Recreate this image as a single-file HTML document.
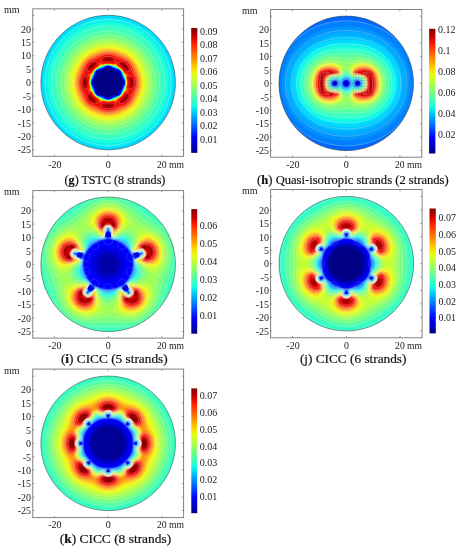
<!DOCTYPE html>
<html><head><meta charset="utf-8"><title>Figure</title>
<style>
html,body{margin:0;padding:0;background:#fff}
svg{display:block}
text{font-family:"Liberation Serif",serif;fill:#1a1a1a}
.t text{font-size:10px}
.cap{font-size:12px;fill:#111;stroke:#111;stroke-width:.18px}
</style></head><body>
<svg width="461" height="550" viewBox="0 0 461 550">
<defs><linearGradient id="jet" x1="0" y1="1" x2="0" y2="0">
<stop offset="0" stop-color="#000080"/>
<stop offset="0.0625" stop-color="#0000c8"/>
<stop offset="0.125" stop-color="#0000ff"/>
<stop offset="0.1875" stop-color="#0040ff"/>
<stop offset="0.25" stop-color="#0080ff"/>
<stop offset="0.3125" stop-color="#00c0ff"/>
<stop offset="0.375" stop-color="#16ffe1"/>
<stop offset="0.4375" stop-color="#49ffad"/>
<stop offset="0.5" stop-color="#7dff7a"/>
<stop offset="0.5625" stop-color="#b1ff46"/>
<stop offset="0.625" stop-color="#e4ff13"/>
<stop offset="0.6875" stop-color="#ffd000"/>
<stop offset="0.75" stop-color="#ff9400"/>
<stop offset="0.8125" stop-color="#ff5900"/>
<stop offset="0.875" stop-color="#ff1e00"/>
<stop offset="0.9375" stop-color="#c40000"/>
<stop offset="1" stop-color="#800000"/>
</linearGradient><filter id="bl" x="-5%" y="-5%" width="110%" height="110%"><feGaussianBlur stdDeviation="0.55"/></filter></defs>
<g id="pg">
<clipPath id="cg"><circle cx="108.17" cy="82.58" r="67.30"/></clipPath>
<g clip-path="url(#cg)">
<g filter="url(#bl)">
<rect x="37.9" y="12.3" width="140.6" height="140.6" fill="#000084"/>
<path fill="#000096" d="M38.7 152.4l139.3 0 0-139.6-139.6 0 0 139.6zM106.1 96l-3-1-2.2-1-1.6-1-1.2-1.1-1.3-2.1-1.4-3-0.8-2.9-0.1-2 0.6-2.6 1-2.6 1.3-2.5 1.4-1.6 2.1-1.4 3.1-1.4 2.8-0.8 2-0.1 2.6 0.6 2.6 1 2.6 1.3 1.6 1.4 1.4 2.1 1.3 3.1 0.9 2.8 0.1 2-0.6 2.6-1 2.6-1.4 2.6-1.4 1.6-1.5 1.1-2 1-3.7 1.3-2.1 0.3z"/>
<path fill="#0000a8" d="M38.7 152.4l139.3 0 0-139.6-139.6 0 0 139.6zM107.8 98.7l0.7 0-0.3 0.2zM106.4 96.7l-3-1-2.3-1-2.3-1.3-1-0.9-1.4-2.2-1.3-2.9-1-3.1-0.3-2.1 0.6-2.5 1-2.7 1.4-2.8 1.3-1.9 1.7-1.1 3.6-1.7 3.1-1 2-0.3 2.6 0.6 2.7 1 2.8 1.4 1.8 1.3 1.2 1.7 1.7 3.6 1 3.1 0.2 2-0.6 2.6-1.3 3.4-1.3 2.6-1.2 1.5-2.8 1.7-4.2 1.6-2.6 0.6zM96.7 94.3l-0.3-0.3 0-0.3 0.5 0.3 0.1 0.3zM119.3 94.3l0.2-0.3 0.4-0.3 0 0.3-0.3 0.4zM92.1 82.9l-0.2-0.3 0.2-0.4zM124.3 82.9l0-0.7 0.2 0.4zM96.4 71.2l0.4-0.4 0.2 0-0.2 0.5-0.4 0.1zM119.5 71.2l-0.2-0.4 0.3 0 0.4 0.4-0.1 0.2zM107.8 66.5l0.4-0.2 0.3 0.2z"/>
<path fill="#0000bb" d="M38.7 152.4l139.3 0 0-139.6-139.6 0 0 139.6zM107.7 99l-0.2-0.3 0.3-0.2 0.7 0 0.4 0.2-0.3 0.3zM107.3 97.3l-5.6-2-2.8-1.3-1.4-1-0.7-1.2-1.7-3.5-1.4-3.7-0.4-2 0.4-2 1.4-3.7 1.7-3.6 0.7-1.1 1.4-1 3.6-1.7 3.7-1.4 2-0.4 2 0.4 3.7 1.4 3.5 1.7 1.2 0.7 1 1.4 1.7 3.6 1.3 3.7 0.5 2-0.5 2-1.3 3.7-1.7 3.5-1 1.4-2.5 1.5-3.9 1.6-3.4 1.1zM96.6 94.3l-0.4-0.6 0.2-0.2 0.9 0.8-0.2 0.3zM119.1 94.3l0.5-0.6 0.3-0.2 0.3 0.2-0.6 0.7-0.3 0.2zM92 83.2l-0.3-0.2 0-0.4 0-0.5 0.4-0.2 0.2 0.7zM124.2 83.2l-0.2-0.6 0.3-0.7 0.3 0.2 0.1 0.5-0.1 0.4zM96.2 71.5l0.4-0.7 0.5-0.2 0.2 0.2-0.2 0.4-0.7 0.5zM119.6 71.5l-0.5-0.7 0.2-0.2 0.4 0.2 0.5 0.7-0.3 0.2zM107.5 66.5l0.2-0.4 0.5 0 0.4 0 0.3 0.4-0.7 0.2z"/>
<path fill="#0000cd" d="M38.7 152.4l139.3 0 0-139.6-139.6 0 0 139.6zM107.4 99l-0.3-0.3 0.5-0.7-0.7-0.3-8.8-3.7-0.4 0-0.3 0.7-0.3 0-0.7-0.5-0.4-0.5 0-0.4 0.8-0.2-0.2-0.8-3.5-8.5-0.4-0.6-0.6 0.4-0.4-0.3-0.1-0.7 0.1-0.8 0.4-0.3 0.6 0.5 0.4-0.7 3.5-8.5 0.2-0.7-0.8-0.3 0-0.3 0.4-0.6 0.7-0.5 0.3 0 0.3 0.8 0.4-0.1 8.8-3.6 0.7-0.4-0.5-0.6 0.3-0.4 0.8-0.1 0.7 0.1 0.3 0.4-0.4 0.6 0.6 0.4 8.5 3.5 0.8 0.2 0.2-0.8 0.4 0 0.5 0.4 0.5 0.7 0 0.3-0.7 0.3 0 0.4 3.7 8.8 0.3 0.7 0.7-0.5 0.3 0.3 0.1 0.8-0.1 0.7-0.3 0.3-0.7-0.4-0.3 0.6-3.7 8.8 0 0.5 0.7 0.2 0 0.4-0.5 0.6-0.5 0.4-0.4 0-0.2-0.7-0.8 0.2-8.5 3.5-0.6 0.3 0.4 0.7-0.3 0.3z"/>
<path fill="#0000df" d="M38.7 152.4l139.3 0 0-139.6-139.6 0 0 139.6zM107.2 99l-0.3-0.3-0.2-0.7-0.9-0.5-6.7-2.8-1-0.2-0.7 0.5-1-0.7-0.6-1 0.4-0.7-0.3-1.3-2.8-6.7-0.4-0.6-0.6-0.1-0.4-0.3-0.1-1 0.1-1 0.4-0.3 0.6-0.2 0.4-0.6 2.8-6.7 0.3-1.3-0.4-0.7 0.6-1 1-0.6 0.7 0.4 1.3-0.3 6.7-2.8 0.6-0.4 0.2-0.6 0.3-0.4 1-0.1 1 0.1 0.3 0.4 0.1 0.6 0.6 0.4 6.7 2.8 1.3 0.3 0.7-0.4 1 0.6 0.7 1-0.5 0.7 0.4 1.3 2.8 6.7 0.3 0.6 0.7 0.2 0.3 0.3 0.2 1-0.2 1-0.3 0.3-0.7 0.1-0.3 0.6-2.8 6.7-0.4 1.3 0.5 0.7-0.7 1-1 0.7-0.7-0.5-1 0.2-6.7 2.8-0.9 0.5-0.1 0.7-0.3 0.3-1 0.2z"/>
<path fill="#0000ed" d="M38.7 152.4l139.3 0 0-139.6-139.6 0 0 139.6zM106.9 99l-0.7-1-1-0.5-6.1-2.5-0.7-0.1-1 0.2-1.1-0.8-0.6-1 0.1-1.3-0.6-1.7-2.3-5.4-1.2-1.1-0.2-1.2 0.2-1.3 1.2-1.1 2.3-5.3 0.6-1.7-0.1-1.4 0.6-1 1.1-0.7 1 0.2 0.7-0.2 5.4-2.1 1.7-0.9 0.7-1 1.3-0.2 1.2 0.2 0.8 1 1.7 0.9 5.3 2.1 0.7 0.2 1-0.2 1.1 0.7 0.7 1-0.2 1.4 0.6 1.7 2.3 5.3 1.2 1.1 0.2 1.3-0.2 1.2-1 0.8-0.8 1.7-2.2 5.3-0.1 0.7 0.2 1-0.8 1.1-1 0.7-1-0.2-1 0.2-5.7 2.4-1 0.5-0.8 1-1.2 0.2z"/>
<path fill="#0000ff" d="M38.7 152.4l139.3 0 0-139.6-139.6 0 0 139.6zM106.7 99l-0.9-0.9-1-0.6-5.4-2.2-2-0.1-1.1-0.9-0.7-1-0.2-2-2.2-5.4-0.5-1-1-0.8-0.2-1.9 0.2-1.1 1-1 0.7-1.2 2-5.1 0.2-2 0.8-1.1 1-0.7 2-0.2 5.4-2.2 1-0.5 0.9-1 1.8-0.2 1.2 0.2 0.9 1 1.3 0.7 5 2 2 0.2 1.2 0.8 0.7 1 0.1 2 2.2 5.4 0.6 1 0.9 0.9 0.3 1.8-0.3 1.2-0.9 0.8-0.4 0.7-2.1 5-0.4 1.4 0 1.3-1.1 1.4-1.1 0.6-1-0.1-1 0.3-5.1 2-1 0.6-1 1-1.3 0.2z"/>
<path fill="#0000ff" d="M38.7 152.4l139.3 0 0-139.6-139.6 0 0 139.6zM108.1 99.4l-1.6-0.4-1.7-1.3-4.7-1.9-1-0.3-1.7-0.2-1.2-1-0.7-1-0.3-2-2-5-0.6-1-0.9-1-0.3-1.7 0.3-1.7 0.9-1 0.6-1 2-5.1 0.3-2 0.7-1 1.2-0.9 1.7-0.2 1-0.3 4.7-2 1.7-1.3 1.7-0.3 1.7 0.3 1 0.9 1 0.6 5 2 2 0.3 1 0.7 1 1.2 0.2 1.7 0.3 1 1.9 4.7 1.3 1.7 0.4 1.7-0.4 1.7-1.3 1.6-1.9 4.7-0.3 1-0.2 1.7-1 1.3-1 0.7-2 0.2-5 2.1-1 0.5-1 0.9z"/>
<path fill="#0010ff" d="M38.7 152.4l139.3 0 0-139.6-139.6 0 0 139.6zM107.4 99.4l-1.1-0.4-1.8-1.3-3.7-1.5-1.4-0.5-2-0.3-1.3-1.1-0.8-1.3-0.4-2-1.7-4.4-0.5-1-1-1.1-0.3-1.1 0-1.2 0.3-1.5 1.1-1.5 1.9-4.3 0.7-3.1 1-1.3 1.4-0.8 2-0.4 4.3-1.7 1.1-0.5 1.1-1 1.1-0.3 1.1 0 1.6 0.3 1.4 1.1 4.4 1.9 3 0.7 1.3 1 0.9 1.4 0.3 2 1.8 4.3 0.5 1.1 0.9 1.1 0.4 1.1 0 1.1-0.4 1.6-1.1 1.4-1.8 4.4-0.7 3-1.1 1.3-1.3 0.9-2 0.3-4.4 1.8-2.3 1.5-1.1 0.3z"/>
<path fill="#0024ff" d="M38.7 152.4l139.3 0 0-139.6-139.6 0 0 139.6zM107 99.4l-0.9-0.4-1.6-1.1-4-1.7-2.7-0.6-1.8-1.3-0.8-1.3-0.5-2.4-1.5-3.7-1.5-2.3-0.3-1-0.1-1.4 0.4-1.6 1.2-1.7 1.7-4 0.6-2.7 1.2-1.7 1.4-0.9 2.3-0.5 3.7-1.5 2.4-1.5 1-0.3 1.3-0.1 1.7 0.4 1.7 1.2 4 1.7 2.7 0.6 1.7 1.2 0.9 1.4 0.5 2.3 1.5 3.7 1.5 2.4 0.3 1 0 1.3-0.3 1.7-1.2 1.7-1.7 4-0.6 2.7-1.3 1.7-1.3 0.9-2.4 0.5-3.7 1.5-2.6 1.6-1.4 0.2z"/>
<path fill="#0038ff" d="M38.7 152.4l139.3 0 0-139.6-139.6 0 0 139.6zM106.6 99.4l-0.8-0.4-1.7-1.1-3.3-1.4-3-0.8-1.9-1.4-0.9-1.3-0.5-2.4-1.5-3.7-1.4-2.3-0.3-1-0.1-1.4 0.4-1.6 1.2-2.1 1.6-3.6 0.6-2.7 1.3-1.7 1.5-1.1 3-0.8 3.3-1.4 2.1-1.2 1-0.3 1.3-0.1 1.7 0.4 2 1.2 3.7 1.6 2.7 0.6 1.7 1.3 1 1.5 0.8 3 1.4 3.3 1.3 2.1 0.3 1 0 1.3-0.3 1.7-1.3 2-1.5 3.7-0.7 2.7-1.4 1.8-1.3 0.9-2.4 0.6-3.7 1.5-2.6 1.5-1.7 0.2z"/>
<path fill="#0050ff" d="M38.7 152.4l139.3 0 0-139.6-139.6 0 0 139.6zM106.3 99.4l-2.8-1.6-3.4-1.4-2.3-0.6-1-0.6-1-1-1-1.6-0.5-2-1.4-3.3-1.5-2.7-0.2-1.4 0-1.3 0.2-1.3 1.4-2.4 1.4-3.3 0.7-2.7 1.5-2 1.4-0.9 2.3-0.6 3.4-1.4 2.7-1.5 1.3-0.2 1.3 0 1.4 0.2 2.3 1.4 3.4 1.4 2.7 0.7 1.9 1.5 0.9 1.4 0.6 2.3 1.4 3.4 1.5 2.7 0.3 1.3 0 1.3-0.3 1.4-1.3 2.3-1.4 3.4-0.8 2.7-0.6 1-1 1-1.6 1-2 0.4-3.3 1.4-2.8 1.6-1.9 0.2z"/>
<path fill="#0068ff" d="M38.7 152.4l139.3 0 0-139.6-139.6 0 0 139.6zM106 99.4l-2.9-1.6-3-1.2-2.3-0.6-2.1-1.7-0.9-1.3-0.7-2.4-1.2-3-1.5-2.8-0.3-1.6 0-1.3 0.3-1.5 1.5-2.9 1.2-3 0.7-2.3 1.6-2 1.4-1 2.3-0.7 3-1.2 2.9-1.5 1.5-0.3 1.3 0 1.6 0.3 2.8 1.5 3 1.2 2.4 0.7 2 1.6 1 1.4 0.6 2.3 1.2 3 1.6 2.9 0.3 1.5 0 1.3-0.3 1.6-1.6 2.8-1.2 3-0.6 2.4-1 1.3-1 1-1.4 0.8-2 0.5-3.3 1.4-2.7 1.4-2 0.3z"/>
<path fill="#0080ff" d="M44.4 152.3l127.5 0.1 6-6.1 0.1-127.4-6.1-6.1-127.4 0-6.1 6 0 127.5zM107.1 99.7l-1.4-0.3-2.2-1.3-3-1.2-2.7-0.8-2-1.7-1.1-1.4-0.8-2.7-1.3-3-1.2-2.2-0.3-1.2-0.1-1.7 0.4-2.1 1.2-2.2 1.3-3 0.6-2.4 0.6-1 1-1.1 1.7-1.3 2.7-0.8 3-1.3 2.2-1.2 1.1-0.3 1.7-0.1 2.2 0.4 2.2 1.2 3 1.3 2.3 0.6 1.1 0.6 1.1 1 1.3 1.7 0.8 2.7 1.2 3 1.3 2.2 0.3 1.1 0.1 1.7-0.4 2.2-1.3 2.2-1.2 3-0.7 2.3-0.6 1.1-1.2 1.3-1.4 1.1-2.7 0.8-3 1.2-2.2 1.3-1.9 0.3z"/>
<path fill="#0094ff" d="M56.8 152.1l0.4 0.3 101.9 0 5.2-4 5-4.7 4.4-4.7 4-5.1 0.3-0.4 0-101.9-4-5.1-4.7-5-4.7-4.4-5.1-4.1-0.4-0.2-101.9 0-5.1 4-5 4.6-4.4 4.8-4.1 5-0.2 0.4 0 101.9 4 5.2 4.6 5 4.8 4.4zM106.6 99.7l-1.2-0.3-1.9-1.1-3-1.3-2.7-0.8-1-0.7-1.3-1.2-1.1-1.7-0.5-2-1.3-3-1.2-2.3-0.4-1.4-0.1-2 0.5-2 1.2-2.4 1.3-3 0.5-2 0.6-1 1.2-1.3 1.9-1.4 2-0.5 3-1.3 2.4-1.2 1.3-0.4 2-0.1 2.1 0.5 2.3 1.2 3 1.3 2 0.5 1.1 0.6 1.3 1.2 1.3 1.9 0.6 2 1.2 3 1.3 2.4 0.3 1.3 0.1 2-0.4 2.1-1.3 2.3-1.2 3-0.6 2-0.8 1.4-1.2 1.2-1.7 1.1-2.3 0.7-3 1.3-2.4 1.2-2 0.3z"/>
<path fill="#00acff" d="M69.2 152.1l0.6 0.3 76.7 0 4.6-2.8 4.7-3.2 4.4-3.5 4-3.7 3.7-3.9 3.6-4.4 3.3-4.7 2.9-4.7 0.3-0.6 0-76.7-2.8-4.6-3.2-4.7-3.5-4.3-3.7-4.1-3.9-3.7-4.4-3.5-4.7-3.4-4.7-2.8-0.6-0.3-76.7 0-4.6 2.7-4.7 3.3-4.3 3.5-4.1 3.7-3.7 3.9-3.5 4.3-3.4 4.7-2.8 4.7-0.3 0.6 0 76.7 2.7 4.6 3.3 4.7 3.5 4.4 3.7 4 3.9 3.7 4.3 3.6 4.7 3.3zM106.1 99.7l-5.6-2.6-2.7-0.8-1.3-1-1.1-1-1.1-1.7-0.7-2.3-1.3-3-1-2-0.4-1.4 0-2 0.4-2 1-2 1.3-3 0.7-2.4 0.6-1 1.2-1.4 2-1.4 2.4-0.7 3-1.3 2-1 1.3-0.4 2 0 2.1 0.4 2 1 3 1.3 2.3 0.7 1.1 0.6 1.3 1.2 1.4 2 0.7 2.4 1.3 3 1.1 2 0.3 1.3 0.1 2-0.4 2.1-1.1 2-1.3 3-0.7 2.3-0.8 1.4-1.3 1.3-1.7 1.1-2.3 0.7-5.4 2.5-2 0.3z"/>
<path fill="#00c4ff" d="M83.3 152.1l0.8 0.3 48.2 0 7.4-3.1 6.4-3.4 6-4 5.7-4.6 5.1-5.1 4.6-5.7 4-6 3.4-6.4 2.8-6.7 0.3-0.7 0-48.2-3.1-7.5-3.4-6.4-4-6-4.6-5.6-5.1-5.1-5.7-4.7-6-4-6.4-3.4-6.7-2.8-0.7-0.2-48.2 0-7.5 3-6.4 3.4-6 4-5.6 4.7-5.1 5.1-4.7 5.6-4 6-3.4 6.4-2.8 6.7-0.2 0.8 0 48.2 3 7.4 3.4 6.4 4 6 4.7 5.7 5.1 5.1 5.6 4.6 6 4 6.4 3.4zM105.8 99.7l-5.3-2.4-2.7-0.9-1.4-1-1.3-1.4-0.9-1.4-0.7-2.3-1.3-3-1-2-0.4-1.7 0-2 0.4-1.7 1-2 1.3-3 0.7-2.4 0.9-1.3 1.3-1.5 1.7-1.1 2.4-0.7 3-1.3 2-1 1.7-0.4 2 0 1.7 0.4 2 1 3 1.3 2.3 0.7 1.4 0.9 1.4 1.3 1.1 1.7 0.8 2.4 1.2 3 1.1 2 0.3 1.7 0 2-0.3 1.7-1.1 2-1.2 3-0.8 2.3-1.1 1.7-1.4 1.4-1.4 0.8-2.3 0.8-5.4 2.4-2.3 0.3z"/>
<path fill="#00dcfe" d="M106.2 151.4l6.7-0.2 6.7-0.7 6.7-1.5 6.4-2.1 6-2.6 6.1-3.4 5.6-4 5.1-4.3 4.5-4.7 4.2-5.4 3.7-5.7 3.1-6 2.5-6.4 1.8-6.4 1.2-6.7 0.5-6.7-0.2-6.7-0.7-6.7-1.5-6.7-2.1-6.4-2.6-6.1-3.4-6-4-5.6-4.3-5.1-4.7-4.5-5.4-4.3-5.7-3.6-6-3.1-6.4-2.5-6.4-1.8-6.7-1.2-6.7-0.5-6.7 0.1-6.7 0.8-6.7 1.5-6.4 2.1-6.1 2.6-6 3.4-5.6 3.9-5.1 4.4-4.5 4.7-4.3 5.3-3.6 5.7-3.1 6.1-2.5 6.4-1.8 6.3-1.2 6.7-0.5 6.8 0.1 6.7 0.8 6.7 1.5 6.7 2.1 6.4 2.6 6 3.4 6.1 3.9 5.6 4.4 5.1 4.7 4.5 5.3 4.2 5.7 3.7 6.1 3.1 6.4 2.5 6.3 1.8 6.7 1.2zM107.4 100l-1.9-0.3-5.2-2.4-2.2-0.7-1.3-0.8-1.3-1.1-1.4-2.1-1.9-5-1-2-0.4-1.7-0.1-1.7 0.4-2.3 2.3-5.2 0.7-2.2 0.9-1.3 1.1-1.3 2-1.4 5-1.9 2.1-1 1.6-0.4 1.7-0.1 2.4 0.4 5.1 2.3 2.2 0.7 1.4 0.9 1.2 1.1 1.4 2 1.9 5 1.1 2.1 0.4 1.6 0 1.7-0.3 2.4-2.4 5.1-0.7 2.2-0.8 1.4-1.1 1.2-2.1 1.4-2.2 0.7-5.1 2.4-1.7 0.3z"/>
<path fill="#09f0ee" d="M106.8 147l6.4-0.2 6.4-0.8 6-1.4 6.1-2 5.7-2.6 5.7-3.2 5-3.6 4.7-4.1 4.3-4.6 3.9-5 3.4-5.4 2.8-5.7 2.3-6 1.6-6.1 1.1-6 0.4-6.4-0.2-6.4-0.8-6.3-1.4-6.1-2-6-2.6-5.7-3.2-5.7-3.6-5.1-4.1-4.7-4.6-4.3-5-3.9-5.4-3.3-5.7-2.9-6-2.3-6.1-1.6-6-1-6.4-0.5-6.4 0.2-6.3 0.8-6.1 1.4-6 2.1-5.7 2.5-5.7 3.3-5.1 3.6-4.7 4.1-4.3 4.5-3.9 5.1-3.3 5.3-2.9 5.7-2.3 6.1-1.6 6-1 6.1-0.5 6.3 0.2 6.4 0.8 6.4 1.4 6 2.1 6.1 2.5 5.7 3.3 5.7 3.6 5 4.1 4.7 4.5 4.3 5.1 3.9 5.3 3.4 5.7 2.8 6.1 2.3 6 1.6 6.1 1.1zM106.6 100l-1.4-0.3-5.1-2.3-2-0.7-1.3-0.8-1.7-1.6-1.1-1.7-0.6-2-2.3-5.1-0.4-1.6-0.1-2 0.5-2.3 2.3-5.1 0.6-2 0.9-1.3 1.2-1.4 2-1.4 2-0.6 5.1-2.3 1.6-0.4 2-0.1 2.3 0.5 5.1 2.3 2 0.6 1.4 0.9 1.3 1.2 1.4 2 0.7 2 2.3 5.1 0.4 1.6 0 2-0.4 2.3-2.3 5.1-0.7 2-0.8 1.4-1.6 1.6-1.7 1.1-2 0.7-5.3 2.4-2.1 0.3z"/>
<path fill="#1cffdb" d="M103.5 143l6 0.2 5.7-0.4 6.1-1.1 5.7-1.5 5.3-2.1 5.4-2.6 5-3.1 5-3.8 4.2-4.1 3.9-4.5 3.5-4.9 2.9-5 2.4-5.4 1.9-5.7 1.3-5.7 0.8-6 0.2-6.1-0.4-5.7-1.1-6-1.5-5.7-2.1-5.4-2.6-5.4-3.1-5-3.8-4.9-4.1-4.3-4.5-3.9-4.9-3.4-5-2.9-5.4-2.4-5.7-2-5.7-1.3-6-0.7-6.1-0.2-5.7 0.4-6 1-5.7 1.6-5.4 2-5.4 2.7-5 3.1-4.9 3.8-4.3 4-3.9 4.5-3.4 4.9-2.9 5.1-2.4 5.3-2 5.7-1.3 5.7-0.7 6.1-0.2 6 0.4 5.7 1 6.1 1.6 5.7 2 5.3 2.7 5.4 3.1 5 3.8 5 4 4.2 4.5 3.9 4.9 3.5 5.1 2.9 5.3 2.4 5.7 1.9 5.7 1.3zM106.1 100l-4.6-1.8-1.4-0.7-2-0.7-1.3-0.8-1.8-1.7-1.1-1.7-0.6-2-2.3-5-0.4-1.7 0-2.3 0.4-2 2.3-5.1 0.6-2 0.9-1.3 1.3-1.5 2-1.4 2-0.6 5.1-2.3 1.6-0.4 2.4 0 2 0.4 5 2.3 2 0.6 1.4 0.9 1.4 1.3 1.4 2 0.7 2 2.3 5.1 0.3 1.6 0.1 2.4-0.4 2-2.3 5-0.7 2-0.8 1.4-1.7 1.7-1.7 1.1-2 0.7-5.3 2.4-2.4 0.3z"/>
<path fill="#30ffc7" d="M104.5 139.6l5.7 0.1 5.4-0.4 5.7-1.1 5.3-1.5 5.1-2 5-2.6 4.7-3 4.5-3.6 4.2-4 3.6-4.4 3.2-4.7 2.6-4.7 2.2-5 1.7-5.4 1.2-5.3 0.6-5.7 0.1-5.7-0.4-5.4-1.1-5.7-1.5-5.4-2-5-2.6-5.1-3-4.7-3.6-4.5-4-4.1-4.4-3.7-4.7-3.2-4.7-2.6-5-2.1-5.4-1.8-5.3-1.1-5.7-0.7-5.7-0.1-5.4 0.5-5.7 1-5.4 1.6-5 1.9-5.1 2.6-4.7 3-4.5 3.6-4.1 4-3.7 4.4-3.2 4.7-2.6 4.7-2.1 5-1.8 5.4-1.1 5.4-0.7 5.7-0.1 5.7 0.5 5.4 1 5.7 1.6 5.3 1.9 5.1 2.6 5 3 4.7 3.6 4.5 4 4.2 4.4 3.6 4.7 3.2 4.7 2.6 5 2.2 5.4 1.7 5.4 1.2zM105.8 100l-8-3.2-1.7-1.3-1.4-1.5-0.9-1.4-0.7-2-0.7-1.3-0.6-2-0.9-1.7-0.4-2 0-2.4 0.4-1.6 0.9-1.7 0.6-2 0.7-1.4 0.7-2 1.1-1.7 1.5-1.5 1.7-1.1 2-0.7 1.4-0.7 2-0.6 1.7-0.9 2-0.4 2.3 0 1.7 0.4 1.7 0.9 2 0.6 1.3 0.7 2 0.7 1.7 1.1 1.5 1.5 1.1 1.7 0.7 2 0.8 1.4 0.6 2 0.9 1.7 0.3 2 0 2.3-0.3 1.7-0.9 1.7-0.6 2-0.8 1.3-0.7 2-1.1 1.7-1.8 1.8-1.4 0.8-2 0.7-1.3 0.8-1.7 0.5-2.3 1.1-2.4 0.3z"/>
<path fill="#40ffb7" d="M105.2 136.6l5 0.1 5.4-0.5 5.3-1 5.1-1.5 5-2.1 4.7-2.4 4.4-2.9 4.2-3.5 3.8-3.6 3.3-4.1 3-4.3 2.5-4.7 2.2-5.1 1.5-5 1.1-5 0.5-5.4 0.1-5-0.5-5.4-1-5.4-1.5-5-2.1-5-2.4-4.7-2.9-4.4-3.5-4.3-3.6-3.7-4.1-3.4-4.3-2.9-4.7-2.6-5.1-2.1-5-1.6-5-1-5.4-0.6-5 0-5.4 0.4-5.4 1.1-5 1.5-5 2-4.7 2.5-4.4 2.8-4.3 3.5-3.7 3.7-3.4 4-2.9 4.4-2.6 4.7-2.1 5-1.6 5.1-1 5-0.6 5.4 0 5 0.4 5.4 1.1 5.3 1.5 5.1 2 5 2.5 4.7 2.8 4.4 3.5 4.2 3.7 3.8 4 3.3 4.4 3 4.7 2.5 5 2.2 5.1 1.5 5 1.1zM105.4 100l-2.3-1-1.6-0.5-1.5-0.8-2.2-0.8-1.7-1.3-1.5-1.6-0.9-1.4-0.6-1.9-0.9-1.4-0.4-1.7-1-2-0.4-2 0.1-2.7 0.4-1.7 0.7-1.3 0.5-1.7 1-1.8 0.6-1.9 1.1-1.7 1.6-1.6 1.7-1.1 1.9-0.6 1.5-0.9 1.6-0.4 2.1-1 2-0.4 2.7 0.1 1.6 0.4 1.4 0.7 1.7 0.5 1.7 1 1.9 0.6 1.7 1.1 1.6 1.6 1.1 1.7 0.7 1.9 0.8 1.5 0.5 1.6 0.9 2.1 0.4 2-0.1 2.7-0.3 1.3-0.9 2-0.3 1.4-1 1.7-0.8 2.3-1.3 1.7-1.6 1.5-1.4 0.8-1.9 0.7-1.4 0.8-1.7 0.5-2.3 1-2.7 0.3z"/>
<path fill="#53ffa4" d="M106.2 133.9l5 0 5-0.6 5.1-1 4.7-1.5 4.7-2 4.3-2.4 4.2-2.9 3.9-3.2 3.4-3.5 3.2-4 2.9-4.4 2.2-4.3 1.9-4.7 1.4-4.7 1-5.1 0.4-5 0-5-0.6-5.1-1-5-1.5-4.7-2-4.7-2.4-4.4-2.9-4.2-3.2-3.8-3.5-3.5-4-3.2-4.4-2.8-4.3-2.3-4.7-1.9-4.7-1.4-5.1-0.9-5-0.5-5 0.1-5.1 0.5-5 1.1-4.7 1.5-4.7 2-4.4 2.4-4.2 2.8-3.8 3.3-3.5 3.4-3.2 4.1-2.8 4.3-2.3 4.4-1.9 4.7-1.4 4.7-0.9 5-0.5 5.1 0.1 5 0.5 5 1.1 5.1 1.5 4.7 2 4.7 2.4 4.3 2.8 4.2 3.3 3.9 3.4 3.4 4.1 3.2 4.3 2.9 4.4 2.2 4.7 1.9 4.7 1.4 5 1zM106.9 100.4l-1.7-0.4-2.1-0.9-1.6-0.4-1.7-1-1.7-0.6-1.3-0.8-1.8-1.6-1.2-1.7-0.7-2-1-1.7-0.4-1.7-1.1-2.3-0.3-3.4 0.4-2.3 1-2.1 0.4-1.6 1-1.7 0.9-2.4 2-2.3 1.8-1.3 2-0.7 1.7-1 1.6-0.4 2.4-1.1 3.3-0.3 2.4 0.4 2 1 1.7 0.4 1.7 1 2.3 0.9 2.4 2 1.3 1.8 0.7 2 1 1.7 0.4 1.6 1 2.4 0.3 3.3-0.4 2.4-0.9 2-0.4 1.7-1 1.7-0.9 2.3-2.1 2.4-2.1 1.4-1.6 0.6-1.7 1-1.7 0.4-2 0.9-2 0.4z"/>
<path fill="#66ff90" d="M103.5 131.3l5 0.2 4.7-0.3 4.7-0.7 4.7-1.2 4.7-1.7 4.4-2.1 4-2.5 3.8-2.8 3.6-3.4 3-3.3 2.9-4.1 2.4-4 2-4.4 1.7-4.7 1.1-4.7 0.7-4.7 0.2-5-0.3-4.7-0.8-4.7-1.2-4.7-1.6-4.4-2.1-4.3-2.5-4-3-4.1-3.2-3.4-3.7-3.2-4-2.9-4-2.3-4.4-2-4.4-1.5-4.7-1.2-4.7-0.6-5-0.2-4.7 0.3-4.7 0.7-4.7 1.3-4.4 1.6-4.3 2.1-4 2.5-4.1 3-3.4 3.1-3.2 3.7-2.9 4.1-2.3 4-2 4.4-1.5 4.3-1.2 4.7-0.6 4.7-0.2 4.7 0.2 4.7 0.8 4.7 1.2 4.7 1.7 4.7 2.1 4.4 2.5 4 2.8 3.8 3.3 3.6 3.4 3 4 2.9 4.1 2.4 4.3 2 4.4 1.6 4.7 1.2zM106.2 100.4l-1.4-0.4-1.7-0.8-1.6-0.3-1.7-1.1-2-0.7-1.7-1.3-1.5-1.5-0.9-1.3-0.8-2-1-1.7-0.4-1.7-0.9-2-0.3-2 0-2.4 0.3-1.6 0.9-2.1 0.4-1.6 1-1.7 0.6-1.7 1.1-1.7 1.8-1.8 1.4-0.9 2-0.8 1.7-1 1.6-0.4 2.1-0.9 2-0.3 2.3 0 1.7 0.3 2 0.9 1.7 0.4 1.7 1 1.6 0.6 1.7 1.1 1.8 1.8 1 1.4 0.7 2 1.1 1.7 0.3 1.6 0.9 2.1 0.4 2-0.1 2.3-0.3 1.7-0.9 2-0.3 1.7-1.1 1.7-0.6 1.6-1.1 1.7-1.8 1.8-1.3 1-2 0.7-1.7 1.1-1.7 0.3-2 0.9-2.4 0.4z"/>
<path fill="#7aff7d" d="M107.2 129.2l4.7-0.1 4.3-0.6 4.4-1 4.4-1.4 4-1.8 4-2.2 4-2.9 3.4-2.9 3.1-3.2 2.8-3.7 2.5-4 2.1-4 1.6-4.4 1.2-4.4 0.8-4.7 0.3-4.3-0.1-4.7-0.6-4.4-1-4.3-1.4-4.4-1.8-4-2.2-4.1-2.9-4-2.9-3.3-3.2-3.1-3.7-2.9-4-2.5-4-2-4.4-1.7-4.4-1.2-4.7-0.8-4.3-0.3-4.7 0.2-4.4 0.5-4.3 1-4.4 1.5-4 1.7-4.1 2.3-4 2.8-3.3 2.9-3.1 3.2-2.9 3.7-2.5 4.1-2 4-1.7 4.3-1.2 4.4-0.8 4.7-0.3 4.4 0.2 4.7 0.5 4.3 1 4.4 1.5 4.4 1.7 4 2.3 4 2.8 4 2.9 3.4 3.2 3.1 3.7 2.8 4.1 2.5 4 2.1 4.3 1.6 4.4 1.2 4.7 0.8zM105.7 100.4l-2.6-1.1-1.6-0.3-1.7-1.1-2-0.7-1.7-1.3-1.8-1.9-0.9-1.4-0.6-1.6-1.1-1.7-0.3-1.7-0.9-2-0.3-2.4 0.1-2.3 0.3-1.7 0.8-1.7 0.3-1.6 1.1-1.7 0.6-1.7 1.1-1.7 1.9-1.9 1.4-0.9 2-0.8 1.3-0.9 2-0.5 2.1-0.9 2.3-0.3 2.4 0.1 1.6 0.3 1.7 0.8 1.7 0.3 1.7 1.1 1.6 0.6 1.7 1.1 1.9 1.9 1 1.4 0.7 2 1 1.3 0.4 2 0.9 2.1 0.4 2.3-0.1 2.4-0.4 1.6-0.8 1.7-0.3 1.7-1.1 1.7-0.7 2-1.3 1.7-1.9 1.8-1.4 0.8-1.6 0.6-1.7 1.1-1.7 0.3-2 0.9-2.7 0.4z"/>
<path fill="#8aff6d" d="M103.1 126.9l4.4 0.3 4.4-0.2 4.3-0.6 4.4-1 4.4-1.5 4-1.9 3.7-2.2 3.7-2.6 3.3-3.1 2.8-3 2.5-3.4 2.2-3.6 2-4.1 1.5-4 1.1-4.4 0.7-4.3 0.3-4.4-0.2-4.4-0.6-4.3-1-4-1.5-4.4-1.9-4-2.2-3.7-2.6-3.7-3.1-3.4-3-2.7-3.4-2.5-3.6-2.3-4.1-1.9-4-1.5-4.4-1.2-4.3-0.7-4.4-0.2-4.4 0.1-4.3 0.7-4 1-4.4 1.5-4 1.9-3.7 2.1-3.7 2.7-3.4 3-2.7 3-2.5 3.4-2.3 3.7-1.9 4-1.5 4.1-1.2 4.3-0.7 4.4-0.2 4.3 0.1 4.4 0.7 4.4 1 4 1.5 4.4 1.9 4 2.1 3.7 2.7 3.7 3 3.3 3 2.8 3.4 2.5 3.7 2.2 4 2 4.1 1.5 4 1.1zM105.4 100.4l-2.3-0.9-1.6-0.3-1.8-1.2-1.9-0.7-1.7-1.3-1.9-2-0.9-1.4-0.6-1.6-1-1.4-0.4-2-0.9-2-0.3-2.4 0.1-2.6 0.3-1.4 0.8-1.7 0.3-1.6 1.1-1.8 0.8-1.9 1.3-1.7 2-1.9 1.3-0.9 1.7-0.6 1.3-1 2-0.4 2.1-0.9 2.3-0.3 2.7 0.1 1.3 0.3 1.7 0.8 1.7 0.3 1.8 1.1 1.9 0.8 1.7 1.3 1.9 2 0.8 1.3 0.7 1.7 0.9 1.3 0.5 2 0.8 2.1 0.3 2.3-0.1 2.7-0.3 1.3-0.7 1.7-0.3 1.7-1.2 1.8-0.7 1.9-1.3 1.7-2 1.9-1.4 0.8-1.6 0.7-1.4 0.9-2 0.5-2 0.8-3 0.4z"/>
<path fill="#9dff5a" d="M105.2 125.2l4 0.1 4.3-0.3 4.1-0.8 4-1.1 4-1.6 3.7-1.8 3.7-2.4 3.4-2.6 3-2.9 2.6-3 2.3-3.4 2-3.7 1.8-4 1.3-4 0.9-4.1 0.5-4.3 0.1-4.1-0.4-4.3-0.7-4.1-1.2-4-1.6-4-2.1-4-2.2-3.4-2.6-3.3-3.1-3.1-3-2.5-3.3-2.2-3.7-2-4.1-1.8-4-1.2-4-0.9-4-0.5-4.1-0.1-4.3 0.4-4.1 0.8-4 1.2-4 1.6-4 2.1-3.4 2.2-3.3 2.6-3.1 3-2.5 3-2.2 3.4-2 3.7-1.8 4-1.2 4-0.9 4.1-0.5 4-0.1 4 0.4 4.4 0.8 4 1.2 4 1.6 4.1 1.9 3.7 2.1 3.3 2.6 3.4 3 3 3 2.6 3.4 2.3 3.6 2 4.1 1.8 4 1.3 4 0.9zM107.2 100.7l-2-0.3-2.1-0.8-2-0.4-1.3-1-2.7-1.3-2.2-1.9-1.3-1.7-0.9-2-1.3-2-0.2-1.7-1-2.7-0.2-3 0.3-2 0.9-2.4 0.3-2 1-1.3 1.3-2.7 2-2.2 1.6-1.3 2-0.9 2.1-1.3 1.6-0.2 2.7-1 3-0.2 2.1 0.3 2.3 0.9 2 0.3 1.4 1 2.7 1.3 2.1 2 1.4 1.6 0.8 2 1.3 2.1 0.3 1.6 0.9 2.7 0.2 3-0.2 2.1-0.9 2.3-0.4 2-1 1.4-1.3 2.7-1.9 2.1-1.7 1.4-2 0.8-2 1.3-1.7 0.3-2.7 0.9z"/>
<path fill="#b1ff46" d="M105.8 123.5l3.7 0.1 4-0.4 4.1-0.7 4-1.2 4-1.7 3.7-1.9 3.4-2.2 3-2.5 2.7-2.7 2.4-2.9 2.3-3.3 1.9-3.7 1.6-3.7 1.3-4.1 0.8-4 0.5-4 0-4-0.5-4.1-0.8-4-1.2-3.7-1.5-3.7-1.9-3.7-2.2-3.3-2.5-3-2.7-2.7-2.9-2.5-3.3-2.2-3.7-2-3.7-1.6-4.1-1.2-4-0.9-4-0.4-4 0-4.1 0.4-4 0.9-3.7 1.1-3.7 1.5-3.7 2-3.3 2.2-3 2.4-2.7 2.7-2.5 2.9-2.2 3.4-2 3.7-1.6 3.7-1.2 4-0.9 4-0.4 4.1 0 4 0.4 4 0.9 4 1.1 3.7 1.5 3.7 2 3.7 2.2 3.4 2.4 3 2.7 2.7 2.9 2.4 3.4 2.3 3.7 1.9 3.7 1.6 4 1.3 3.7 0.8zM106.3 100.7l-1.5-0.3-1.7-0.7-2-0.3-1.3-1.1-1.7-0.7-1.3-0.8-2.6-2.5-0.9-1.3-0.7-1.7-1.1-1.3-0.3-0.7-0.1-1.7-1-2.7-0.1-3.7 0.4-2 0.7-1.7 0.3-2 1.2-1.7 1.1-2.3 2.4-2.6 1.3-1 2-0.9 1.4-1.1 0.7-0.3 1.6-0.1 2.7-1 3.7-0.1 2 0.4 1.7 0.7 2 0.3 1.7 1.2 2.4 1.1 2.5 2.4 1.1 1.3 0.9 2 1 1.4 0.3 0.7 0.2 1.6 0.9 2.7 0.2 3.7-0.4 2-0.7 1.7-0.3 2-1.1 1.4-0.7 1.6-0.8 1.4-2.5 2.5-1.3 1-1.7 0.7-1.3 1-0.7 0.3-1.7 0.2-1.7 0.7-1.3 0.3-2 0.1z"/>
<path fill="#c4ff33" d="M104.8 121.9l3.7 0.1 3.7-0.2 4-0.7 3.7-1 4-1.5 3.7-1.8 3.4-2.1 3-2.3 2.7-2.6 2.4-2.7 2.1-3 2.1-3.7 1.6-3.7 1.3-4.1 0.9-3.6 0.4-3.7 0.1-3.7-0.3-3.7-0.7-3.7-1.1-4-1.5-3.7-1.8-3.7-2.1-3.4-2.4-3-2.6-2.7-2.8-2.3-3-2-3.3-1.9-3.7-1.6-4.1-1.4-3.6-0.8-3.7-0.5-3.7-0.1-3.7 0.3-3.7 0.7-4 1.2-3.7 1.4-3.7 1.9-3.4 2.1-3 2.3-2.7 2.7-2.3 2.7-2 3-1.9 3.4-1.6 3.7-1.4 4-0.8 3.7-0.5 3.7-0.1 3.7 0.3 3.7 0.7 3.7 1 3.7 1.5 3.6 1.8 3.7 2.1 3.4 2.3 3 2.5 2.7 2.8 2.4 3 2.1 3.4 1.9 3.6 1.7 3.7 1.2 3.7 0.9zM105.7 100.7l-2.6-0.9-1.3-0.1-1-0.3-1.2-1.1-1.5-0.6-1.3-0.8-2.7-2.6-0.9-1.3-0.8-1.8-1-1.2-0.3-0.7-0.2-1.7-0.6-1.7-0.3-1.3-0.1-3.7 0.4-1.7 0.6-1.7 0.1-1.3 0.4-1 1-1.2 0.6-1.5 0.9-1.3 2.5-2.7 1.4-0.9 1.8-0.8 1.1-1 0.8-0.3 1.6-0.2 1.7-0.6 1.4-0.3 3.7-0.1 1.6 0.4 1.7 0.6 1.4 0.1 1 0.4 1.2 1 1.4 0.6 1.4 0.9 2.6 2.5 1 1.4 0.7 1.8 1.1 1.1 0.3 0.8 0.1 1.6 0.7 1.7 0.3 1.4 0 3.7-0.3 1.6-0.7 1.7-0.1 1.4-0.3 1-1.1 1.2-0.6 1.4-0.8 1.4-1.2 1.4-1.7 1.5-1.4 0.8-1.3 0.6-1.3 1.1-0.7 0.3-1.7 0.1-1.7 0.7-1.6 0.3-2.1 0.1z"/>
<path fill="#d4ff23" d="M106.2 120.5l3.3 0 3.7-0.3 3.7-0.8 3.7-1.1 4-1.7 3.4-1.7 3.1-2.1 2.9-2.4 2.6-2.7 2.1-2.6 2-3.1 1.7-3.3 1.5-3.7 1.1-3.7 0.8-3.7 0.3-3.3 0-3.4-0.4-3.7-0.7-3.7-1.2-3.7-1.6-3.7-1.7-3.3-2.1-3.2-2.4-2.9-2.7-2.6-2.6-2.1-3.1-1.9-3.3-1.8-3.7-1.5-3.7-1.1-3.7-0.7-3.3-0.4-3.4 0-3.7 0.4-3.7 0.8-3.7 1.2-3.7 1.5-3.3 1.8-3.2 2.1-2.9 2.3-2.6 2.7-2.1 2.7-1.9 3-1.8 3.4-1.5 3.7-1.1 3.6-0.7 3.7-0.4 3.4 0 3.4 0.4 3.6 0.8 3.7 1.2 3.7 1.5 3.7 1.8 3.4 2.1 3.1 2.3 2.9 2.4 2.3 2.7 2.2 3 2 3.3 1.7 3.7 1.6 3.7 1.2 3.4 0.7zM105.2 100.7l-2.1-0.8-1.3 0-1-0.3-1.4-1.2-1.6-0.7-1.4-1-2.6-2.7-0.9-1.4-0.5-1.2-1-1.1-0.5-1-0.1-1.7-0.6-1.7-0.3-1.3 0-4 0.3-1.4 0.6-1.7 0-1.3 0.4-1 1.1-1.4 0.6-1.3 0.9-1.3 2.6-2.8 1.4-0.9 1.5-0.7 1.2-1 1-0.5 1.6-0.1 1.7-0.6 1.4-0.3 4 0 1.3 0.3 1.7 0.6 1.4 0 1 0.4 1.3 1.1 1.3 0.6 1.4 0.9 2.7 2.6 1 1.4 0.6 1.5 1.1 1.2 0.5 1 0 1.6 0.7 1.7 0.3 1.4 0 4-0.3 1.3-0.7 1.7 0 1.4-0.3 1-1.2 1.3-0.7 1.7-1 1.3-2.7 2.7-1.4 0.8-1.2 0.5-1.1 1.1-1 0.5-1.7 0-1.7 0.7-2 0.3-2.3 0.1z"/>
<path fill="#e7ff0f" d="M106.5 119.2l3.4 0 3.3-0.4 3.4-0.7 3.7-1.1 3.6-1.6 3.4-1.7 3-2 2.8-2.3 2.3-2.3 2.1-2.7 2-3 1.7-3.4 1.4-3.3 1.1-3.7 0.8-3.7 0.3-3.4-0.1-3.7-0.4-3.3-0.8-3.4-1.2-3.7-1.6-3.7-1.8-3.3-1.9-2.7-2.2-2.7-2.5-2.3-2.6-2.1-2.7-1.7-3.4-1.7-3.3-1.4-3.7-1.2-3.7-0.7-3.4-0.3-3.7 0-3.3 0.4-3.4 0.8-3.7 1.2-3.7 1.6-3.3 1.9-2.7 1.8-2.7 2.2-2.3 2.5-2.1 2.6-1.7 2.8-1.7 3.3-1.4 3.4-1.2 3.7-0.7 3.7-0.3 3.3 0 3.4 0.4 3.3 0.7 3.4 1.2 3.7 1.4 3.3 1.8 3.4 2 3 2.2 2.8 2.4 2.3 2.7 2.1 3 2 3 1.5 3.7 1.6 3.3 1 3.4 0.8zM107.1 101l-2.2-0.3-1.8-0.6-1.3 0-1-0.3-1.4-1.2-2.8-1.6-2.1-2-1.3-1.7-1-2-1-1-0.4-0.7-0.1-2-0.6-1.7-0.3-1.3-0.1-3 0.4-2.3 0.6-1.8 0-1.3 0.3-1 1.2-1.4 1.5-2.8 2.1-2.1 1.6-1.3 2-1 1.1-1 0.6-0.4 2-0.1 1.7-0.6 1.4-0.3 3-0.1 2.3 0.4 1.7 0.6 1.4 0 1 0.3 1.3 1.2 2.8 1.5 2.2 2.1 1.3 1.6 1 2 1 1.1 0.3 0.6 0.2 2 0.6 1.7 0.3 1.4 0 3-0.3 2.3-0.6 1.7 0 1.4-0.3 1-1.2 1.3-1.6 2.8-2 2.2-1.7 1.3-2 1-1 1-0.7 0.3-2 0.2-1.7 0.6-1.3 0.3z"/>
<path fill="#fbf100" d="M105.5 117.8l3 0.2 3.4-0.3 3.3-0.6 3.4-0.9 3.7-1.5 3.7-1.7 3-1.9 2.7-2.1 2.3-2.2 2-2.4 1.8-2.7 1.8-3.4 1.6-3.6 1.1-3.4 0.8-3.4 0.4-3.3 0.1-3-0.4-3.4-0.6-3.3-1.1-3.4-1.5-3.7-1.6-3.3-1.9-3.1-2.2-2.7-2.3-2.3-2.3-1.9-2.7-1.7-3.1-1.6-3.6-1.6-3.4-1.1-3.4-0.8-3.3-0.5-3 0-3.4 0.3-3.3 0.7-3.4 1-3.7 1.5-3.3 1.7-3.1 1.9-2.7 2.1-2.3 2.3-1.9 2.4-1.7 2.7-1.6 3-1.6 3.7-1.1 3.3-0.8 3.4-0.5 3.4 0 3 0.3 3.3 0.6 3.1 1 3.3 1.5 3.7 1.6 3.4 1.9 3 2 2.7 2 2 2.3 2 2.7 1.9 3 1.7 3.7 1.6 3.4 1.2 3.3 0.8zM106.1 101l-3-0.8-1.3 0.1-1-0.3-1.7-1.5-2.2-1.2-2.8-2.6-1-1.4-1-1.9-1.2-1.1-0.4-1 0.1-1.7-0.8-2.3-0.2-2.4 0.2-3 0.8-2.4-0.1-1.6 0.4-1 1.2-1.1 1-2 1.7-2.1 1.7-1.6 1.3-0.8 1.3-0.7 1.7-1.5 1-0.2 1.3 0.1 2.4-0.8 2.3-0.2 3.1 0.2 2.3 0.8 1.7-0.1 1 0.4 1.1 1.2 1.9 1 2.1 1.7 1.6 1.7 0.9 1.3 0.6 1.3 1.5 1.7 0.3 1-0.1 1.3 0.7 2.4 0.2 2.3-0.2 3.1-0.7 2.3 0 1.7-0.4 1-1.1 1.1-1 1.9-1.7 2.1-1.7 1.6-1.3 0.9-1.4 0.6-1.6 1.5-1 0.3-1.4-0.1-3 0.8z"/>
<path fill="#ffde00" d="M106.2 116.8l3 0.1 3-0.3 3.4-0.7 3.3-1.1 4-1.6 3.4-1.7 3-2 2.4-1.9 2.1-2.2 1.8-2.4 1.9-3 1.3-2.7 1.6-4 1.1-3.3 0.7-3.4 0.3-3 0-2.4-0.4-3-0.6-3-1.3-4-1.4-3.4-1.7-3.3-2-3.1-2.1-2.5-2.3-2.2-2.4-1.8-2.7-1.6-2.7-1.3-4-1.7-3.3-1-3.4-0.7-3-0.3-2.4 0-3 0.3-3 0.7-4 1.3-3.4 1.4-3.3 1.7-3.1 1.9-2.5 2.1-2.2 2.4-1.8 2.3-1.6 2.7-1.3 2.7-1.7 4-1 3.4-0.7 3.3-0.3 3.1 0 2.3 0.3 3 0.7 3.1 1.3 4 1.4 3.3 1.7 3.4 1.9 3 2 2.4 1.8 1.8 2 1.6 3.1 2 2.6 1.4 3.1 1.3 4 1.4 3.3 0.8zM105.5 101l-2.4-0.7-1.6 0.1-1-0.4-1.3-1.3-2.4-1.4-1.7-1.4-1.7-1.9-1.3-2.4-1.4-1.3-0.4-1 0.1-1.7-0.7-2.3-0.2-2.4 0.2-3 0.7-2.4 0-2 0.6-1 1.1-1 1.3-2.3 1.5-1.7 1.9-1.7 2.4-1.3 0.9-1.1 0.7-0.4 0.7-0.3 1.6 0.1 2.4-0.7 2.3-0.2 3 0.2 2.4 0.7 2 0 1 0.6 1 1.1 2.4 1.3 1.7 1.5 1.6 1.9 1.4 2.4 1.1 0.9 0.4 0.7 0.2 0.7-0.1 1.6 0.7 2.4 0.2 2.3-0.2 3-0.7 2.4 0 2-0.5 1-1.1 1-1.4 2.4-1.3 1.5-2 1.8-2.4 1.4-1.3 1.3-1 0.4-1.7-0.1-2.3 0.7-1 0.2-2.1 0z"/>
<path fill="#ffc800" d="M107.2 116.1l3 0 3-0.4 3-0.8 3.4-1.2 3.7-1.5 3-1.6 2.7-1.8 2.5-2.1 1.9-2 1.8-2.3 1.6-2.7 1.6-3.4 1.4-3.7 1.1-3.3 0.6-3 0.3-3.1-0.1-3-0.5-3-0.8-3-1.2-3.4-1.6-3.7-1.6-3-1.8-2.7-1.9-2.1-2-1.9-2.3-1.8-2.7-1.6-3.4-1.6-3.7-1.5-3.3-1-3-0.6-3.1-0.3-3 0.1-3 0.5-3 0.7-3.4 1.2-3.7 1.6-3 1.6-2.7 1.9-2.1 1.8-1.9 2-1.8 2.4-1.6 2.7-1.6 3.3-1.5 3.7-1 3.4-0.6 3-0.3 3 0.1 3 0.5 3 0.7 3.1 1.2 3.3 1.6 3.7 1.6 3 1.9 2.7 1.8 2.2 2 1.9 2.4 1.8 2.7 1.6 3 1.4 3.7 1.5 3.3 1.1 3 0.6zM105.1 101l-2-0.6-1.6 0.1-1-0.3-1.4-1.4-2.3-1.4-1.7-1.4-1.8-2-1.3-2.4-1.5-1.3-0.3-1 0.1-1.7-0.7-2.3-0.2-2.4 0.2-3 0.7-2.4 0-2 0.5-1 1.3-1.1 1.2-2.2 1.5-1.7 2-1.8 2.2-1.2 1.1-1.3 0.7-0.4 0.7-0.2 1.6 0.1 2.4-0.7 2.7-0.2 2.7 0.2 2.3 0.7 2 0 1 0.5 1.2 1.3 2.2 1.2 1.7 1.5 1.7 2 1.3 2.2 1.2 1.1 0.5 0.7 0.1 0.7-0.1 1.6 0.7 2.4 0.2 2.7-0.2 2.7-0.7 2.3 0.1 2-0.6 1-1.2 1.2-1.3 2.2-1.4 1.7-2 1.7-2.4 1.4-1.3 1.4-1 0.3-1.7-0.1-2 0.6-1.7 0.3-2.3 0z"/>
<path fill="#ffb200" d="M104.5 115.2l2.7 0.2 3 0 3-0.5 3-0.8 4.4-1.6 4-1.8 3-1.8 2.4-1.7 1.9-1.8 1.7-2 1.6-2.4 1.4-2.7 1.8-4 1.3-3.7 0.8-3 0.5-3 0-3-0.2-2.7-0.6-2.7-0.9-3-1.8-4.4-1.6-3.3-1.6-2.7-1.8-2.4-1.8-1.8-2.1-1.7-2.3-1.5-2.7-1.4-4-1.8-3.4-1.2-3-0.8-3-0.4-3-0.1-2.7 0.3-2.7 0.5-3 1-4.4 1.7-3.3 1.6-2.7 1.7-2.4 1.8-1.8 1.8-1.7 2-1.5 2.4-1.4 2.6-1.8 4.1-1.2 3.3-0.8 3-0.4 3.1-0.1 2.6 0.2 2.7 0.5 2.7 0.9 3 1.6 4.1 1.7 3.7 1.6 2.6 1.8 2.4 1.8 1.9 2 1.7 4.3 2.7 7.1 3 3 0.9zM107.1 101.4l-1.9-0.3-2.1-0.6-1.6 0.2-1-0.3-1.4-1.5-2.3-1.4-1.8-1.5-1.8-2-1.4-2.4-1.4-1.3-0.3-1 0.1-1.7-0.6-2.3-0.3-2.4 0.3-3 0.6-2.4-0.1-2 0.5-1 1.2-1 1.4-2.3 1.6-1.8 2-1.8 2.3-1.4 1-1.2 0.7-0.4 1-0.1 1.3 0.1 2.4-0.6 2.7-0.3 2.7 0.3 2.3 0.6 2-0.1 1 0.5 1 1.2 2.4 1.4 1.8 1.6 1.7 2 1.4 2.3 1.2 1 0.4 0.7 0.2 1-0.2 1.3 0.7 2.4 0.2 2.7-0.2 2.7-0.7 2.3 0.1 2-0.5 1-1.2 1-1.4 2.4-1.4 1.7-2.1 1.8-2.4 1.4-1.3 1.5-1 0.3-1.7-0.2-3 0.8z"/>
<path fill="#ff9c00" d="M107.5 114.8l2.7-0.1 2.7-0.4 2.7-0.7 3.3-1.2 4-1.7 3.1-1.5 2.3-1.6 2.4-1.9 1.8-2 1.7-2.3 1.3-2.4 1.4-3 1.7-4.4 1-3 0.6-3 0.2-2.7-0.1-2.7-0.5-2.7-0.7-2.6-1.2-3.4-1.8-4-1.3-2.7-1.6-2.4-1.9-2.3-2-1.8-2.3-1.7-2.4-1.3-3-1.4-4.4-1.8-3-0.9-3-0.7-2.7-0.2-2.7 0.2-2.7 0.4-2.6 0.7-3.4 1.3-4 1.7-2.7 1.4-2.4 1.5-2.3 2-1.8 1.9-1.7 2.4-1.3 2.3-1.4 3.1-1.8 4.3-0.9 3-0.7 3.1-0.2 2.6 0.2 2.7 0.4 2.7 0.7 2.7 1.3 3.4 1.7 4 1.4 2.7 1.5 2.3 2 2.4 1.9 1.8 2.4 1.7 2.3 1.3 3.1 1.4 4 1.6 3 1 3 0.7zM106.3 101.4l-3.2-0.8-1.6 0.2-1-0.2-0.7-0.6-0.7-1-2.3-1.4-2-1.6-1.7-2-1.4-2.3-0.9-0.7-0.6-0.7-0.3-1 0.2-1.7-0.6-2.3-0.2-2.4 0.2-3 0.6-2.4-0.1-2 0.4-1 1.3-1 1.4-2.3 1.4-1.7 2.3-2 2.3-1.4 0.7-0.9 0.7-0.6 1-0.3 1.6 0.2 2.4-0.6 2.3-0.2 3.1 0.2 2.3 0.6 2-0.1 1 0.4 1.1 1.3 2.3 1.4 1.7 1.4 1.9 2.3 1.4 2.3 1 0.7 0.6 0.7 0.2 1-0.2 1.6 0.7 2.4 0.2 2.3-0.2 3.1-0.7 2.3 0.2 2-0.5 1-1.3 1.1-1.4 2.3-1.4 1.7-2.2 1.9-2.3 1.4-0.7 1-0.7 0.6-1 0.2-1.7-0.2-2 0.6-1.7 0.2z"/>
<path fill="#ff8900" d="M106.8 114.1l2.4 0.1 2.7-0.3 2.3-0.6 2.7-0.9 8.1-3.4 2.6-1.7 2.4-1.9 1.7-1.7 1.5-2 1.4-2.3 1.2-2.7 3-7.7 0.7-3.1 0.3-2.7-0.1-2.6-0.4-2.4-0.7-2.7-1-2.7-2.1-5-1.3-2.7-1.5-2.4-2-2.3-1.7-1.6-2-1.4-2.4-1.4-2.7-1.2-7.3-2.9-3.1-0.7-2.7-0.2-2.6 0.1-2.4 0.3-2.7 0.7-2.7 1-5 2.1-2.7 1.4-2.4 1.5-2.3 1.9-1.6 1.8-1.4 2-1.4 2.3-1.2 2.7-2.9 7.4-0.7 3-0.2 2.7 0.1 2.7 0.3 2.3 1.6 5.1 3.4 7.7 1.4 2.3 2 2.4 1.7 1.7 1.9 1.5 4.4 2.3 8.1 3.2 2.6 0.7zM105.7 101.4l-2.6-0.7-2 0.3-1-0.5-1.2-1.5-2.5-1.5-1.7-1.5-1.4-1.7-1.6-2.5-1.2-0.8-0.5-0.7-0.2-1 0.2-1.7-0.6-2.7-0.2-2.3 0.2-2.4 0.6-2.7-0.2-1.3 0.1-1 0.6-1 1.2-0.9 1.6-2.5 1.4-1.6 1.7-1.5 2.5-1.6 0.9-1.2 0.7-0.5 1-0.2 1.6 0.2 2.7-0.6 2.4-0.2 2.3 0.2 2.7 0.6 1.4-0.2 1 0.1 1 0.6 0.8 1.2 2.5 1.6 1.7 1.4 1.5 1.7 1.5 2.5 1.2 0.9 0.6 0.7 0.2 1-0.3 1.6 0.7 2.7 0.2 2.4-0.2 2.3-0.7 2.7 0.3 1.4-0.1 1-0.7 1-1.2 0.8-1.5 2.5-1.5 1.7-1.7 1.5-2.5 1.5-0.8 1.2-0.7 0.6-1 0.2-1.7-0.3-2 0.6-2 0.3z"/>
<path fill="#ff7300" d="M106.2 113.5l2.3 0.1 2.4-0.2 2.3-0.5 2.4-0.7 9-3.8 2.4-1.4 2.3-1.8 2.9-3.2 2.3-4 3.7-9 0.6-2.7 0.4-2.7-0.3-4.4-0.5-2.3-0.8-2.4-3.8-8.7-1.5-2.5-1.8-2.2-3.2-2.8-2-1.2-2.4-1.1-8.3-3.4-2.7-0.7-2.7-0.3-4.4 0.3-2.3 0.5-2.4 0.8-8.7 3.7-2.5 1.5-2.2 1.8-2.8 3.2-1.2 2.1-1.1 2.3-3.4 8.4-0.7 2.7-0.3 2.7 0.3 4.3 0.5 2.4 0.8 2.3 3.7 8.8 1.4 2.3 1.6 2 3.2 2.9 3.7 2.1 8.7 3.6 2.7 0.8zM105.2 101.4l-2.1-0.5-1.6 0.3-1.4-0.4-1.3-1.8-2.4-1.4-1.6-1.4-1.6-1.9-1.5-2.3-1.7-1.4-0.4-1 0.3-2-0.6-2.7-0.2-2 0.1-2.3 0.7-3.1-0.3-1.3 0.1-1 0.6-1 1.4-1 1.5-2.4 1.4-1.6 1.8-1.6 2.4-1.5 1-1.4 0.7-0.5 1-0.2 1.6 0.3 2.7-0.6 2.4-0.2 2.3 0.2 2.7 0.6 1.4-0.3 1 0.1 1 0.6 1 1.4 2.3 1.5 1.7 1.4 1.6 1.8 1.4 2.4 1.5 1 0.5 0.7 0.2 1-0.3 1.6 0.6 2.7 0.2 2.4-0.2 2.3-0.6 2.7 0.2 1.4 0 1-0.6 1-1.5 1-1.4 2.3-1.4 1.7-1.9 1.6-2.3 1.4-1 1.5-0.7 0.5-1 0.2-1.7-0.3-2.7 0.6-1.7 0.2-2-0.1z"/>
<path fill="#ff5d00" d="M105.5 112.8l2.3 0.2 2.4-0.1 2-0.3 2.4-0.7 9.7-4 2.3-1.3 2.1-1.5 2.8-3.1 2.1-3.7 3.9-9.3 0.7-2.7 0.4-2.4-0.2-4-0.4-2-0.7-2.4-4-9.4-1.4-2.3-1.6-2.1-3-2.7-3.7-2.1-9-3.7-2.7-0.7-2.4-0.3-4 0.1-2 0.4-2.4 0.8-9.4 3.9-2.3 1.4-2.1 1.6-2.7 3-2.1 3.7-3.7 9.1-0.7 2.7-0.3 2.3 0.1 4.1 1.1 4 3.9 9.4 1.3 2.3 1.5 2.1 3 2.8 3.4 2 9 3.8 2.4 0.7zM106.7 101.7l-3.2-0.7-2.4 0.3-1-0.3-1.5-2-2.2-1.3-1.6-1.4-1.5-1.6-1.6-2.5-2-1.6-0.3-1.3 0.4-1.7-0.7-2.7-0.1-2 0.1-2.7 0.7-2.7-0.3-1.3 0-1 0.5-1 1.7-1.2 1.3-2.2 1.4-1.6 1.7-1.5 2.5-1.6 1.2-1.6 0.7-0.5 1-0.2 1.6 0.4 2.7-0.7 2.4-0.1 2.3 0.1 2.7 0.7 1.4-0.3 1 0 1 0.5 1.2 1.7 2.1 1.3 1.7 1.4 1.5 1.7 1.5 2.5 1.7 1.2 0.5 0.7 0.1 1-0.3 1.6 0.6 2.7 0.2 2.4-0.2 2.3-0.6 2.7 0.3 1.4 0 1-0.6 1-1.7 1.2-1.3 2.1-1.4 1.7-1.6 1.5-2.5 1.5-1.6 2-1 0.3-2-0.3-3.3 0.7z"/>
<path fill="#ff4700" d="M107.5 112.5l3.7-0.3 3.7-1 9.7-4.1 2.4-1.4 2-1.7 2.3-2.6 1.8-3.4 4-9.7 0.7-2.7 0.3-2.7-0.4-3.7-1.1-3.7-4.1-9.7-1.5-2.4-1.7-2-2.7-2.2-3.3-1.7-9.8-4-2.3-0.6-2.7-0.2-3.7 0.3-3.7 1.1-9.7 4.2-2.4 1.4-2 1.7-2.2 2.7-1.7 3.4-4 9.7-0.6 2.4-0.2 2.6 0.3 3.7 1 3.5 4.1 9.6 1.4 2.4 1.6 2 2.7 2.3 3.3 1.8 9.8 4 2.7 0.7zM105.9 101.7l-2.8-0.6-1.6 0.4-1.4-0.2-0.7-0.7-1-1.5-2.3-1.5-1.7-1.4-1.5-1.9-1.2-2-1.6-1-0.6-0.7-0.3-1 0.4-2.3-0.5-2-0.3-2.4 0.2-2.3 0.7-3.1-0.4-1.3-0.1-1 0.5-1 2-1.4 1.2-2 1.5-1.8 1.7-1.5 2.3-1.4 1.1-1.6 1-0.8 1-0.1 1.6 0.5 3.1-0.7 2-0.2 2 0.2 3 0.7 1.4-0.4 1-0.1 1 0.5 1.3 2 2 1.2 1.9 1.5 1.4 1.7 1.5 2.3 1.6 1.1 0.7 1 0.1 1-0.4 1.6 0.7 3.1 0.1 2-0.1 2-0.7 3 0.4 1.4 0 1-0.5 1-1.9 1.3-1.2 2-1.4 1.7-1.8 1.6-2.4 1.5-1 1.5-0.7 0.7-1 0.3-2.3-0.5-2 0.5-2.1 0.3z"/>
<path fill="#ff3400" d="M105.8 111.8l2 0.1 2.1 0 3.6-0.9 5.4-2.4 5.4-2 2-1.1 2-1.6 2.3-2.5 1.8-3.1 1.8-5 2.4-5.4 0.6-2 0.3-2.3-0.2-3.7-0.9-3.4-2.2-4.7-2.1-5.7-1.2-2-1.6-1.9-2.4-2.1-3-1.7-5-1.9-5.4-2.4-2-0.6-2.3-0.3-3.7 0.2-3.4 0.9-4.7 2.2-5.7 2.2-2 1.2-1.9 1.5-2.1 2.4-1.7 3-1.9 5-2.4 5.4-0.6 2-0.3 2.4 0.2 3.3 0.8 3.4 2.3 5 2 5.4 1.2 2 1.5 2 2.6 2.3 2.7 1.6 5.3 2 5.1 2.3zM100.5 101.7l-1.1-0.7-1-1.8-2.3-1.4-1.7-1.5-1.4-1.6-1.5-2.4-1.7-1-0.6-0.7-0.2-1 0.5-2.3-0.6-2.4-0.2-2.3 0.2-2.4 0.6-2.3-0.5-2.4 0.2-1 0.6-0.7 1.7-1 1.5-2.3 1.8-2 1.3-1.1 2.3-1.5 1-1.7 0.7-0.6 1-0.2 2.4 0.5 2.3-0.6 2.4-0.2 2.3 0.2 2.4 0.6 2.3-0.5 1 0.2 0.7 0.6 1 1.7 2.4 1.5 1.3 1.1 1.8 2 1.4 2.3 1.8 1 0.6 0.7 0.2 1-0.5 2.4 0.5 2.3 0.2 2.4-0.2 2.3-0.5 2.4 0.5 2.3-0.2 1-0.6 0.7-1.8 1-1.4 2.4-1.1 1.3-2 1.8-2.4 1.4-1 1.8-0.7 0.6-1 0.2-2.3-0.5-2.4 0.5-2.7 0.2-2-0.2-2.7-0.6-1.6 0.5z"/>
<path fill="#ff1e00" d="M107.8 111.4l3.4-0.2 2.5-0.8 4.9-2.4 3.9-1.3 2.1-0.8 2.4-1.5 1.5-1.4 2.2-2.6 1.3-2.6 1.6-4.8 2.1-4.1 0.7-1.8 0.4-1.8 0.3-2.7-0.3-2.7-0.4-1.9-0.7-1.7-2.1-4.1-1.6-4.9-1.3-2.6-2.2-2.6-1.5-1.4-2.1-1.3-2.4-1-3.9-1.3-4.4-2.2-3-0.9-3-0.3-3 0.3-3.1 0.9-4.3 2.2-4 1.3-2.3 1-2.1 1.3-1.6 1.4-2.1 2.6-1.4 2.6-1.6 4.9-2 4.1-0.7 1.7-0.5 1.9-0.2 2.7 0.3 3 0.9 3 2.2 4.4 1.3 3.9 1 2.4 1.3 2.1 1.4 1.5 2.1 1.8 2.6 1.5 5.4 1.8 4.1 2.1 1.7 0.7 1.9 0.4zM106.2 102l-2.7-0.6-1.7 0.5-1.7 0-0.9-0.9-0.9-1.6-1.9-1.2-1.6-1.3-1.6-1.6-1.8-2.9-1.7-0.8-0.9-1 0-1.6 0.5-1.7-0.5-1.7-0.3-2.4 0.1-2 0.7-3.3-0.5-1.7 0-1.7 0.9-0.9 1.7-0.9 1.8-2.9 1.6-1.6 1.6-1.3 1.9-1.1 0.9-1.7 0.9-0.9 1.7 0 1.7 0.5 1.7-0.5 2.3-0.3 2 0.1 3.4 0.7 1.7-0.5 1.6 0 1 0.9 0.8 1.7 1.9 1.1 1.7 1.3 1.5 1.6 1.9 2.9 1.6 0.9 0.9 0.9 0 1.7-0.5 1.7 0.5 1.7 0.3 2.3 0 2-0.8 3.4 0.5 1.7 0 1.6-0.9 1-1.6 0.8-1.2 1.9-1.3 1.7-1.6 1.5-2.9 1.9-0.8 1.6-1 0.9-1.6 0-1.7-0.5-1.7 0.5-2 0.3-1.7 0z"/>
<path fill="#f10800" d="M105.5 110.1l1.7 0.3 2 0 3.3-0.7 2.1-1 3.3-2.3 5.4-1.2 2-0.9 2-1.5 1.9-2.1 1.4-2.4 0.6-2 0.6-3.7 3.1-4.7 0.7-2 0.4-2.3-0.1-3-0.8-2.7-1-2-2.1-3.1-0.8-4-0.5-1.7-1-2-1.4-1.7-2-1.8-2.4-1.4-2-0.7-3.7-0.6-4.7-3-2-0.7-2.3-0.4-3 0.1-2.7 0.7-2 1-3.1 2.2-4 0.7-1.7 0.5-2 1.1-1.7 1.3-1.8 2.1-1.4 2.3-0.7 2-0.6 3.7-3 4.7-0.7 2-0.4 2.4 0.1 3 0.7 2.7 1 2 2.2 3 1.1 5.4 1 2 1.5 2 2.1 1.9 2 1.2 2 0.7 4.3 0.9 4.1 2.7zM99.7 102.7l-0.9-1-0.7-2-2.3-1.5-1.7-1.4-1.6-1.8-1.4-2.3-2.1-0.8-1-0.9-0.1-0.7 0.1-0.7 0.9-2.3-0.6-2.7-0.2-2 0.2-2 0.6-2.7-0.9-2.4-0.1-0.6 0.1-0.7 1-1 2.1-0.7 1.4-2.3 1.4-1.7 1.9-1.6 2.3-1.4 0.7-2.1 1-1 0.7-0.1 0.6 0.1 2.4 0.9 2.7-0.6 2-0.2 2 0.2 2.7 0.6 2.3-0.9 0.7-0.1 0.7 0.1 0.9 1 0.8 2.1 2.3 1.4 1.8 1.6 1.4 1.7 1.5 2.3 2 0.7 1.1 1 0.1 0.7-0.1 0.6-1 2.4 0.7 2.7 0.1 2-0.1 2-0.7 2.7 1 2.3 0.1 0.7-0.1 0.7-1.1 0.9-2 0.8-1.5 2.3-1.4 1.7-1.8 1.5-2.3 1.5-0.8 2-0.9 1.1-0.7 0.1-0.7-0.1-2.3-1-2.7 0.7-2 0.1-2-0.1-2.7-0.7-2.7 1z"/>
<path fill="#da0000" d="M105.8 109.1l1.7 0.2 2 0 1.7-0.4 1.7-0.6 1.3-0.9 0.9-1 0.3-1-0.2-1-0.9-1-1.1-0.8-4.7 0.6-2.3-0.1-2.7-0.5-0.7 0.2-1.2 0.9-0.5 0.7-0.2 0.7 0.2 1 0.7 1 1 0.8 1.3 0.7zM94.8 104.4l1.6-0.2 0.7-0.3 0.5-0.5 0.2-1.4-0.2-1.6-4.1-3.4-2.9-3.7-0.5-0.2-1.4-0.2-1.3 0.3-0.6 0.5-0.3 0.6-0.2 1.7 0.4 1.7 1 1.9 1.4 1.8 2 1.6 2 1zM120.9 104.4l1.7-0.2 2-0.8 2-1.5 1.7-1.8 1.2-2.1 0.5-1.7-0.1-1.6-0.2-0.8-0.5-0.6-1.2-0.4-2 0.3-3.4 4-3.7 3-0.2 0.5-0.2 1.3 0.3 1.4 0.8 0.7zM84.7 89.6l1 0.3 1-0.5 1-1.1 0.4-1-0.4-2.4-0.1-2.3 0.5-5.1-1.1-1.5-0.6-0.5-0.7-0.2-1.4 0.4-1.5 1.5-0.9 2-0.4 2.4 0 2.7 0.6 2.3 1.2 2zM130 89.6l0.7 0.3 1-0.3 1-0.6 0.6-0.7 1-2 0.6-2.7-0.1-3-0.8-2.5-1.3-1.9-0.7-0.5-1-0.4-0.7 0.1-1 0.6-0.9 1.2-0.2 0.7 0.4 2.3 0.2 2.4-0.6 5 0.8 1.1zM88 72.2l1.7 0 0.9-0.4 2.9-3.7 1.6-1.4 2.3-1.7 0.4-0.9 0-1.3-0.1-0.7-0.4-0.7-0.5-0.4-1-0.2-1-0.1-1.4 0.3-1.3 0.6-1.4 0.8-2.2 2.1-1.5 2.3-0.7 2.4 0.1 1 0.3 1.1 0.7 0.7zM127 72.2l1.3 0 0.7-0.2 0.5-0.5 0.4-1 0.1-1.3-0.3-1.4-0.5-1.3-0.9-1.4-2.2-2.3-2.5-1.5-2.3-0.6-1 0.1-1 0.4-0.5 0.6-0.3 1 0.1 1.3 0.3 0.9 2.4 1.7 1.5 1.4 3 3.7zM103.1 62.5l5.1-0.5 5 0.5 0.7-0.4 1.1-1 0.4-0.7 0-1-0.5-1-1-1-2.4-1.1-3-0.5-3.3 0.4-1.4 0.5-1.3 0.7-1 1-0.5 1 0 1 0.3 0.7 1.1 1z"/>
<path fill="#bf0000" d="M105.8 108.1l3 0.2 1.7-0.2 1.4-0.4 1-0.5 0.8-0.8 0.4-0.7-0.1-1-0.5-0.7-0.6-0.3-9.8 0-0.6 0.7-0.2 0.7 0 0.6 0.3 0.7 1.2 1zM93.4 103.1l1.4 0.3 1.2-0.4 0.8-1-0.1-1-6.6-6.7-0.7-0.4-1 0.2-0.7 0.6-0.3 1 0.1 1.3 0.6 1.3 0.9 1.5 1.4 1.4 1.5 1.2zM120.6 103.2l1.3 0.2 1.7-0.6 1.7-1 1.7-1.6 1.3-1.9 0.6-1.6 0-1.4-0.6-1-1-0.4-0.7 0.1-0.3 0.3-6.4 6.4-0.4 0.7 0.1 0.6 0.3 0.7zM84.7 88.3l0.7 0.2 0.6-0.1 0.8-0.5 0.3-0.6 0-9.4-0.4-0.8-1-0.4-1 0.1-1.1 1.1-0.8 1.7-0.4 2 0.1 2.3 0.4 2 0.8 1.5zM130.3 88.4l0.7 0.1 0.7-0.2 1.1-1 0.7-1.7 0.4-2.4-0.1-2.3-0.6-2.4-1-1.3-1.2-0.6-1 0.3-0.4 0.3-0.3 0.7 0 9.4 0.3 0.6zM89 71.2l0.7-0.1 0.4-0.2 6.4-6.4 0.2-0.4 0.1-0.7-0.2-0.6-0.5-0.7-1.3-0.3-2.1 0.5-2 1.3-1.7 1.9-1.2 2-0.4 1.7 0.3 1.3 0.7 0.5zM127 71.2l0.6 0 0.7-0.4 0.5-0.6 0.2-0.7-0.3-1.7-1.1-2-1.8-2-2.2-1.5-2-0.5-1.3 0.3-0.6 0.7-0.2 0.6 0.1 0.7 0.3 0.4 6.4 6.4zM103.5 61.5l9.4 0 0.6-0.3 0.3-0.4 0.3-0.7 0-0.7-0.9-1.2-2-1-2.4-0.4-2.6 0.2-2.4 0.8-0.9 0.6-0.4 0.6-0.3 0.8 0.1 0.6 0.5 0.8z"/>
<path fill="#a40000" d="M107.2 107.4l2 0 2-0.4 1.3-0.6 0.6-0.7 0-0.3-0.2-0.4-0.7-0.4-2.3-0.2-4.7 0.1-1.3 0.2-0.5 0.4-0.1 0.6 0.8 0.9 1.4 0.5zM94.1 102.4l1 0.1 0.5-0.5 0-0.6-0.6-1-2.2-2.4-2.4-2.2-1-0.6-0.7-0.1-0.2 0.2-0.3 0.7 0.2 1 1.3 2.2 2 2 1.4 0.8zM121.3 102.5l1-0.1 1-0.4 1.3-0.8 1.4-1.2 1-1.3 0.8-1.4 0.3-1.3-0.2-0.7-0.6-0.2-1 0.4-4.1 3.9-1.4 2-0.1 0.6zM85 87.5l0.7-0.2 0.3-0.4 0.4-2.6-0.2-5.1-0.2-1-0.6-0.5-0.7 0.2-0.7 1-0.5 1.7-0.2 1.6 0.1 1.7 0.3 1.7 0.6 1.3zM130.7 87.3l0.6 0.2 0.9-0.9 0.6-1.7 0.3-2-0.2-2-0.4-1.7-0.8-1.3-0.7-0.2-0.4 0.2-0.4 0.6-0.2 2.4 0.1 4.7 0.2 1.3zM88.7 70l0.7 0 1-0.6 3.4-3.3 1.6-2 0.2-0.7-0.2-0.5-0.6-0.3-1.4 0.4-1.4 0.8-1.6 1.4-1.3 1.6-0.7 1.3-0.1 1.4zM126.6 69.8l1 0.2 0.4-0.3 0.1-0.5-0.5-1.7-1.1-1.7-1.5-1.6-1.7-1.1-1.4-0.4-1 0.2-0.2 0.2 0.1 0.7 0.6 1 2.9 3.1zM106.5 60.8l5.4-0.2 1-0.4 0.2-0.8-0.6-0.7-1.3-0.6-3-0.4-3 0.4-1.3 0.6-0.6 0.7 0.1 0.7 0.5 0.3z"/>
<path fill="#890000" d="M106.2 106.4l1.6 0.2 1.7-0.1 1.4-0.3 0.7-0.5-0.4-0.4-2-0.3-2.7 0.1-1.6 0.3-0.2 0.3 0.4 0.4zM94.1 101.4l0.2-0.4-0.1-0.3-1.6-2-2.2-1.9-0.7-0.4-0.3 0.1 0.3 1.2 1.4 1.8 1.6 1.4zM122.3 101.4l1.3-0.5 1.7-1.4 1.4-1.8 0.3-1.2-0.4-0.1-0.6 0.4-2.2 1.9-1.6 2-0.2 0.3zM85 86l0.4-0.2 0.1-0.5 0.3-2.7-0.3-2.7-0.1-0.6-0.4-0.2-0.3 0.4-0.4 0.9-0.2 2.2 0.2 2.1 0.4 0.9zM131.3 86l0.4-0.4 0.3-0.9 0.2-2.1-0.2-2.2-0.3-0.9-0.4-0.4-0.3 0.2-0.2 0.6-0.2 2.7 0.2 2.7 0.2 0.5zM89.4 68.6l0.3 0.1 0.7-0.3 2-1.7 1.6-1.9 0.3-0.7-0.1-0.3-1.1 0.3-1.8 1.4-1.6 1.9zM126.3 68.6l0.3 0.1 0.4-0.1 0-0.5-1.3-2-1.8-1.6-1.3-0.7-0.5 0-0.1 0.3 0.2 0.4 0.9 1.3 1.9 1.8zM106.5 60.1l3.7-0.1 1.2-0.2 0.2-0.4-0.4-0.3-0.9-0.4-2.1-0.2-2.2 0.2-0.9 0.4-0.4 0.3 0.2 0.4z"/>
</g>
<clipPath id="xg"><path clip-rule="evenodd" d="M38.2 12.6h140.0v140.0h-140.0zM86.96 82.58a21.21 21.21 0 1 0 42.42 0a21.21 21.21 0 1 0 -42.42 0z"/></clipPath>
<g clip-path="url(#xg)">
<path fill="none" stroke="#ececec" stroke-opacity=".55" stroke-width=".5" d="M106.5 99.4l-3.7-1.8-6.4-2.7-1.3-1.6-1.2-3.7-2.7-6.4 0-2 0.5-1.3 1.4-2.5 2.2-5.9 1.6-1.7 1.5-0.8 3.1-0.9 6.7-2.6 2 0.3 10 4.7 1.3 1.7 0.4 1.7 3.3 8.7-0.3 2-4.6 10-1.7 1.3-1.8 0.4-8.6 3.3-1.7-0.2M171.6 152.4l6.4-6.4M38.4 146l6.4 6.4M178 19.2l-6.4-6.4M44.8 12.8l-6.4 6.4M107.2 99.7l-1.7-0.4-5.7-2.6-2.4-0.8-1.6-1.5-1.1-1.4-3.7-10.4 0.2-2 1.7-3.4 2.5-6.1 1.7-1.6 10.4-4.1 2.4 0.2 10.1 4.6 1.5 1.6 3.8 9.8 0 2.3-4.4 10.2-1.7 1.6-1.6 0.7-8.8 3.3-1.6 0M148.9 152.4l4.6-2.9 4-2.9 4-3.3 3.7-3.4 3.7-4 3.3-4 2.9-4 2.9-4.6M38.4 123.3l2.8 4.6 2.9 4 3.3 4 3.5 3.7 3.9 3.7 4 3.3 4.1 2.9 4.5 2.9M178 41.8l-2.9-4.5-2.9-4.1-3.3-4-3.7-3.9-3.7-3.5-4-3.3-4-2.9-4.6-2.8M67.4 12.8l-4.5 2.8-4.1 2.9-4 3.3-3.7 3.5-3.7 3.9-3.3 4-2.9 4.1-2.8 4.5M106.5 99.7l-1.3-0.3-4.7-2.3-2.4-0.7-1.3-0.8-1.3-1.3-1.2-1.7-0.7-2.3-2.3-5-0.4-1.4 0-2 0.4-2 2.3-5 0.7-2.4 1.8-2.3 2-1.5 2.4-0.7 5-2.3 1.3-0.4 2 0 2.1 0.4 5 2.3 2.3 0.7 2.4 1.8 1.4 2 0.7 2.4 2.4 5 0.3 1.3 0.1 2-0.4 2.1-2.4 5-0.7 2.3-0.8 1.4-1.3 1.3-1.7 1.1-2.3 0.7-5.4 2.5-2 0.3-2-0.2M119.7 152.4l5.3-1.1 5.3-1.5 5.1-1.9 5-2.3 4.7-2.7 4.7-3.1 4.4-3.4 4-3.8 3.8-4 3.4-4.4 3.1-4.7 2.7-4.7 2.3-5 1.9-5.1 1.5-5.3 1.1-5.3M38.4 94.1l1 5.3 1.6 5.3 1.9 5.1 2.3 5 2.6 4.7 3.2 4.7 3.4 4.4 3.8 4 4 3.8 4.4 3.4 4.7 3.1 4.7 2.7 5 2.3 5 1.9 5.4 1.5 5.2 1.1M178 71l-1.1-5.2-1.5-5.4-1.9-5-2.3-5-2.7-4.7-3.1-4.7-3.4-4.4-3.8-4-4-3.8-4.4-3.4-4.7-3.2-4.7-2.6-5-2.3-5.1-1.9-5.3-1.6-5.3-1M96.6 12.8l-5.2 1-5.4 1.6-5 1.9-5 2.3-4.7 2.6-4.7 3.2-4.4 3.4-4.1 3.8-3.7 4-3.4 4.4-3.2 4.7-2.6 4.7-2.3 5-1.9 5-1.6 5.4-1 5.2M105.8 99.7l-5.4-2.4-2.6-0.9-1.4-0.9-1.3-1.4-0.9-1.5-0.8-2.3-2.3-5-0.3-1.7 0-2 0.3-1.7 2.3-5.1 0.8-2.3 0.8-1.3 1.4-1.5 1.7-1.1 2.3-0.8 5.1-2.3 1.7-0.3 2 0 1.7 0.3 5 2.3 2.3 0.8 1.4 0.8 1.5 1.4 1.1 1.7 0.7 2.3 2.3 5.1 0.4 1.7 0 2-0.4 1.7-2.3 5-0.7 2.3-1.1 1.7-1.5 1.4-1.4 0.9-2 0.6-5.5 2.5-2.5 0.3-2.4-0.3M104.1 145.4l6.4 0 6.1-0.5 6-1.1 6-1.7 5.8-2.3 5.3-2.8 5.3-3.4 4.8-3.9 4.4-4.2 4-4.8 3.6-5.2 2.9-5.4 2.5-5.7 1.8-5.7 1.3-6.1 0.7-6 0-6.4-0.5-6-1.1-6.1-1.7-6-2.3-5.7-2.8-5.4-3.4-5.2-3.9-4.8-4.2-4.4-4.8-4-5.2-3.6-5.4-3-5.7-2.4-5.7-1.8-6.1-1.3-6-0.7-6.4-0.1-6 0.5-6.1 1.1-6 1.8-5.7 2.3-5.4 2.8-5.2 3.4-4.8 3.8-4.4 4.2-4 4.8-3.6 5.3-3 5.4-2.4 5.7-1.8 5.7-1.3 6-0.7 6-0.1 6.4 0.5 6.1 1.1 6 1.8 6 2.3 5.8 2.8 5.3 3.4 5.3 3.8 4.8 4.2 4.4 4.8 4 5.3 3.6 5.4 2.9 5.7 2.5 5.7 1.8 6 1.3 6 0.7M106.5 100l-1.3-0.3-1.7-0.9-5.4-2-1.3-0.9-1.7-1.6-1.1-1.7-2.1-5.3-0.9-1.7-0.3-1.7-0.1-2.3 0.4-2 0.9-1.7 2.1-5.4 0.8-1.3 1.3-1.4 2-1.4 5.4-2.1 1.7-0.9 1.6-0.3 2.4-0.1 2 0.4 1.7 0.9 5.3 2.1 1.4 0.8 1.3 1.3 1.5 2 2 5.4 0.9 1.7 0.4 1.6 0 2.4-0.4 2-0.9 1.7-2 5.3-0.9 1.4-1.6 1.6-1.7 1.2-2 0.6-5.3 2.4-2.1 0.3-2.3-0.1M103.1 139l5.7 0.2 5.4-0.3 5.4-0.9 5.4-1.4 5-1.8 5-2.4 5.1-3 4.3-3.3 4-3.7 3.8-4.2 3.4-4.7 2.8-4.7 2.3-5.1 1.8-5 1.3-5.4 0.8-5.7 0.2-5.7-0.3-5.4-0.9-5.3-1.4-5.4-1.8-5-2.4-5.1-3-5-3.3-4.4-3.7-4-4.2-3.8-4.7-3.4-4.7-2.7-5.1-2.3-5-1.8-5.4-1.3-5.7-0.8-5.7-0.2-5.4 0.3-5.3 0.8-5.4 1.4-5 1.8-5.1 2.4-5 3.1-4.4 3.3-4 3.7-3.8 4.2-3.4 4.7-2.7 4.7-2.3 5-1.8 5.1-1.3 5.3-0.8 5.7-0.2 5.7 0.3 5.4 0.8 5.4 1.4 5.4 1.8 5 2.4 5 3.1 5.1 3.3 4.3 3.7 4 4.2 3.8 4.7 3.4 4.7 2.8 5 2.3 5.1 1.8 5.3 1.3 5.7 0.8M105.8 100.1l-8-3.3-1.7-1.3-1.4-1.5-0.9-1.4-2.9-7-0.4-2 0-2.4 0.4-1.6 2.9-7.1 1.1-1.7 1.5-1.5 1.7-1.1 7.1-2.9 2-0.4 2.3 0 1.7 0.4 7 2.9 1.7 1.1 1.5 1.5 1.2 1.7 2.9 7.1 0.4 2-0.1 2.3-0.3 1.7-2.9 7-1.2 1.7-1.8 1.8-1.4 0.9-7.3 3-2.4 0.3-2.7-0.2M104.5 133.9l5 0.1 5.1-0.3 5-0.9 4.7-1.3 4.7-1.9 4.7-2.3 4.3-2.8 3.9-3 3.5-3.4 3.4-3.9 2.9-4.1 2.4-4.4 2.1-4.7 1.6-4.7 1.1-5 0.6-5 0.1-5.1-0.3-5-0.9-5-1.3-4.7-1.9-4.7-2.3-4.7-2.8-4.4-3-3.8-3.4-3.6-3.9-3.3-4.1-2.9-4.4-2.5-4.7-2.1-4.7-1.5-5-1.2-5-0.6-5.1-0.1-5 0.4-5 0.9-4.7 1.3-4.7 1.8-4.7 2.4-4.4 2.7-3.8 3-3.6 3.4-3.3 3.9-2.9 4.2-2.5 4.3-2.1 4.7-1.5 4.7-1.2 5-0.6 5.1-0.1 5 0.4 5.1 0.9 5 1.3 4.7 1.8 4.7 2.4 4.7 2.7 4.3 3 3.9 3.4 3.5 3.9 3.4 4.2 2.9 4.3 2.4 4.7 2.1 4.7 1.6 5 1.1 5.1 0.6M107.2 100.4l-2.1-0.4-2-0.9-1.6-0.4-1.7-1-1.7-0.6-1.3-0.8-1.8-1.6-1.2-1.7-0.7-2-1-1.7-0.4-1.7-1.1-2.3-0.3-3.4 0.4-2.3 1-2.1 0.4-1.6 1-1.7 0.9-2.4 2-2.3 1.8-1.3 2-0.7 1.7-1 1.6-0.4 2.4-1.1 3.3-0.3 2.4 0.4 2 1 1.7 0.4 1.7 1 2.3 0.9 2.4 2 1.3 1.8 0.7 2 1 1.7 0.4 1.6 1 2.4 0.3 3.3-0.4 2.4-0.9 2-0.4 1.7-1 1.7-0.9 2.3-2.1 2.4-2.1 1.4-1.6 0.6-1.7 1-1.7 0.4-2 0.9-1.7 0.4-2.3 0M103.8 129.6l4.7 0.2 4.4-0.3 4.7-0.7 4.3-1.1 4.4-1.6 4.4-2.1 4-2.4 3.7-2.8 3.3-3 3.3-3.7 2.7-3.7 2.3-4 2-4.4 1.5-4.3 1-4.4 0.7-4.7 0.2-4.7-0.3-4.7-0.8-4.7-1.2-4.4-1.7-4.3-2.1-4.4-2.3-3.7-2.8-3.7-3.1-3.3-3.4-2.9-3.7-2.7-4-2.4-4.4-1.9-4.3-1.5-4.4-1.1-4.7-0.7-4.7-0.1-4.7 0.3-4.7 0.8-4.4 1.2-4.3 1.6-4.4 2.2-3.7 2.3-3.7 2.8-3.3 3.1-2.9 3.3-2.7 3.7-2.4 4.1-1.9 4.3-1.5 4.4-1.1 4.3-0.7 4.7-0.1 4.7 0.2 4.4 0.8 4.7 1.2 4.4 1.6 4.3 1.9 4.1 2.4 4 2.8 3.7 3.1 3.3 3.4 3.1 3.6 2.6 4 2.4 4.4 2.1 4.4 1.5 4.6 1.1 4.4 0.7M106.2 100.4l-1.4-0.3-1.7-0.8-1.6-0.3-1.7-1.1-2-0.8-1.7-1.2-1.5-1.6-1-1.3-0.8-2-0.9-1.4-0.5-2-0.7-1.7-0.4-2 0-2.7 0.3-1.6 0.8-2.1 0.4-1.6 1-1.7 0.6-1.7 1.2-1.7 1.8-1.8 1.4-1 2-0.8 1.3-0.9 2-0.5 1.7-0.7 2-0.4 2.7 0 1.7 0.3 2 0.8 1.7 0.4 1.7 1 1.6 0.6 1.7 1.2 1.9 1.8 0.9 1.4 0.8 2 0.9 1.3 0.5 2 0.8 1.7 0.4 2 0 2.7-0.3 1.7-0.9 2-0.3 1.7-1.1 1.7-0.6 1.6-1.1 1.7-1.9 1.9-1.3 0.9-2 0.8-1.4 0.9-2 0.5-2 0.9-2.4 0.3-2.6-0.1M103.5 125.9l4 0.3 4.4-0.2 4.3-0.6 4.1-1 4-1.4 4-1.8 3.7-2.2 3.7-2.6 3.2-2.9 2.8-3.1 2.5-3.3 2.2-3.7 1.9-4 1.5-4.1 1.1-4.3 0.6-4.1 0.3-4-0.2-4.4-0.7-4.3-1-4-1.4-4.1-1.9-4-2.2-3.7-2.7-3.6-2.8-3.1-3.2-2.9-3.4-2.5-3.7-2.1-4-1.9-4-1.5-4-1-4.1-0.6-4-0.2-4.4 0.2-4.3 0.6-4 1-4.1 1.5-4 1.9-3.7 2.1-3.6 2.7-3.1 2.8-2.9 3.3-2.5 3.3-2.1 3.7-1.9 4-1.5 4.1-1 4-0.6 4-0.2 4 0.2 4.4 0.6 4.4 1 4 1.5 4 1.9 4 2.1 3.7 2.5 3.4 2.9 3.2 3 2.8 3.4 2.5 3.3 2 4.1 2 4 1.5 4 1.1 4.4 0.7M105.5 100.4l-2.4-0.9-1.6-0.2-2-1.3-1.7-0.7-2-1.5-1.7-1.8-0.8-1.4-0.7-1.6-1-1.4-0.4-2-0.8-2-0.3-2.4 0.1-2.6 0.3-1.4 0.7-1.7 0.3-1.6 1.2-2 0.7-1.7 1.6-2 1.8-1.7 1.3-0.8 1.7-0.7 1.3-1 2-0.4 2.1-0.8 2.3-0.3 2.7 0.1 1.3 0.3 1.7 0.7 1.7 0.3 1.9 1.2 1.8 0.7 2 1.6 1.6 1.8 0.9 1.3 0.6 1.7 1 1.3 0.4 2 0.9 2.1 0.3 2.3-0.1 2.7-0.3 1.3-0.8 1.7-0.2 1.7-1.3 1.9-0.7 1.8-1.5 2-1.8 1.6-1.4 0.9-1.6 0.6-1.4 1-2 0.4-2 0.9-2.7 0.3-3-0.3M104.1 122.9l3.7 0.2 4.1-0.2 4-0.6 4-1.1 4-1.4 3.7-1.8 3.4-2 3.4-2.5 2.6-2.5 2.6-2.9 2.4-3.4 1.9-3.3 1.7-3.7 1.4-4 0.9-3.7 0.6-4.1 0.2-4-0.3-3.7-0.7-4-1-3.7-1.3-3.7-1.8-3.7-2-3.3-2.5-3.4-2.5-2.7-2.9-2.6-3.4-2.4-3.3-1.9-3.7-1.7-4-1.4-3.7-0.9-4.1-0.6-4-0.1-3.7 0.2-4 0.7-3.7 1-3.7 1.4-3.7 1.8-3.3 2-3.4 2.5-2.7 2.5-2.6 2.9-2.4 3.3-1.9 3.4-1.7 3.7-1.4 4-0.9 3.7-0.6 4-0.1 4 0.2 3.7 0.7 4.1 1 3.7 1.4 3.6 1.8 3.7 2 3.4 2.5 3.4 2.5 2.6 2.9 2.6 3 2.2 3.3 2 3.7 1.7 3.7 1.3 4.1 1.1 3.6 0.6M106.2 100.7l-3.1-1-2.1-0.3-1.3-1.1-2.9-1.5-2.6-2.5-3-5-0.2-1.7-0.9-2.7-0.1-3.7 0.3-2 0.7-1.7 0.3-2 1.3-1.7 1.1-2.3 2.4-2.6 1.3-1 2-0.9 2.1-1.4 1.6-0.2 2.7-0.9 3.7-0.1 2 0.3 1.7 0.7 2 0.3 1.7 1.3 2.4 1.1 2.6 2.4 1 1.3 0.9 2 1.4 2.1 0.1 1.6 1 2.7 0.1 3.7-0.4 2-0.7 1.7-0.3 2-1.1 1.4-1.5 3-2.5 2.6-5 3-1.7 0.1-3 1-4 0M104.5 120.2l3.3 0.2 3.7-0.2 3.7-0.5 3.7-1 3.7-1.3 3.7-1.8 3.4-2 3-2.2 2.5-2.3 2.3-2.7 2.2-3 1.9-3.4 1.6-3.7 1.3-3.7 0.8-3.3 0.6-3.7 0.1-3.7-0.2-3.4-0.7-3.6-1-3.7-1.4-3.7-1.8-3.7-1.9-3-2.3-3-2.3-2.5-2.7-2.3-3.1-2.1-3-1.7-3.7-1.7-3.7-1.3-3.3-0.8-3.7-0.5-3.7-0.1-3.4 0.2-3.6 0.6-3.7 1.1-3.7 1.4-3.7 1.8-3 1.9-3 2.2-2.5 2.4-2.3 2.7-2.1 3-1.7 3-1.7 3.7-1.3 3.7-0.8 3.4-0.5 3.7-0.1 3.6 0.2 3.4 0.6 3.4 1 3.7 1.3 3.6 1.8 3.7 1.8 3.1 2.3 3 2.3 2.5 2.5 2.2 2.8 2 3.1 1.8 3.6 1.8 3.7 1.3 3.7 1 3.4 0.5M105.5 100.8l-2.4-0.8-1.3-0.1-1-0.3-1.4-1.2-1.6-0.7-1.4-1-2.7-2.7-1.3-2.6-1-1.1-0.5-1-0.1-1.7-0.9-3 0-4 0.9-3.1 0-1.3 0.3-1 1.2-1.4 0.8-1.6 0.9-1.4 2.4-2.4 1.4-0.9 1.5-0.7 1.2-1 1-0.5 1.6-0.1 3.1-0.9 4 0 3 0.9 1.4 0 1 0.3 1.3 1.2 1.7 0.8 1.3 0.9 2.4 2.4 1 1.4 0.6 1.5 1.1 1.2 0.5 1 0.1 1.6 0.9 3.1 0 4-0.9 3-0.1 1.4-0.3 1-1.2 1.3-0.7 1.7-1 1.3-2.7 2.7-2.6 1.3-1.1 1.1-1 0.5-1.7 0.1-1.7 0.6-1.6 0.3-4.4-0.1M104.5 117.9l3.3 0.2 3.4-0.2 3.4-0.5 3.3-0.9 3.7-1.3 3.7-1.8 3.3-1.9 2.7-2 2.3-2.1 2-2.3 1.9-2.7 1.7-3 1.7-3.7 1.3-3.7 0.9-3.4 0.5-3.3 0.1-3.4-0.2-3-0.7-3.4-0.9-3.3-1.4-3.7-1.8-3.7-1.9-3-2-2.7-2.1-2.2-2.4-2-2.7-1.9-3-1.6-3.3-1.5-3.7-1.4-3.4-0.8-3.3-0.5-3.4-0.1-3 0.2-3.4 0.6-3.3 1-3.7 1.4-3.7 1.8-3 1.8-2.7 2.1-2.2 2.1-2 2.3-1.9 2.7-1.6 3-1.5 3.4-1.4 3.7-0.8 3.3-0.5 3.4-0.1 3.3 0.2 3.1 0.6 3.3 1 3.4 1.4 3.7 1.6 3.3 1.8 3 2 2.7 2 2.3 2.4 2 5.4 3.4 6.7 2.9 3.3 0.9 3.4 0.7M106.5 101.1l-3.4-0.9-1.3 0-1-0.2-1.7-1.5-2.7-1.5-2.6-2.7-1.5-2.7-1.2-1.2-0.5-0.8 0-2-0.9-3 0-4 0.9-3.1-0.1-1.3 0.3-1 1.5-1.7 1.5-2.7 2.6-2.6 2.7-1.5 1.2-1.2 0.8-0.5 2 0 3.1-0.9 4 0 3 0.9 1.4-0.1 1 0.3 1.6 1.5 2.7 1.5 2.7 2.6 1.5 2.7 1.2 1.2 0.4 0.8 0.1 2 0.8 3.1 0 4-0.8 3 0 1.4-0.2 1-1.5 1.6-1.5 2.7-2.7 2.7-2.7 1.5-1.2 1.2-0.8 0.4-2 0.1-3 0.8-3.7 0.1M104.8 116.2l3 0.2 3.1-0.2 3-0.4 3.3-1 4.1-1.5 3.7-1.7 3-1.8 2.7-2 2.1-2.1 1.9-2.3 3.2-5.4 2.7-7 0.9-3.4 0.4-3 0.1-3-0.3-3.1-1.6-6-1.6-4-1.7-3.4-1.8-2.9-1.9-2.4-4.1-3.8-5.4-3.1-7-2.8-3.4-0.8-3-0.4-3-0.1-3.1 0.3-6 1.6-4 1.6-3.4 1.6-2.9 1.8-2.4 2-3.8 4.1-3.1 5.3-2.8 7.1-0.8 3.3-0.4 3.1-0.1 3 0.2 2.7 1.5 6 1.6 4 1.6 3.4 1.9 3 1.8 2.4 3.9 3.7 4.8 3 7.1 2.9 3 0.9 3 0.6M105.5 101.1l-2.4-0.7-1.6 0.1-1-0.4-1.5-1.4-2.2-1.3-1.7-1.4-1.8-2-1.3-2.4-1.4-1.3-0.3-1 0-1.7-0.6-2.3-0.2-2.4 0.2-3 0.6-2.4 0-2 0.6-1 1.2-1.1 1.2-2.2 1.5-1.7 2-1.8 2.2-1.2 1.8-1.7 0.7-0.1 1.6 0 2.4-0.6 2.7-0.2 2.7 0.2 2.3 0.6 2 0 1 0.6 1.1 1.2 2.3 1.2 1.7 1.5 1.7 2 1.3 2.2 1.6 1.8 0.2 0.7-0.1 1.6 0.7 2.4 0.2 2.7-0.2 2.7-0.7 2.3 0 2-0.5 1-1.2 1.1-1.3 2.3-1.4 1.6-2 1.8-2.4 1.3-1.3 1.4-1 0.4-1.7-0.1-3.7 0.8-4-0.1M107.5 115.1l2.7 0 3-0.5 6.1-1.9 7-3.3 2.4-1.7 2.3-1.9 1.9-2.1 1.7-2.3 2.8-5.7 2.6-7.1 0.5-3 0.2-2.7-0.1-2.7-0.4-2.7-2.1-6.3-3.1-6.7-1.7-2.5-1.9-2.2-2.1-1.9-2.3-1.7-5.7-2.9-7.1-2.5-3-0.6-2.7-0.2-2.7 0.1-2.7 0.5-6.3 2-6.7 3.2-2.5 1.6-2.2 1.9-1.9 2.1-1.7 2.4-2.9 5.7-2.5 7-0.6 3.1-0.2 2.6 0.1 2.7 0.5 2.7 2 6.4 3.2 6.7 1.6 2.4 1.9 2.3 4.1 3.3 5.8 3 7 2.6 3 0.6 2.7 0.2M106.8 101.4l-3.7-0.8-1.6 0.2-1-0.3-1.4-1.5-2.3-1.4-1.9-1.6-1.7-2-1.4-2.4-1.5-1.3-0.3-1 0.2-1.7-0.7-2.3-0.2-2.4 0.2-3 0.7-2.4-0.2-2 0.5-1 1.3-1 1.4-2.3 1.6-1.9 2-1.7 2.3-1.4 1-1.3 0.7-0.4 2.3 0.1 2.4-0.7 2.7-0.2 2.7 0.2 2.3 0.7 2-0.2 1 0.5 1 1.3 2.4 1.4 1.8 1.6 1.8 2 1.4 2.3 1.2 1 0.4 0.7 0 2.3 0.6 2.4 0.3 2.7-0.3 2.7-0.6 2.3 0.1 2-0.5 1-1.2 1-1.4 2.4-1.4 1.7-2.2 1.9-2.4 1.4-1.3 1.5-1 0.3-1.7-0.2-3.7 0.8-2.7 0M105.2 113.8l2.3 0.2 2.7-0.1 5-1.1 9.1-3.7 2.7-1.5 2.3-1.8 3.2-3.4 2.5-4.4 3.4-8.4 0.8-3 0.4-2.7-0.3-4.7-1.3-5-3.6-8.4-1.7-2.7-1.7-2.1-3.4-3-4.3-2.4-8.4-3.4-2.7-0.7-2.7-0.3-4.7 0.2-5 1.4-8.4 3.6-2.7 1.6-2.1 1.8-3 3.3-2.4 4.4-3.4 8.4-0.7 2.6-0.3 2.7 0.2 4.7 1.3 4.7 3.5 8.4 1.4 2.4 1.7 2.3 3.1 2.9 4.1 2.5 8 3.4 5.1 1.3M105.8 101.4l-2.7-0.6-2 0.2-1-0.4-1.2-1.6-2.5-1.5-1.7-1.5-1.5-1.7-1.5-2.4-1.2-0.9-0.6-0.7-0.2-1 0.3-1.7-0.7-2.7-0.2-2.3 0.2-2.4 0.7-2.7-0.2-2.3 0.7-1 1.2-0.9 1.5-2.5 1.5-1.6 1.7-1.6 2.5-1.5 0.9-1.2 0.7-0.6 1-0.2 1.6 0.3 2.7-0.7 2.4-0.2 2.3 0.2 2.7 0.7 2.4-0.2 1 0.7 0.9 1.2 2.4 1.5 1.7 1.5 1.5 1.7 1.5 2.5 1.3 0.9 0.5 0.7 0.2 1-0.2 1.6 0.6 2.7 0.2 2.4-0.2 2.3-0.6 2.7 0.1 2.4-0.6 1-1.3 0.9-1.5 2.4-1.4 1.7-1.8 1.5-2.4 1.5-0.9 1.3-0.7 0.5-1 0.2-1.7-0.2-4 0.8-3.4-0.2M105.8 112.8l4.4 0.1 4.4-1 10-4.2 2.4-1.4 2-1.6 2.7-3 2.1-3.7 3.8-9.4 0.6-2.3 0.3-2.7-0.2-4.4-1.2-4-4-9.4-1.4-2.4-1.7-2-3-2.6-3.4-1.8-9.4-3.8-2.3-0.7-2.7-0.3-4.4 0.3-4 1.1-9.4 4-2.4 1.5-2 1.6-2.6 3.1-1.8 3.3-3.8 9.4-0.7 2.4-0.3 2.7 0.2 4 1.1 4 4 9.4 1.3 2.4 1.6 2 2.7 2.4 3.4 2 9.4 4 4.3 1M106.8 101.7l-3.3-0.7-2.4 0.4-1-0.4-1.5-2-2.5-1.5-1.7-1.5-1.4-1.7-1.3-2.1-2-1.6-0.3-1 0.3-2.3-0.5-2-0.2-2.4 0.1-2.7 0.7-2.7-0.4-2.3 0.6-1 1.7-1.2 1.3-2.2 1.4-1.6 1.7-1.5 2.5-1.6 1.1-1.6 0.8-0.5 1-0.2 1.6 0.4 2.7-0.7 2.4-0.1 2.3 0.1 2.7 0.7 2.4-0.4 1 0.6 1.2 1.7 2.1 1.3 1.7 1.4 1.5 1.7 1.5 2.5 1.7 1.1 0.5 0.8 0.1 1-0.3 1.6 0.6 2.7 0.2 2.4-0.2 2.3-0.6 2.7 0.3 2.4-0.6 1-1.7 1.2-1.3 2.1-1.4 1.7-1.6 1.5-2.5 1.5-1.6 2-1.3 0.3-1.7-0.3-3 0.7-3.4 0M105.5 111.8l4 0.2 4-0.9 5.4-2.3 5.4-2.1 2-1.1 2-1.5 2.4-2.7 1.8-3.1 1.9-5 2.3-5.3 0.6-2.1 0.3-2.3-0.2-3.7-0.9-3.4-2.1-4.7-2.3-5.7-1.1-2-1.7-2-2.3-2.1-3.1-1.7-5-1.9-5.3-2.4-2.1-0.5-2.3-0.3-3.7 0.1-3.4 1-4.7 2.1-5.7 2.2-2 1.2-2 1.6-2.1 2.4-1.7 3-1.9 5-2.4 5.3-0.5 2.1-0.3 2.4 0.1 3.7 1 3.3 2.1 4.7 2.2 5.7 2.5 3.7 2.3 2.2 2.7 1.6 5.7 2.3 4.7 2.1 3.4 0.9M100.8 101.7l-1.3-0.7-1.1-1.8-3.6-2.6-1.8-1.9-1.5-2.4-1.7-1-0.6-0.7-0.2-1 0.5-2.3-0.6-2.4-0.2-2.3 0.2-2.4 0.6-2.3-0.5-2 0.1-1 0.7-1.1 1.7-1 1.5-2.3 1.4-1.7 1.7-1.4 2.3-1.5 1-1.7 0.7-0.6 1-0.2 2.4 0.5 2.3-0.6 2.4-0.2 2.3 0.2 2.4 0.6 2-0.5 1 0.1 1 0.7 1 1.7 2.4 1.5 1.6 1.4 1.4 1.7 1.5 2.3 1.7 1 0.6 0.7 0.2 1-0.5 2.4 0.6 2.3 0.2 2.4-0.2 2.3-0.6 2.4 0.5 2-0.1 1-0.7 1-1.7 1-1.5 2.4-1.4 1.6-1.6 1.4-2.4 1.5-1 1.7-0.7 0.6-1 0.2-2.3-0.5-2.4 0.6-2.7 0.2-4.7-0.8-2.3 0.5M107.2 110.8l3-0.1 3-0.8 5-2.8 6.1-1.8 2-1.2 1.7-1.4 1.7-2 1.3-2.4 1.7-5.7 2.2-3.6 0.7-1.7 0.6-2 0.2-2.4-0.2-2.7-0.7-2.7-2.8-5-1.8-6-1.2-2-1.4-1.7-2-1.8-2.4-1.3-5.7-1.6-3.6-2.2-1.7-0.8-2-0.5-2.4-0.3-2.7 0.2-2.7 0.8-5 2.8-6 1.8-2 1.1-1.7 1.4-1.8 2.1-1.3 2.3-1.6 5.7-2.2 3.7-0.8 1.7-0.5 2-0.3 2.3 0.2 2.7 0.8 2.7 2.8 5 1.8 6.1 1.1 2 1.4 1.7 2.1 1.7 2.3 1.3 5.7 1.7 3.7 2.2 1.7 0.7 3.7 0.8M100.1 102.4l-1-0.8-1-2.2-3.3-2.2-1.8-1.9-1.7-2.7-2.1-1-0.8-1-0.1-1 0.8-2.3-0.6-2.7-0.2-2 0.2-2 0.6-3.1-0.8-2 0.1-1 0.8-1 2.1-1 2.3-3.3 1.8-1.8 2.7-1.7 1-2.1 1-0.8 1-0.1 2 0.8 3.1-0.6 2-0.2 2 0.2 2.7 0.6 2.3-0.8 1 0.1 1 0.8 1 2.1 3.4 2.3 1.7 1.8 1.7 2.7 2.2 1 0.8 1 0 1-0.7 2 0.6 3.1 0.1 2-0.1 2-0.7 2.7 0.8 2.3 0 1-0.8 1-2.2 1-2.2 3.4-1.9 1.7-2.7 1.7-1 2.2-1 0.8-1 0-2.3-0.8-2.7 0.7-2 0.1-2-0.1-3.1-0.6-2 0.7-1 0M106.5 108.8l3.4 0 3-1 1-0.7 0.7-1 0.2-1-0.2-0.7-0.9-1-0.8-0.4-4.1 0.4-5.3-0.4-0.7 0.2-1.2 1.5 0 0.7 0.3 1 0.9 1 1 0.6 2.7 0.8M93.7 103.8l1.7 0.1 1.3-0.5 0.6-1 0-1.7-4.1-3.7-2.9-3.3-1.3-0.4-1.2 0.4-0.6 0.6-0.4 1.4 0.3 1.6 0.7 1.7 1.2 1.6 1.5 1.4 1.6 1.1 1.6 0.7M120.3 103.7l1.6 0.2 1.7-0.5 2-1.2 1.9-1.8 1.4-2.1 0.6-1.6 0-1.7-0.9-1.3-1.3-0.4-1.3 0.4-3.1 3.6-3.6 3.1-0.4 1 0.1 1 0.6 0.9 0.7 0.4M84.7 89l1 0.2 0.7-0.2 1-0.9 0.3-0.8-0.4-4.7 0.4-5.1-1-1.1-1-0.4-1.4 0.3-1.2 1.2-0.8 1.7-0.4 2.4 0 2.3 0.6 2.4 0.9 1.6 1.3 1.1M130 89l0.7 0.2 1-0.2 1.3-1.1 1-2 0.5-2.3-0.2-3-0.7-2.4-1.3-1.7-1.3-0.5-1.3 0.4-0.9 0.8-0.2 0.7 0.4 4.7-0.4 4.8 0.4 0.7 1 0.9M88 71.6l1.4 0.2 0.9-0.3 3.1-3.6 3.7-3.2 0.3-0.6 0-1-0.7-1.3-1.6-0.6-2 0.4-2 1.1-2.1 1.8-1.5 2.3-0.7 2 0.2 1.7 0.4 0.7 0.6 0.4M126.3 71.7l1 0.1 1-0.2 0.6-0.4 0.4-0.7 0.2-2-1-2.4-1.9-2.3-2.3-1.7-2.4-0.9-1 0-1 0.4-0.6 0.5-0.3 0.7-0.1 1 0.4 0.9 3.3 2.9 3.7 4.1M103.5 62.1l4.7-0.4 5 0.4 0.7-0.5 0.7-0.8 0.1-1.4-0.5-1-0.7-0.6-2-1.1-3-0.4-3 0.3-2.4 0.9-1.4 1.6-0.1 1 0.2 0.7 0.8 1 0.9 0.3"/>
</g>
</g>
<circle cx="108.17" cy="82.58" r="67.30" fill="none" stroke="#333" stroke-width=".5"/>
<rect x="32.75" y="8.85" width="150.85" height="147.45" fill="none" stroke="#7c7c7c" stroke-width=".95"/>
<path d="M32.75 149.70h1.8M183.60 149.70h-1.8M32.75 136.28h1.8M183.60 136.28h-1.8M32.75 122.85h1.8M183.60 122.85h-1.8M32.75 109.43h1.8M183.60 109.43h-1.8M32.75 96.00h1.8M183.60 96.00h-1.8M32.75 82.58h1.8M183.60 82.58h-1.8M32.75 69.15h1.8M183.60 69.15h-1.8M32.75 55.73h1.8M183.60 55.73h-1.8M32.75 42.30h1.8M183.60 42.30h-1.8M32.75 28.88h1.8M183.60 28.88h-1.8M32.75 15.45h1.8M183.60 15.45h-1.8M54.47 8.85v1.8M54.47 156.30v-1.8M108.17 8.85v1.8M108.17 156.30v-1.8M161.88 8.85v1.8M161.88 156.30v-1.8" stroke="#777" stroke-width=".7" fill="none"/>
<g class="t">
<text x="4.1" y="13.3">mm</text>
<text x="31.1" y="153.4" text-anchor="end">-25</text>
<text x="31.1" y="140.0" text-anchor="end">-20</text>
<text x="31.1" y="126.5" text-anchor="end">-15</text>
<text x="31.1" y="113.1" text-anchor="end">-10</text>
<text x="31.1" y="99.7" text-anchor="end">-5</text>
<text x="31.1" y="86.3" text-anchor="end">0</text>
<text x="31.1" y="72.9" text-anchor="end">5</text>
<text x="31.1" y="59.4" text-anchor="end">10</text>
<text x="31.1" y="46.0" text-anchor="end">15</text>
<text x="31.1" y="32.6" text-anchor="end">20</text>
<text x="54.8" y="167.7" text-anchor="middle">-20</text>
<text x="108.2" y="167.7" text-anchor="middle">0</text>
<text x="156.9" y="167.7" textLength="27" lengthAdjust="spacingAndGlyphs">20 mm</text>
<rect x="191.20" y="28.00" width="6.10" height="124.85" fill="url(#jet)"/>
<text x="199.9" y="34.6">0.09</text>
<text x="199.9" y="48.1">0.08</text>
<text x="199.9" y="61.6">0.07</text>
<text x="199.9" y="75.2">0.06</text>
<text x="199.9" y="88.7">0.05</text>
<text x="199.9" y="102.2">0.04</text>
<text x="199.9" y="115.8">0.03</text>
<text x="199.9" y="129.3">0.02</text>
<text x="199.9" y="142.8">0.01</text>
</g>
<text class="cap" x="64.6" y="183.7" textLength="100.8" lengthAdjust="spacingAndGlyphs">(<tspan font-weight="bold">g</tspan>) TSTC (8 strands)</text>
</g>
<g id="ph">
<clipPath id="ch"><circle cx="346.20" cy="83.35" r="67.30"/></clipPath>
<g clip-path="url(#ch)">
<g filter="url(#bl)">
<rect x="275.9" y="13.0" width="140.6" height="140.6" fill="#000084"/>
<path fill="#000096" d="M276.7 153.2l139.3 0 0-139.7-139.6 0 0 139.7zM334.6 83.7l-0.3-0.3 0.2-0.3 0.3-0.2 0.2 0.1 0.2 0.4-0.1 0.2-0.3 0.2zM345.7 83.7l-0.1-0.3 0.3-0.5 0.3-0.1 0.5 0.2 0.1 0.4-0.3 0.4-0.3 0.1zM357.4 83.7l-0.2-0.3 0.1-0.3 0.3-0.2 0.3 0.2 0.2 0.3-0.2 0.2-0.3 0.2z"/>
<path fill="#0000a8" d="M276.7 153.2l139.3 0 0-139.7-139.6 0 0 139.7zM345.7 84l-0.4-0.6 0.2-0.6 0.7-0.3 0.5 0.2 0.4 0.7-0.2 0.5-0.7 0.3zM334.2 83.7l-0.1-0.3 0.4-0.6 0.3-0.1 0.5 0.3 0.1 0.4-0.3 0.5-0.3 0.1zM357.1 83.7l-0.1-0.3 0.3-0.6 0.3-0.1 0.6 0.3 0.1 0.4-0.4 0.5-0.3 0.1z"/>
<path fill="#0000bb" d="M276.7 153.2l139.3 0 0-139.7-139.6 0 0 139.7zM345.7 84.4l-0.6-0.7 0-0.7 0.6-0.7 0.8 0 0.7 0.6 0.1 0.8-0.8 0.7zM334.2 84l-0.3-0.6 0.2-0.6 0.7-0.3 0.5 0.2 0.4 0.7-0.2 0.5-0.7 0.3zM357.1 84l-0.4-0.6 0.2-0.6 0.7-0.3 0.6 0.2 0.3 0.7-0.2 0.5-0.7 0.3z"/>
<path fill="#0000cd" d="M276.7 153.2l139.3 0 0-139.7-139.6 0 0 139.7zM345.9 84.7l-0.9-0.7-0.2-1 0.7-0.9 1-0.1 0.9 0.7 0.2 1-0.7 0.9zM334.4 84.4l-0.6-0.7 0-0.7 0.6-0.7 0.7 0 0.7 0.6 0 0.8-0.6 0.7zM357.2 84.4l-0.6-0.6 0-0.8 0.6-0.7 0.7 0 0.7 0.7 0 0.7-0.6 0.7z"/>
<path fill="#0000df" d="M276.7 153.2l139.3 0 0-139.7-139.6 0 0 139.7zM345.2 84.7l-0.6-1 0-0.7 0.3-0.7 1-0.6 0.6 0 0.7 0.3 0.6 1 0 0.7-0.3 0.7-1 0.6-0.6 0zM334 84.4l-0.5-0.7 0.2-1 0.8-0.6 0.6 0 0.5 0.2 0.3 0.4 0.2 0.7-0.3 0.8-1 0.4zM356.8 84.4l-0.3-0.4-0.2-0.6 0.3-0.9 1-0.4 0.8 0.2 0.5 0.7-0.2 1-0.8 0.6-0.6 0z"/>
<path fill="#0000ed" d="M276.7 153.2l139.3 0 0-139.7-139.6 0 0 139.7zM345.3 85l-0.8-0.6-0.2-0.7 0-0.7 0.2-0.7 0.7-0.6 0.7-0.2 0.6 0 0.7 0.2 0.7 0.6 0.2 0.7 0 0.7-0.2 0.7-0.7 0.6-0.7 0.2zM334.2 84.7l-0.8-0.7-0.1-0.6 0.1-0.7 1.1-0.8 1 0.1 0.6 0.7 0.2 0.7-0.2 0.6-0.6 0.7-0.7 0.1zM357 84.7l-0.7-0.7-0.2-0.6 0.2-0.7 0.3-0.5 0.7-0.3 1 0.1 0.4 0.3 0.4 0.7-0.1 1-1.1 0.8z"/>
<path fill="#0000ff" d="M276.7 153.2l139.3 0 0-139.7-139.6 0 0 139.7zM345.3 85.4l-0.8-0.6-0.4-0.8-0.1-1 0.2-0.7 0.6-0.6 0.7-0.4 1-0.1 0.7 0.2 0.7 0.5 0.4 0.8 0.1 1-0.2 0.7-0.6 0.6-0.7 0.4-0.7 0.1zM334.6 85l-1.2-0.6-0.3-0.7 0-0.7 0.3-0.7 0.4-0.3 0.7-0.3 0.6 0 0.7 0.2 0.4 0.4 0.2 0.7 0 0.7-0.2 0.7-0.4 0.4zM357.3 85l-0.7-0.2-0.4-0.4-0.2-0.7 0-0.7 0.2-0.7 0.4-0.4 0.7-0.2 0.6 0 1.1 0.6 0.3 0.7 0 0.7-0.3 0.7-0.4 0.3-0.7 0.3z"/>
<path fill="#0000ff" d="M276.7 153.2l139.3 0 0-139.7-139.6 0 0 139.7zM345.4 85.7l-0.9-0.5-0.6-0.8-0.2-0.7 0.1-1 0.4-0.8 0.7-0.6 1-0.4 1 0.1 0.7 0.3 0.7 0.7 0.4 1-0.1 1-0.6 1-0.8 0.6-1 0.2zM333.9 85l-0.9-1-0.1-0.6 0.2-1 0.7-0.6 0.7-0.3 0.6-0.1 0.7 0.3 0.6 0.6 0.3 0.7-0.3 1.4-0.9 0.8-0.7 0.1zM356.6 85l-0.6-0.6-0.3-0.7 0.3-1.4 0.9-0.8 0.7-0.1 0.7 0.2 0.7 0.4 0.4 0.7 0.1 0.7-0.2 0.9-0.7 0.6-0.7 0.3-0.6 0.1z"/>
<path fill="#0010ff" d="M276.7 153.2l139.3 0 0-139.7-139.6 0 0 139.7zM345.6 86l-1.1-0.5-0.6-0.7-0.4-1.1 0-1 0.5-1 0.9-0.7 1-0.4 1 0.1 1 0.5 0.7 0.8 0.3 1 0 1-0.5 1-0.8 0.7-1.1 0.4zM334.1 85.4l-0.7-0.4-0.5-0.6-0.3-1 0.2-0.7 0.4-0.7 0.9-0.7 1-0.1 0.7 0.2 0.7 0.6 0.3 0.7 0.1 0.7-0.2 1-0.9 0.9-0.7 0.2zM356.8 85.4l-0.5-0.3-0.6-0.7-0.2-1 0.1-0.8 0.3-0.6 0.7-0.6 0.7-0.2 1 0.1 0.7 0.4 0.5 0.6 0.3 1.1-0.2 0.6-0.4 0.7-0.9 0.7z"/>
<path fill="#0024ff" d="M276.7 153.2l139.3 0 0-139.7-139.6 0 0 139.7zM346 86.4l-1.1-0.3-0.9-0.7-0.6-1-0.2-1 0.3-1.4 0.7-0.9 1-0.6 1-0.2 1 0.2 1 0.6 0.7 0.9 0.3 1.4-0.3 1.3-0.7 0.9-1 0.6zM333.7 85.4l-0.6-0.4-0.6-1-0.1-0.6 0.3-1.1 0.5-0.6 0.9-0.5 1-0.2 1 0.3 0.6 0.7 0.3 0.7 0.1 1-0.3 0.9-0.7 0.7-0.6 0.3-1 0zM356.3 85.4l-0.6-0.7-0.3-0.7-0.1-1 0.3-0.9 0.7-0.7 0.6-0.3 1 0 1.1 0.4 0.9 1.2 0.1 0.7-0.3 1-0.5 0.6-0.9 0.5-1 0.2z"/>
<path fill="#0038ff" d="M290.2 152.8l0.4 0.4 111.2 0 3.8-2.9 3.7-3.1 3.4-3.1 3.3-3.5 0-114.5-6-6-4.1-3.4-4.1-3.2-111.2 0-3.8 2.9-3.7 3.1-3.4 3.1-3.3 3.5 0 114.5 3.3 3.5 3.3 3zM345.4 86.7l-1.2-0.6-0.8-0.7-0.6-1.4 0-1.3 0.4-1 1-1.1 1.3-0.6 1.4 0 1 0.4 1.1 0.9 0.6 1.4 0 1.3-0.6 1.4-1.1 0.9-1.4 0.5zM333.7 85.7l-0.6-0.3-0.8-1-0.2-1 0.2-1.1 0.8-1 1-0.5 1-0.1 1 0.3 0.7 0.5 0.5 1.2 0.1 1-0.3 1-0.5 0.7-0.8 0.4-1 0.2zM356.3 85.7l-0.7-0.5-0.5-1.2 0-1.3 0.4-1 0.8-0.7 1-0.3 1 0.1 1 0.5 0.8 1 0.2 0.7-0.1 1-0.3 0.7-0.6 0.7-1 0.5-1 0.1z"/>
<path fill="#0050ff" d="M309.3 152.9l0.7 0.3 72.4 0 5.1-2.5 4.7-2.7 4.7-3.1 4.3-3.3 4.1-3.5 4-4.1 3.4-4 3.3-4.4 0-84.5-5-6.4-5.4-5.7-6-5.2-6.7-4.7-5.1-2.9-5.4-2.7-72.4 0-5.1 2.5-4.7 2.7-4.7 3.1-4.3 3.3-4.1 3.5-4 4.1-3.4 4-3.3 4.4 0 84.5 3.3 4.4 3.4 4 3.7 3.7 4 3.6 4.4 3.4 4.3 2.9 4.7 2.8zM345.1 87l-1.3-0.6-1-1.2-0.4-1.5 0.1-1.4 0.7-1.3 1.1-1 1.6-0.5 1.3 0.1 1.3 0.7 1.1 1.2 0.4 1.5-0.1 1.4-0.7 1.3-1.3 1.1-1.4 0.4zM333.7 86l-1.1-0.6-0.5-0.7-0.3-1 0.2-1.4 0.6-1 1.2-0.7 1.3-0.2 1 0.2 1 0.7 0.5 1 0.1 1.1-0.3 1.3-0.6 0.9-1 0.6-1 0.1zM356.2 86l-0.9-0.6-0.6-1.4 0-1.3 0.4-1 0.5-0.6 1-0.6 1-0.1 1.4 0.4 0.8 0.5 0.6 1 0.2 1.4-0.3 1-0.7 0.8-1.3 0.7-1 0.1z"/>
<path fill="#0068ff" d="M339.8 152.5l6.1 0.2 6-0.2 6-0.6 5.8-1 5.7-1.4 5.7-1.8 5.3-2.2 5.4-2.7 4.7-2.9 4.7-3.3 4.4-3.7 4-4 3.7-4.3 3.3-4.6 3-4.8 2.4-4.9 0-53.9-1.9-3.9-2.3-4.1-2.2-3.3-2.6-3.4-5.4-6-6.1-5.3-6.7-4.7-7.4-4-4-1.8-4-1.5-8.4-2.3-8.4-1.5-6.4-0.5-6.3-0.1-6.4 0.4-6.1 0.8-6 1.3-6 1.8-5.8 2.2-5.3 2.5-5.1 3-5 3.4-4.7 3.8-4.3 4.2-3.8 4.3-3.5 4.7-3.1 5.1-2.4 4.9 0 53.9 2.4 4.9 2.9 4.7 2.4 3.4 2.6 3.3 2.8 3.1 3 2.9 6.4 5.2 3.7 2.6 3.7 2.2 3.7 1.9 4 1.8 4 1.6 4.4 1.4 4.3 1.2 4.4 0.9zM344.7 87.4l-1.5-1-0.9-1.4-0.3-1.3 0.2-1.7 1-1.6 1.3-1 1.4-0.3 1.6 0.2 1.4 0.8 1 1.2 0.5 1.7-0.2 1.7-1 1.6-1.3 1-1.7 0.4zM333.7 86.4l-1.1-0.7-0.6-0.7-0.5-1.3 0.1-1.4 0.6-1 1.2-0.9 1.4-0.3 1.5 0.2 1.2 1 0.4 1 0.1 1.4-0.2 1-0.7 1.1-1 0.6-1.3 0.2zM356.1 86.4l-1.2-1-0.4-1-0.1-1.4 0.3-1.3 0.8-1 0.8-0.4 1.3-0.2 1.4 0.3 1.2 0.9 0.6 1 0.1 1.4-0.3 1-0.6 0.9-1.3 0.8-1.4 0.2z"/>
<path fill="#0080ff" d="M339.8 145.8l7.1 0.2 6.7-0.3 6.7-0.9 6.4-1.4 6.4-2 6-2.5 5.7-3 5-3.2 5.1-4 4.3-4.2 4.1-4.9 3.5-5 2.9-5.4 2.5-5.7 1.7-5.7 1.2-6.1 0.5-6 0-6-0.7-6.1-1.4-6-1.9-5.7-2.5-5.7-3.1-5.4-3.8-5.1-4.1-4.6-4.6-4.2-5-3.8-5.4-3.3-6-2.9-6.1-2.3-6.3-1.8-6.8-1.3-7-0.7-7-0.1-7.1 0.5-7 1.1-6.8 1.7-6.7 2.4-6 2.9-5.7 3.4-5.4 3.9-4.9 4.5-4.2 4.7-3.9 5.3-3.2 5.7-2.5 5.7-1.9 6.1-1.3 6.4-0.5 6.3 0.1 6.4 0.8 6.4 1.5 6.4 2.2 6 2.8 5.7 3.6 5.7 4 5.1 4.6 4.7 5.2 4.2 5.3 3.6 6.1 3.3 6.4 2.6 6.7 2.1 6.7 1.4zM345.6 88l-1.7-0.6-1.2-1-0.9-1.7-0.2-1.7 0.4-1.7 1.2-1.5 1.7-1 1.6-0.2 1.7 0.5 1.5 1.2 0.9 1.7 0.2 1.7-0.6 1.9-1.2 1.4-1.5 0.9zM333.8 86.7l-1.4-0.7-0.8-1-0.5-1.6 0.3-1.4 0.7-1 1.3-0.9 1.7-0.3 1.7 0.4 1 1 0.5 1.1 0 1.7-0.4 1.4-0.9 1-0.9 0.4-1 0.1zM356.1 86.7l-1.1-0.7-0.8-1.3-0.2-1.7 0.5-1.7 0.9-1 1.2-0.4 1.3 0 1.4 0.3 1 0.8 0.8 1.3 0.1 1.4-0.4 1.3-0.8 1-1 0.6-1.4 0.3z"/>
<path fill="#0094ff" d="M339.8 140.1l6.1 0.2 6.3-0.2 6.1-0.7 6-1.2 5.7-1.6 5.7-2.2 5.4-2.6 4.7-2.9 4.7-3.5 4-3.6 3.8-4.2 3.2-4.4 2.8-4.7 2.4-5 1.8-5.4 1.3-5.4 0.6-5.3 0.2-5.7-0.5-5.7-1-5.4-1.7-5.4-2.1-5-2.7-5-3.2-4.7-3.5-4.2-4.1-3.9-4.3-3.5-5.1-3.2-5.3-2.8-5.4-2.2-5.7-1.8-6-1.3-6.8-0.9-6.7-0.3-6.7 0.2-6.7 0.8-6.4 1.4-6.3 2-5.7 2.4-5.4 2.9-5.1 3.3-4.7 3.9-4 4.1-3.7 4.7-3.2 5.1-2.6 5.3-2 5.7-1.4 5.8-0.7 6 0 6 0.6 6.1 1.3 5.7 1.9 5.7 2.5 5.4 3.3 5.3 3.7 4.7 4 4.2 4.7 3.9 5 3.4 5.8 3.1 5.7 2.4 6.3 2 6.4 1.4zM345 88.4l-1.8-1-1.2-1.4-0.7-1.6 0-2.1 0.9-2 1.3-1.3 1.7-0.7 2 0 1.7 0.7 1.5 1.7 0.7 1.6 0 2.1-0.9 2-1.4 1.3-1.9 0.8zM334 87l-1.6-0.6-1.2-1.4-0.4-1.6 0.3-1.5 1-1.3 1.3-0.8 1.7-0.3 1.7 0.3 1 0.9 0.8 1.6 0.1 1.7-0.4 1.4-0.8 1-0.7 0.5-1.3 0.3zM356.1 87l-1.2-0.6-0.9-1.4-0.3-1.6 0.4-2.1 0.8-1 1.4-0.7 1.3-0.1 1.7 0.4 1 0.7 1 1.3 0.3 1.5-0.3 1.4-1 1.3-1 0.7-1.7 0.4z"/>
<path fill="#00acff" d="M343.2 135.4l6 0 5.7-0.5 5.7-0.8 5.7-1.3 5.4-1.8 5-2.1 4.7-2.6 4.4-2.9 4-3.3 3.7-3.7 3.2-3.9 2.8-4.3 2.5-4.7 1.8-4.7 1.3-4.7 0.9-5 0.3-5.1-0.2-5.3-0.8-5.1-1.3-5-1.7-4.7-2.4-4.7-2.7-4.4-3.2-4-3.6-3.7-3.9-3.3-4.4-3-4.7-2.6-5-2.2-5.4-1.9-5.7-1.4-5.7-0.9-6.4-0.5-6.4 0-6.3 0.6-6.1 1-6 1.5-5.4 2-5.4 2.5-4.7 2.8-4.6 3.4-4 3.7-3.5 4-3.1 4.4-2.6 4.7-2.2 5-1.5 5.4-1 5.3-0.3 5.4 0.3 5.4 0.8 5.4 1.5 5.3 2 5.1 2.8 5 3.3 4.7 3.5 4 4 3.7 4.6 3.4 4.7 2.8 5.4 2.5 5.4 2 6 1.5 6.4 1.1zM344.6 88.7l-1.8-1-1.3-1.7-0.8-2 0.1-1.7 0.9-2 1.5-1.6 2-0.9 2 0 2 0.9 1.5 1.6 0.9 2 0.1 1.1-0.1 1-1 2.2-1.7 1.6-2 0.8-1 0zM334 87.4l-1.9-0.9-1-1-0.5-1.5 0-1.7 0.5-1.1 1.3-1.2 2.1-0.8 2 0.1 1.3 0.8 0.9 1.2 0.4 1.7-0.2 1.7-0.9 1.7-1.2 0.9-1.3 0.2zM355.9 87.4l-1.5-1-0.8-1.4-0.3-1.6 0.4-2.1 0.9-1.2 1.3-0.8 1.7-0.1 1.7 0.4 1.2 0.7 1 1.4 0.4 1.7-0.4 1.6-1 1.4-1.2 0.7-1.7 0.4z"/>
<path fill="#00c4ff" d="M342.2 131l5.3 0.1 5.4-0.3 5.4-0.6 5-1 4.7-1.3 4.7-1.7 4.4-2 4-2.3 3.7-2.6 3.7-3.2 3.1-3.2 2.9-3.7 2.3-3.7 2-4 1.7-4.4 1.1-4.4 0.7-4.3 0.3-4.7-0.2-4.7-0.7-4.7-1.2-4.7-1.7-4.4-2-4-2.6-4-2.9-3.7-3.3-3.4-3.5-3-4.1-2.7-4.3-2.4-4.4-1.9-4.7-1.7-5-1.2-6.1-1-6-0.5-6.4-0.1-6.4 0.5-5.7 0.9-5.7 1.3-5.3 1.9-5.1 2.3-4.7 2.7-4 3-3.7 3.4-3.5 3.9-3 4.4-2.4 4.3-1.8 4.7-1.4 5.1-0.8 5.3-0.2 5.4 0.5 5.4 1 5 1.7 5 2.2 4.7 2.7 4.4 3.5 4.4 3.7 3.6 4.2 3.3 4.7 3 5 2.5 5.4 1.9 5.7 1.6 6 1zM345.3 89.4l-1.8-0.7-1.8-1.7-1.3-2.3-0.3-1.7 0.9-2.3 1.6-2 1.9-1.2 1-0.2 1.4 0 2 0.7 1.7 1.5 0.8 1.2 0.6 1.3 0.3 1.7-0.9 2.3-0.8 1.2-1 1-2.1 1.1-1 0.2zM334.2 87.7l-1.8-0.6-1.3-1.1-0.8-1.6 0-2.1 0.8-1.6 1.7-1.3 2-0.5 2 0.2 1.3 0.8 1 1.4 0.4 1.7-0.2 1.7-0.8 1.7-1.1 1-1.6 0.4zM356 87.7l-1.4-0.6-0.7-0.7-0.6-1-0.5-2 0.5-2.1 1-1.4 1.3-0.8 1.7-0.2 2 0.4 1.7 1 0.9 1.4 0.3 1.7-0.3 1.6-0.9 1.4-1.6 1-1.8 0.4z"/>
<path fill="#00dcfe" d="M339.2 127l5 0.3 5-0.1 5.1-0.3 4.7-0.6 4.3-0.8 4.4-1.2 4-1.5 3.7-1.6 3.7-2 3.3-2.3 3.1-2.5 2.9-2.9 2.5-3 2.3-3.3 1.9-3.4 1.6-3.7 1.3-4 0.9-4 0.5-4.1 0-4.3-0.4-4.4-0.8-4-1.2-4-1.6-3.7-1.9-3.7-2.3-3.4-2.7-3.2-3-3-3.4-2.7-3.3-2.3-4.1-2.1-4-1.7-5-1.7-5.7-1.2-6.1-0.8-6.4-0.4-6.3 0.2-6.4 0.6-5.7 1-5.4 1.5-4.7 1.9-4.7 2.3-4 2.7-3.9 3.2-3.5 3.6-2.9 3.8-2.4 4-1.9 4.4-1.6 5-0.9 5.1-0.2 5.3 0.4 5.1 1 5 1.7 5 2.3 4.7 2.8 4.4 3.4 4 3.7 3.4 4 2.9 4.7 2.7 5 2.2 5.4 1.7 5.7 1.2zM344.7 89.7l-1.2-0.5-1.3-1-2.4-2.9-1.7 2.1-1.3 0.6-2.3 0-1.4-0.3-1-0.4-1.1-0.9-0.9-1.6-0.2-1.8 0.4-1.7 0.8-1.1 1.2-0.9 1.5-0.5 1.7-0.2 1.3 0.1 1 0.5 2 2.2 1.9-2.4 1.1-1.1 1.7-0.9 1.7-0.3 1.7 0.3 1.7 0.9 1.1 1.1 1.9 2.4 2-2.2 1-0.5 1.3-0.1 1.7 0.2 1.5 0.5 1.2 0.9 0.8 1.1 0.4 1.7-0.2 1.8-0.9 1.6-1.3 1-2.2 0.6-2.3 0-1.3-0.6-1.7-2.1-2 2.5-1.7 1.4-2 0.7-1 0.1z"/>
<path fill="#09f0ee" d="M339.8 123.6l4.7 0.2 5.1 0 4.7-0.3 4.3-0.5 4.4-0.8 3.7-0.9 3.7-1.3 3.3-1.4 3.4-1.7 3-1.9 3-2.4 2.6-2.4 2.4-2.7 2.1-2.7 1.8-3 1.6-3.3 1.3-3.7 1-3.7 0.5-3.7 0.3-4-0.3-4.1-0.5-3.7-1-3.7-1.3-3.7-1.6-3.3-2.1-3.4-2.3-3-2.5-2.7-3-2.6-3-2.1-3.4-2-3.7-1.8-4.7-1.7-5.3-1.3-5.7-0.9-6.1-0.5-6.7 0-6.4 0.4-5.7 0.8-5.3 1.2-4.7 1.6-4.4 2-4 2.4-3.7 2.8-3.3 3.1-2.8 3.3-2.4 3.7-2 4-1.6 4.7-1 4.7-0.5 5.1 0.3 5 0.9 5 1.5 4.7 2 4.4 2.8 4.4 3.1 3.7 3.7 3.3 4 2.9 4.3 2.4 4.7 1.9 5.1 1.5 5.7 1.1zM345.3 90.4l-1.1-0.3-1.4-0.8-3-3-1.7 1.5-1.6 0.6-2.4-0.1-2.4-0.9-1.4-1.4-0.6-1.6 0-2.1 0.6-1.6 0.8-0.9 1-0.7 2-0.7 1.4-0.1 1.3 0.1 1 0.3 2 1.7 2-2.1 1.4-1.1 1.3-0.7 1.7-0.3 1.7 0.3 1.3 0.7 1.4 1.1 2 2.1 2-1.7 1-0.3 1.7-0.1 1.7 0.3 1.3 0.5 1 0.7 1 1.2 0.5 2-0.2 2-0.7 1.4-1.6 1.2-2.4 0.7-2.3 0-1.3-0.5-1.7-1.5-2.3 2.4-1.4 1-1.7 0.7z"/>
<path fill="#1cffdb" d="M341.2 120.6l9.7 0 8.4-0.7 7-1.5 3.4-1 3-1.3 3-1.5 3.1-1.9 2.6-2 2.4-2.1 2.2-2.4 1.8-2.4 1.7-2.7 1.6-3 1.3-3.3 0.9-3.4 0.6-3.7 0.3-3.3-0.1-3.7-0.4-3.4-0.8-3.7-1.1-3.3-1.6-3.4-1.7-3-2-2.8-2.3-2.6-2.5-2.3-2.9-2.2-3.1-1.9-3-1.5-4.3-1.7-4.7-1.3-5.1-0.9-5.7-0.5-7-0.2-7.1 0.2-6 0.6-5.4 1.1-4.4 1.3-4 1.7-3.7 2-3.7 2.5-3.3 3.1-2.7 3-2.3 3.4-2 3.7-1.6 4.3-1.1 4.7-0.4 4.7 0.2 5.1 0.9 4.7 1.5 4.7 1.9 4 2.6 4 3 3.4 3.7 3.3 3.7 2.5 4.3 2.3 4.7 1.7 5.1 1.3 5.3 0.9zM344.5 90.7l-2-1.1-2.7-2.6-2 1.4-1.7 0.3-2.7-0.3-2.3-1-1-1.1-0.5-0.9-0.3-1.4 0-1.7 0.8-2 1-1 1-0.5 1.3-0.5 1.7-0.3 1.7 0 1 0.3 2 1.4 3.4-3.1 1.7-0.7 1.3-0.2 1.3 0.2 1.7 0.7 3.4 3.1 2-1.4 1-0.3 1.7 0 1.7 0.3 1.3 0.5 1 0.5 1 1.1 0.8 1.9 0 2.1-0.8 1.9-1.3 1.3-2 0.8-2.7 0.3-1.7-0.3-2-1.4-2.7 2.6-1.7 1-1.7 0.4z"/>
<path fill="#30ffc7" d="M337.5 117.6l9.7 0.2 9.1-0.3 6.3-0.8 6.1-1.6 3-1.1 2.7-1.3 4.7-3 2.3-2 2.1-2 1.8-2.2 1.7-2.4 1.5-2.6 1.3-3.1 1-3 0.8-3.3 0.4-3.4 0-3.4-0.2-3.3-0.6-3-0.8-3.1-1.1-3-1.5-3-1.7-2.7-2.1-2.7-2.2-2.2-2.4-2-2.7-1.9-3.6-2.1-4.4-1.7-4.4-1.2-4.7-0.9-6-0.5-8.1-0.1-7.4 0.2-6 0.5-4.4 0.8-4 1.2-3.7 1.4-3.7 2-3 2-3 2.6-2.7 2.9-2.2 3.1-2.1 4-1.6 4.4-1 4.3-0.3 4.7 0.2 4.7 1 4.7 1.5 4.4 2.1 4 2.7 3.7 3.1 3.2 3.3 2.7 4 2.5 4.4 1.9 4.4 1.3 5 1zM344.8 91.4l-2-1-3-2.7-2 1.1-2 0.2-2.7-0.4-2.1-0.9-1.3-1.3-0.7-2 0.1-2.5 0.9-1.9 1-1 1.1-0.6 2.7-0.7 1.7 0 1.3 0.2 2 1.1 2.4-2.2 1.3-0.9 1.4-0.6 1.3-0.2 1.3 0.2 1.4 0.6 1.3 0.9 2.4 2.2 2.3-1.2 1.4-0.1 1.6 0.1 2.1 0.5 1.3 0.7 1.4 1.3 0.7 2 0 2.1-0.7 2-1.4 1.3-2 0.9-2.7 0.4-2-0.2-2-1.1-2.7 2.4-1.4 0.9-2 0.6z"/>
<path fill="#40ffb7" d="M334.8 114.9l6.7 0.2 13.8-0.1 5.7-0.4 5-1 5.4-1.8 4.7-2.5 4-3 3.5-3.8 1.7-2.4 1.5-2.7 1.2-2.6 1-3.1 0.7-3 0.3-3 0.1-3-0.2-3-0.5-3.1-0.8-3-1-2.7-1.3-2.7-1.7-2.6-1.8-2.4-2-2.2-2.4-2-3.3-2.2-4.1-2-4-1.4-4.7-1.1-4.4-0.5-5-0.2-12.7 0-5.7 0.2-4.1 0.5-3.7 0.7-3.7 1.1-3.3 1.4-3 1.7-3.1 2.1-2.6 2.4-2.2 2.5-2.3 3.4-2 4-1.4 4.4-0.7 4.3-0.1 4.7 0.6 4.4 1.1 4.4 1.7 4 2.3 3.7 2.6 3.2 3.2 2.8 3.5 2.4 3.7 1.9 4.4 1.5 4.4 1zM345 92.1l-2.2-1.1-3-2.6-2.3 0.8-2.4 0.1-3-0.7-2-1.2-1.1-1.7-0.4-2.3 0.3-2.1 0.5-1 0.7-1 2-1.2 3-0.7 2.4 0.1 2.3 0.8 3.7-3 1.4-0.6 1.3-0.2 1.3 0.2 1.4 0.6 3.7 3 2.7-0.9 3 0.2 1.7 0.4 1.3 0.6 1 0.7 0.7 1 0.5 1 0.2 1.4-0.1 2.3-0.8 1.7-0.5 0.7-1 0.7-2 0.8-2.7 0.4-2-0.1-2-0.8-2.7 2.3-1.4 0.9-1.6 0.6z"/>
<path fill="#53ffa4" d="M333.4 112.6l23.2 0.1 4.4-0.3 3.7-0.6 4.7-1.3 4.3-1.9 4-2.7 3.4-3.1 1.9-2.3 1.5-2.3 1.2-2.4 1.1-2.7 0.8-2.7 0.5-3 0.2-2.7 0-3-0.3-3-0.5-2.7-0.8-2.7-1.1-2.7-1.3-2.4-1.6-2.3-1.6-2-2-2-3.4-2.6-3.7-2-4-1.6-4.3-1-3.4-0.5-3.7-0.2-21.1 0-4.1 0.3-3.3 0.5-3.4 0.8-3 1.1-3 1.4-2.7 1.7-2.4 1.8-2.3 2.3-2.6 3.3-2 3.7-1.5 4.1-0.9 4-0.3 4.4 0.3 4.3 0.9 4 1.5 4.1 1.9 3.5 2.4 3.2 2.7 2.7 3.3 2.4 3.7 2 4 1.5 4 0.9zM345 92.7l-1.8-0.9-3.4-2.9-2.7 0.8-2-0.1-3-0.7-2-1.1-1.1-1.4-0.5-1.4-0.2-1.3 0.3-2.4 0.4-1 0.7-1 1.9-1.3 3.2-0.8 2.3-0.2 2.7 0.8 3.7-3.2 1.4-0.6 1.3-0.2 1.3 0.2 1.4 0.6 3.7 3.2 2.7-0.8 3 0.3 3 0.9 1.1 0.8 0.8 1 0.7 1.7 0.1 2.3-0.6 2.4-1.1 1.4-2 1.1-3 0.7-2 0.1-2.7-0.8-3 2.7-1.4 0.8-1.7 0.5z"/>
<path fill="#66ff90" d="M333.1 110.5l3.7 0 9.4-0.4 12.1 0.5 3-0.2 3-0.4 4.4-1.1 4-1.7 3.4-2 3.1-2.7 1.8-2 1.5-2 1.3-2.4 1.1-2.3 0.8-2.4 0.6-2.7 0.4-2.7 0.1-2.6-0.1-2.7-0.4-2.7-0.6-2.7-1-2.7-1-2.3-1.4-2.4-1.5-2-1.7-1.8-3-2.6-3.7-2.2-4-1.6-4.1-1-5.7-0.6-12.4 0.5-11.4-0.5-3.4 0.2-3 0.3-3 0.7-2.7 0.8-2.7 1.2-2.3 1.3-2.4 1.7-2.1 1.9-2.6 3-2 3.4-1.6 3.7-1 4-0.4 4 0.2 4.4 0.7 4 1.3 3.7 1.8 3.6 2.3 3.1 2.8 2.8 3 2.2 3.3 1.8 3.7 1.3 4 0.9zM344.7 93.4l-1.5-0.9-3.4-3-2.7 0.5-3-0.3-3-0.9-1.6-1.1-0.9-1.3-0.4-1.4-0.2-1.3 0.3-2.4 0.9-2 0.9-0.8 1-0.6 3-0.9 3-0.3 2.7 0.5 4.1-3.5 1.3-0.6 1-0.1 1 0.1 1.3 0.6 4.1 3.5 2.7-0.5 3 0.3 3 0.9 1 0.6 0.9 0.8 0.6 1 0.4 1.4 0.1 2.7-0.5 2-0.6 1-0.9 0.8-2 1-2.7 0.6-2.3 0.2-2.7-0.5-3 2.7-1.4 1-1.7 0.5z"/>
<path fill="#7aff7d" d="M329.8 108.5l5.7 0.1 8-0.9 2.7-0.2 2.7 0.2 8.4 1 3 0 3-0.2 3.7-0.7 3.7-1.3 3.4-1.7 2.7-2 1.8-1.7 1.5-1.7 1.4-2 1.3-2.3 0.9-2.4 0.8-2.3 0.8-5-0.1-5.1-1-5-0.8-2.4-1.2-2.3-1.2-2-1.5-2-1.8-1.9-2-1.7-2-1.3-2.3-1.2-2.4-1-2.7-0.7-2.6-0.5-3.1-0.3-4.3 0.1-9.8 1.1-2.6-0.1-9.1-1.1-3 0-3.1 0.3-3.6 0.7-3.4 1.2-3.4 1.7-2.7 2-2.6 2.6-2.1 2.8-1.7 3.3-1.3 3.7-0.7 3.7-0.2 4 0.4 4 0.9 3.7 1.3 3.4 1.8 3 2.2 2.9 2.7 2.4 3.1 2 3 1.4 3.7 1.1zM345 94.4l-1.8-1.1-3.4-3.3-3 0.3-3.7-0.5-2.8-1.1-1.2-0.9-1-1.9-0.4-2.5 0.4-2.6 1-1.9 1.2-0.9 2.8-1.1 3.7-0.5 3 0.3 4.1-3.8 1.3-0.7 1-0.2 1 0.2 1.3 0.7 4.1 3.8 3-0.3 3.7 0.5 2.8 1.1 1.3 1 0.8 1.3 0.3 1 0.2 2.7-0.5 2.4-0.8 1.3-0.8 0.7-2.3 1.1-2 0.5-2.7 0.3-3-0.3-3 3-1.4 1-1.7 0.6z"/>
<path fill="#8aff6d" d="M328.4 106.9l3.4 0.2 3.3-0.2 3.4-0.6 5.7-1.3 2-0.2 2.3 0.2 5.4 1.3 3 0.6 3.4 0.2 3-0.2 3.4-0.5 3-1 3-1.4 2.7-1.7 1.7-1.5 1.6-1.7 2.5-3.7 1.8-4.3 0.9-4.7 0.1-5.1-0.8-4.7-1.5-4.3-1.1-2-1.4-2.1-1.5-1.7-1.6-1.5-2-1.5-2.1-1.2-2.3-1-2.4-0.8-2.3-0.5-2.7-0.3-3 0-3 0.2-7.8 1.8-2.3 0.2-2.3-0.2-5.4-1.3-3-0.6-3.4-0.2-3 0.2-3.4 0.5-3 1-3 1.4-2.7 1.7-2.4 2.2-2.1 2.7-1.8 3-1.3 3.3-0.8 3.7-0.3 3.7 0.2 3.7 0.7 3.7 1.2 3.4 1.4 2.6 1.9 2.7 2.3 2.4 2.7 1.9 3 1.6 3.4 1.2zM345.2 95.8l-1.7-1.2-2.7-3.2-1-0.8-2.7 0-3-0.3-2.3-0.6-2.1-1-1.1-1-0.7-1.3-0.4-2-0.1-1.7 0.2-1.4 0.5-1.4 0.5-0.9 1.1-1 2.1-1 2.3-0.6 3-0.3 2.7 0 1-0.8 3.1-3.5 1-0.7 1.3-0.4 1.3 0.4 1 0.7 3.1 3.5 1 0.8 2.7 0 3 0.3 2.3 0.6 2.1 1 1.1 1 0.7 1.3 0.4 2 0.1 1.7-0.2 1.4-0.5 1.4-1 1.4-1 0.8-2 0.8-2.4 0.5-2.6 0.3-2.7 0-1 0.8-2.4 2.9-1 0.9-1.3 0.7-0.7 0.1z"/>
<path fill="#9dff5a" d="M328.7 105.5l4.4 0 4.4-0.7 3.7-1.4 4.3-2.7 0.7-0.2 0.7 0.2 3.9 2.5 2.4 1 3.4 1 3.7 0.4 4-0.2 3.7-0.7 3.4-1.3 3-1.8 3-2.8 2.4-3.4 1.8-4 1.1-4.7 0.2-4.7-0.7-4.7-1.5-4.4-2.2-3.6-2.8-3.1-1.6-1.3-2.1-1.2-2-1-2.3-0.8-2.4-0.5-2.3-0.3-4.4 0.1-4 0.8-3.4 1.3-4.3 2.7-0.7 0.2-0.7-0.2-3.9-2.5-2.4-1-3.4-1-3.7-0.4-4 0.2-3.7 0.7-3.4 1.3-3 1.8-2.4 2.1-2.2 2.7-1.7 3-1.1 3.1-0.8 3.3-0.3 3.7 0.2 3.7 0.7 3.4 1 3 1.6 3 2 2.7 2 2 2.7 1.9 2.7 1.3 3 0.9zM345.9 98.8l-0.7-0.5-1-1.1-2.9-4.5-1.5-1.6-4.6-0.4-2.1-0.4-2.2-0.6-1.8-1-1-1.1-0.6-1.2-0.4-3 0.4-3.1 0.6-1.2 1-1.1 1.8-1 2.2-0.6 2.1-0.4 4.6-0.4 1.3-1.3 3.4-5.2 1-1 0.7-0.3 0.7 0.3 1 1 3.4 5.2 1.3 1.3 4.6 0.4 2.1 0.4 2.2 0.6 1.8 1 1 1.1 0.6 1.2 0.4 3.1-0.4 3-0.6 1.2-1 1.1-1.8 1-2.2 0.6-2.1 0.4-4.6 0.4-1.3 1.3-3.4 5.2-1 1-0.7 0.3z"/>
<path fill="#b1ff46" d="M328.7 104.5l2.7 0.1 2.4-0.3 2.3-0.5 2.1-0.6 1.9-1.1 1.4-1.1 0.9-1.2 0.4-1.3-0.2-1.7-1-2.7-0.9-1.7-0.9-0.8-0.6-0.3-5.3-0.6-3.6-1-1.9-1.3-0.7-1-0.4-1-0.4-2 0.1-3.1 0.7-2 0.7-1 1.4-1.1 1.6-0.6 2.7-0.7 5.1-0.5 0.6-0.3 0.9-0.8 0.6-1 1.4-3.7 0.1-1.4-0.4-1.3-0.7-1-1.1-1-1.7-1-2.1-0.8-2-0.6-2.4-0.3-4.3 0.1-4.1 0.8-3.6 1.6-3.1 2-2.6 2.9-2.1 3.3-1.3 3.7-0.8 4.4 0 4.7 0.8 4.4 1.5 4 2.1 3.3 2.8 2.8 3.3 2.2 3.7 1.4zM360 104.5l4.3-0.1 4.1-0.8 3.6-1.6 3.1-2 2.6-2.9 2.1-3.3 1.3-3.7 0.8-4.4 0-4.4-0.7-4.3-1.4-4.1-2.1-3.3-2.6-2.9-3.4-2.2-3.7-1.5-4-0.8-2.7-0.1-2.3 0.2-2.4 0.5-2.3 0.7-2 1.1-1.4 1.1-0.9 1.2-0.4 1.3 0.2 1.7 1 2.7 0.9 1.7 0.9 0.8 0.6 0.3 5.3 0.6 3.6 1 1.9 1.3 0.7 1 0.4 1 0.4 2-0.1 3.1-0.7 2-0.7 1-1.4 1.1-1.6 0.6-2.7 0.7-5.1 0.5-0.6 0.3-0.9 0.8-0.6 1-1.4 3.7-0.1 1.4 0.4 1.3 0.7 1 1.1 1 1.7 1 2.1 0.8 2 0.6z"/>
<path fill="#c4ff33" d="M328.4 103.8l2.7 0.1 2.3-0.2 2.4-0.5 1.9-0.7 1.8-1 1.1-1 1-1.4 0.3-1.3-0.1-1.7-0.5-2-0.7-1.4-0.8-0.9-0.6-0.2-6.1-0.9-3-0.9-1-0.5-1-0.9-1-2-0.4-2.4 0.2-2.7 0.3-1.3 0.9-1.7 1.2-1 1.8-0.8 2-0.5 6.1-0.9 0.6-0.2 1.2-1.6 0.7-2 0.2-1.7-0.1-1.4-0.6-1.3-1-1.1-1.4-1-2-0.9-2.3-0.7-2.4-0.3-4 0-4.1 0.8-3.3 1.4-3.1 2.1-2.5 2.7-2 3.4-1.4 3.7-0.7 4 0 4.4 0.7 4.3 1.4 3.7 2 3.4 2.6 2.8 3 2 3.7 1.5zM360.3 103.8l4 0 4.1-0.8 3.3-1.4 3.1-2.1 2.5-2.7 2-3.4 1.4-3.7 0.7-4 0-4.4-0.7-4.3-1.4-3.7-2-3.4-2.6-2.8-3-2-3.7-1.5-4-0.7-2.7-0.1-2.3 0.2-2.4 0.5-1.9 0.7-1.8 1-1.1 1-1 1.4-0.3 1.3 0.1 1.7 0.5 2 0.7 1.4 0.8 0.9 0.6 0.2 6.1 0.9 3 0.9 1 0.5 1 0.9 1 2 0.4 2.4-0.2 2.7-0.3 1.3-0.9 1.7-1.2 1-1.8 0.8-2 0.5-6.1 0.9-0.6 0.2-1.2 1.6-0.7 2-0.2 1.7 0.1 1.4 0.6 1.3 1 1.1 1.4 1 2 0.9 2.3 0.7z"/>
<path fill="#d4ff23" d="M327.7 103.2l2.7 0.1 2.4-0.2 2.3-0.5 2-0.7 1.7-1 1.3-1.1 0.8-1.3 0.4-1.4 0-1.3-0.3-1.7-0.4-1-0.8-1-1.3-0.4-6-1-2.4-0.7-1-0.5-1-0.8-0.8-1.3-0.4-1-0.3-2.4 0.1-2.7 0.6-2 0.8-1.3 1.4-1 2.6-1 7.4-1.2 0.9-0.8 0.7-1.7 0.2-1.7-0.1-1.7-0.6-1.3-0.8-1-1.3-1.1-1.7-0.8-2-0.7-2.4-0.5-4 0-3.7 0.6-3.3 1.2-3.1 1.9-2.6 2.7-1.9 3-1.3 3.4-0.9 4-0.1 4.4 0.5 4 1.3 4 1.9 3.4 2.4 2.7 2.8 2 3.3 1.5zM360 103.2l4 0 3.7-0.6 3.3-1.2 3.1-1.9 2.3-2.4 2-3 1.5-3.7 0.8-3.7 0.2-4.4-0.5-4-1.2-4-1.8-3.4-2.2-2.7-2.8-2.1-3.4-1.6-4-0.9-2.7-0.2-2.3 0.1-2.4 0.5-2 0.7-2 1.1-1.3 1.1-0.8 1.3-0.4 1.4 0 1.3 0.3 1.7 0.4 1 0.8 1 1.3 0.4 6 1 2.4 0.7 1 0.5 1 0.8 0.8 1.3 0.4 1 0.3 2.4-0.1 2.7-0.6 2-0.8 1.3-1.4 1-2.6 1-7.4 1.2-0.9 0.8-0.7 1.7-0.2 1.7 0.1 1.7 0.6 1.3 0.8 1 1.3 1.1 1.7 0.8 2 0.7z"/>
<path fill="#e7ff0f" d="M326.7 102.5l2.4 0.2 2.7-0.1 2.3-0.4 2.4-0.8 1.6-0.9 1.4-1.1 0.8-1.3 0.5-1.6-0.1-2.4-0.4-1-0.5-0.7-1.3-0.5-6.4-1.1-3-1.1-1.5-1.3-0.9-2-0.3-2.4 0.2-2.7 0.5-2 1-1.5 1-0.8 2.3-0.9 8.1-1.6 0.7-0.6 0.5-1.3 0.2-1.7-0.2-1.3-0.5-1.3-0.8-1.1-1.2-1-1.4-0.8-2-0.7-2-0.5-3.7-0.2-3.7 0.5-3.4 1.1-3 1.7-2.4 2.3-1.9 2.7-1.5 3.3-0.9 3.7-0.3 4.4 0.4 4 1 4 1.7 3.4 2.2 2.8 2.7 2.1 3.4 1.6zM359.6 102.5l3.7 0.2 3.7-0.5 3.4-1.1 3-1.7 2.4-2.3 1.9-2.7 1.5-3.3 0.9-3.7 0.3-4.4-0.4-4-1-4-1.6-3.2-2-2.7-2.7-2.2-3-1.6-3.7-1-2.3-0.3-2.7 0-2.4 0.4-2.3 0.7-1.7 0.9-1.6 1.2-0.9 1.4-0.5 1.3-0.1 1.4 0.2 1.3 0.4 1 0.5 0.7 1.3 0.5 6.4 1.1 3 1.1 1.5 1.3 0.9 2 0.3 2.4-0.2 2.7-0.5 2-1 1.5-1 0.8-2.3 0.9-8.1 1.6-0.7 0.6-0.5 1.3-0.2 1.7 0.2 1.3 0.5 1.3 0.8 1.1 1.2 1 1.4 0.8 2 0.7z"/>
<path fill="#fbf100" d="M329.1 102.2l2.3-0.1 2.4-0.4 2-0.7 1.7-0.8 1.3-1.1 0.8-1 0.7-1.3 0.2-1.7-0.2-1.7-0.8-1-7.4-1.5-2-0.5-1-0.5-1-0.7-0.7-0.8-0.5-1-0.5-2.4-0.1-2.7 0.6-3 0.7-1.3 1.5-1.2 2-0.8 8.3-1.7 0.8-0.8 0.3-1.2-0.1-1.7-0.4-1.3-0.8-1.4-1.2-1-1.5-0.9-2-0.8-2.1-0.4-2.3-0.3-3.7 0.3-3.4 0.9-3 1.5-2.5 2.1-2.1 2.6-1.4 3.1-1.1 3.7-0.4 4 0.2 4 0.8 3.7 1.4 3.4 2 3 2.5 2.2 2.6 1.6 3.4 1.1zM362.3 102.2l3.7-0.3 3.4-0.9 3-1.5 2.5-2.1 2.1-2.6 1.4-3.1 1.1-3.7 0.4-4-0.2-4-0.8-3.7-1.4-3.4-2-3-2.4-2.2-2.7-1.6-3.4-1.1-3.7-0.5-2.3 0.1-2.4 0.4-2 0.7-1.7 0.8-1.3 1.1-0.8 1-0.7 1.3-0.2 1.7 0.2 1.7 0.8 1 7.4 1.5 2 0.5 1 0.5 1 0.7 0.7 0.8 0.5 1 0.5 2.4 0.1 2.7-0.6 3-0.7 1.3-1.5 1.2-2 0.8-8.3 1.7-0.8 0.8-0.3 1.2 0.1 1.7 0.4 1.3 0.8 1.4 1.2 1 1.5 0.9 2 0.8 2.1 0.4z"/>
<path fill="#ffde00" d="M327.1 101.5l2.3 0.1 2.4-0.1 2.3-0.5 2-0.8 1.7-1 1.1-1.1 0.9-1.5 0.4-1.5-0.2-1.7-0.8-0.9-9.1-2-2-1-1-1.1-0.4-1-0.6-3 0.1-2.7 0.5-2.6 1-1.5 1.4-1 1.6-0.6 8.2-1.7 0.9-0.7 0.4-0.7 0-1.3-0.3-1.3-0.7-1.4-0.9-1-1.2-0.9-1.6-0.8-1.7-0.6-2-0.4-3.7-0.1-3.4 0.6-3 1.1-2.7 1.7-2.1 2.1-1.7 2.7-1.3 3.3-0.7 3.4-0.2 4 0.4 4 1 3.7 1.6 3.1 2.1 2.6 2.6 2 3 1.3zM360.6 101.5l3.7 0.1 3.4-0.6 3-1.1 2.7-1.7 2.1-2.1 1.7-2.7 1.3-3.3 0.7-3.4 0.2-4-0.4-4-1-3.7-1.5-3.1-2.1-2.5-2.4-1.9-3-1.4-3.3-0.8-2.7-0.2-2.4 0.1-2.3 0.5-2 0.8-1.7 1-1.1 1.1-0.9 1.5-0.4 1.5 0.2 1.7 0.8 0.9 9.1 2 2 1 1 1.1 0.4 1 0.6 3-0.1 2.7-0.5 2.6-1 1.5-1.4 1-1.6 0.6-8.2 1.7-0.9 0.7-0.4 0.7 0 1.3 0.3 1.3 0.7 1.4 0.9 1 1.2 0.9 1.6 0.8 1.7 0.6z"/>
<path fill="#ffc800" d="M326.1 100.9l2.3 0.2 2.4 0 2.3-0.4 2-0.6 1.7-0.9 1.4-1.1 1.1-1.3 0.6-1.7 0.1-1-0.2-0.7-1-0.8-7.7-1.6-1-0.3-2-1-1.2-1.3-0.7-2-0.3-2.7 0.2-2.7 0.5-2 0.5-1 0.6-0.7 2.4-1.3 8.4-1.8 1-0.5 0.5-0.8 0-1-0.4-1.3-0.5-1-1-1.1-2.3-1.6-3.4-1-3.3-0.3-3.4 0.3-3 0.9-2.7 1.4-2.3 2.1-1.7 2.3-1.3 3-0.9 3.4-0.4 3.7 0.2 4 0.8 3.7 1.4 3.4 1.9 2.6 2.3 2.1 2.7 1.4zM360 100.8l3.3 0.3 3.4-0.3 3-0.9 2.7-1.4 2.3-2.1 1.7-2.3 1.2-2.7 1-3.4 0.4-4-0.2-4-0.8-3.7-1.4-3.4-1.6-2.3-2.3-2.1-2.7-1.6-3.3-1-2.4-0.3-2.7 0-2.3 0.4-2 0.6-1.7 0.9-1.4 1.1-1.1 1.3-0.6 1.7-0.1 1 0.2 0.7 1 0.8 7.7 1.6 1 0.3 2 1 1.2 1.3 0.7 2 0.3 2.7-0.2 2.7-0.5 2-0.5 1-0.6 0.7-2.4 1.3-8.4 1.8-1 0.5-0.5 0.8 0 1 0.4 1.3 0.5 1 1 1.1 2.3 1.6z"/>
<path fill="#ffb200" d="M326.7 100.5l2.4 0.1 2.3-0.1 2-0.4 2.1-0.7 1.6-1 1.4-1.3 0.9-1.3 0.4-1.4-0.2-1-1.1-0.7-7.4-1.5-2-0.7-1.4-0.8-0.6-0.7-0.8-1.6-0.5-3 0.1-3.1 0.4-2 0.6-1.3 0.5-0.7 0.7-0.6 2-0.9 8-1.7 1.4-0.7 0.2-0.5 0-1-0.5-1.3-0.7-1-1-1-1.4-0.9-1.3-0.7-3.4-0.8-3.3-0.1-3 0.4-3.1 1-2.3 1.5-2 1.9-1.8 2.7-1.1 3-0.7 3.4-0.2 4 0.3 3.7 1 3.7 1.5 3 1.9 2.4 2.1 1.6 2.7 1.3zM361 100.5l3.3 0.1 3-0.4 3.1-1 2.3-1.5 2-1.9 1.6-2.4 1.2-3 0.8-3.4 0.3-4-0.4-3.7-0.9-3.7-1.4-3-1.8-2.3-2.1-1.8-2.6-1.4-3.4-0.8-2.3-0.2-2.4 0.1-2.3 0.4-2.1 0.7-1.6 1-1.4 1.3-0.9 1.3-0.4 1.4 0.2 1 1.1 0.7 7.4 1.5 2 0.7 1.4 0.8 0.6 0.7 0.8 1.6 0.5 3-0.1 3.1-0.4 2-0.6 1.3-0.5 0.7-0.7 0.6-2 0.9-8 1.7-1.4 0.7-0.2 0.5 0 1 0.5 1.3 0.7 1 1 1 1.4 0.9 1.3 0.7z"/>
<path fill="#ff9c00" d="M327.7 100.1l2.4 0.1 2-0.3 2-0.5 1.7-0.7 1.7-1.2 1-1 0.8-1.4 0.3-1-0.3-0.7-1.5-0.7-6.7-1.4-2-0.6-1-0.5-1-0.8-1-2-0.4-3 0-3.1 0.4-2 1-2 1-0.8 1-0.5 3-0.8 5.4-1.1 1.3-0.5 0.7-0.7-0.1-1-0.6-1.2-0.9-1.1-1.1-1-2.7-1.3-3.7-0.7-3.3 0-3.1 0.6-2.6 1.1-2.3 1.6-1.7 2-1.5 2.7-1 3.4-0.5 3.3-0.1 3.7 0.6 3.7 1 3.4 1.5 2.7 2 2.2 2.3 1.6 2.7 1zM362.3 100.2l3.4-0.1 3-0.7 2.7-1.2 2-1.5 1.8-2.3 1.4-2.7 1-3.3 0.5-3.4-0.1-3.7-0.5-3.7-1.2-3.3-1.5-2.7-1.7-1.9-2.4-1.6-2.7-1-3.3-0.5-2.4-0.1-2 0.3-2 0.5-1.7 0.7-1.7 1.2-1 1-0.8 1.4-0.3 1 0.3 0.7 1.5 0.7 6.7 1.4 2 0.6 1 0.5 1 0.8 1 2 0.4 3 0 3.1-0.4 2-1 2-1 0.8-1 0.5-3 0.8-5.4 1.1-1.3 0.5-0.7 0.7 0.1 1 0.6 1.2 0.9 1.1 1.1 1 1.3 0.7 1.7 0.7z"/>
<path fill="#ff8900" d="M325.7 99.5l2 0.2 2.4 0 2.3-0.3 2.1-0.6 1.6-0.8 1.4-1 1.1-1.2 0.7-1.4-0.1-0.8-1.4-0.8-7.7-1.6-2-0.8-1.3-1-0.9-2-0.4-3 0.1-3.1 0.4-2.3 1.1-2 2-1.2 3-0.8 5-0.9 1.4-0.5 0.8-0.7 0-0.6-0.5-1-1.7-1.9-2.3-1.3-2.7-0.8-3-0.3-3 0.2-3.1 0.8-2.3 1.2-2 1.7-1.5 2-1.3 2.7-0.8 3.1-0.4 3.6 0.2 4.1 0.7 3.7 1.2 3 1.5 2.3 2.1 1.9 2.3 1.3zM360.6 99.5l3.1 0.2 3-0.2 2.7-0.8 2.5-1.3 1.8-1.6 1.5-2 1.3-2.7 0.8-3.1 0.4-3.6-0.2-4.1-0.7-3.7-1.2-3-1.5-2.3-2.1-1.9-2.3-1.3-2.7-0.8-2-0.3-2.4 0-2.3 0.3-2 0.5-2 0.9-1.4 1-1.1 1.2-0.7 1.4 0.1 0.8 1.4 0.8 7.7 1.6 2 0.8 1.3 1 0.9 2 0.4 3-0.1 3.1-0.4 2.3-1.1 2-2 1.2-3 0.8-5 0.9-1.4 0.5-0.8 0.7 0 0.6 0.5 1 1.7 1.9 2.3 1.3z"/>
<path fill="#ff7300" d="M326.1 99.1l2 0.2 2.3-0.1 2-0.3 2.1-0.6 1.6-0.8 1.4-1.1 1-1.1 0.5-1.2 0-0.3-0.3-0.4-1.2-0.5-6.4-1.3-2.9-0.9-1.4-1-0.6-1-0.4-1-0.4-2.7 0-3.7 0.4-2.3 0.4-1 0.6-1 1.3-1 1-0.4 7.8-1.6 1.6-0.6 0.5-0.5 0-0.6-0.5-0.9-1.7-1.7-2.3-1.3-2.7-0.7-3.1-0.3-3 0.2-2.7 0.8-2.3 1.2-1.9 1.7-1.4 2-1.2 2.7-0.7 3-0.4 3.7 0.2 3.7 0.7 3.7 1.2 3 1.6 2.3 1.9 1.7 2.3 1.2zM361.3 99.2l3 0.1 3-0.4 2.7-0.8 2-1.2 1.7-1.6 1.5-2.2 1-2.4 0.7-3 0.4-3.7-0.2-3.7-0.7-3.7-1.2-3-1.6-2.3-1.9-1.7-2.3-1.2-2.7-0.8-2-0.2-2.4 0-2 0.3-2 0.6-1.7 0.8-1.7 1.2-1 1.1-0.5 1.2 0 0.3 0.3 0.4 1.2 0.5 6.4 1.3 2.9 0.9 1.4 1 0.6 1 0.4 1 0.4 2.7 0 3.7-0.4 2.3-0.4 1-0.6 1-1.3 1-1 0.4-7.8 1.6-1.6 0.6-0.5 0.5 0 0.6 0.5 0.9 1 1.1 1 0.8 2.4 1.2z"/>
<path fill="#ff5d00" d="M326.7 98.8l4.1 0 2-0.4 1.7-0.6 2.6-1.5 1.2-1.2 0.5-1-0.1-0.3-0.4-0.4-1.2-0.4-6.2-1.3-2.8-0.8-1.5-1.2-0.8-1.3-0.5-3-0.1-3.7 0.4-2.7 0.3-1 0.7-1 1.2-1 1.3-0.6 7.4-1.5 1.6-0.5 0.6-0.5 0-0.6-0.6-0.8-2-1.8-2.3-1.1-3-0.7-3.1-0.1-2.6 0.3-2.7 0.9-2.1 1.3-1.6 1.6-1.4 2.4-1 2.7-0.6 3-0.2 3.7 0.3 3.7 0.8 3.3 1.2 2.7 1.6 2.2 2 1.6 2.3 1zM362 98.8l3 0.1 2.7-0.4 2.3-0.8 2.1-1.3 1.6-1.6 1.3-2.1 1-2.6 0.7-3.1 0.2-3.6-0.2-3.7-0.8-3.4-1.1-2.7-1.6-2.3-1.8-1.6-2.4-1.1-2.7-0.6-4-0.2-2 0.4-2 0.5-1.7 0.8-1.3 0.9-1.2 1.2-0.5 1 0.1 0.3 0.4 0.4 1.2 0.4 6.2 1.3 2.8 0.8 1.5 1.2 0.8 1.3 0.5 3 0.1 3.7-0.4 2.7-0.3 1-0.7 1-1.2 1-1.3 0.6-7.4 1.5-1.6 0.5-0.6 0.5 0 0.6 0.6 0.8 2 1.8 2.7 1.2z"/>
<path fill="#ff4700" d="M327.1 98.5l3.7-0.1 3.3-0.9 2.7-1.4 1-1 0.6-1-0.3-0.5-1.3-0.5-6.6-1.4-2.1-0.6-1-0.6-0.8-0.8-0.7-1.3-0.5-3 0-4.1 0.5-3 0.7-1.3 1.1-1 1.7-0.7 7.4-1.6 1.4-0.4 0.5-0.4-0.1-0.6-0.5-0.7-2-1.6-2.4-1.1-3-0.6-3-0.1-2.7 0.4-2.3 0.8-2 1.2-1.6 1.7-1.3 2.3-0.9 2.7-0.6 3-0.1 3.7 0.3 3.7 0.9 3.4 1.2 2.7 1.4 1.7 2 1.5 2.3 0.9zM362.6 98.5l3.1-0.1 2.7-0.5 2.3-0.9 1.7-1.2 1.4-1.7 1.3-2.4 0.8-2.6 0.5-3.1 0.1-3.7-0.3-3.3-0.9-3.4-1.2-2.7-1.4-1.7-2-1.5-2.3-0.9-2.7-0.5-3.7 0-3.7 0.9-2.7 1.4-1 1-0.6 1 0.3 0.5 1.3 0.5 6.6 1.4 2.1 0.6 1.4 0.9 1 1.5 0.5 2.3 0.2 4.1-0.4 3-0.3 1.3-0.6 1-0.8 0.8-1 0.6-2.1 0.6-6.6 1.4-1.3 0.5-0.3 0.5 0.9 1.4 2.4 1.6 2.3 0.9z"/>
<path fill="#ff3400" d="M327.4 98.1l3.4-0.1 3.3-0.9 2.7-1.5 0.9-0.8 0.4-0.7-0.1-0.3-0.9-0.5-7.3-1.5-2.1-0.7-0.7-0.4-0.9-0.9-0.6-1.1-0.6-3 0-4.4 0.4-2.3 0.8-2.1 0.9-0.9 1.1-0.6 1.7-0.5 7-1.4 1.2-0.6 0.1-0.3-0.4-0.7-0.7-0.6-2.2-1.4-2.7-0.9-2.7-0.4-2.7 0-2.7 0.5-2.3 0.9-1.7 1.3-1.5 2-1.1 2.3-0.8 3.1-0.3 3 0 3.7 0.5 3.3 0.9 3 1.2 2.4 1.5 1.7 2 1.2 2.3 0.8zM363.3 98.1l2.7 0 2.7-0.6 2-0.8 1.7-1.3 1.5-2 1.1-2.3 0.8-3.1 0.3-3 0-3.7-0.5-3.3-0.9-3-1.2-2.4-1.5-1.6-1.6-1.1-2.4-0.9-2.7-0.4-3.3 0.1-3.4 0.8-2.7 1.3-1 0.9-0.6 0.9 0.1 0.3 0.9 0.5 7.3 1.5 2.1 0.7 0.7 0.4 0.9 0.9 0.6 1.1 0.6 3 0 4.4-0.4 2.3-0.8 2.1-0.9 0.9-1.1 0.6-1.7 0.5-7 1.4-1.2 0.6-0.1 0.3 0.4 0.7 0.7 0.6 2.2 1.4 2.7 0.9z"/>
<path fill="#ff1e00" d="M327.7 97.8l3.7-0.3 2.5-0.7 2.6-1.4 1-0.9 0.1-0.4-0.1-0.3-0.7-0.4-4.6-1-1.4-0.1-2.7-0.7-1.6-0.9-0.6-0.6-0.7-1.4-0.4-2.3 0-6.1 0.4-2.3 0.7-1.4 0.8-0.8 1.4-0.7 2.7-0.7 1.4-0.1 4.6-1 0.7-0.4 0.1-0.3-0.1-0.4-1-0.9-2.6-1.4-2.5-0.7-2.7-0.3-3.6 0.3-1.5 0.4-2.2 1-1.4 1.2-1.3 1.8-1 2.4-0.7 2.7-0.4 3 0 3.7 0.4 2.7 1 3.5 1.3 2.5 1.6 1.7 1.7 1 2.2 0.6zM364 97.8l3.3-0.3 1.5-0.4 2.2-1 1.4-1.2 1.3-1.8 1-2.4 0.7-2.7 0.4-3 0-3.7-0.4-2.7-1-3.5-1.3-2.5-1.6-1.7-1.7-1-2.2-0.6-2.9-0.4-3.7 0.3-2.5 0.7-2.6 1.4-1 0.9-0.1 0.4 0.1 0.3 0.7 0.4 4.6 1 1.4 0.1 2.7 0.7 1.6 0.9 0.6 0.6 0.7 1.4 0.4 2.3 0 6.1-0.4 2.3-0.7 1.4-0.8 0.8-1.4 0.7-2.7 0.7-1.4 0.1-4.6 1-0.7 0.4-0.1 0.3 0.1 0.4 1 0.9 2.6 1.4 2.5 0.7z"/>
<path fill="#f10800" d="M326.4 96.4l3 0 2.7-0.5 2.4-0.9 0.9-0.6 0.2-0.3-0.3-0.3-1-0.4-7.2-1.4-1.5-0.9-0.9-1.5-0.5-3.2 0-5.1 0.3-3.3 0.2-1 0.6-1 0.8-0.8 1-0.5 7.2-1.4 1-0.4 0.3-0.3-0.7-0.7-1.1-0.5-3.7-1-2.7-0.2-2.3 0.2-2.1 0.5-1.6 0.9-1.1 1.1-0.9 1.7-0.8 2.4-0.4 2.3-0.3 3.4 0.1 3.7 0.6 3.3 0.9 2.7 1 1.7 1.5 1.3 2 0.7zM364 96.5l2.3-0.1 2.4-0.4 1.7-0.6 1.2-1 0.9-1.3 0.9-2 0.6-2.4 0.4-2.7 0.1-3.3-0.3-3.4-0.6-3-0.9-2.3-1-1.6-1.3-1.1-1.7-0.6-2.4-0.4-3 0-2.7 0.4-2.5 0.9-1.1 0.7-0.2 0.3 0.3 0.3 1 0.4 7.2 1.4 1.5 0.9 0.9 1.4 0.5 3.3 0 5.1-0.3 3.3-0.2 1-0.6 1-0.8 0.8-1 0.5-7.2 1.4-1 0.4-0.3 0.3 0.7 0.7 1.8 0.8 2.3 0.6z"/>
<path fill="#da0000" d="M325.1 95.1l4-0.1 1.7-0.4 1-0.5-0.3-0.3-4.4-0.9-2.3-0.8-0.8-1.4-0.3-2-0.1-8.4 0.2-3.3 0.2-1.2 0.7-1.1 1-0.5 1.4-0.4 4.4-0.9 0.3-0.3-0.4-0.3-1.3-0.4-2-0.3-2.4-0.1-2 0.3-1.3 0.4-0.7 0.5-0.7 0.9-0.6 1.4-0.6 2-0.5 3.3-0.1 3.7 0.3 3.7 0.6 3 0.7 2 0.9 1.3 1.3 0.7zM364 95.1l3.7 0 1.7-0.4 1-0.4 0.6-0.6 0.7-1.3 1-3.3 0.4-3.1 0.1-3.3-0.2-3.4-0.6-3-0.7-2-0.7-1.4-1-0.7-1.6-0.5-2.1-0.2-2.3 0.1-2 0.3-1.4 0.7 0.3 0.3 4.4 0.9 2 0.7 0.6 0.5 0.4 0.6 0.3 1.4 0.2 3.3 0 6.1-0.2 3.3-0.3 1.4-0.7 1-1.3 0.5-5.4 1.2-0.3 0.3 1.4 0.7z"/>
<path fill="#bf0000" d="M322 92.8l0.4 0.2 0.3-0.3 0.2-1.3 0-16.1-0.1-1-0.4-0.6-0.4 0.2-0.3 0.6-0.7 2.1-0.4 2.7-0.2 3.4 0.1 3 0.3 3 0.6 2.6zM370 93l0.4-0.2 0.3-0.6 0.7-2.2 0.4-3 0.2-3.6-0.2-3.7-0.4-3-0.7-2.2-0.3-0.6-0.4-0.2-0.4 0.6-0.1 1 0 16.1 0.1 1z"/>
</g>
<path fill="none" stroke="#ececec" stroke-opacity=".55" stroke-width=".5" d="M377.2 153.2l5.9-2.5 5.7-3 5.4-3.3 5-3.7 4.7-4 4.6-4.7 3.9-4.7 3.6-5.2M276.4 122.1l3.6 5.2 3.9 4.7 4.6 4.7 4.7 4 5 3.7 5.4 3.3 5.7 3 5.9 2.5M416 44.6l-3.6-5.2-3.9-4.7-4.6-4.7-4.7-4-5-3.7-5.4-3.3-5.7-3-5.9-2.5M315.2 13.5l-5.9 2.5-5.7 3-5.4 3.3-5 3.7-4.7 4-4.6 4.7-3.9 4.7-3.6 5.2M344.9 87.1l-1.4-0.9-0.8-1.2-0.4-1.3 0.2-1.7 0.8-1.3 1.2-0.9 1.4-0.4 1.6 0.2 1.4 0.9 0.8 1.2 0.4 1.3-0.2 1.7-0.8 1.3-1.2 0.9-1.4 0.4-1.6-0.2M334.8 86.4l-1.4-0.4-0.9-0.6-0.6-1-0.2-1 0.2-1.1 0.6-1 1.3-0.7 1.3-0.3 1 0.2 1 0.8 0.6 1 0.1 1.1-0.1 1-0.6 1-1 0.8-1.3 0.2M357.3 86.4l-1-0.2-1-0.8-0.6-1-0.1-1 0.1-1.1 0.6-1 1-0.8 1.3-0.2 1.4 0.4 0.9 0.6 0.6 1 0.2 1.1-0.2 1-0.6 1-1.3 0.7-1.3 0.3M341.8 145.8l7.1 0.1 6.7-0.5 6.7-1.1 6.4-1.6 6-2.1 6.1-2.6 5.7-3.3 5.3-3.7 4.7-4 4.4-4.6 3.8-4.8 3.3-5.4 2.7-5.4 2.1-5.7 1.6-6 0.9-6 0.2-6.4-0.3-6.1-1-6-1.7-6-2.3-5.8-2.7-5.3-3.3-5.1-4.1-5-4.3-4.4-5-4-5.3-3.7-5.7-3.1-5.7-2.4-6.4-2.1-6.7-1.5-6.7-1-7.1-0.4-7 0.2-7.1 0.9-6.7 1.4-6.4 1.9-6.4 2.6-6 3.1-5.4 3.6-5 4-4.7 4.7-4 4.9-3.6 5.4-2.9 5.7-2.3 6-1.6 6.1-1 6.3-0.2 6.4 0.4 6.4 1.1 6.4 1.7 6 2.4 5.7 3 5.7 3.7 5.4 4.3 5 4.7 4.5 5.1 3.9 5.6 3.5 6.1 3 6.4 2.5 6.7 1.8 6.7 1.3 7 0.7M345.5 88.1l-1.6-0.7-1.4-1.3-0.8-1.7-0.1-1.7 0.6-1.7 1.3-1.5 1.7-0.8 1.7-0.1 1.6 0.7 1.4 1.3 0.8 1.7 0.1 1.7-0.6 1.7-1.3 1.5-1.7 0.8-1.7 0.1M334.1 86.8l-1.2-0.4-1.1-1-0.6-1.4 0.1-1.7 0.8-1.3 1-0.8 1.7-0.4 1.3 0.1 0.9 0.4 0.9 1 0.4 1.4 0 1.7-0.5 1.1-1 1-1.3 0.4-1.4-0.1M356.3 86.8l-1-0.5-1-1.5-0.3-1.8 0.5-1.7 0.9-1 1.2-0.4 1.3-0.1 1.4 0.4 1 0.8 0.8 1.3 0.2 1.1-0.3 1.3-0.7 1-1 0.8-1.7 0.4-1.3-0.1M339.8 136l5.7 0.3 6.1-0.2 5.7-0.6 5.7-1 5.4-1.5 5-1.8 4.7-2.1 4.7-2.7 4.3-3 3.7-3.2 3.6-3.6 3.2-4.1 2.8-4.3 2.3-4.4 1.8-4.7 1.4-5 0.8-5 0.4-5.1-0.3-5.3-0.7-5.1-1.3-5-1.7-4.7-2.3-4.7-2.7-4.4-3.1-4-3.5-3.7-4-3.5-4.4-3.1-4.7-2.7-5-2.3-5.4-1.9-5.4-1.5-6.3-1.1-6.4-0.5-6.7 0-6.4 0.5-6.4 1-6 1.6-5.7 2-5.4 2.5-5 3-4.7 3.6-4.1 3.7-3.6 4.3-3.1 4.5-2.8 5-2 5-1.5 5.4-0.9 5.7-0.3 5.7 0.5 5.7 1 5.7 1.7 5.4 2.4 5.4 2.7 4.7 3.5 4.7 4.1 4.3 4.4 3.7 4.7 3.3 5.4 2.9 5.7 2.3 5.7 1.8 6.3 1.4 6.4 0.7M344.9 88.7l-1.9-1-1.4-1.7-0.7-1.6 0-2.1 0.9-2 1.7-1.6 1.7-0.8 2 0 2 0.9 1.4 1.5 0.9 2 0 2.1-0.9 2-1.7 1.7-2 0.8-2-0.2M334.5 87.4l-2.1-0.7-1.1-1-0.6-1.3-0.1-1.7 0.5-1.4 1-1.1 2-0.9 2 0 1.7 0.9 0.8 1.1 0.4 1.4-0.1 1.7-0.7 1.6-0.7 0.8-1.4 0.6-1.6 0M356.3 87.4l-1.7-0.9-0.8-1.1-0.4-1.4 0.1-1.7 0.8-1.7 1-0.9 1.3-0.4 1.7 0 2 0.9 1 1.1 0.5 1.4-0.1 1.7-0.4 1-1.3 1.3-1.7 0.7-2 0M341.8 128.7l5.4 0.1 5-0.2 5.1-0.6 5-0.9 4.4-1.1 4.3-1.4 4.1-1.8 4-2.1 3.7-2.5 3.3-2.7 3.1-3 2.8-3.3 2.3-3.4 2-3.7 1.7-4 1.3-4 0.9-4.4 0.4-4.3 0-4.4-0.5-4.4-0.9-4.3-1.3-4.1-1.7-4-2.1-3.7-2.4-3.3-2.9-3.4-3.1-3-3.6-2.8-3.7-2.4-4.3-2.2-4.4-1.8-4.7-1.4-5.7-1.2-6.1-0.8-6.3-0.3-6.4 0.2-6 0.7-5.8 1.1-5.3 1.5-5.1 2-4.3 2.2-4.4 2.9-4 3.3-3.4 3.5-3 3.9-2.6 4.3-2 4.4-1.5 4.7-1 5-0.4 5.4 0.3 5.4 0.9 5 1.6 5.1 2.1 4.7 2.6 4.3 3.1 4 3.6 3.7 4.1 3.3 4.7 3 4.7 2.3 5.3 1.9 5.4 1.4 5.7 1 6 0.6M345.5 89.7l-1.6-0.5-1.4-0.9-1.1-1.3-1.6-2.3-1 1.7-1 1-0.7 0.3-2.3 0.3-2.4-0.7-1.3-1-0.9-1.6-0.2-1.7 0.5-1.7 0.6-1 1.5-1 1.5-0.5 1.7-0.1 2 0.6 1 1 1 1.7 1.7-2.5 1.3-1.3 1.7-1 1.7-0.3 1.7 0.3 1.7 1 1.3 1.3 1.7 2.5 1-1.7 1-1 2-0.6 1.7 0.1 1.5 0.5 1.5 1 0.6 1 0.5 1.7-0.2 1.7-0.9 1.6-1.3 1-2.4 0.7-2.3-0.3-0.7-0.3-1-1-1-1.7-1.8 2.7-1.6 1.4-1.7 0.8-2 0.1M338.5 122.3l9.7 0.3 9.1-0.6 7.7-1.5 7-2.3 3.4-1.6 3-1.8 5.4-4.1 2.4-2.5 2.2-2.7 1.8-2.7 1.7-3 1.4-3.4 1.1-3.3 0.8-3.7 0.4-3.7 0-3.7-0.3-3.7-0.7-3.7-1-3.7-1.4-3.3-1.8-3.4-2-3-2.2-2.7-2.6-2.7-2.8-2.3-3.1-2-3.3-1.9-4.7-2-4.7-1.4-5.4-1.1-5.7-0.7-6.7-0.3-7 0.2-6.1 0.6-5.7 1-4.7 1.3-4.3 1.8-4.1 2-3.7 2.5-3.3 2.9-3 3.2-2.7 3.6-2.1 3.7-1.9 4.7-1.2 4.7-0.6 4.7 0 5 0.7 5.1 1.3 4.7 1.9 4.3 2.6 4.4 2.9 3.7 3.4 3.4 3.7 2.8 4.4 2.5 4.3 2 5.1 1.6 5.3 1.1 6.1 0.7M344.5 90.4l-2-1.2-2.7-2.6-2 1.5-1.7 0.5-2.3-0.3-2.3-0.9-1.4-1.5-0.6-1.9 0.1-2 0.8-1.7 1.7-1.3 1.9-0.7 1.5-0.2 1.3 0.1 1 0.4 2 1.5 3.4-3.1 1.7-0.8 1.3-0.2 1.3 0.2 1.7 0.8 3.4 3.1 2.3-1.7 2.4-0.2 3 0.8 1 0.6 1 1.2 0.6 1.9-0.2 2.3-0.7 1.4-1.6 1.3-2.5 0.8-2.3 0-1.3-0.6-1.7-1.3-2.4 2.4-1.7 1.1-2 0.6-2-0.3M340.2 117.3l10.4 0 7.7-0.4 6.4-1.1 5.3-1.6 5.4-2.5 4.7-3.3 4.2-4.2 3.2-4.7 1.5-3.1 1.1-3 0.8-3 0.6-3.4 0.2-3.3-0.1-3.4-0.5-3.3-0.7-3-1.1-3.1-1.4-3-1.6-2.7-1.8-2.5-2.1-2.3-2.3-2.1-2.7-2-2.7-1.7-4-1.9-4-1.3-4.4-1-4.7-0.6-6.7-0.4-9.4 0-6 0.3-5.4 0.7-4 0.9-4.1 1.3-3.7 1.7-3.3 2-3 2.3-2.8 2.6-2.4 3-1.9 3-1.9 4.1-1.4 4.3-0.8 4.7 0 4.7 0.5 4.7 1.2 4.4 1.8 4.4 2.3 3.7 2.7 3.4 3.3 3.1 3.7 2.6 4.1 2.1 4.3 1.6 4.4 1.1 5 0.8 6.1 0.4M344.5 91.4l-2-1.2-2.7-2.4-2 1.1-2 0.2-2.7-0.4-2.6-1.3-0.8-1-0.5-1-0.3-1.7 0.3-2.4 0.9-1.5 0.9-0.8 1.2-0.7 2.9-0.6 2.7 0.1 2 1.1 3.7-3.1 1.4-0.6 1.3-0.2 1.3 0.2 1.4 0.6 3.7 3.1 2.3-1.1 3-0.1 2.1 0.5 1.3 0.7 1.4 1.4 0.7 2 0 2.1-0.7 2-1.4 1.4-2 0.9-2.7 0.4-2-0.2-2-1.1-2.7 2.4-1.7 1.1-1.7 0.4-2-0.3M332.4 112.6l4.4 0.2 19.5 0 4.3-0.3 3.7-0.5 5.1-1.4 4.3-1.9 3.8-2.5 3.4-3 3.3-4.4 2.4-5 1.5-5.8 0.3-5.7-0.7-5.7-1.8-5.3-2.8-5-3.6-4.1-3.1-2.5-3.7-2.2-4-1.6-4.4-1.2-3.3-0.5-4.1-0.2-20.8-0.1-7.4 0.7-3.3 0.8-3.4 1.1-3 1.4-2.7 1.6-2.3 1.7-2.5 2.3-2.4 3.1-2.2 3.7-1.6 4-0.9 4-0.4 4 0.2 4.4 0.8 4.4 1.3 4 1.7 3.4 2.4 3.3 2.8 3 3.1 2.4 3.7 2.1 3.7 1.5 4.4 1.2 4.3 0.6M345.2 92.8l-2-1-3.4-2.9-2.7 0.7-2 0-3-0.7-2-1.1-1.1-1.4-0.7-2.7 0.3-2.4 1.1-2 2-1.3 3.1-0.8 2.3-0.1 2.7 0.7 3.7-3.1 1.4-0.7 1.3-0.2 1.3 0.2 1.4 0.7 3.7 3.1 2.7-0.7 3 0.2 3 0.9 1.1 0.8 0.8 1 0.7 1.7 0.1 2.3-0.6 2.4-1.1 1.4-2 1.1-3 0.7-2 0-2.7-0.7-4.1 3.3-1.6 0.6-1.7 0M329.1 108.9l6 0.2 11.1-0.9 11.1 0.9 5.7-0.2 4-0.7 3.7-1.3 3.4-1.7 2.8-2 3.3-3.4 2.8-4.4 1.7-4.7 0.9-5 0-5.4-1.1-5-1.9-4.7-2.7-4-1.8-2-2-1.7-4.4-2.7-5.4-1.8-5.7-0.8-4.3 0-9.8 0.9-11.4-0.9-6 0.2-3.7 0.7-3.7 1.3-3.4 1.7-2.8 2-2.5 2.5-2.2 2.9-1.8 3.4-1.3 3.7-0.8 3.7-0.2 4 0.3 4 0.9 3.7 1.2 3.4 1.9 3.3 2.1 2.7 2.6 2.5 3 2.1 3 1.5 3.7 1.3 3.7 0.7M344.9 94.1l-1.7-1-3.4-3.2-3 0.3-3.7-0.5-2.7-1-1.2-1-1.1-2.1-0.3-2.2 0.3-2.3 1.1-2.1 1.2-1 2.7-1 3.7-0.5 3 0.3 4.1-3.7 1.3-0.7 1-0.1 1 0.1 1.3 0.7 4.1 3.7 3-0.3 3.7 0.5 2.7 1 1.3 1.1 1.1 2.2 0.2 3.1-0.5 2-0.8 1.2-0.8 0.8-2.2 1-2.4 0.6-2.6 0.2-2.7-0.3-4.4 3.9-1.7 0.6-1.6-0.3M329.4 106.2l3.4 0 3.7-0.4 3-0.8 5-1.7 1.7-0.3 1.7 0.3 5 1.7 3.4 0.8 3.7 0.4 3.7-0.1 3-0.5 3-0.9 2.7-1.2 2.7-1.8 3-2.9 2.5-3.7 1.7-4 1-4.7 0.1-4.7-0.7-4.7-1.6-4.4-2.3-3.9-3.1-3.2-3.7-2.4-4.3-1.8-5.1-0.8-3.3 0-3.4 0.4-3 0.8-5 1.7-1.7 0.3-1.7-0.3-5-1.7-3.4-0.8-3.7-0.4-3.7 0.1-3 0.5-3 0.9-2.7 1.2-2.7 1.8-2.4 2.2-2.1 2.7-1.7 3-1.2 3.4-0.7 3.7-0.2 3.7 0.3 3.7 0.7 3.3 1.1 3.1 1.7 3 1.9 2.4 2.3 2.3 2.7 1.8 3 1.4 3.4 1 3.3 0.5M345.5 96.9l-1.6-1.2-2.9-3.6-1.2-1.2-3.6-0.2-2.8-0.4-2.3-0.6-1.7-1-1.3-1.3-0.4-1-0.4-3.4 0.5-3 0.6-1 1-1 1.7-1 2.3-0.6 2.8-0.4 3.6-0.2 1-0.9 3.4-4.3 1-0.7 1-0.2 1 0.2 1 0.7 3.4 4.3 1 0.9 3.6 0.2 2.8 0.4 2.3 0.6 1.7 1 1.3 1.3 0.4 1 0.4 3.4-0.5 3-0.6 1-1 1-1.7 1-2.3 0.6-2.8 0.4-3.6 0.2-1 0.9-3.4 4.3-1.3 0.8-1.4 0M327.7 104.2l5.1 0 2.3-0.4 2.4-0.7 2-0.9 1.4-1.1 1.1-1.3 0.4-1.3-0.1-1.7-0.7-2.4-0.8-1.7-1-1-6.2-1-3.5-1-2-1.5-1-2.4-0.3-2.1 0.2-2.4 0.6-2 1-1.3 1.5-1 2.3-0.8 7.4-1.2 1.2-1.4 1.1-2.7 0.3-1.6 0-1.4-0.4-1-0.8-1.1-1.4-1.1-2-1-4.4-1.2-4.3-0.1-4 0.6-3.7 1.3-3.4 2.1-2.7 2.6-2.1 3.3-1.6 3.7-0.8 4-0.2 4.4 0.5 4.3 1.3 4 2 3.7 2.6 3 3 2.2 3.7 1.7 4 0.9M359.3 104.2l4 0.1 4-0.6 3.7-1.3 3.4-2.1 2.7-2.6 2.1-3.3 1.6-3.7 0.8-4 0.2-4.4-0.5-4.3-1.3-4-2-3.7-2.6-3-3-2.2-3.7-1.7-3.7-0.8-2.7-0.3-2.7 0.2-2.3 0.4-2.4 0.7-2 0.9-1.4 1.1-1.1 1.3-0.4 1.3 0.1 1.7 0.7 2.4 0.8 1.7 1 1 6.2 1 3.5 1 2 1.5 1 2.4 0.3 2.1-0.2 2.4-0.6 2-1 1.3-1.5 1-2.3 0.8-7.4 1.2-1.4 1.7-1 2.7-0.2 1.3 0 1.4 0.6 1.3 0.9 1 1.4 1.1 2 0.9 4.4 1.1M328.4 103.2l4.7-0.2 2.4-0.6 2-0.8 1.7-1 1-1.1 0.8-1.4 0.3-1.3-0.3-2.7-0.5-1-0.7-0.9-1-0.4-6.4-1.1-2.3-0.7-2-1.3-1.2-2.3-0.3-2.4 0.1-2.7 0.5-2 0.9-1.3 1.3-1 2.7-1 7.4-1.3 1-1.1 0.6-1.7 0.2-1.6-0.3-1.7-0.8-1.4-0.9-1-1.5-1-2-0.8-4.4-0.9-3.7 0.1-3.7 0.7-3.3 1.5-3 2.1-2.4 2.6-1.8 3.1-1.2 3.7-0.7 4 0 4.4 0.7 4 1.4 3.7 2 3.2 2.3 2.5 3 2 3.7 1.4 3.7 0.7M360.6 103.2l3.7-0.1 3.7-0.6 3.4-1.4 3-2 2.5-2.7 1.8-3 1.4-3.7 0.7-4 0-4.4-0.7-4-1.2-3.7-2-3.3-2.5-2.7-2.7-1.8-3.3-1.5-4.1-0.7-2.7-0.1-2.3 0.2-2.4 0.6-2 0.8-1.7 1-1 1.1-0.8 1.4-0.3 1.3 0.3 2.7 0.5 1 0.7 0.9 1 0.4 6.4 1.1 2.3 0.7 2 1.3 1.2 2.3 0.3 2.4-0.1 2.7-0.5 2-0.9 1.3-1.3 1-2.7 1-7.4 1.3-0.8 0.7-0.8 1.7-0.2 1.7 0.2 1.7 0.6 1.3 1 1.2 1.4 1 2 0.9 4.3 1M328.1 102.2l4.7-0.3 2-0.4 2-0.9 1.7-1.1 1-1.1 0.7-1.3 0.4-1.7-0.2-1.6-0.9-1.4-9.4-2.1-2-1.1-1.2-1.8-0.5-2.4 0-3.3 0.5-2.4 0.8-1.4 1.4-1.1 2-0.8 8.4-1.7 0.6-0.7 0.4-1 0.1-1.3-0.4-1.7-0.7-1.3-1-1.1-1.4-1-1.6-0.7-2.1-0.6-2.3-0.4-3.7 0.1-3.4 0.7-3.3 1.4-2.6 1.9-2.1 2.3-1.7 3.1-1.1 3.3-0.7 4 0 4.1 0.7 4 1.3 3.7 1.8 3 2.4 2.5 2.7 1.7 3.3 1.3 3.4 0.6M361.3 102.2l3.7-0.1 3.4-0.7 3.3-1.4 2.6-1.9 2.1-2.3 1.7-3.1 1.1-3.3 0.7-4 0-4.1-0.7-4-1.3-3.7-1.8-3-2.4-2.5-2.7-1.7-3.3-1.3-3.4-0.6-4.7 0.3-2 0.4-2 0.9-1.7 1.1-1 1.1-0.7 1.3-0.4 1.7 0.2 1.6 0.9 1.4 9.4 2.1 2 1.1 1.2 1.8 0.5 2.4 0 3.3-0.5 2.4-0.8 1.4-1.4 1.1-2 0.8-8.4 1.7-0.6 0.7-0.4 1-0.1 1.3 0.4 1.7 0.7 1.3 1 1.1 1.4 1 1.6 0.7 2.1 0.6 2.3 0.4M327.1 101.1l2.7 0.2 2.3-0.2 2-0.5 2-0.8 1.6-1 1.1-1.1 0.8-1.3 0.5-1.6-0.2-1.4-0.7-0.7-1.7-0.5-6.4-1.2-2-0.8-1-0.5-0.9-1-0.7-1.3-0.5-3 0.1-3.1 0.6-2.3 1-1.6 2.6-1.4 8.2-1.7 1-0.5 0.5-0.9 0-1.3-0.4-1.3-0.8-1.3-1-1-2.7-1.6-3.7-0.9-3.3 0-3.4 0.5-3 1.1-2.7 1.7-2 2.1-1.6 2.7-1.2 3-0.8 3.7-0.1 4.1 0.4 3.6 1.1 3.7 1.5 3.1 1.9 2.3 2.5 1.9 3 1.4 3.4 0.7M361 101.2l3.3 0 3.4-0.5 3-1.1 2.7-1.7 2-2.1 1.6-2.7 1.2-3 0.8-3.7 0.1-4.1-0.4-3.6-1.1-3.7-1.5-3.1-1.9-2.3-2.5-1.9-3-1.4-3.4-0.7-2.7-0.2-2.3 0.2-2 0.5-2 0.8-1.6 1-1.1 1.1-0.8 1.3-0.5 1.6 0.2 1.4 0.7 0.7 1.7 0.5 6.4 1.2 2 0.8 1 0.5 0.9 1 0.7 1.3 0.5 3-0.1 3.1-0.6 2.3-1 1.6-2.6 1.4-8.2 1.7-1 0.5-0.5 0.9 0 1.3 0.4 1.3 0.8 1.3 1 1 2.7 1.6 3.7 0.9M326.1 100.2l2.3 0.2 2.4-0.1 2.3-0.4 2-0.6 1.7-1 1.3-1.1 1.1-1.4 0.4-1.4-0.1-1-1.4-0.7-7-1.5-2-0.6-1.8-1.2-1.1-2-0.5-3 0.1-3.1 0.4-2 1.1-2 2.1-1.3 8.1-1.8 1.3-0.5 0.8-0.8 0-1-0.4-1-1.7-2-2.4-1.5-3-0.9-3.4-0.2-3.3 0.3-2.7 0.9-2.6 1.4-1.9 1.7-1.7 2.3-1.3 3.1-0.8 3-0.3 3.7 0.2 4 0.8 3.7 1.4 3.4 1.7 2.3 2.2 1.9 2.6 1.4 3.1 0.8M360.3 100.2l3 0.2 3.4-0.3 3-0.9 2.3-1.2 2.1-1.7 1.6-2.2 1.3-2.7 0.9-3.4 0.4-3.6-0.1-4.1-0.8-3.7-1.3-3.3-1.6-2.4-2.1-2-2.7-1.4-3-0.9-2.4-0.3-2.3 0-2.4 0.4-2 0.6-2 1.1-1.3 1.1-1.1 1.4-0.4 1.4 0.1 1 1.4 0.7 7 1.5 2 0.6 1.8 1.2 1.1 2 0.5 3-0.1 3.1-0.4 2-1.1 2-2.1 1.3-8.1 1.8-1.3 0.5-0.8 0.8 0 1 0.4 1 1.7 2 2.4 1.5 3 0.9M326.4 99.5l4.4 0 4-1 1.7-0.9 1.3-1.1 1-1.3 0.4-1.1-0.3-0.7-1.4-0.6-6.4-1.3-2.5-0.8-1.6-1-1.1-2-0.4-2.7 0-3.7 0.4-2.3 1.1-2 2.1-1.3 8-1.7 1.4-0.5 0.7-0.6 0-0.6-0.5-1-1.9-2-2.3-1.2-3.1-0.8-3-0.2-3 0.3-2.7 0.8-2.3 1.3-1.9 1.8-1.4 2-1.2 2.7-0.8 3.3-0.3 3.7 0.3 4 0.7 3.4 1.3 3 1.7 2.4 1.9 1.6 2.7 1.4 3 0.7M361.3 99.5l3 0.1 3-0.4 2.7-0.8 2.2-1.3 1.7-1.7 1.6-2.3 1.1-2.7 0.7-3 0.3-3.7-0.3-4-0.7-3.4-1.3-3-1.7-2.4-1.9-1.6-2.3-1.2-3.1-0.8-4.3-0.2-4.1 1-1.6 0.8-1.4 1-1.2 1.4-0.5 1.3 0.3 0.7 1.4 0.6 6.4 1.3 2.5 0.8 1.6 1 1.1 2 0.4 2.7 0 3.7-0.4 2.3-1.1 2-2.1 1.3-8 1.7-1.4 0.5-0.7 0.6 0 0.6 0.5 1 1.9 2 2.7 1.4 3 0.7M326.7 98.8l3.7 0 3.7-0.9 3-1.7 1.1-1.1 0.5-1-0.4-0.7-1.2-0.4-6.3-1.3-2.7-0.8-1.6-1.2-0.7-1.3-0.5-3-0.1-3.7 0.4-2.7 0.9-2 1.3-1 1.3-0.6 7.4-1.5 1.6-0.6 0.6-0.4-0.1-0.6-0.5-0.8-2-1.8-2.3-1.1-3-0.7-3.1-0.1-2.6 0.4-2.7 0.8-2.1 1.3-1.6 1.6-1.4 2.4-1 2.7-0.6 3-0.2 3.7 0.3 3.7 0.8 3.3 1.2 2.7 1.6 2.1 2 1.6 2.3 1.1 3 0.6M362 98.8l3 0.1 2.7-0.4 2.3-0.8 2.1-1.3 1.6-1.6 1.3-2.1 1-2.6 0.6-3.1 0.3-3.6-0.3-3.7-0.7-3.4-1.1-2.7-1.6-2.3-1.8-1.5-2.4-1.2-2.7-0.6-4-0.1-4 0.9-3 1.7-1.1 1.1-0.5 1 0.4 0.7 1.2 0.4 6.3 1.3 2.7 0.8 1.6 1.2 0.7 1.3 0.5 3 0.1 3.7-0.4 2.7-0.9 2-1.3 1-1.3 0.6-7.4 1.5-1.6 0.6-0.6 0.4 0.1 0.6 0.5 0.8 2 1.8 2.7 1.2 3 0.6M326.7 98.1l3.7 0 3.4-0.8 2.7-1.4 1-0.8 0.6-1-0.1-0.3-0.9-0.5-7-1.4-2.4-0.8-0.7-0.4-0.9-0.9-0.6-1.4-0.6-3 0-4.1 0.4-2.3 0.8-2.1 0.9-0.9 1.1-0.5 2-0.7 6.7-1.3 1.2-0.6 0.1-0.3-1-1.3-1.6-1.2-2.4-0.9-2.7-0.6-2.7-0.1-2.6 0.3-2.4 0.7-2 1.2-1.6 1.6-1.2 2-0.9 2.7-0.6 3-0.2 3.7 0.3 3.7 0.8 3.3 1.2 2.7 1.5 2 1.7 1.3 2.3 1 2.7 0.4M362.6 98.1l2.7 0.1 2.7-0.5 2.4-0.8 1.6-1.1 1.5-1.7 1.1-2 0.9-2.7 0.6-3 0.1-3.7-0.3-3.4-0.8-3.3-1.2-2.7-1.5-2-1.7-1.3-2-0.9-2.7-0.5-3.7 0-3.7 0.8-2.7 1.4-1 0.8-0.6 1 0.1 0.3 1.2 0.6 6.7 1.3 2 0.7 1.4 0.7 0.7 0.8 0.4 1 0.7 3.3 0 4.1-0.4 2.3-0.8 2.1-0.9 0.9-1.1 0.5-2 0.7-6.7 1.3-1.2 0.6-0.1 0.3 1 1.3 2 1.3 2.3 0.9 3 0.5M325.4 96.8l3.3 0.2 3.4-0.6 3-1.1 0.9-0.5 0.5-0.7-0.2-0.3-0.9-0.4-6.3-1.2-2-0.6-1.4-0.9-0.6-1-0.4-1.3-0.3-3.4 0.1-4.7 0.3-2.3 1-2 2.3-1.3 7.3-1.4 0.9-0.4 0.2-0.3-0.5-0.7-0.9-0.5-3-1.1-2.7-0.5-2.7 0-2.3 0.3-2 0.6-1.4 0.9-1.2 1.3-0.9 1.7-0.8 2.4-0.6 3.7-0.1 3.7 0.4 3.6 0.9 3.4 1.1 2.4 1.2 1.3 2 1.1 2.4 0.6M362 96.8l2.3 0.2 2.4-0.1 2.3-0.6 1.7-0.7 1.3-1.2 1-1.3 1.4-4 0.5-3.4 0.1-3.7-0.4-3.3-0.7-3.1-0.9-2-1.3-1.7-1.7-1.2-2-0.6-3.3-0.4-3.7 0.4-3.4 1.1-1.2 0.7-0.5 0.7 0.2 0.3 0.9 0.4 6.3 1.2 2 0.6 1.3 0.9 1 2 0.4 3.7-0.1 4.7-0.3 2.3-0.9 2-1.4 0.9-1 0.4-7.3 1.4-0.9 0.4-0.2 0.3 0.5 0.7 1.5 0.8 4.1 1.2M323.7 94.5l3 0.1 2.6-0.5-0.2-0.3-4-0.9-1.1-0.7-0.5-1.5-0.2-2.3 0-9.1 0.5-4.3 0.2-0.5 1.1-0.7 4-0.9 0.2-0.3-0.9-0.3-3.3-0.2-2.7 0.6-1.1 1.3-1 3-0.6 6 0.1 3.4 0.4 3 0.6 2.3 0.8 1.7 0.8 0.6 1.3 0.5M364.3 94.5l3.7 0.1 2.4-0.8 1-1.6 0.8-2.8 0.4-3 0.1-3.4-0.6-6-0.7-2.4-0.6-1.3-0.8-0.6-1.3-0.5-3-0.1-2.6 0.5 0.2 0.3 4 0.9 1.1 0.7 0.5 1.5 0.2 2.3 0 9.1-0.5 4.3-0.2 0.5-1.1 0.7-4 0.9-0.2 0.3 1.2 0.4"/>
<path fill="none" stroke="#303030" stroke-opacity=".28" stroke-width=".4" d="M339.0 71.8V94.9M336.3 71.8V94.9M333.6 71.8V94.9M330.9 71.8V94.9M328.2 71.8V94.9M325.5 71.8V94.9M322.8 71.8V94.9M320.2 71.8V94.9M339.0 71.8H320.2M339.0 74.7H320.2M339.0 77.6H320.2M339.0 80.5H320.2M339.0 83.3H320.2M339.0 86.2H320.2M339.0 89.1H320.2M339.0 92.0H320.2M339.0 94.9H320.2M353.4 71.8V94.9M356.1 71.8V94.9M358.8 71.8V94.9M361.5 71.8V94.9M364.2 71.8V94.9M366.9 71.8V94.9M369.6 71.8V94.9M372.2 71.8V94.9M353.4 71.8H372.2M353.4 74.7H372.2M353.4 77.6H372.2M353.4 80.5H372.2M353.4 83.3H372.2M353.4 86.2H372.2M353.4 89.1H372.2M353.4 92.0H372.2M353.4 94.9H372.2"/>
</g>
<circle cx="346.20" cy="83.35" r="67.30" fill="none" stroke="#333" stroke-width=".5"/>
<rect x="270.60" y="9.50" width="151.20" height="147.70" fill="none" stroke="#7c7c7c" stroke-width=".95"/>
<path d="M270.60 150.47h1.8M421.80 150.47h-1.8M270.60 137.05h1.8M421.80 137.05h-1.8M270.60 123.62h1.8M421.80 123.62h-1.8M270.60 110.20h1.8M421.80 110.20h-1.8M270.60 96.77h1.8M421.80 96.77h-1.8M270.60 83.35h1.8M421.80 83.35h-1.8M270.60 69.92h1.8M421.80 69.92h-1.8M270.60 56.50h1.8M421.80 56.50h-1.8M270.60 43.07h1.8M421.80 43.07h-1.8M270.60 29.65h1.8M421.80 29.65h-1.8M270.60 16.22h1.8M421.80 16.22h-1.8M292.50 9.50v1.8M292.50 157.20v-1.8M346.20 9.50v1.8M346.20 157.20v-1.8M399.90 9.50v1.8M399.90 157.20v-1.8" stroke="#777" stroke-width=".7" fill="none"/>
<g class="t">
<text x="242.0" y="14.0">mm</text>
<text x="269.0" y="154.2" text-anchor="end">-25</text>
<text x="269.0" y="140.8" text-anchor="end">-20</text>
<text x="269.0" y="127.3" text-anchor="end">-15</text>
<text x="269.0" y="113.9" text-anchor="end">-10</text>
<text x="269.0" y="100.5" text-anchor="end">-5</text>
<text x="269.0" y="87.0" text-anchor="end">0</text>
<text x="269.0" y="73.6" text-anchor="end">5</text>
<text x="269.0" y="60.2" text-anchor="end">10</text>
<text x="269.0" y="46.8" text-anchor="end">15</text>
<text x="269.0" y="33.3" text-anchor="end">20</text>
<text x="292.8" y="168.4" text-anchor="middle">-20</text>
<text x="346.2" y="168.4" text-anchor="middle">0</text>
<text x="394.9" y="168.4" textLength="27" lengthAdjust="spacingAndGlyphs">20 mm</text>
<rect x="429.10" y="28.80" width="6.30" height="124.70" fill="url(#jet)"/>
<text x="438.0" y="32.7">0.12</text>
<text x="438.0" y="53.7">0.1</text>
<text x="438.0" y="74.8">0.08</text>
<text x="438.0" y="95.9">0.06</text>
<text x="438.0" y="116.9">0.04</text>
<text x="438.0" y="137.9">0.02</text>
</g>
<text class="cap" x="257.1" y="184.0" textLength="191.6" lengthAdjust="spacingAndGlyphs">(<tspan font-weight="bold">h</tspan>) Quasi-isotropic strands (2 strands)</text>
</g>
<g id="pi">
<clipPath id="ci"><circle cx="108.17" cy="264.35" r="67.30"/></clipPath>
<g clip-path="url(#ci)">
<g filter="url(#bl)">
<rect x="37.9" y="194.1" width="140.6" height="140.6" fill="#000084"/>
<path fill="#000096" d="M38.7 334.2l139.3 0 0-139.7-139.6 0 0 139.7zM91 287.8l0.1-0.1 0.2 0.1zM125.1 287.8l0.2-0.1 0 0.1zM80.6 255.3l0.2 0-0.1 0.3zM135.6 255.3l0.2 0-0.1 0.3zM108 235.5l0.2-0.2 0.1 0.2z"/>
<path fill="#0000a8" d="M38.7 334.2l139.3 0 0-139.7-139.6 0 0 139.7zM90.9 288.2l-0.4-0.7 0.2-0.3 0.7 0.1 0.4 0.5-0.1 0.4-0.3 0.1zM124.6 288.2l0.1-0.7 0.6-0.3 0.3 0 0.2 0.3-0.3 0.7-0.5 0.1zM80.3 256l-0.2-0.7 0.2-0.3 0.4-0.3 0.3 0.1 0.2 0.5-0.1 0.3-0.4 0.5zM135.5 256l-0.3-0.7 0.2-0.5 0.3-0.1 0.3 0.3 0.2 0.6-0.2 0.4zM107.7 235.8l-0.2-0.3 0.3-0.5 0.4-0.1 0.6 0.3 0.1 0.3-0.3 0.3-0.4 0.1z"/>
<path fill="#0000bb" d="M38.7 334.2l139.3 0 0-139.7-139.6 0 0 139.7zM90.7 288.5l-0.5-0.7 0-0.6 0.5-0.5 0.4 0 1.1 0.8 0 0.7-0.5 0.4zM124.4 288.5l-0.4-0.7 0.5-0.6 0.8-0.5 0.7 0.2 0.2 0.6-0.2 0.7-0.7 0.5zM107.2 273.1l-1.7-0.4-1.7-0.7-1.3-1-1.3-1.3-0.8-1.3-0.7-1.7-0.3-1.7 0.1-1.7 0.3-1.6 0.8-1.7 0.9-1.4 1.3-1.2 1.3-0.9 1.7-0.6 1.7-0.3 1.7 0 1.7 0.4 1.6 0.7 1.4 1 1.2 1.3 0.9 1.3 0.6 1.7 0.3 1.7 0 1.7-0.4 1.6-0.7 1.7-1 1.4-1.3 1.2-1.3 0.9-1.7 0.6-1.7 0.3zM80.1 256.3l-0.3-0.7 0.2-0.8 0.7-0.5 0.6 0.2 0.3 0.5-0.3 1.1-0.6 0.5zM135.2 256.3l-0.4-0.7-0.1-0.6 0.3-0.5 0.7-0.2 0.8 0.7 0 1-0.5 0.5-0.3 0.1zM107.4 236.2l-0.4-0.7 0.5-0.8 1-0.1 0.7 0.6 0.1 0.6-0.4 0.4-0.7 0.1z"/>
<path fill="#0000cd" d="M38.7 334.2l139.3 0 0-139.7-139.6 0 0 139.7zM90.6 288.9l-0.6-0.7-0.2-0.7 0.3-0.9 0.6-0.4 1.3 0.6 0.8 1-0.2 0.7-0.4 0.4-0.8 0.2zM124.2 288.9l-0.6-0.7 0.1-0.7 1.3-1.1 0.6-0.2 0.4 0.1 0.3 0.3 0.2 0.6-0.2 1.1-1 0.7zM105.4 275.4l-1.9-0.7-2-1.1-1.7-1.5-1.4-1.8-1-2.1-0.5-2.2-0.1-2.3 0.3-2 0.7-2 1.1-2.1 1.5-1.6 1.8-1.4 2.1-1 2.2-0.5 2.3-0.1 2.1 0.3 2 0.7 2 1.1 1.7 1.5 1.3 1.8 1 2.1 0.6 2.2 0.1 2.3-0.3 2-0.7 2-1.2 2.1-1.5 1.6-1.8 1.4-2.1 1-2.1 0.5-2.4 0.1zM80.3 257l-0.8-1 0-1 0.8-0.9 1.1-0.2 0.5 0.4 0.1 0.3-0.3 1.7-0.7 0.7zM135.2 257l-0.5-0.7-0.4-1.7 0.4-0.5 0.7-0.2 1 0.4 0.4 0.7 0.1 0.6-0.5 1.2-0.7 0.3zM107 236.5l-0.3-0.3-0.1-0.7 0.3-0.7 0.6-0.5 0.7-0.1 0.6 0.1 0.8 0.9 0.2 0.6-0.5 0.7-1.1 0.1z"/>
<path fill="#0000df" d="M38.7 334.2l139.3 0 0-139.7-139.6 0 0 139.7zM90.5 289.2l-0.7-0.7-0.4-1 0.3-1.3 0.4-0.4 0.3-0.1 1 0.4 1 0.7 0.7 0.7 0.3 0.7-0.5 0.7-0.5 0.3-1 0.2zM124 289.2l-0.9-0.7-0.2-0.3 0.1-0.4 0.6-0.7 1.3-0.9 0.7-0.4 0.7 0 0.5 0.7 0.1 0.7-0.3 1.3-1 0.8-0.6 0.1zM106.3 277.8l-2.5-0.6-2.4-1.1-2.3-1.7-1.7-1.8-1.4-2.2-0.9-2.4-0.4-2.6 0-2.7 0.6-2.7 1.1-2.4 1.4-2 2-1.9 2.2-1.4 2.5-1 2.7-0.5 2.7 0.1 2.6 0.6 2.4 1.1 2 1.4 1.9 2 1.5 2.2 0.9 2.5 0.5 2.6-0.1 2.7-0.6 2.7-1.1 2.4-1.6 2.3-1.9 1.7-2.2 1.4-2.7 1-2.7 0.4zM80.7 257.6l-0.7-0.3-0.6-0.7-0.3-0.6 0-1 0.4-0.7 0.8-0.6 0.7-0.2 1 0.1 0.3 0.3 0.1 0.4-0.4 1.7-0.7 1.4-0.3 0.3zM135.3 257.6l-0.3-0.2-0.6-1.4-0.4-1.7 0-0.4 0.4-0.3 0.6-0.1 0.7 0.1 0.7 0.3 0.7 0.7 0.2 0.7-0.1 0.7-0.5 1-0.7 0.5zM107.2 236.8l-1.1-0.3 0-0.3 0.2-1 0.4-0.7 0.8-0.5 0.7-0.2 0.6 0.2 0.8 0.5 0.6 1 0 1-1.1 0.3z"/>
<path fill="#0000ed" d="M38.7 334.2l139.3 0 0-139.7-139.6 0 0 139.7zM90.3 289.9l-0.6-0.3-0.3-0.4-0.3-1.7 0.3-1.5 0.3-0.6 0.4 0 2.1 1.1 1.2 1 0.4 0.7-0.4 0.7-1 0.6zM125.7 289.9l-1.4-0.2-0.7-0.3-1-0.8-0.1-0.4 0.5-0.7 1.1-1 2.2-1.1 0.3 0 0.4 0.6 0.3 1.5-0.4 1.7-0.6 0.6zM105.8 279.8l-3-0.8-2.7-1.3-2.3-1.7-2.1-2.3-1.6-2.6-1.1-3.1-0.4-3 0.1-3 0.8-3 1.3-2.7 1.7-2.4 2.3-2 2.7-1.7 3-1 3-0.5 3 0.2 3 0.8 2.7 1.3 2.4 1.7 2.1 2.3 1.6 2.6 1.1 3.1 0.4 3-0.2 3-0.8 3-1.2 2.7-1.8 2.4-2.2 2-2.7 1.7-3 1-3.1 0.5zM80.4 258l-1.2-1-0.8-1.7 0.1-0.7 0.5-0.6 1.3-0.7 1-0.1 1.1 0.1 0.2 0.3 0 0.7-0.6 2.2-0.8 1.5-0.2 0.1zM135.2 258l-0.8-1.4-0.4-1.3-0.3-1.4 0.3-0.6 1-0.1 1 0.1 1.7 1 0.3 0.7-0.2 0.6-0.8 1.5-1.1 0.9-0.5 0.1zM106.1 236.8l-0.4-0.3 0.2-1.3 0.6-1 1.3-1.1 1 0.2 1.3 1.2 0.4 0.8 0.2 1.2-0.5 0.3-2 0.3z"/>
<path fill="#0000ff" d="M38.7 334.2l139.3 0 0-139.7-139.6 0 0 139.7zM89.9 290.2l-0.5-0.3-0.6-1 0-1.7 0.6-1.7 0.3-0.4 0.4 0 2.4 1.4 1.1 1 0.5 0.7-0.4 0.7-1.2 1-1.4 0.4zM125 290.2l-1.7-0.7-1-1-0.1-0.3 0.5-0.7 1.6-1.3 1.7-1 0.6-0.1 0.9 1.7 0.1 2.1-0.3 0.6-0.7 0.6-1 0.2zM106.1 282.1l-3.6-0.8-3.1-1.3-3-2.1-2.3-2.5-1.9-3-1.2-3-0.7-3.4 0.1-3.7 0.7-3.3 1.4-3.4 2.2-3 2.4-2.3 3-1.9 3-1.2 3.4-0.7 3.7 0.1 3.3 0.7 3.4 1.4 3 2.1 2.3 2.5 2 3 1.2 3 0.6 3.4 0 3.7-0.7 3.3-1.5 3.4-2.1 3-2.4 2.3-3.1 1.9-3.3 1.3-3.4 0.6zM80.6 258.3l-1.2-0.7-1.1-1.3-0.3-0.9 0-0.8 0.4-0.7 0.6-0.5 1.7-0.5 1.6 0.2 0.4 0.2 0.1 0.3-0.4 2.4-1.1 2.2-0.3 0.2zM135.2 258.3l-0.5-0.6-0.7-1.6-0.5-2.5 0.1-0.3 0.4-0.2 1.4-0.2 2 0.5 0.3 0.3 0.5 0.6 0.2 1-0.4 1-1.1 1.3-1.2 0.7zM107.1 237.2l-1.3-0.3-0.3-0.2 0-1 0.3-1.1 1.4-1.6 1-0.4 0.6 0.2 0.7 0.3 1 1.5 0.4 1.1 0 1-0.4 0.2-1.2 0.3z"/>
<path fill="#0000ff" d="M38.7 334.2l139.3 0 0-139.7-139.6 0 0 139.7zM89.8 290.5l-0.9-0.6-0.6-1.7 0.7-2.3 0.5-0.7 0.6-0.3 2.6 1.6 1.1 1 0.5 0.7-0.4 0.7-1.5 1.3-1 0.5zM124.6 290.5l-1-0.5-1.2-1.1-0.2-0.4 0-0.7 2.4-2 1.4-0.7 0.6-0.1 0.4 0.3 0.7 1.5 0.3 1.4-0.1 0.7-0.6 1.1-0.7 0.5-1.3 0.2zM107.4 285.8l-3.9-0.5-4.1-1.3-3.6-2.1-3.3-2.8-2.6-3.3-1.8-3.7-1.2-4.4-0.2-4 0.5-4 1.3-4.1 2.1-3.7 2.8-3.2 3.7-2.8 3.4-1.6 4.3-1.2 4-0.2 4.1 0.5 4 1.3 3.4 1.9 1.7 1.3 1.8 1.7 2.6 3.3 1.8 3.7 1.2 4.4 0.3 4-0.5 3.7-1.4 4.4-2.1 3.7-2.8 3.2-3.3 2.6-3.7 1.8-4.4 1.2zM80.3 258.3l-1.2-0.7-1.1-1-0.4-1.3 0.1-1 0.6-0.7 1-0.8 1.4-0.1 2 0.3 0.2 0.3 0.1 0.6-1 3.4-0.7 1.1-0.3 0.1zM134.9 258.3l-1.2-2.9-0.3-1.5 0-0.6 0.5-0.4 1.1-0.1 2 0 1 0.8 0.6 0.7 0.1 1-0.3 1.3-1.1 1-1.3 0.7-0.6 0.2zM106 237.2l-0.5-0.2-0.2-0.5 0.2-1.6 0.8-1.8 1.1-0.6 0.8-0.2 0.7 0.2 1.1 0.6 0.9 1.8 0.2 1.6-0.2 0.5-2.1 0.3z"/>
<path fill="#0010ff" d="M38.7 334.2l139.3 0 0-139.7-139.6 0 0 139.7zM90 290.9l-0.6-0.2-0.6-0.5-0.9-2 1.4-3 0.8-0.4 2.6 1.6 1.3 1.1 0.4 0.7-0.3 0.7-2.1 2-0.6 0.1zM124.4 290.9l-2.1-2-0.4-0.7 0.1-0.4 1.3-1.2 1.3-1 1.4-0.7 0.6-0.1 0.4 0.4 1 1.8 0.3 0.8 0 0.8-0.7 1.4-0.6 0.7-1.7 0.3zM104.1 287.5l-5-1-3.5-1.3-2.9-2.1-2.6-3-1.4-2.2-1.3-2.6-1-2.5-1-3.2-1-5.6 0-4.3 0.3-1.8 0.7-2.1 1.6-3 3.1-3.6 3.7-3.3 4.1-2.7 4.2-2 4.1-1.1 2-0.1 2 0.1 4 1.1 2.4 1 2.4 1.3 4.8 3.4 3.8 3.7 2.4 3.3 1.3 2.8 0.7 3.6-0.1 4.7-0.6 3.2-0.6 2.6-2.1 5.2-2.3 4.1-1.3 1.7-1.7 1.7-2 1.3-2 1-1.9 0.7-2.8 0.7-5.1 0.5zM80.9 258.6l-2.7-1.3-0.6-0.7-0.3-1.6 0.1-0.7 0.5-0.7 1.4-1.1 3 0.3 0.8 0.5 0 1-0.8 2.5-0.7 1.5zM135.3 258.6l-0.6-0.3-0.8-1.7-0.6-2.3 0-1 0.7-0.5 3-0.3 1.5 1.1 0.4 0.7 0.1 0.7-0.3 1.6-0.1 0.4-1 0.6zM105.5 237.2l-0.3-0.8 0.6-3.3 1.7-1 0.7-0.1 0.7 0.1 1.6 1 0.7 3.3-0.3 0.7-2.7 0.4z"/>
<path fill="#0024ff" d="M38.7 334.2l139.3 0 0-139.7-139.6 0 0 139.7zM91 291.2l-2-0.4-0.6-0.9-0.7-1.6 1.3-2.8 0.7-0.8 0.7 0 1.7 1 1.6 1.3 0.8 0.8-0.1 0.7-0.2 0.4-2.1 2.1-0.4 0.2zM124.6 291.2l-2.5-2.3-0.2-0.4 0-0.7 0.7-0.8 1.7-1.3 1.7-1 0.6 0 0.4 0.2 0.6 1.2 1 2 0 0.4-0.8 1.7-0.5 0.6zM104.3 288.2l-4.9-1-4.1-1.7-2.9-2-3-3.5-1.4-2.1-1.3-2.5-1-2.5-1-3.2-0.8-5-0.1-2.4 0.1-2.6 0.8-3.4 0.7-1.6 1.3-2.3 2.7-3.4 3.7-3.4 4.1-2.7 4.3-2 4.3-1.2 2-0.2 1.7 0.1 4.3 0.9 2.7 1 2.1 1 4.6 3.1 2.1 1.7 2 2.1 2.7 3.6 1 1.7 0.8 1.9 0.5 2 0.2 2.1 0.1 2.3-0.2 2.7-1.1 5.2-2 5.2-1.3 2.3-1.4 2.1-1.6 2-1.9 1.7-1.4 1-2 1-2.8 1-2.7 0.6-5 0.6zM80.6 258.6l-2.7-1.3-0.4-0.3-0.2-0.7-0.2-2 0.4-0.7 1.6-1.3 3.6 0.5 0.5 0.5-0.2 2-1 2.6-0.5 0.7zM134.9 258.6l-0.5-0.7-0.8-1.9-0.5-1.7 0-1 0.6-0.5 3.6-0.5 1.5 1.3 0.5 0.7-0.5 2.7-0.3 0.3-2.7 1.3zM106.4 237.5l-0.9-0.2-0.3-0.4-0.1-0.4 0.4-3.1 0.3-0.6 1.7-0.9 0.7-0.2 0.6 0.2 1.7 0.9 0.4 0.6 0.3 2.2 0.1 0.9-0.3 0.7-0.5 0.2-1.3 0.2z"/>
<path fill="#0038ff" d="M38.7 334.2l139.3 0 0-139.7-139.6 0 0 139.7zM86.9 293.5l-0.1-0.3 0.2-0.5 0.4-0.1 0.3 0.1 0 0.5-0.2 0.3zM128.9 293.5l-0.3-0.6 0.4-0.3 0.3 0.1 0.3 0.5-0.3 0.4zM88.5 291.2l-0.9-2.3-0.1-0.7 1.5-3 0.7-0.7 0.7 0 1.7 0.9 2.4 2.1 0.2 0.7-0.3 0.6-2.3 2.5-0.7 0.2-2.4-0.1zM124.2 291.2l-2.2-2.3-0.3-1.1 0.6-0.7 1.6-1.4 2.1-1.2 0.6 0 0.7 0.7 1.4 2.6 0.1 1.1-0.8 2.1-0.4 0.3-2.6 0.2zM104.2 288.9l-4.5-1.1-2.6-1-2.8-1.3-2.6-2-3.4-4-1.3-2.1-1.3-2.6-1.7-4.9-0.7-4.9 0.2-5.3 0.3-2.1 0.5-1.7 2.4-4.4 2.7-3.4 3.4-3.2 3.6-2.4 4.4-2 5.4-1.3 2-0.2 1.7 0.1 4.6 1.1 2.8 1 2.1 1 2.2 1.3 2.3 1.7 3.7 3.6 1.4 1.7 1.7 2.7 1 1.9 0.6 1.7 0.4 1.8 0.3 2.7 0 5.1-1 4.8-1 2.8-1 2.2-1.3 2.2-1.4 2.1-2 2.3-1.8 1.7-2.1 1.3-2.1 1-2.7 1-2.4 0.7-5 0.6zM80.3 258.6l-3-1.5-0.8-2.8 0-0.4 0.4-0.3 2.1-1.5 3.7 0.6 0.7 0.6 0.1 0.6-0.4 1.7-1.1 2.7-0.7 0.6zM134.6 258.6l-0.8-1.3-0.6-1.7-0.3-1.7 0-0.6 0.2-0.4 0.8-0.3 3.1-0.5 0.7 0.1 2.1 1.7 0.1 0.4-0.8 2.7-0.4 0.4-3 1.4-0.7 0.1zM73.9 253.6l-0.1-0.3 0.3-0.4 0.4 0 0.4 0.4 0 0.3-0.3 0.2zM141.4 253.6l0.1-0.3 0.4-0.4 0.5 0.1 0.1 0.3-0.1 0.3-0.3 0.2zM105.5 237.5l-0.4-0.3-0.2-0.7 0.5-3.4 0.4-0.6 2.4-1.5 2.7 1.8 0.5 3.7-0.2 0.8-0.7 0.3-1.7 0.2-2.3-0.1zM107.8 229.1l0-0.7 0.4-0.2 0.3 0.2 0 0.8-0.3 0.2z"/>
<path fill="#0050ff" d="M38.7 334.2l139.3 0 0-139.7-139.6 0 0 139.7zM87 293.9l-0.4-0.4 0-0.6 1-1 0.3-0.7-0.1-1-0.5-1.3 0-0.7 1.9-3.4 0.5-0.5 0.7 0 2.7 1.3 1.6 1.9 0.2 0.7-0.4 0.7-2.4 2.5-0.7 0.3-1.3 0-1.4 0.3-1 1.7-0.3 0.2zM128.9 293.9l-0.4-0.4-0.9-1.5-1.3-0.3-1.3 0-0.7-0.3-2.5-2.5-0.3-0.7 0.3-1 1.5-1.6 2.7-1.3 0.6 0 0.6 0.5 1.8 3.4 0 0.7-0.5 1.3-0.1 1 0.1 0.3 1.2 1.2 0.2 0.5-0.5 0.7zM105.1 289.5l-2.3-0.4-2.7-0.7-6.4-2.7-1.6-1.3-3.5-3.9-2.6-3.8-1.1-2.3-0.9-2.4-1-4.6-0.2-4.7 0.5-4.4 0.5-2.3 3.6-6.2 1.6-2.1 1.7-1.7 3.5-2.8 4.4-2.3 4.3-1.4 3.9-0.8 1.7-0.1 6.3 1.2 4.4 1.7 2.4 1.3 2 1.4 3.4 3.1 2.7 3.5 2.2 3.8 0.9 2 0.7 6.1 0 3.3-0.3 2.7-0.6 2.4-0.9 2.6-1 2.4-2.6 4-4.5 4.9-1.7 1-3.3 1.5-4 1.4-4.7 0.7zM80.8 259l-3.5-1.7-0.3-0.3-0.4-1.4-0.6-1.2-0.7-0.3-1.4-0.2-0.3-0.3 0-0.7 0.3-0.3 0.5 0 1.6 0.8 0.3 0 1-0.4 1.3-1 0.7-0.1 3.4 0.6 0.7 0.4 0.3 1-0.2 1.7-0.3 1-1.1 2-0.5 0.4zM134.7 259l-0.4-0.4-0.5-0.6-0.9-2-0.3-2.4 0.4-0.7 0.7-0.4 3.3-0.6 0.7 0.1 1.4 1 1 0.4 0.3 0 1.6-0.8 0.4 0 0.3 0.3 0.1 0.7-0.3 0.3-1.4 0.2-0.7 0.3-0.7 1.2-0.3 1.4-0.3 0.3-3.4 1.6zM107.6 238.2l-2.1-0.4-0.6-0.6-0.1-0.7 0.5-3.7 0.2-0.3 1.4-1 0.6-0.7 0.2-0.7-0.2-1.7 0.2-0.3 0.5-0.1 0.4 0.1 0.3 0.3-0.3 1.7 0.2 0.7 0.6 0.7 1.4 1 0.2 0.3 0.5 4-0.3 0.7-0.3 0.3-2.4 0.5z"/>
<path fill="#0068ff" d="M38.7 334.2l139.3 0 0-139.7-139.6 0 0 139.7zM86.6 293.9l-0.3-0.4 0-0.6 1.1-1.4 0.2-0.6-0.5-2 0.2-1.1 2.1-3.4 1.5-0.6-4.6-5.7-1.6-3-1.1-2.7-0.8-3-0.3-3-0.1-2.7 0.4-4-0.1-1-1 0.5-0.7 0-3.9-1.9-1.2-2.3-0.6-0.5-1.2-0.2-0.6-0.4-0.1-0.6 0.2-0.6 0.3-0.3 0.7 0 1.7 0.7 1-0.4 1-0.8 1-0.1 3.9 0.8 1.1 1.3 4.1-6.1 2-2.2 2.4-2.1 2.6-1.6 2.9-1.4 2.2-0.7 5.1-1.3 0-0.3-0.7-0.7-0.2-0.7 0.5-3.8 0.3-0.8 1.6-1.4 0.3-0.7-0.2-1.7 0.3-0.4 0.7-0.2 0.6 0.2 0.3 0.4-0.1 1.7 0.2 0.7 1.7 1.4 0.3 0.8 0.4 3.8-0.2 0.7-0.6 0.7 0 0.3 5.1 1.3 2.2 0.7 2.8 1.4 2.6 1.6 2.5 2.1 2 2.2 4 6.1 1.2-1.3 3.8-0.8 1 0.1 1.1 0.8 1 0.4 2-0.7 0.6 0.3 0.3 0.6-0.2 0.6-0.5 0.4-1.2 0.2-0.7 0.5-0.8 2-0.5 0.4-3.7 1.8-0.7 0-1-0.5-0.2 1 0.4 4 0 2.7-0.4 3-0.8 3-1 2.7-1.7 3-4.5 5.7 1.5 0.6 2 3.4 0.2 1.1-0.5 2 0.3 0.6 1 1.4 0 0.6-0.3 0.4-0.7 0.3-0.4-0.2-1-1.4-0.6-0.5-2-0.2-0.7-0.3-2.8-3.1-0.2-1.7-4.7 1.9-2.4 0.7-3 0.6-3 0.2-3-0.2-3.1-0.6-2.3-0.7-4.7-1.9-0.2 1.7-2.8 3.1-0.7 0.3-2 0.2-0.7 0.5-1 1.4-0.3 0.2z"/>
<path fill="#0080ff" d="M38.7 334.2l139.3 0 0-139.7-139.6 0 0 139.7zM87 294.2l-0.5-0.3-0.5-0.7 0.3-0.7 0.8-1 0.3-0.6-0.4-2 0.1-0.7 1.9-3.6 1.2-1.1-0.3-0.7-2.5-2.7-1.7-2.3-1.5-2.7-1.1-2.7-0.7-2.7-0.3-3 0-2.3 0.4-4.7-0.2-0.3-1.6-0.2-3.7-1.9-1.4-2.3-1.7-0.6-0.6-0.5 0-1 0.6-0.7 0.7 0 1.7 0.6 1-0.4 1-0.6 0.7-0.1 4 0.7 1.3 0.8 0.4-0.2 2-3.4 1.7-2.4 2-2.2 2.3-2 2.4-1.5 2.9-1.3 2.5-0.8 3.6-0.7 0.7-0.4 0.1-0.1-0.3-1.7 0.6-3.9 0.3-0.6 1.1-0.9 0.4-0.6 0.2-2.4 0.6-0.4 0.9 0.1 0.5 0.3 0.1 0.3 0 2.1 0.5 0.6 1.1 0.9 0.3 0.6 0.6 4.2-0.4 1.4 0.4 0.3 4.1 0.9 2.4 0.8 2.9 1.3 2.4 1.5 2.4 2 2 2.2 1.7 2.4 1.6 2.9 0.7 0.7 1.3-0.8 4.1-0.7 0.6 0.1 1.1 0.6 1 0.4 1.6-0.6 0.7 0 0.6 0.7 0.1 1-0.7 0.5-1.7 0.6-1.3 2.3-3.7 1.9-1.7 0.2-0.1 0.9 0.4 3.7 0 2.7-0.4 3-0.7 2.7-1 2.7-1.5 2.7-1.7 2.3-2.5 2.7-0.4 0.7 1.2 1.1 1.8 3.2 0.3 1.1-0.4 2 0.3 0.6 0.8 1 0.2 0.7-0.6 0.9-1.1 0.2-1.6-1.9-2.4-0.4-3-3.1-0.7-1.5-0.3-0.1-4.4 1.9-2 0.6-3 0.7-3 0.2-3-0.2-3.1-0.7-2-0.6-4.3-1.9-0.4 0.1-0.6 1.5-2.7 2.8-0.7 0.4-2 0.3-1.6 1.8z"/>
<path fill="#0094ff" d="M38.7 334.2l139.3 0 0-139.7-139.6 0 0 139.7zM86.7 294.2l-0.7-0.6-0.1-0.4 0.2-0.7 0.7-1 0.3-0.6-0.2-2.4 2.1-4.1 0.8-0.9-0.1-0.4-3-3.3-1.5-2-1.4-2.4-1.1-2.7-0.7-2.6-0.3-3.1 0-2.6 0.5-4.4-0.2-0.3-1.3-0.4-4-2-1.1-2-2.3-1.1-0.2-0.6 0.1-0.7 0.4-0.6 0.3-0.3 0.7 0 1.7 0.5 2.3-0.9 4.4 0.7 1 0.4 0.3 0.1 0.4-0.3 2-3.5 1.7-2.4 2-2.2 2-1.7 2.4-1.5 2.6-1.2 2.7-0.8 3.7-0.7 0.7-0.3 0-1.7 0.7-4.2 1.5-1.8 0.3-2.4 0.5-0.4 1.3 0 0.4 0.2 0.3 0.5 0.1 2.1 1.3 1.3 0.4 0.7 0.5 4 0.1 1.7 0.6 0.3 3.7 0.7 2.7 0.8 2.7 1.2 2.3 1.5 2.1 1.7 2 2.2 1.7 2.4 1.6 3.1 0.7 0.7 1.3-0.5 4.1-0.7 0.6 0 1.4 0.8 0.7 0.1 1.6-0.5 0.7 0 0.4 0.3 0.3 0.6 0.1 0.7-0.1 0.6-2.3 1.1-1.2 2-3.9 2-1.3 0.4-0.3 0.3 0.5 4.4 0 2.6-0.3 3.1-0.7 2.6-1.1 2.7-1.4 2.4-1.5 2-3 3.3 0 0.4 0.7 0.9 2.1 3.8 0.1 0.7-0.3 2 0.3 0.6 0.8 1 0.2 0.7-0.2 0.4-0.7 0.6-0.6 0.3-0.7-0.2-1.3-1.7-2-0.4-0.7-0.3-2.9-3-0.8-1.2-0.7 0.1-3.3 1.6-2.7 0.9-3 0.7-2.7 0.1-2.7-0.1-3-0.7-2.4-0.8-4-1.8-0.5 0.1-0.7 1.1-2.8 3-0.7 0.3-2 0.4-1.3 1.6-0.4 0.2z"/>
<path fill="#00acff" d="M38.7 334.2l139.3 0 0-139.7-139.6 0 0 139.7zM87.3 294.6l-1.1-0.7-0.3-0.4-0.2-0.6 1.2-2-0.2-2 0.2-0.7 2.4-4.4 0.2-0.7-3.2-3.3-1.5-2-1.6-2.7-1-2.4-0.6-2.6-0.3-3.1 0.1-2.6 0.6-4.1-0.3-0.5-5.1-2.5-1.3-1.9-2-0.9-0.3-0.6 0.1-1 0.4-0.6 0.4-0.4 0.7 0 1.7 0.4 2.3-0.8 5.7 0.9 0.6-0.5 1.5-2.9 1.6-2.6 2.1-2.3 2-1.8 2.3-1.4 2.7-1.2 3-0.8 3.4-0.5 0.6-0.3 0.9-5.6 0.5-0.9 1-1.1 0.3-2.4 0.7-0.5 1.3 0 0.8 0.5 0.2 2.4 1.1 1.1 0.5 0.9 0.7 5.3 0.2 0.4 4.3 0.8 2.7 0.7 2.6 1.2 2.4 1.4 2 1.8 2 2.3 1.7 2.6 1.5 2.9 0.5 0.5 5.4-0.9 1 0.1 1.7 0.7 2-0.5 0.6 0.3 0.4 0.5 0.2 1.3-0.6 0.8-1.6 0.7-1 1.6-0.8 0.6-4.6 2.2-0.3 0.5 0.5 4.1 0.1 2.6-0.2 3.1-0.7 2.6-0.9 2.4-1.6 2.7-1.6 2-3.1 3.3 0.1 0.7 2.6 4.7-0.1 2.4 1.1 2-0.1 0.6-0.7 0.7-0.8 0.4-0.5 0-0.5-0.4-1.1-1.3-2.3-0.7-4-4.1-0.3-0.1-4.1 1.9-2.3 0.8-3 0.7-2.7 0.2-2.7-0.2-3-0.7-2.4-0.8-4-1.9-0.3 0.1-3.7 3.9-0.7 0.4-1.7 0.3-0.7 0.5-1 1.3z"/>
<path fill="#00c4ff" d="M44.4 334.1l127.5 0.1 2-2.1 4.1-4.4 0-125.5-2.4-2.4-5.8-5.3-123.3 0-3.8 3.4-3.7 3.7-0.6 0.6 0 125.5zM87 294.6l-1-0.7-0.4-1 1.1-2-0.1-1.7 0.2-1 2.3-4.4 0.1-0.7-3-3-1.7-2-1.7-2.7-1-2.3-0.7-2.7-0.1-3 0.1-3 0.7-4.1-0.5-0.5-4.5-2.2-0.7-0.6-0.8-1.4-2-0.9-0.4-0.8 0.1-1 0.6-1 0.7-0.2 2 0.4 1.7-0.6 1-0.1 3 0.6 2.3 0.2 0.5-0.6 1.6-3.2 1.6-2.6 1.7-2.1 2-1.8 2-1.2 3.1-1.3 3-0.7 3.7-0.5 0.5-0.4 0.9-5.3 0.3-0.7 1.1-1.3 0.3-2.4 0.9-0.6 1.3 0 0.9 0.6 0.4 2.4 1.3 1.6 0.8 5.4 0.3 0.5 4.1 0.7 2.7 0.6 3 1.2 2.3 1.4 2 1.8 1.7 2.1 1.7 2.6 1.5 3.2 0.5 0.6 2.4-0.2 3-0.6 1 0.1 1.7 0.6 2-0.4 0.6 0.2 0.6 1 0.2 1-0.4 0.8-2 0.9-0.9 1.4-0.7 0.6-4.5 2.2-0.5 0.5 0.7 4.1 0.2 3-0.2 3-0.6 2.7-1.1 2.3-1.7 2.7-1.7 2-3 3 0.1 0.7 2.4 4.4 0.2 1-0.1 1.7 1 1.6 0 0.7-0.4 0.7-0.6 0.5-0.7 0.3-0.7-0.1-1.7-1.7-1.6-0.4-0.7-0.4-3.4-3.5-0.6-0.4-0.7 0.2-3.4 1.8-2.3 0.9-3 0.8-2.7 0.3-2.7-0.3-3-0.8-2.4-0.9-3.3-1.8-0.7-0.2-0.7 0.4-3.3 3.5-0.7 0.4-1.7 0.4-1.7 1.7z"/>
<path fill="#00dcfe" d="M53.5 333.8l0.4 0.4 108.6 0 5.3-4.7 5-5.4 5.2-7 0-105.2-5.7-6.2-6.4-5.7-6.9-5.5-101.6 0-5.3 4.1-5.1 4.3-4.6 4.5-4 4.5 0 105.2 3.3 4.6 3.6 4.4 3.9 4zM86.7 294.6l-1.1-1.1-0.1-1 1-1.6 0-1.7 0.2-1 1.7-3 0.6-1.4 0-0.7-2.9-2.6-2.1-2.4-1.9-2.7-1.1-2.3-0.4-2.4 0-3.3 0.2-2.7 0.8-3.7 0-0.7-1.6-1.1-3.3-1.6-1.7-2-1.7-0.7-0.4-0.4-0.1-0.6 0.1-1 0.6-1 0.8-0.4 2 0.4 2.3-0.6 3.7 0.6 1.4 0.2 0.6-0.1 1.7-3.6 1.7-2.9 2-2.6 1.7-1.6 2.3-1.3 3.1-1 2.6-0.6 3.7-0.4 0.7-0.2 0.6-2 0.4-3.4 0.4-0.8 1-1.5 0.2-2 0.3-0.3 0.8-0.5 1.6 0.1 0.8 0.7 0.2 2 1.4 2 0.5 3.7 0.4 1.7 0.2 0.3 0.6 0.2 3.7 0.4 2.7 0.6 3 1 2.4 1.3 1.6 1.6 2 2.6 1.7 2.9 1.7 3.6 0.7 0.1 1.3-0.2 3.7-0.6 2.4 0.6 2-0.4 0.8 0.4 0.6 1 0.1 1-0.2 0.6-0.3 0.4-1.7 0.7-1.7 2-3.3 1.6-1.6 1.1-0.1 0.7 0.8 3.7 0.3 2.7 0 3.3-0.5 2.4-1.1 2.3-1.9 2.7-2.1 2.4-2.9 2.6 0.1 0.7 0.6 1.4 1.7 3 0.2 1 0 1.7 1 1.6-0.1 0.7-0.3 0.7-0.8 0.6-0.7 0.3-0.7 0-0.4-0.2-1.3-1.4-1.6-0.6-0.7-0.4-2.4-2.5-1.6-1.3-0.7 0.2-3.4 1.9-2.7 1.2-3.3 1-2 0.2-2-0.2-3.4-1-2.7-1.2-3.3-1.9-0.7-0.2-1.7 1.3-2.7 2.8-2 0.7-1.2 1.4-0.5 0.2-0.6 0z"/>
<path fill="#09f0ee" d="M62.9 334l0.2 0.2 90.1 0 6.2-4.4 5.5-5 5-5.7 4.3-6.4 3.8-6.9 0-85-2.7-3.5-2.9-3.3-6.6-6.4-8.3-6.7-9.1-6.4-80.5 0-9.1 6.4-8.3 6.7-6.5 6.4-3 3.3-2.6 3.5 0 85 2.3 4.5 2.5 4.1 2.8 4 3 3.7 3.1 3.3 3.4 3.2 3.6 2.9zM87.3 294.9l-0.9-0.4-0.7-0.6-0.3-0.7-0.1-0.7 1-1.6 0-1.7 0.3-1 1.7-3 0.5-1.4 0-0.7-3.4-3-3.5-3.7-1.3-2-0.7-2-0.1-2.7 0.7-4.7 0.9-4 0-0.7-1.8-1.2-3.1-1.5-1.6-1.8-1.8-0.8-0.4-1.1 0.1-1 0.5-1 1-0.6 1.7 0.4 2.6-0.5 3.7 0.7 1.4 0.1 0.6-0.3 1.7-4 2.5-4.5 1.2-1.6 1.2-1.1 1.5-0.8 1.7-0.6 5.3-1 3.7-0.2 0.7-0.4 0.6-2 0.4-3.4 1.2-2 0.3-2 0.2-0.4 1-0.5 1.7 0.1 0.7 0.4 0.2 0.4 0.2 2 1.2 1.9 0.6 4.2 0.4 1.3 0.4 0.3 5.7 0.6 4 0.8 2 0.8 1.7 1.2 1.4 1.7 2.6 4.8 1.7 4 0.7 0.3 1.3-0.1 3.7-0.7 2.4 0.5 1.6-0.3 0.7 0 0.7 0.6 0.5 0.9 0.1 0.7-0.2 1-0.4 0.5-1.7 0.7-1.6 1.8-3.1 1.5-1.7 1.2-0.1 0.7 1 4 0.6 4.7 0 2-0.3 1.7-0.8 1.7-0.9 1.3-3.9 4.1-2.8 2.3-0.3 0.7 0.7 2 1.6 2.7 0.2 1 0.1 1.7 0.9 1.6-0.2 1-0.8 1-1 0.4-1-0.1-1.4-1.4-2.3-1.1-2.4-2.5-1.6-1.2-0.7 0.2-3.7 2.2-4.4 2.1-1.6 0.5-1.7 0.2-1.7-0.2-1.7-0.5-4.3-2.1-3.7-2.2-0.7-0.2-1.7 1.2-2.3 2.5-2.4 1.1-1.3 1.4z"/>
<path fill="#1cffdb" d="M72.6 333.9l0.7 0.3 69.7 0 4.8-2.2 4.7-2.8 4.2-3.1 3.8-3.5 3.6-3.9 3.3-4.3 2.9-4.7 2.8-5.4 2.4-5.7 2.5-6.6 0-62.7-2.8-4.2-3.3-4.2-3.6-4-4.4-4-5.7-4.8-7.1-5.2-6.7-4.7-6-3.7-60.4 0-6 3.7-6.8 4.7-7 5.2-5.7 4.8-4.4 4-3.7 4-3.3 4.2-2.7 4.2 0 62.7 3.1 8.3 3.1 6.7 3.5 6 3.9 5.4 4.5 4.9 4.9 4.1 5.5 3.6zM86.9 294.9l-1.3-1-0.3-0.7-0.1-0.7 0.9-1.6 0.1-1.7 0.3-1 1.7-3 0.5-1.8-0.3-0.5-2.3-1.8-5-4.3-1.4-2-0.7-2.4-0.1-1.3 0.2-1.7 2.1-8.4 0-0.7-1.6-1.1-3.2-1.6-1.6-1.6-1.9-1-0.3-1.1 0.1-1 0.6-1.1 0.6-0.5 0.4-0.1 2 0.3 2.3-0.4 3.4 0.7 2-0.1 0.4-0.4 3.2-8.1 0.8-1.4 1-1.2 2-1.5 2.3-0.8 9.8-0.7 0.3-0.4 0.4-1.4 0.5-3.7 1.1-2 0.4-2.1 0.3-0.4 1-0.5 1.7 0.1 0.7 0.4 0.3 0.5 0.2 1.7 1.3 2.3 0.4 3.7 0.4 1.4 0.4 0.4 9 0.6 1.7 0.4 1.4 0.5 2 1.5 1.4 1.9 3.7 9.1 0.6 0.2 0.6 0 4.4-0.7 2.4 0.4 2-0.3 0.3 0.1 0.7 0.5 0.6 1.1 0.1 1-0.4 1.1-1.9 1-1.5 1.6-3.3 1.6-1.6 1.1 0 0.7 2.2 8.7 0.1 2-0.4 2-0.7 1.7-1.3 1.7-7 5.8-0.4 0.5 0.6 1.8 1.8 3.3 0.2 2 1 2-0.1 0.7-0.4 0.8-1 0.8-1.1 0.3-0.6-0.1-1.4-1.5-2.3-1-2.4-2.6-1-0.8-0.6-0.4-0.7 0.3-7.7 4.9-2.4 0.7-2.3 0-1.7-0.3-1.4-0.6-7.3-4.7-0.7-0.3-0.7 0.4-1 0.8-2.3 2.6-2.3 1-1.3 1.4-0.5 0.2z"/>
<path fill="#30ffc7" d="M90.1 333.9l4 0.3 28.2 0 6.3-0.6 6.1-1.1 5.7-1.7 5-2.2 5-2.8 4.5-3.4 4.1-4 3.8-4.7 3.1-5 2.5-5.1 2.5-6 7.1-21.8 0-37.5-1.6-3.5-1.7-3-2.8-4.2-3.2-3.9-3.8-3.8-4.4-3.8-7-5.4-13.4-9.6-5.7-3.6-5.6-3-41.3 0-0.8 0.4-6 3.3-6.6 4.4-14.6 10.6-7 5.7-4.6 4.5-3.8 4.7-3.3 5-2.4 5.2 0 37.5 7 21.4 2.2 5.7 2.5 5.1 3.2 5.4 3.9 4.8 4.3 4.2 4.7 3.6 5.4 3 5.7 2.3 6 1.6zM106.8 295.6l-1.6-0.5-1.7-0.9-2.5-2-4.9-3.3-0.7 0.3-1 0.8-2.3 2.6-2 1-1.7 1.5-1.4-0.1-1.3-0.8-0.6-1-0.1-0.7 0.9-1.6 0.4-2.4 1.8-3.3 0.5-1.7-0.6-0.6-4-3-2.3-1.5-1.2-1-1.7-2.3-0.7-2.4-0.1-1.6 0.2-1.7 2.8-8.2 0-0.9-1.4-1-3.3-1.6-1.7-1.7-1.7-0.8-0.3-0.6-0.1-1 0.2-1 0.3-0.7 0.7-0.6 0.6-0.2 2 0.3 2.3-0.4 3.4 0.7 1.3 0 0.7-0.1 0.3-0.7 1.7-5 0.6-2.4 0.7-1.6 1.5-2.1 1.9-1.4 1.7-0.7 2-0.3 3.4 0.2 5.7-0.2 0.3-0.4 0.4-1.2 0.4-3.7 1.2-2.3 0.2-1.7 0.2-0.4 0.6-0.4 1.4-0.3 1.3 0.3 0.7 0.4 0.2 0.4 0.2 1.7 1.1 2.3 0.5 3.7 0.3 1.2 0.4 0.4 5.7 0.2 3.3-0.2 2 0.3 1.7 0.7 2 1.4 1.5 2.1 0.7 1.6 0.5 2.4 1.7 5 0.4 0.7 0.6 0.1 1.4 0 3.3-0.7 2.4 0.4 2-0.3 0.5 0.2 0.7 0.6 0.4 0.7 0.2 1-0.1 1-0.4 0.6-1.7 0.8-1.6 1.7-3.4 1.6-1.4 1 0.1 0.9 2.7 8.2 0.3 1.7-0.1 1.6-0.7 2.4-1.8 2.3-1.1 1-2.4 1.5-4 3-0.5 0.6 0.4 1.7 1.9 3.3 0.3 2.4 0.9 1.6-0.1 0.7-0.5 1-1.4 0.8-1.3 0.1-1.7-1.5-2-1-2.4-2.6-1-0.8-0.6-0.3-4.9 3.3-2.2 1.8-1.3 0.8-2.7 0.8z"/>
<path fill="#40ffb7" d="M89.7 329.8l5.1 0.2 13.4-0.2 14.1 0.2 4.3-0.2 4.1-0.4 5.7-1.1 5-1.7 4.7-2.3 4.4-2.8 4-3.5 3.3-3.7 3-4.3 2.7-5 1.6-3.7 1.4-4.1 3.8-12.1 4.8-14.4 1.6-6 0.8-5 0.2-4.7-0.2-4.7-0.8-4.7-1.3-4.4-1.9-4.4-2.3-4-2.9-4-3.7-3.9-4.7-4-26.1-19-3.8-2.4-4-2.1-4.1-1.7-3.7-1.2-20 0-3.8 1.2-3.7 1.5-3.7 1.9-3.5 2.2-26 18.8-3.7 3-3.4 3.1-3.8 4.6-3.2 5-2.4 5.4-1.5 5.4-0.8 5-0.1 5 0.5 5.1 1.1 5.3 1.4 4.7 9.1 27.9 2.1 5.4 2.5 4.7 3 4.3 3.2 3.7 3.8 3.4 4.3 2.9 4.7 2.3 4.7 1.7 5.3 1.2zM106.5 296.6l-1.7-0.6-1.7-1-1.3-1.1-2-2-3.7-2.8-0.7 0.2-0.6 0.5-2.7 2.9-2 1.1-1.6 1.4-1.5 0-1.4-1-0.6-1 0-1 0.7-1.3 0.6-2.7 1.9-3.4 0.2-1.3-3.7-2.7-3-1.5-2.1-1.4-1.6-2.1-0.6-1.4-0.3-1.3-0.1-2 0.4-2.1 0.7-1.6 1.2-2.2 1.6-4.2 0-0.7-1.6-1.1-3-1.4-1.7-1.6-1.7-0.8-0.4-0.8-0.2-1 0.6-1.7 0.7-0.7 0.7-0.3 2 0.3 2.3-0.3 3.1 0.7 2 0 0.4-0.7 1.1-3.7 0.6-3.7 0.6-2 1.6-2.3 2.1-1.6 2-0.8 2-0.2 1.7 0.1 3 0.5 4 0.1 0.7-0.1 0.3-0.5 0.3-1.2 0.4-3.4 1.1-2.3 0.2-1.7 0.7-0.8 0.7-0.3 1-0.2 1 0.2 0.7 0.3 0.6 0.8 0.3 1.7 1 2.3 0.4 3.4 0.3 1.2 0.4 0.5 0.6 0.1 4.1-0.1 3-0.5 1.7-0.1 2 0.2 2 0.8 2.1 1.6 1.5 2.3 0.7 2 0.6 3.7 1 3.7 0.5 0.7 2 0 3-0.7 2.4 0.3 2-0.3 0.6 0.3 0.7 0.7 0.6 1.7-0.1 1-0.5 0.8-1.7 0.8-1.6 1.6-3.1 1.4-1.5 1.1 0 0.7 1.5 4.2 1.2 2.2 0.7 1.6 0.4 2.1 0 2-0.3 1.3-0.6 1.4-1.7 2.1-2 1.4-3 1.5-3.7 2.7 0.2 1.3 1.8 3.4 0.6 2.7 0.8 1.3-0.1 1-0.6 1-1.4 1-1.4 0-1.6-1.4-2-1.1-2.7-2.9-0.7-0.5-0.6-0.2-3.8 2.8-2.3 2.3-2 1.5-2.7 0.9-1.3 0.1z"/>
<path fill="#53ffa4" d="M89.7 326.4l5.7 0.2 13.4-0.2 13.8 0.2 4.4-0.2 3.7-0.3 5-1 4.7-1.4 4.4-2.1 4-2.6 3.4-3 3.2-3.7 2.9-4.3 2.3-4.7 2.3-6.1 4.3-14 4.5-12.8 1.1-4 1-4.1 0.6-4.3 0.2-4.4-0.3-4.4-0.8-4-1.4-4-1.7-3.7-2.3-3.7-2.9-3.5-3.5-3.5-4.2-3.5-12.7-9-10.1-7.6-4-2.8-4.1-2.5-4-2-3.7-1.4-4-1.1-3.7-0.5-4-0.1-4.1 0.4-3.7 0.7-3.6 1.2-3.7 1.6-3.7 2-4.1 2.6-12.7 9.5-12.4 8.7-3.7 3-3 2.8-3.7 4.3-2.9 4.4-2.1 4.7-1.4 5-0.6 4.4 0 4.7 0.5 4.7 1.2 5.4 1.5 5 4.4 12.8 4.5 14.4 2.1 5.4 2.5 4.7 2.7 4 3 3.3 3.4 3 3.7 2.4 4 2 4.3 1.5 4.7 1zM108.2 297.9l-1.4-0.1-1.3-0.4-2.4-1.3-1.6-1.5-2.2-2.7-3.2-2.6-0.7 0.1-0.6 0.5-2.7 2.9-1.9 1.1-1.5 1.3-0.7 0.2-1-0.1-1.5-1.1-0.6-1 0-1 0.8-1.7 0.5-2.3 1.9-3.4 0.2-1-0.1-0.3-3.5-2.2-3.4-1.3-2.4-1.6-1.1-1-0.9-1.3-0.6-1.3-0.3-1.4-0.1-2 0.6-2.4 1-2 1.8-2.7 1.4-3.2 0-0.8-1.4-1.1-3-1.3-1.8-1.6-1.6-0.8-0.6-0.9-0.1-1 0.3-1 0.4-0.9 0.7-0.6 0.7-0.3 2 0.3 2.3-0.3 3.7 0.8 1-0.1 0.5-0.2 0.9-3.7 0.3-4.1 0.7-2.6 1.4-2.4 1-1 1.3-0.9 2-0.7 2.3-0.2 2.4 0.3 3 0.8 3.7 0.4 0.7-0.2 0.3-0.5 0.3-1.3 0.4-3.3 0.9-2.1 0.3-1.7 0.8-0.9 1.7-0.5 1.7 0.5 0.8 0.9 0.2 1.7 1 2.1 0.3 3.3 0.3 1.3 0.4 0.5 0.6 0.2 3.7-0.4 3.1-0.8 2.3-0.3 2.4 0.2 2 0.7 1.3 0.9 1 1 1.4 2.4 0.7 2.6 0.2 4.1 1 3.7 0.4 0.2 1 0.1 3.7-0.8 2.4 0.3 2-0.3 0.6 0.3 0.7 0.6 0.5 0.9 0.2 1-0.1 1-0.6 0.9-1.5 0.8-1.8 1.6-3.1 1.3-1.4 1.1 0.1 0.8 1.3 3.2 1.9 2.7 0.9 2 0.6 2.4 0 2-0.3 1.4-0.6 1.3-1 1.3-1 1-2.5 1.6-3.3 1.3-3.5 2.2-0.2 0.3 0.3 1 1.8 3.4 0.6 2.3 0.8 1.7 0 1-0.6 1-1.6 1.1-1 0.1-0.7-0.2-1.4-1.3-1.9-1.1-2.7-2.9-0.7-0.5-0.6-0.1-3.2 2.6-2.2 2.7-1.7 1.5-2.3 1.3-1.4 0.4z"/>
<path fill="#66ff90" d="M88.4 323.8l6 0.1 13.4-0.5 14.8 0.5 7.1-0.3 4.7-0.8 4.3-1.2 4.4-2 3.7-2.3 3.4-2.9 3-3.4 2.5-3.7 2.3-4.4 2-5.3 4.2-14.5 5.1-14.1 1.8-6.3 0.7-4.4 0.2-4-0.2-4-0.7-4.1-1.2-3.7-1.7-3.7-2.1-3.3-2.6-3.4-3-3-3.7-3-13.8-9.4-10.2-8.1-3.8-2.7-3.4-2.1-3.7-1.9-3.7-1.4-3.3-0.9-3.4-0.6-3.7-0.1-3.3 0.2-3.7 0.6-3.4 1-3.3 1.3-3.4 1.8-3.7 2.3-13.7 10.6-13.1 8.9-5.4 4.5-3.6 4-2.7 4.1-2.1 4.3-1.4 4.7-0.6 4.1-0.1 4.3 0.5 4.4 0.9 4.4 1.6 5.3 4.8 13.1 4.6 15.8 1.7 4.3 1.8 3.7 2.4 3.7 2.9 3.4 3.1 2.8 3.3 2.3 3.7 1.9 4 1.5 4.4 1zM106.1 298.9l-2-0.9-2-1.5-1.6-2-1.7-2.6-2.7-2.5-0.7 0.1-0.6 0.5-2.7 2.9-1.7 1-1.7 1.5-0.7 0.1-1-0.1-0.9-0.5-0.8-0.7-0.5-1-0.1-1 0.8-1.7 0.6-2.3 1.8-3 0.3-1.4-0.8-0.7-2.4-1.2-4-1.2-3-1.6-1.1-1-1.1-1.3-0.7-1.4-0.3-1.3-0.1-2.4 0.8-2.7 1.3-2.3 2.5-3.2 1.2-2.5 0-0.7-1.5-1.2-2.8-1.1-1.9-1.6-1.4-0.7-0.7-1.1-0.1-1 0.3-1 0.5-1 0.7-0.7 0.7-0.2 2 0.2 2.3-0.2 3.7 0.8 1.3-0.2 0.3-0.7 0.5-2.7-0.2-4.4 0.5-3 0.7-1.7 0.9-1.3 0.9-1 1.2-0.8 2.3-0.8 2.7-0.2 2.7 0.5 3.7 1.4 2.7 0.4 1-0.2 0.6-1.6 0.3-3.4 0.9-2 0.2-1.7 1-1 0.7-0.3 1-0.1 1 0.1 0.7 0.3 0.9 1 0.3 1.7 0.8 2 0.4 3.4 0.6 1.6 1 0.2 2.7-0.4 3.7-1.4 2.6-0.5 2.7 0.2 2.4 0.8 1.1 0.8 1 1 0.8 1.3 0.7 1.7 0.5 3-0.1 4.4 0.5 2.7 0.3 0.7 1.2 0.2 3.7-0.8 2.4 0.2 2-0.2 1 0.5 0.6 0.7 0.4 1 0.1 1-0.2 1.1-0.6 0.7-1.3 0.7-2 1.6-2.7 1.1-1.6 1.2 0.1 0.7 1.1 2.5 2.5 3.2 1.3 2.3 0.8 2.7 0 2.4-0.4 1.3-0.6 1.4-1.1 1.3-1.2 1-2.9 1.6-4.1 1.2-2.3 1.2-0.8 0.7 0.3 1.4 1.7 3 0.6 2.3 0.8 1.7 0 1-0.6 1-0.7 0.7-1 0.5-1 0.1-0.7-0.1-1.6-1.5-1.7-1-2.7-2.9-0.7-0.5-0.6-0.1-2.7 2.5-1.4 2.2-1.3 1.7-2.4 2-1.6 0.9-1.4 0.4-1.7 0.1z"/>
<path fill="#7aff7d" d="M86.4 321.4l3.3 0.3 3.7-0.1 10.7-0.9 4.1-0.1 4 0.1 10.7 0.9 6.8-0.1 4.3-0.7 4-1.2 4.1-1.8 3.3-2.1 3.2-2.7 2.8-3 2.3-3.4 2.1-4 1.2-3 1.1-3.4 2.5-10.7 1.1-4 1.4-3.7 4-9.4 1.9-6.1 0.7-4 0.3-4-0.2-3.7-0.7-3.7-1.1-3.7-1.6-3.4-1.8-3-2.4-3-3-3-3.7-2.9-3.7-2.5-7.8-4.7-3.6-2.5-9.3-7.9-4.1-3.1-2.7-1.7-3-1.6-3.1-1.3-3-0.9-3.3-0.6-3.1-0.2-3.3 0.1-3 0.5-3.4 0.8-3 1.1-3 1.5-3 1.8-4.5 3.3-7.3 6.4-3 2.3-3.5 2.4-9.6 5.8-3 2.2-2.7 2.3-3.2 3.4-2.6 3.7-2.1 4-1.4 4.4-0.6 3.7-0.2 4 0.3 4 0.8 4.1 1.8 5.7 5.2 12.7 1.2 4.1 2.9 12 1.4 4.1 1.7 3.7 2 3.3 2.4 3 2.8 2.8 3 2.3 3.4 1.9 3.3 1.4 3.7 1.1zM106.7 300.6l-2.2-0.9-2.4-1.9-2-2.5-1.8-3.4-1.5-1.7-1-0.7-1 0.6-2.7 2.9-1.7 1.1-1.4 1.3-1 0.2-1-0.1-1-0.5-0.8-0.8-0.5-0.9-0.1-1.1 0.8-1.7 0.5-2 1.9-3.3 0.2-1.3-0.6-0.6-2.4-1.1-3.7-0.6-3-1.1-2.6-1.7-1.6-2-0.6-1.4-0.3-1.7 0.2-1.6 0.4-1.7 1-2 1.1-1.7 3.1-3.3 1.1-2.1 0.3-1-1.2-1-3.2-1.3-1.7-1.4-1.4-0.7-0.7-0.9-0.2-1.4 0.3-1 0.5-1 0.6-0.7 0.9-0.4 2 0.2 2.3-0.1 3.4 0.8 1.3-0.1 0.4-1 0.3-2.4-0.5-4 0.2-3.7 0.5-1.7 0.6-1.3 0.9-1.3 1-1 1.3-0.7 1.4-0.4 1.7-0.2 1.6 0 3.4 0.8 4 1.9 3 0.5 0.4-0.2 0.3-0.8 0.5-4 0.8-2 0.4-1.9 1-1 1.7-0.3 1.7 0.3 1 1 0.4 1.9 0.7 2 0.5 4 0.4 0.8 0.3 0.2 3-0.5 4.1-1.9 3.3-0.8 1.7 0 1.7 0.2 1.3 0.4 1.4 0.7 1 1 0.8 1.3 0.7 1.3 0.4 1.7 0.3 3.7-0.6 4 0.3 2.4 0.4 1 1.4 0.1 3.3-0.8 2.4 0.1 2-0.2 1 0.5 0.7 0.8 0.4 1.1 0.1 1-0.2 1.1-0.7 0.9-1.3 0.7-1.8 1.4-3.1 1.3-1.2 1 0.2 1 1.2 2.1 2.8 3 1.7 2.6 1 2.7 0.2 2.7-0.5 1.7-0.7 1.3-1.3 1.4-1.3 1-1.9 1-1.7 0.6-4.7 1-2 0.9-0.6 0.5-0.1 0.4 0.3 1 1.9 3.3 0.5 2 0.8 1.7-0.1 1.1-0.5 0.9-0.9 0.8-1 0.5-1 0.1-1-0.2-1.3-1.3-1.7-1.1-2.7-2.9-1-0.6-0.7 0.4-1.6 1.6-2.4 4.3-1.3 1.7-1.4 1.2-1.7 1.2-1.6 0.6-1.7 0.3z"/>
<path fill="#8aff6d" d="M89 319.7l5.4-0.2 9.7-1.5 4.1-0.3 3.7 0.2 11 1.7 3.7 0.1 3.7-0.1 4.1-0.7 3.6-1.1 3.4-1.6 3.4-2.2 3-2.6 2.4-2.7 2-3.1 1.9-3.7 1.1-3 0.9-3.3 1.9-11.1 0.9-3.7 1.5-3.7 4.8-9.7 1.4-3.7 0.9-3.4 0.6-3.7 0.1-3.3-0.2-3.4-0.7-3.3-1.2-3.4-1.5-3-2-3-2.1-2.5-3-2.9-3.7-2.7-3.7-2.1-7.7-3.9-3.1-2-2.9-2.5-7-6.9-4.8-3.8-2.7-1.7-2.6-1.3-2.7-1-2.7-0.7-2.7-0.4-3-0.2-3 0.2-2.7 0.4-3.1 0.8-2.6 1.1-2.7 1.3-2.7 1.7-4.5 3.6-6.9 6.9-3 2.5-3.4 2.1-10.1 5.3-3.3 2.3-2.9 2.3-3.1 3.4-2.3 3.3-1.9 4.1-1.2 4-0.6 3.4-0.1 3.7 0.4 3.6 0.7 3.4 1 3 1.2 3 4.6 9.1 1.3 3.4 1 3.7 1.3 8.3 1 4.4 1.4 4.4 1.9 4 2.2 3.4 2.4 2.6 2.8 2.5 3 2 3.3 1.7 3.7 1.2 3.7 0.7zM107.2 302.6l-2.4-0.9-1.3-1-1.4-1.3-2.3-3.2-1.9-4.3-1.4-1.7-0.7-0.5-1 0.5-2.7 3-1.6 1-1.5 1.3-1.6 0.2-1.6-0.8-1.2-1.4-0.2-1.3 0.8-1.7 0.6-2 1.9-3.3 0.2-1-0.2-0.4-2.3-1.1-3.7-0.3-2.6-0.6-1.9-0.7-1.9-0.9-1.5-1.1-1.3-1.3-0.8-1.7-0.3-1.7 0.5-2.7 1.5-3 2.1-2.7 3.5-3.2 1-1.6 0.2-0.9-0.2-0.3-1-0.7-3.1-1.3-1.6-1.3-1.7-0.9-0.7-1.5 0.3-1.7 0.7-1.4 1.4-0.8 2 0.2 2-0.1 3.7 0.8 1 0 0.3-0.4 0.4-2.7-1-4.3-0.1-3.7 0.7-3.4 1.2-2.3 1.2-1.2 1.3-0.7 2-0.4 2.1 0 2 0.4 2 0.6 2.3 1.1 3.1 1.8 1.6 0.4 1 0.1 0.4-0.2 0.4-0.9 0.3-3.7 0.7-2 0.5-2 1.1-1 1.7-0.3 1.7 0.3 1.1 1 0.4 2 0.7 2 0.4 3.7 0.4 0.9 0.3 0.2 1.1-0.1 1.6-0.4 3-1.8 2.4-1.1 2-0.6 2-0.4 2 0 2 0.4 1.4 0.7 1.2 1.2 1.2 2.3 0.6 3.4-0.1 3.7-0.9 4.3 0.3 2.7 0.3 0.4 1.1 0 3.6-0.8 2.1 0.1 2-0.2 1.3 0.8 0.8 1.4 0.2 1.7-0.6 1.5-1.7 0.9-1.6 1.3-3.2 1.3-0.9 0.7-0.3 0.3 0.3 0.9 1 1.6 3.5 3.2 2 2.7 1.5 3 0.5 2.7-0.2 1.7-0.9 1.7-1.2 1.3-1.5 1.1-1.9 0.9-1.9 0.7-2.6 0.6-3.7 0.3-2.4 1.1-0.2 0.4 0.2 1 2 3.3 0.6 2 0.7 1.7-0.2 1.3-1.1 1.4-1.6 0.8-1.7-0.2-1.4-1.3-1.6-1-2.7-3-1-0.5-0.7 0.5-1.2 1.3-2.5 5.2-1.3 1.9-1.4 1.5-1.6 1.4-1.4 0.7-1.7 0.5z"/>
<path fill="#9dff5a" d="M84.3 317.7l4.4 0.3 4.7-0.4 4.5-0.9 7.3-2.2 3-0.4 3 0.4 6.7 2.1 4 0.9 4.1 0.5 4-0.1 3.7-0.5 3.3-0.9 3.1-1.3 3.1-1.8 2.9-2.4 2.4-2.7 2.1-3 1.7-3.4 1.3-3.7 0.8-4 0.4-4 0.2-7.7 0.5-2.7 1.3-2.7 4.1-5.9 2-3.4 1.7-3.6 1.2-3.5 0.6-3.4 0.3-3.4-0.2-3.3-0.5-3-1-3.1-1.4-3-1.6-2.7-2.1-2.6-3.7-3.3-4.1-2.6-4.3-2.1-7.9-2.8-2.2-1.1-2.3-2.2-6.1-7.8-3.7-3.5-2.4-1.8-2.7-1.7-2.6-1.2-3-1.1-2.7-0.6-2.7-0.2-2.7 0-2.7 0.2-2.6 0.6-2.7 0.9-2.7 1.3-2.4 1.3-2.8 2.2-2.9 2.6-2.6 3.1-4.4 5.7-2 1.9-2.7 1.5-7.1 2.5-3.6 1.6-3.7 2.1-3.4 2.6-2.7 2.7-2.3 3.2-1.8 3.3-1.1 3.4-0.7 3.4-0.2 3.3 0.2 3.4 0.6 3.3 1.2 3.7 1.7 3.7 2.1 3.5 4.1 5.9 1.2 2.7 0.6 2.7 0.2 7.7 0.4 4.4 1.1 4.7 1.6 4 1.5 2.7 1.9 2.7 2.1 2.3 2.4 1.9 2.7 1.8 2.7 1.3 3 1zM106.6 305.3l-1.1-0.6-1.4-1.1-2.6-3.1-2.4-4-1.6-4.6-1.4-1.8-0.7-0.2-0.6 0.4-2.7 3-2.9 2.3-1.5 0.3-1-0.3-1.1-0.7-0.9-1-0.4-1.7 1.4-3.7 1.9-3.3 0.2-0.7-0.1-0.4-0.7-0.5-1.3-0.5-3.7-0.1-2.7-0.3-2.7-0.6-3-1-1.9-1-1.7-1.3-0.9-1.4-0.4-1.6 0.2-1.4 0.6-1.7 2.3-3.7 3-3.3 3.8-3 1.4-2-0.2-0.7-0.4-0.3-3.4-1.6-3.4-2.1-0.7-1.4-0.1-1 0.8-2.1 0.7-0.7 1-0.5 4 0.1 3.7 0.8 0.7 0 0.4-0.3 0.3-1 0-1.3-1.5-5.1-0.4-4.7 0.1-2.3 0.3-2 0.4-1.4 0.8-1.3 1.1-1 1.5-0.6 2-0.1 2.4 0.4 3 0.9 2.7 1.2 2.3 1.3 2.6 1.9 1.4 0.5 1 0.1 0.4-0.2 0.3-0.8 0.3-3.7 1.1-3.9 1.1-1 1.9-0.4 1.8 0.4 1.1 1 1.1 3.9 0.3 3.7 0.4 0.8 0.3 0.2 1-0.1 1.4-0.5 2.6-1.9 2.4-1.3 2.7-1.2 3-0.9 2.3-0.4 2.1 0.1 1.4 0.6 1.2 1 0.7 1.3 0.4 1.4 0.4 2 0.1 2.3-0.5 4.7-1.4 5.1 0 1.3 0.2 1 0.5 0.3 0.7 0 3.6-0.8 4.1-0.1 1 0.5 0.7 0.7 0.7 2.1 0 1-0.7 1.4-3.4 2.1-3.5 1.6-0.4 0.3-0.1 0.7 1.3 2 3.9 3 3 3.3 2.2 3.7 0.6 1.7 0.2 1.4-0.3 1.6-0.9 1.4-1.8 1.3-1.9 1-3 1-2.7 0.6-2.6 0.3-3.7 0.1-1.4 0.5-0.7 0.5-0.1 0.4 0.2 0.7 2 3.3 1.3 3.7-0.3 1.7-1.4 1.3-1.7 0.7-1.3-0.2-3-2.4-2.7-3-0.7-0.4-0.3 0-0.8 0.6-0.9 1.4-1.3 3.8-1.4 2.7-1.3 2.1-1.7 2.1-1.7 1.6-1.6 1-1.7 0.4z"/>
<path fill="#b1ff46" d="M85.4 316.4l2.6 0.1 2.7-0.2 2.7-0.5 2.7-0.7 2.5-1.1 2.2-1.2 1.4-1.1 1-1.4 0.4-1.3-0.4-1.7-4.4-9.7-1.9-6.1-1.1-1.3-0.7 0-1 0.8-2 2.5-2.7 2.1-0.7 0.3-1.3 0-1.4-0.6-1.2-1.1-0.4-0.7-0.2-1.3 1.3-3.7 1.9-3 0.3-1-0.3-0.5-1.7-0.6-3.4 0.2-3.3-0.1-9.4-1.2-2 0.1-1 0.4-1.3 1.4-0.9 2-0.5 2.7-0.2 3.3 0.2 3.4 0.6 3 1 3 1.3 2.7 1.5 2.3 1.9 2.4 2.1 2 2.3 1.7 2.4 1.3 2.6 1.2 2.7 0.7zM126.6 316.4l3.4 0 3-0.3 3-0.7 3.1-1.2 2.6-1.5 2.4-1.7 2.3-2.3 1.9-2.4 1.8-3 1.2-3 0.9-3.4 0.4-3.4 0-3.3-0.5-3.4-1-2.5-0.6-1-0.7-0.5-1-0.4-2-0.1-9.4 1.2-3.4 0.1-3.3-0.2-1.7 0.6-0.3 0.5 0.2 1 1.9 3 1.4 3.7-0.2 1.3-0.5 0.7-1.2 1.1-1.3 0.6-1.4 0-0.7-0.3-2.6-2.1-2-2.5-1-0.8-0.7-0.1-1 1.1-0.3 0.7-0.7 2.8-1.4 3.7-3.9 8.2-0.5 1.7 0.1 1.4 0.4 1 1.2 1.3 3.2 2 4.2 1.6zM62.5 273.8l1.7 0 1.7-0.9 7-6.5 3-2.4 2.7-1.8 1-1.3 0.2-0.6-0.5-0.6-3.9-1.7-2.8-1.9-0.4-0.5-0.4-1 0-1 0.3-1.3 0.8-1.4 1-0.6 0.7-0.2 3.7 0.2 3.7 0.9 0.7-0.1 0.3-0.5 0-2-1-2.4-1-3.3-2-10.3-0.9-1.8-1.5-1-1.3-0.3-1.7 0-4 0.6-4 1.5-3.7 2-3.4 2.6-2.7 3-2.1 3.3-1.6 3.7-0.8 3.7-0.3 4 0.5 4.1 1.1 4 1.9 4 2.7 3.7 2.6 2.6 1.4 0.9zM152.1 273.8l1 0.1 1.4-0.3 1.3-0.8 1.7-1.3 3-3.5 2.5-4.3 1.5-4 0.7-4.1 0-4.3-0.7-4.1-1.3-3.7-2.2-3.7-2.5-3-3.3-2.7-3.7-2.2-4.1-1.6-4-0.8-1.7 0-1.6 0.2-1 0.4-0.7 0.5-0.6 0.9-0.4 1.1-2.1 10.3-1 3.3-1 2.4 0 2 0.4 0.5 0.7 0.1 3.6-0.9 3.7-0.2 0.7 0.2 1.1 0.6 0.8 1.4 0.3 1.3 0 1-0.5 1.1-3.2 2.3-3.8 1.7-0.4 0.3-0.1 0.7 1.1 1.5 4.6 3.2 7.2 6.7 1.6 1.2zM102.8 236.2l0.7-0.2 0.3-0.8 0.2-3.4 1-3.7 0.5-0.8 1-0.7 1.3-0.3 1.5 0.1 1 0.4 0.9 0.9 1.1 3.8 0.3 3.7 0.3 0.8 0.6 0.2 2-0.7 1.7-1.5 2.7-1.9 8.4-4.7 2.2-1.6 0.6-1.1 0.2-1.3-0.4-2-0.8-2-1.3-2.4-1.5-2-1.8-2-2.2-2-4-2.7-4.4-1.8-4.4-0.9-2.3-0.1-2.4 0.1-2.3 0.3-2.4 0.7-4.3 1.8-4.1 2.8-3.4 3.5-2.1 3-1.6 3.4-0.5 2.6 0.2 1 0.3 0.7 1 1 1.4 1 8.4 4.7 2.7 1.9 1.8 1.5z"/>
<path fill="#c4ff33" d="M85.4 315l2.3 0.1 2.4-0.2 2.3-0.5 2-0.7 2-0.9 1.6-1.1 1.1-1.1 0.8-1.3 0.4-2-0.2-2.7-2.7-9.1-0.7-3.6-0.3-0.7-0.6-0.8-0.7-0.1-1 0.8-2 2.5-2.5 2-0.9 0.4-1.3 0-1.1-0.4-1.3-1-0.7-0.9-0.2-1.2 0-0.6 1.3-3.4 2.1-3.3 0-0.7-0.5-0.4-1.3-0.3-3 0.3-9.4 0.3-2.4 0.3-2.1 0.8-1.2 1-1.1 1.7-0.8 2.3-0.3 2.7 0.2 3 0.5 2.7 0.9 2.7 1.3 2.7 1.5 2.3 1.7 2.1 2.1 1.8 2 1.4 2.4 1.3 2.3 0.9 2.4 0.6zM128 315.1l3-0.1 2.7-0.3 2.7-0.7 2.7-1.2 2.3-1.3 2.4-1.8 1.9-2.1 1.6-2 1.5-2.7 1.1-2.6 0.7-3.1 0.3-3-0.2-3-0.6-2.3-1-2-1.3-1.3-2-0.8-2.4-0.4-9.7-0.3-3-0.3-1.4 0.3-0.4 0.4 0 0.7 2 3.3 1.3 3.4 0.1 0.6-0.3 1.2-0.7 0.9-1.3 1-1.4 0.5-1.3-0.2-0.6-0.3-2.4-2-2.7-3.1-0.7-0.2-0.7 0.6-0.5 1-0.6 3-2.8 9.4-0.3 2.7 0.3 2 0.5 1 0.8 1 1.1 1 1.7 1 3.5 1.4zM62.9 270.4l2-0.2 2.7-1.2 8.3-5.7 2.7-1.5 0.9-1.1 0-0.7-0.4-0.3-3.9-1.7-2.6-1.8-0.5-0.6-0.4-1 0-1.3 0.4-1.4 0.8-1.2 0.8-0.4 0.9-0.3 3.4 0.2 3.7 0.9 0.9-0.2 0.2-0.3-0.1-1.7-1.2-2.7-3.7-10-0.8-1.5-1-1.2-1.1-0.7-1-0.5-2.6-0.3-3.4 0.5-3.4 1.3-3.3 2-2.7 2.3-2.3 2.8-1.8 3-1.3 3.3-0.7 3.7-0.1 3.7 0.6 3.7 1.1 3.4 1.8 3.3 2.4 2.8 2.3 1.8 1.4 0.6zM152.8 270.4l1 0 1.4-0.5 1.3-0.7 1.3-1.1 2.4-2.6 1.8-3.2 1.4-3.7 0.6-3.6 0-3.7-0.7-3.7-1.2-3.4-1.7-3-2.2-2.8-2.7-2.4-3.4-2.1-3.3-1.3-3.4-0.6-2.7 0.2-1.3 0.6-1 0.7-1 1.2-0.8 1.5-3.7 10-1.3 2.7 0 1.7 0.2 0.3 0.9 0.2 3.7-0.9 3.3-0.2 1 0.3 0.7 0.4 0.8 1.2 0.4 1.4 0.1 1.3-0.4 1-0.5 0.6-2.7 1.8-3.9 1.7-0.4 0.3 0 0.7 0.9 1.1 2.8 1.5 7.9 5.5 2.4 1.2zM102.5 235.9l0.6 0 0.4-0.2 0.2-0.5 0.3-3.7 0.9-3.4 0.6-1 1-0.6 1.3-0.3 1.4 0.1 1.2 0.5 0.8 0.7 1.2 4 0.3 3.7 0.2 0.5 0.6 0.3 1.4-0.5 2.3-2.2 7.3-5.5 2.3-2.4 0.8-1.3 0.4-1.7-0.1-1.7-0.6-2-1-2-1.4-2-1.9-2-1.9-1.7-3.5-2.2-4.1-1.4-4-0.7-4.3 0.2-4.1 1-4 1.9-3.4 2.5-2.8 3-1.6 2.7-0.8 2.4-0.2 2 0.6 2 0.9 1.4 1.7 1.6 7.6 5.9 2.4 2.2z"/>
<path fill="#d4ff23" d="M84 313.7l2.4 0.2 2-0.2 2-0.3 2-0.6 1.8-0.8 1.5-1 1.1-1 0.9-1.3 0.7-2.4 0-2.7-1.1-6.4-0.8-3.7-0.3-2-0.7-1-0.4-0.1-0.3 0.2-2.4 2.8-2.6 2.2-1.1 0.5-1 0.1-1.6-0.6-1.1-0.9-0.7-0.8-0.3-1.4 0-0.6 1.1-3 2.1-3.4 0.2-0.7-0.4-0.4-1.3-0.3-1.7 0.4-7.4 0.8-3.3 0.6-2 0.7-1.5 0.9-1.3 1.4-0.8 1.6-0.6 2-0.2 2.4 0.3 2.7 0.5 2.3 1 2.7 1.3 2.4 1.3 1.7 1.6 1.8 2 1.6 2.4 1.5 2 0.9 2.4 0.8zM127.6 313.7l2.7 0.2 2.7-0.3 2.4-0.5 2.3-0.8 2-1.1 2.4-1.6 2-1.8 1.8-2.2 1.4-2.3 1-2.4 0.8-2.7 0.3-2.6-0.1-2.7-0.6-2.4-0.9-1.7-1.4-1.4-2-1.1-2.7-0.7-9.4-1.1-1.6-0.4-1.4 0.3-0.3 0.4 0.1 0.7 2.1 3.4 1.1 3 0.1 0.6-0.4 1.4-0.7 0.8-1.1 0.9-1.6 0.6-1-0.1-1.1-0.5-2.6-2.2-2.3-2.8-0.7-0.1-0.4 0.4-0.5 1-0.1 1.6-1.9 9.4-0.1 2.7 0.3 2 1.1 2.1 2 1.8 3 1.4zM62.5 268.1l2.4 0 3-0.9 5-2.7 3.7-2.2 1.7-0.7 1-0.9 0-0.7-0.3-0.3-4-1.7-2.4-1.6-0.7-0.8-0.3-1 0-1.3 0.5-1.4 0.8-1.3 1-0.6 1-0.1 3.1 0.1 3.7 1 0.6-0.1 0.3-0.3-0.1-1.4-1.2-2-1.5-3.7-2.7-5.3-1.1-1.7-1.1-1-1-0.7-1.3-0.6-2.4-0.3-3 0.4-3 1.2-2.7 1.6-2.3 1.9-2.1 2.5-1.8 3-1.1 2.7-0.7 3.4-0.1 3.3 0.5 3.4 1 3 1.4 2.7 1.9 2.4 2 1.7zM151.1 268l1.4 0.2 1.3-0.1 2.4-1 2.3-2 2-2.8 1.4-3 0.9-3.7 0.1-3.3-0.4-3.4-1-3.3-1.3-2.7-2-2.8-2.4-2.3-2.7-1.8-3-1.4-3-0.6-2.7 0.1-1.3 0.3-1.4 0.8-1.3 1.3-1 1.3-2.5 5.1-1.9 4.3-1.1 2-0.2 1.1 0.3 0.6 0.4 0.1 1.3-0.2 2.7-0.8 2.7-0.1 1 0 1.3 0.7 0.9 1.3 0.4 1.4 0.1 1.3-0.4 1-0.6 0.8-2.4 1.6-4 1.7-0.4 0.3 0.1 0.7 0.9 0.9 1.8 0.7 7.3 4.2 2 1zM102.1 235.5l0.7 0.2 0.7-0.2 0.3-1.4 0.1-2.6 0.8-3.4 0.7-1 0.9-0.7 1.5-0.3 1.4 0.1 1 0.3 1 0.8 0.4 0.8 0.8 3 0.3 4.1 0.2 0.3 0.6 0.2 1.2-0.5 1.2-1.4 6.3-5.7 1.8-2 1.1-1.7 0.6-1.7 0.1-1.6-0.2-1.7-0.8-2-1.3-2.1-1.7-2-1.9-1.6-3.3-2-3.7-1.4-4.1-0.5-3.6 0.2-3.1 0.7-3.7 1.7-3.1 2.3-2.5 2.6-1.4 2.4-0.8 2.3-0.1 2.1 0.6 2 1 1.7 1.4 1.6z"/>
<path fill="#e7ff0f" d="M83 312.7l2.7 0.2 2.7-0.1 2.3-0.6 2.4-0.9 1.8-1.3 1.2-1.3 0.8-1.7 0.5-2 0-2.7-0.4-4.1-0.9-4.3-0.2-2.4-0.5-0.8-0.3-0.1-0.3 0.1-2.7 3.2-2.1 1.7-1.3 0.6-1 0.1-1.3-0.5-1.3-0.9-0.8-1-0.4-1 0.1-1.4 1.2-3 1.6-2.3 0.4-1-0.2-0.6-0.6-0.2-2.4 0.5-3.3 0.3-2.7 0.5-3.4 0.8-2.3 1-1.6 1-1.2 1.4-0.8 1.6-0.6 2.4 0 3 0.6 3.4 1.3 3 1.8 2.7 2.2 2.3 2.7 2 2.9 1.5zM127.6 312.7l2.4 0.2 2.7-0.1 2.3-0.5 2.4-0.8 2.3-1.2 2-1.4 1.7-1.6 1.7-2 1.4-2.4 1-2.3 0.6-2.7 0.2-2.3-0.2-2.4-0.6-2-0.9-1.7-1.5-1.4-2.4-1.2-3-0.9-3.7-0.7-3.7-0.4-2-0.5-0.7 0.1-0.4 0.3 0 0.7 2.1 3.4 1 2.7 0.1 1.3-0.3 1-0.9 1-1.2 0.9-1.4 0.5-0.6 0-1-0.3-1.1-0.8-2-1.6-1.5-2.1-0.8-0.8-0.3-0.1-0.4 0.1-0.3 0.4-0.2 0.8-0.2 2-0.8 4-0.4 3.7 0 3 0.4 2.4 1.1 2 1.8 1.6 2.3 1.3zM63.2 266.8l2.7-0.1 3-0.9 4.4-2 3.3-1.9 1.7-0.7 0.7-0.5 0.1-0.7-0.3-0.3-3.9-1.6-2.3-1.6-0.8-0.9-0.3-1 0-1.3 0.6-1.7 0.8-1.1 1.1-0.6 0.9-0.1 3.1 0.1 3.7 1 0.6-0.3 0-1-1.2-2-1.8-4-2.3-3.9-1-1.4-1.4-1.4-1.3-0.9-1.4-0.5-2.3-0.3-2.7 0.4-2.7 1-2.7 1.6-2.2 2-1.9 2.3-1.5 2.7-1 2.7-0.6 3 0 3 0.4 3.1 0.9 2.7 1.5 2.6 1.7 2.1 2.1 1.5zM150.8 266.7l2.3 0.1 2.4-0.9 2.1-1.5 1.9-2.4 1.5-3 0.8-3 0.3-3.1-0.3-3.3-0.8-3-1.2-2.7-1.8-2.7-2.2-2.2-2.7-1.9-2.6-1.2-2.7-0.6-2.7 0-1.3 0.4-1.4 0.7-1.3 1.2-1 1.1-3.1 4.9-1.7 4-1.3 2-0.1 0.7 0.1 0.3 0.7 0.3 3.7-1 3-0.1 1 0.1 1.1 0.7 0.9 1.3 0.4 1.4 0.1 1.3-0.4 1-0.7 0.9-2.4 1.6-3.9 1.6-0.3 0.3 0.1 0.7 0.7 0.5 1.7 0.7 4.7 2.6 4 1.7zM102.8 235.5l0.7-0.3 0.1-0.4 0.1-3.3 0.9-3.4 0.6-0.9 1-0.8 1.3-0.3 1.3 0 1.4 0.3 1 0.8 0.6 1.2 0.7 2.7 0.3 4.1 0.4 0.3 0.3 0 0.8-0.3 1.4-1.7 3.3-3 2.7-3.1 1.4-2 0.9-1.7 0.4-1.6 0-1.7-0.5-2-1-2-1.5-2.1-1.8-1.6-2-1.5-3-1.5-3.4-0.9-3.7-0.2-3.4 0.4-3.3 1.1-2.8 1.6-2.6 2.2-1.9 2.5-1.2 2.3-0.4 2 0.2 2 0.7 2 1.3 2.1 2.9 3.3 3.7 3.4 1.4 1.7z"/>
<path fill="#fbf100" d="M84 312l2.7 0.1 2.3-0.3 2.1-0.7 2-1.1 1.5-1.3 1-1.4 0.7-2 0.3-2 0-5.4-1-4.4 0.1-2-0.5-0.6-0.4 0-0.4 0.2-1.5 2.1-1.2 1.2-2 1.5-1 0.4-1 0-1.3-0.4-1.4-1-0.8-1-0.4-1 0.2-1.7 1.2-3 1.9-2.7-0.1-0.5-0.6-0.3-2.1 0.6-3.3 0.3-2.4 0.4-3.3 1.1-2.2 1.1-1.8 1.3-1 1.4-0.9 2-0.4 2 0.1 3 0.7 3 1.3 2.7 1.9 2.7 2.3 2.2 2.7 1.7 3 1.2zM129 312l2.3 0.1 2.4-0.3 2.3-0.6 2-0.8 2.1-1.2 1.9-1.6 1.6-1.6 1.5-2 1.2-2.4 0.7-2.3 0.4-2.4-0.1-2.3-0.4-2.1-0.8-1.6-1.1-1.4-1.7-1.3-2.6-1.2-3.3-1.1-2-0.3-3.4-0.3-1.7-0.6-0.8 0.1-0.2 0.4 0 0.3 1.8 2.7 0.6 1.3 0.7 2 0.1 1.4-0.3 1-0.9 1-1.3 1-1.4 0.4-1 0-0.9-0.4-2.6-2-1.8-2.4-0.7-0.6-0.4 0-0.4 0.3-0.1 2.3-0.8 3.7-0.3 2.7 0.2 4.1 0.7 2.6 1.2 2.1 1.9 1.6 2.4 1.1zM64.2 265.7l3-0.2 4.1-1.2 2.3-1.1 3-1.8 1.7-0.5 0.6-0.6 0.1-0.3-0.4-0.4-3-1-1.3-0.8-1.7-1.2-0.9-1-0.3-1.3 0.1-1.4 0.5-1.3 0.9-1.2 0.8-0.5 1.2-0.2 3.1 0.1 3.3 0.9 0.7-0.1 0.2-0.3-0.2-0.7-1.2-1.7-1.6-3.7-2.6-3.8-1.3-1.5-1.4-1.1-1.3-0.9-1.3-0.4-2.4-0.2-2.3 0.4-2.7 1-2.4 1.5-2 1.8-1.7 2.2-1.4 2.7-0.9 2.7-0.5 3 0.1 3 0.5 2.7 1.1 2.7 1.6 2.3 1.9 1.9 2 1.1zM150.8 265.7l2.3-0.1 2.1-0.8 2-1.5 1.9-2.3 1.3-2.7 0.7-2.7 0.3-3-0.3-3-0.7-2.7-1.3-2.7-1.6-2.4-2-2.1-2.4-1.6-2.6-1.2-2.7-0.6-2.4 0.1-1.3 0.4-1.4 0.7-1.3 1.1-1.3 1.4-2.7 3.8-1.8 4.1-1.2 1.7-0.2 0.7 0.2 0.3 0.6 0.1 3.4-0.9 3-0.1 1.2 0.2 0.8 0.5 0.9 1.2 0.5 1.3 0.2 1.4-0.4 1.3-0.8 1-1.7 1.2-1.4 0.8-3 1-0.3 0.4 0 0.3 0.6 0.6 2.1 0.7 2.6 1.6 2.1 1 3.3 1zM102.8 235.3l0.3 0 0.4-0.5 0.2-3.7 0.8-3 0.7-1 1-0.8 1.3-0.3 1.3 0 1.4 0.3 1 0.8 0.6 1 0.8 2.7 0.2 3.7 0.1 0.5 0.3 0.3 0.7-0.2 1.5-2 3.1-2.6 1.6-2.1 1.6-2.3 1-2 0.5-1.7 0.1-1.7-0.4-2-0.9-2-1.4-1.9-1.7-1.7-2-1.4-3-1.4-3-0.8-3.4-0.2-3 0.4-3 1-3 1.6-2.3 2-1.8 2.4-0.9 2-0.4 2 0.1 2 0.7 2 1.4 2.4 2 2.7 1.5 1.5 2.1 1.8 1.3 1.7z"/>
<path fill="#ffde00" d="M84.7 311.4l2.3-0.1 2.4-0.5 2-0.8 1.8-1.3 1.2-1.4 0.9-1.7 0.6-2.3 0.3-2.7 0-3-0.9-3.7 0-2.4-0.2-0.4-0.3 0-0.4 0.2-1.4 1.9-1.3 1.3-1.8 1.4-1.2 0.5-1.3 0-1-0.4-1.2-0.8-0.9-1-0.6-1.3 0.1-1.4 1.1-3 1.9-2.7 0-0.6-0.4-0.2-2.1 0.7-3.3 0.2-2 0.4-2.7 1.1-2.2 1.1-1.8 1.5-1.3 1.5-0.8 2-0.4 2.1 0.2 3 0.7 2.7 1.4 2.7 1.8 2.3 2.4 2.1 2.7 1.5 2.7 1zM130 311.3l3-0.1 3-0.7 2.7-1.3 2.7-1.9 2.1-2.3 1.7-2.7 1-3 0.3-3.1-0.2-2.3-0.8-2-1.2-1.7-1.6-1.3-2.4-1.4-2.9-1.2-2-0.4-3.4-0.2-2-0.7-0.5 0.2 0.1 0.6 1.8 2.7 1.1 3 0.1 1.4-0.5 1.3-1 1-1.1 0.8-1 0.4-1.4 0-1.1-0.5-1.9-1.4-1.3-1.3-1.4-1.9-0.3-0.2-0.3 0-0.3 0.4 0.2 2-0.9 3.4-0.2 2.4 0.2 3 0.5 2.3 0.7 2 1 1.4 1.4 1.3 1.7 1 2 0.7zM63.9 264.7l3 0.1 4-0.9 2.7-1.1 2.7-1.7 2-0.5 0.3-0.3 0.1-0.3-0.3-0.3-3.1-1.1-3-2.2-0.7-0.8-0.3-1 0.3-2.2 0.5-1.1 0.8-1 0.6-0.4 1.1-0.3 3.7 0.1 2.7 0.9 0.7 0 0.2-0.3-0.2-0.6-1.2-1.5-1.5-3.7-1.7-2.4-3-3-1.7-1.1-1.3-0.5-2.1-0.3-2.3 0.3-2.4 0.8-2.3 1.3-2 1.8-1.7 2-1.2 2.2-1 2.6-0.5 2.7-0.1 2.7 0.4 2.7 0.9 2.3 1.2 2.2 1.6 1.9 2.1 1.4zM148.8 264.7l2.3 0.1 2.4-0.3 2-1 2-1.8 1.6-2.4 0.9-2.3 0.6-2.7 0-3-0.5-3.1-1-2.6-1.4-2.4-1.9-2.2-2.3-1.8-2.4-1.2-2.3-0.7-2.4 0-1.6 0.3-1.4 0.6-1.7 1.2-1.6 1.6-2.5 3.2-1.7 4-1.2 1.5-0.2 0.6 0.1 0.3 0.8 0 2.6-0.9 3.4-0.1 1.5 0.3 0.8 0.7 0.9 1.3 0.4 1.4 0 1.3-0.3 1-0.9 1.2-2.1 1.4-1.3 0.7-2.5 0.8-0.2 0.3 0 0.2 0.3 0.4 2.1 0.5 2.3 1.5 1.7 0.9 2.3 0.7zM102.8 234.9l0.3 0.1 0.4-0.4 0.1-3.5 0.8-3 0.8-1.2 1-0.7 1.3-0.3 1.3 0 1.4 0.3 1 0.7 0.7 1.2 0.8 2.4 0.2 1.6 0 2.4 0.3 0.5 0.5-0.2 1.1-1.7 3.2-2.6 2.2-3.1 1.2-2.3 0.7-2 0.2-1.7-0.2-2-0.8-2-1.3-2.1-1.8-1.7-2-1.4-2.7-1.3-2.6-0.7-3.1-0.2-3 0.3-3 1-2.5 1.4-2.2 1.8-1.7 2.2-0.9 2-0.4 2 0.1 2 0.6 2 1.2 2.4 1.5 2.3 1.6 1.7 2.4 2z"/>
<path fill="#ffc800" d="M85 310.7l2.4-0.2 2.3-0.7 1.7-0.8 1.6-1.4 1.1-1.4 0.9-1.9 0.6-2.4 0.3-2.3-0.2-2.7-1.1-3.7 0.3-1.3-0.1-0.5-0.4 0.1-0.3 0.3-0.4 1.1-1.4 1.3-2.3 1.7-1.3 0.6-1.3-0.1-1-0.3-1.3-0.9-0.9-1-0.5-1.1 0-1.6 1.5-4 1.4-1.7-0.2-0.4-1.7 0.8-3 0-2.4 0.4-2.2 0.9-2.3 1.4-1.6 1.3-1.4 1.7-0.8 2-0.4 2.3 0.2 2.7 0.8 2.7 1.3 2.4 1.9 2.3 2.2 1.7 2.6 1.5 2.7 0.9zM131 310.7l2.7-0.3 3-0.9 2.7-1.5 2.1-1.7 1.9-2.3 1.3-2.4 0.8-2.7 0.3-2.7-0.4-2.3-0.9-2-1.4-1.7-1.6-1.3-2.3-1.4-2.2-0.9-2.3-0.4-3 0-1.7-0.8-0.2 0.4 1.4 1.7 1.4 4 0.1 1.6-0.5 1.1-1 1-1.2 0.9-1 0.3-1.4 0.1-1.3-0.6-2.3-1.7-1.3-1.3-0.4-1.1-0.4-0.3-0.3-0.1-0.1 0.5 0.2 1 0 0.6-1 3.1-0.3 2.7 0.4 2.6 0.6 2.4 0.9 1.9 1 1.4 1.7 1.4 1.6 0.8 2 0.6zM64.9 264l3 0.1 3.4-0.6 2.3-1 2.7-2.1 1.7-0.2 0.3-0.2-0.2-0.3-1.8-0.4-1.4-0.7-2.3-1.7-1.1-1.3-0.3-1.3 0.2-1.4 0.5-1.5 1-1.2 1.7-0.7 2.4 0 2.3 0.2 1 0.6 0.7 0.1 0.4-0.1-0.1-0.4-1.1-1-1.3-3.7-0.7-1.3-1.2-1.5-1.7-1.6-1.7-1.3-1.7-0.8-1.3-0.4-2-0.2-2.4 0.4-2.3 0.9-2 1.4-1.9 1.7-1.4 2-1.2 2.4-0.7 2.3-0.3 2.7 0.1 2.4 0.5 2.3 0.9 2.4 1.3 1.8 1.7 1.6 2 1.1zM148.1 264l2.4 0.1 2.3-0.3 2-0.9 1.7-1.3 1.5-1.9 1.2-2.4 0.6-2.7 0.2-2.7-0.3-2.7-0.9-2.6-1.2-2.4-1.6-2-1.8-1.7-2.4-1.4-2.3-0.8-2.4-0.2-1.7 0.2-1.6 0.7-1.7 1-2 1.7-2.3 2.8-0.8 1.7-0.8 2.7-1.1 1-0.2 0.4 0.5 0.1 0.6-0.1 0.7-0.5 0.7-0.2 3.7-0.1 2 0.4 0.7 0.7 0.9 1.3 0.4 1.4 0 1-0.3 1.3-1 1.3-2.4 1.7-1.3 0.7-1.9 0.4-0.1 0.3 0.3 0.2 1.7 0.2 2.3 1.9 1.7 0.8 1.7 0.5zM103.1 234.6l0.3-0.8-0.2-2 1-3.4 1-1.6 1-0.6 1.3-0.4 1.3 0 1.4 0.4 1 0.6 0.8 1.3 1.1 3.4 0.1 1-0.2 1.3 0.2 0.8 0.3-0.2 0.8-1.6 2.3-1.5 1.2-1.2 1.7-2.3 0.9-2 0.8-2.4 0.2-2-0.2-2-0.8-2-1.1-1.7-1.7-1.7-2-1.4-2.4-1.1-2.7-0.7-3-0.1-2.7 0.3-2.7 0.9-2.3 1.3-2.1 1.8-1.5 2-0.9 2-0.4 2.1 0.3 2.3 0.7 2.4 1 2 1.3 2 1.6 1.5 2.2 1.5 0.8 1.6z"/>
<path fill="#ffb200" d="M84.3 310l2.4-0.1 2.3-0.6 2.1-1 1.6-1.5 1.4-2.1 0.9-2.4 0.6-2.7-0.1-2.4-0.7-2.2-0.7-0.9-0.4-0.2-1 0.3-3 2-1.3 0.4-1.4-0.2-1.6-0.8-1.3-1.4-0.5-1.3 0-1.4 1-3.3-0.1-1-0.5-0.4-1-0.2-2.3 0-2.1 0.6-2 1.1-2.1 1.6-1.5 1.6-1 1.7-0.5 1.7-0.2 1.7 0.1 2 0.7 2.3 0.9 2 1.3 1.9 1.7 1.7 2 1.5 2 1 2.3 0.7zM130.7 310l2.3-0.1 2-0.4 2.4-1 2-1.2 1.9-1.7 1.4-1.7 1.2-2 0.8-2.3 0.3-2 0-2-0.5-2.1-0.9-1.6-1.4-1.7-2.1-1.7-2.1-1.1-2-0.7-2.3-0.2-1.4 0.3-0.5 0.4 0 1 0.9 3.3 0.1 1.4-0.5 1.3-1.6 1.6-1.4 0.6-1.7 0.2-1.3-0.6-2.7-1.8-1-0.3-0.3 0.2-0.7 0.9-0.7 1.9-0.1 2.4 0.3 2.3 1 2.7 1.2 2.1 1.3 1.4 1.7 1.1 2 0.7zM65.2 263.4l3 0.2 2.7-0.4 2.3-0.9 1.7-1.3 0.7-1-0.2-0.7-3.1-2.6-1-1.4-0.2-1.4 0.4-1.6 0.8-1.5 1-1 1.6-0.4 3.4-0.2 0.7-0.2 0.3-0.4-0.1-1.4-0.4-1.6-0.8-1.4-1-1.3-1.4-1.2-1.7-1.2-1.6-0.9-1.7-0.6-2-0.1-2 0.2-2.4 0.9-1.8 1.2-1.8 1.7-1.4 1.8-1.1 2.2-0.8 2.3-0.3 2.7 0.1 2.4 0.5 2.3 0.9 2 1.3 1.9 1.7 1.5 1.7 0.9zM146.4 263.4l2.7 0.2 2.4-0.3 2-0.6 1.7-1 1.6-1.6 1.4-2.1 0.8-2.4 0.4-2.3-0.1-2.4-0.5-2.7-1-2.3-1.5-2.4-1.8-1.9-2-1.4-2-0.9-2.4-0.4-1.7 0-1.6 0.4-2.1 1-2 1.4-1.6 1.6-1.1 1.4-0.7 1.5-0.3 1.7 0.1 0.7 0.3 0.4 1 0.3 3.3 0.1 1 0.3 0.7 0.4 1 1.2 0.5 1 0.3 1.3 0 1-0.3 1-0.8 1.1-2.9 2.3-0.4 0.7 0 0.3 1 1.3 1.3 1 1.3 0.6zM101.5 231.8l0.6 0.2 0.7-0.3 1.4-3.6 1-1.4 1-0.6 1.3-0.4 2.4 0.2 1.3 0.8 0.9 1.4 1.1 3 0.7 0.9 0.7-0.1 1-0.4 1.8-1.4 1.3-1.7 1.1-2.3 0.6-2.4 0.3-2.3-0.3-2-0.7-1.7-1.1-1.7-1.2-1.3-2.2-1.6-2.3-1.1-2.7-0.6-2.7-0.1-2.7 0.3-2.3 0.8-2.3 1.3-1.9 1.6-1.5 2.1-0.8 2-0.3 2 0.2 2.3 0.9 3.1 1.3 2.3 1.7 1.8z"/>
<path fill="#ff9c00" d="M83.7 309.3l2.3 0.1 2.4-0.5 2-1 1.6-1.3 1.4-1.8 1.2-2.5 0.6-2.4 0-2.3-0.6-2-0.5-0.7-0.7-0.4-1 0.2-2.6 1.5-1.4 0.5-1.4-0.2-1.6-0.9-1.2-1-0.7-1.4 0.1-1.7 0.6-2.6-0.1-1.1-0.4-0.5-0.7-0.3-2-0.2-1.7 0.5-1.8 0.9-1.8 1.3-1.7 1.7-1.1 1.7-0.6 1.7-0.3 1.6 0 2 0.5 2.1 0.8 2 1.1 1.7 1.5 1.6 1.7 1.5 2 1.1 2.1 0.8zM130.3 309.4l2 0 2.4-0.4 2-0.8 2-1.1 1.8-1.5 1.5-1.6 1.2-2.1 0.8-2 0.3-2 0-2-0.3-1.7-0.8-1.7-1.2-1.6-1.7-1.7-1.9-1.3-2-0.9-2.4-0.2-1.1 0.4-0.6 0.4-0.1 0.9 0.6 3 0 1.7-0.7 1.4-1.4 1.3-1.4 0.6-1.3 0.2-1.4-0.5-2.7-1.5-1-0.2-1 0.8-0.6 1.5-0.3 1.8 0.4 2.3 0.8 2.4 1.3 2.3 1.2 1.4 1.6 1.1 2 0.9zM66.6 263l2.3 0.1 2.4-0.3 1.6-0.7 1.5-1.1 0.5-1-0.1-0.7-0.8-1-1.7-1.5-1.1-1.5-0.2-1.4 0.4-1.6 0.9-1.7 1-0.9 1.3-0.4 3.4-0.3 0.6-0.4 0.2-0.7 0-1-0.4-1.3-0.8-1.4-1-1.1-1.3-1.2-1.7-1-1.7-0.8-1.7-0.4-2-0.1-2 0.3-2 0.8-2 1.4-1.4 1.4-1.4 2.1-1.1 2.3-0.6 2.4-0.2 2.3 0.3 2.4 0.6 2 1.1 2 1.4 1.5 1.6 1.3 1.7 0.7zM146.1 263l2.3 0.2 2.4-0.3 2.3-0.8 1.7-1 1.5-1.4 1.1-1.7 0.9-2 0.4-2.4 0-2.7-0.4-2.3-0.9-2.4-1.3-2-1.5-1.7-1.8-1.4-2-1-2.4-0.5-1.6 0-1.7 0.3-2 0.8-1.7 1-1.7 1.4-1 1.1-0.8 1.4-0.4 1.6 0.1 1 0.7 0.7 3.4 0.4 1.4 0.4 1 0.9 0.4 0.7 0.7 2 0.1 1-0.2 1-1 1.5-2.4 2.2-0.3 1 0.6 1 1.1 0.9 1.3 0.7zM101.1 231.3l1 0.1 0.7-0.4 1.5-3.2 0.7-1 1.2-0.8 1.3-0.3 2 0.1 1.7 0.8 0.9 1.2 1.1 2.7 0.7 0.7 0.7 0.2 0.6-0.1 1.8-1.2 1.1-1.3 1-2 0.7-2.4 0.2-2.3-0.1-1.7-0.5-1.7-0.9-1.7-1.3-1.6-2-1.6-2-1-2.3-0.7-2.7-0.3-2.7 0.3-2.4 0.7-2 1-1.9 1.5-1.4 1.7-1 2-0.4 2.1 0 2.3 0.6 2.7 1 2.3 1.4 1.8z"/>
<path fill="#ff8900" d="M83 308.7l2.4 0.1 2.3-0.4 2-0.8 1.7-1.2 1.5-1.8 1.3-2.3 0.7-2.4 0.1-2-0.6-2-1-0.9-0.7-0.1-0.6 0.2-2.1 1.1-1.6 0.6-1.4-0.2-1.9-1-1-1-0.6-1.4 0-1.7 0.4-2.3-0.1-1-0.5-0.6-0.6-0.3-1.7-0.2-1.7 0.5-1.7 0.9-1.7 1.4-1.2 1.3-0.9 1.3-0.8 1.7-0.4 1.7 0 2 0.4 2 0.6 1.7 1 1.7 1.3 1.7 1.7 1.4 1.7 1 1.7 0.8zM129.7 308.7l2 0.1 2-0.2 2-0.6 2.2-1 1.8-1.4 1.6-1.6 1.1-1.7 0.9-2 0.4-1.7 0.1-2-0.4-2-0.6-1.7-1.1-1.7-1.6-1.7-1.7-1.3-1.7-0.8-1.3-0.3-1 0-1.1 0.3-0.5 0.4-0.3 0.7-0.1 0.7 0.5 2.3 0 1.7-1 1.7-1.6 1.3-1 0.4-1.3 0.2-1.6-0.6-2.1-1.1-1-0.2-1 0.6-0.7 1.2-0.3 1.5 0.2 2.1 0.7 2 1.1 2.1 1.3 1.7 1.4 1.1 1.6 0.9zM67.2 262.7l2 0.1 2.1-0.3 1.6-0.7 1.3-1.1 0.3-1-0.2-0.7-2.3-2.4-0.9-1.3-0.1-1.4 0.3-1.6 0.6-1.4 1-1 1.7-0.6 2.7-0.4 0.9-0.7 0.3-0.6-0.1-1-0.5-1.4-1.6-2-1.4-1.1-1.6-0.9-1.7-0.6-1.7-0.4-2 0-2 0.4-2 1-1.7 1.3-1.5 1.6-1.3 2.1-0.8 2-0.4 2.3-0.1 2.4 0.4 2 0.7 2 1.1 1.7 1.2 1.3 1.7 1.2 2 0.8zM146.1 262.7l2 0.1 2.4-0.3 2-0.7 1.9-1.1 1.4-1.4 1.2-1.7 0.8-2 0.4-2 0-2.3-0.4-2.4-0.9-2.3-1.2-2.1-1.5-1.6-1.7-1.3-2-1-2.1-0.4-1.6 0-1.7 0.3-1.7 0.5-2 1.1-1.3 1.1-1.3 1.3-0.6 1.1-0.3 1.3 0.1 1 0.5 0.7 0.9 0.4 2.3 0.3 1.4 0.4 1 0.8 0.7 1 0.6 2.1-0.2 1.7-0.8 1.3-2.1 2-0.4 0.7 0 0.7 0.5 1 1 0.8 1.4 0.6zM101.1 230.8l1 0.1 0.7-0.5 1.4-2.6 1-1.4 1-0.5 1.3-0.3 2.3 0.2 1.4 0.6 1 1.4 1 2.2 1 0.9 1.4-0.2 1.3-0.9 1.1-1.4 0.8-1.6 0.6-2.4 0.1-2-0.2-1.7-0.4-1.7-0.9-1.6-1.1-1.5-1.7-1.4-2-1.1-2.3-0.8-2.4-0.2-2.3 0.1-2.4 0.6-2 1-2 1.5-1.5 1.8-1 2-0.4 2 0 2.3 0.5 2.4 1 2.3 1.4 1.7z"/>
<path fill="#ff7300" d="M82.3 308l2.4 0.3 2-0.2 2-0.6 2-1.2 1.7-1.8 1.3-2.1 0.8-2.1 0.3-2.1-0.2-1-0.4-1-0.5-0.5-0.6-0.4-1.4 0.1-2 1-1.3 0.5-1.7-0.3-1.7-1-1-1-0.6-1.4 0-1.3 0.3-2.4-0.2-1-0.8-0.8-1.7-0.3-1.4 0.3-1.6 0.9-1.6 1.3-1.2 1.3-1 1.7-0.7 1.7-0.3 1.6-0.1 1.7 0.3 1.7 0.6 1.7 0.9 1.6 1.1 1.4 1.5 1.3 1.5 1.1 1.7 0.8zM129.3 308l2 0.3 2-0.1 2.1-0.6 1.6-0.7 1.9-1.3 1.5-1.4 1.2-1.6 1-2 0.5-2 0.1-1.7-0.2-2-0.7-1.7-0.9-1.7-1.4-1.6-1.6-1.3-1.7-0.9-1.3-0.3-1 0-0.7 0.3-0.7 0.5-0.3 1.3 0.3 2.4-0.1 1.6-0.8 1.4-1.7 1.3-1.1 0.5-1.3 0.2-1.4-0.5-2-1-1-0.1-1 0.4-0.8 1.2-0.2 1.7 0.2 1.7 0.7 2 1 1.7 1.1 1.3 1.4 1.2 1.6 1zM67.2 262.3l2 0.2 2.1-0.3 1.3-0.5 1.1-1 0.4-1-0.2-0.7-0.4-0.7-1.6-1.7-0.9-1.3-0.1-1.4 0.3-1.6 0.7-1.5 0.8-0.9 0.9-0.4 2.8-0.6 0.9-0.3 0.7-0.7 0.1-0.7-0.1-1-0.4-1-0.7-1-0.9-1-2.7-1.6-3.1-0.8-2-0.1-2 0.4-1.7 0.7-1.6 1.2-1.6 1.5-1.1 1.7-0.9 2-0.6 2.4-0.1 2 0.3 2 0.6 2 1 1.7 1.1 1.4 1.6 1.2 2 0.9zM145.8 262.4l2 0.1 2-0.3 2.3-0.8 1.7-1 1.4-1.2 1.1-1.6 0.9-2 0.5-2 0-2-0.3-2.4-0.7-2-1.2-2-1.4-1.7-1.6-1.3-2-1-2.1-0.4-1.6-0.1-1.7 0.3-1.7 0.5-1.7 0.8-1.3 0.9-1 1-0.9 1.4-0.3 1 0.2 1.3 0.6 0.7 4.1 1 1 0.8 0.7 1 0.6 2.2-0.1 1.7-0.8 1.3-1.9 2-0.3 1.1 0.3 1 0.6 0.6 1.2 0.7zM101.1 230.5l1 0 0.7-0.5 1.3-2.3 1.1-1.4 1-0.5 1.6-0.3 2.1 0.2 1.3 0.6 1 1.4 1 1.9 0.7 0.7 0.7 0.2 0.6 0 1.4-0.7 1-1.2 0.7-1.5 0.6-2 0.2-2-0.2-2-0.5-1.7-0.8-1.7-1-1.3-1.6-1.4-1.8-1.1-2-0.7-2.4-0.3-2.3 0.1-2.4 0.5-2 1-1.6 1.2-1.5 1.7-1.1 2-0.5 2-0.1 2.3 0.4 2.4 0.8 2 1.3 1.7z"/>
<path fill="#ff5d00" d="M83 307.7l2 0.1 2-0.3 2-0.7 1.7-1.2 1.7-1.7 1.2-2 0.8-2 0.1-2-0.3-1-0.4-0.7-1.1-0.6-1 0-3.3 1.3-1.4-0.1-1.6-0.9-1.5-1.3-0.6-1.4 0.2-3.3-0.2-1-0.3-0.6-0.7-0.4-1.3-0.2-1.4 0.3-1.6 0.9-1.5 1.3-1.1 1.3-0.9 1.7-0.6 1.7-0.3 1.7 0.1 1.6 0.3 1.7 0.7 1.7 0.9 1.3 1.1 1.4 1.3 1.1 1.6 1.1 1.7 0.7zM130 307.7l1.7 0.1 2-0.2 2-0.6 1.7-0.9 1.7-1.2 1.4-1.6 1.1-1.7 0.7-1.7 0.4-1.7 0-2-0.4-1.6-0.6-1.7-1-1.7-1.3-1.5-1.4-1-1.6-0.8-1-0.2-1 0.1-0.7 0.2-0.5 0.5-0.3 1 0.2 3-0.1 1-0.8 1.4-1.5 1.2-1.4 0.7-1.3 0.1-3.4-1.3-1 0-1 0.5-0.6 1.1-0.2 1.7 0.4 1.7 0.7 1.7 1 1.6 1.4 1.5 1.3 1 1.7 0.8zM67.2 262l2 0.2 1.7-0.1 1.4-0.5 1-0.9 0.4-1-0.2-1.1-2-2.3-0.6-1-0.1-1.4 0.3-1.6 0.8-1.7 0.7-0.7 1-0.5 3.2-0.8 0.7-0.7 0.3-0.7 0-0.6-0.3-1-0.6-1.1-0.9-0.9-2.1-1.3-2.6-0.9-2.1-0.2-2 0.2-1.6 0.5-1.8 1-1.5 1.3-1.3 1.7-1.1 2-0.6 2-0.2 2 0.1 2 0.6 2.1 0.8 1.6 1.3 1.6 1.3 1.1 2 1.1zM145.4 262.1l2 0.1 2.1-0.3 2-0.7 1.6-0.9 1.4-1.1 1.2-1.6 0.9-1.6 0.5-2.1 0.1-2-0.3-2.3-0.6-2-1.1-2-1.4-1.7-1.7-1.3-1.6-0.8-2.1-0.5-1.6-0.1-1.7 0.2-3 1.1-1.4 0.8-1 0.9-0.9 1.4-0.3 1 0.1 1 0.5 0.6 1 0.6 3.2 0.8 0.8 0.7 0.7 1 0.7 2 0.1 1-0.2 1-0.6 1-1.7 2-0.5 1.4 0.2 0.6 0.6 0.8 0.9 0.6zM101.1 230.1l1 0 0.7-0.4 2.4-3.5 1-0.5 1.6-0.3 2.1 0.2 1.3 0.6 1 1.3 1 1.8 1 0.8 1 0 1.4-0.7 1-1.3 0.6-1.3 0.4-1.7 0.1-2-0.2-1.7-0.5-1.7-0.8-1.6-1-1.4-1.5-1.4-1.8-1-2-0.6-2.1-0.3-2.3 0.1-2 0.4-2 0.9-1.7 1.2-1.4 1.6-0.9 1.8-0.6 2-0.2 2.3 0.2 2.1 0.7 2 1.2 1.6z"/>
<path fill="#ff4700" d="M84 307.3l2-0.1 1.7-0.4 1.7-0.8 1.7-1.2 1.4-1.5 1.2-2 0.5-1.7 0-1.7-0.5-1.3-1-0.7-1.3 0-2.4 1-1 0.2-1-0.2-1.6-0.9-1.6-1.4-0.5-1.1-0.1-1 0.2-2.3-0.4-1.3-1-0.8-1.3-0.1-1.4 0.4-1.3 0.8-1.4 1.3-1 1.4-0.8 1.6-0.5 1.7-0.2 1.7 0.1 1.7 0.4 1.7 0.8 1.6 1 1.4 1.2 1.2 1.4 1.1 1.7 0.9 1.6 0.5zM131 307.3l1.7 0 1.7-0.3 1.6-0.7 1.7-1 1.4-1.1 1.3-1.5 0.9-1.4 0.6-1.7 0.3-1.7 0-1.7-0.3-1.6-0.7-1.7-0.9-1.7-1.2-1.3-1.4-1.1-1.3-0.7-1.7-0.1-0.7 0.2-0.7 0.6-0.3 1.4 0.2 2.3-0.1 1-0.5 1.1-1.6 1.4-1.7 0.9-1 0.2-1-0.2-2.3-1-1.1-0.1-1 0.4-0.7 1.4-0.1 1.7 0.5 1.6 0.8 1.7 1.2 1.6 1.4 1.2 1.6 1 1.7 0.6zM67.2 261.7l1.7 0.3 1.7-0.1 1.3-0.4 1.1-0.8 0.4-1-0.1-1.1-2.1-2.6-0.4-1 0-1.7 0.4-1.4 0.6-1.3 0.8-0.8 1-0.5 2.7-0.7 0.9-0.7 0.3-0.7-0.1-1.3-1.1-1.7-1.7-1.3-2.3-0.9-2.1-0.4-2 0.1-2 0.5-1.7 0.7-1.6 1.3-1.2 1.4-1.1 2-0.7 2-0.3 2 0 2 0.5 2 0.9 1.7 1.2 1.6 1.3 1.1 1.7 1zM145.1 261.7l1.7 0.3 2-0.2 2-0.7 1.7-0.9 1.5-1.2 1.2-1.4 0.9-1.6 0.6-2.1 0.1-2-0.3-2-0.6-2-1.1-2-1.3-1.6-1.4-1.1-1.6-0.9-2.1-0.6-3 0-3 0.9-1.3 0.8-1 0.8-0.8 1-0.4 1 0 1 0.6 1 0.9 0.5 3 0.9 1.1 1 0.7 1.3 0.4 1.7-0.1 1.7-0.6 1-1.6 2-0.4 1 0.1 0.7 0.4 0.7 0.7 0.6zM101.1 229.8l1 0 0.7-0.4 0.7-0.8 1.1-1.8 0.9-0.9 0.7-0.3 1.6-0.3 2.4 0.3 1 0.5 0.6 0.7 1.4 2.2 0.7 0.6 1 0.3 1.3-0.6 0.9-0.9 0.7-1.3 0.4-1.7 0.2-1.7-0.2-1.6-0.4-1.7-0.8-1.7-0.9-1.3-1.3-1.4-1.6-1-2-0.8-2-0.3-2 0-2 0.3-2.1 0.8-1.6 1.1-1.5 1.6-1 1.7-0.7 2-0.3 2.3 0.2 2.4 0.7 1.7 1 1.3z"/>
<path fill="#ff3400" d="M82.7 306.7l2 0.2 2-0.2 2-0.8 1.7-1 1.7-1.6 1.1-1.7 0.7-1.7 0.1-1.7-0.4-1.3-0.5-0.5-0.7-0.3-1.3 0-2.1 0.9-1 0.2-1-0.2-1.6-0.9-1.5-1.2-0.7-1.4 0-3.3-0.3-1-0.9-0.8-1.3-0.2-1.4 0.5-1.3 0.8-1 1-1 1.4-0.7 1.3-0.5 1.7-0.2 1.7 0 1.6 0.8 2.7 0.8 1.4 1.1 1.3 2.3 1.9 1.4 0.6zM129.7 306.7l1.6 0.2 1.7-0.1 1.7-0.4 1.7-0.7 1.6-1.2 1.4-1.2 1-1.4 0.8-1.6 0.5-1.7 0.1-1.7-0.2-1.7-0.5-1.7-0.8-1.6-0.9-1.4-1.5-1.3-1.2-0.7-1.7-0.3-0.6 0.2-0.7 0.5-0.5 1 0.1 3-0.2 1-0.7 1-1.7 1.5-1.4 0.6-1 0.2-1-0.2-2-0.9-1.4 0-0.9 0.5-0.4 0.6-0.3 1.4 0.2 1.3 0.6 1.7 0.8 1.3 1.4 1.4 1.3 1.1 1.4 0.7zM68.6 261.7l1.3 0 1.4-0.2 0.9-0.5 0.7-0.7 0.2-0.6-0.1-1.1-2.3-3.3 0-2 0.4-1.4 0.6-1.3 0.9-0.9 1-0.5 2.7-0.8 0.7-0.7 0.2-0.8-0.1-1-0.3-0.7-1.2-1.3-2-1.2-2.3-0.6-2.1-0.1-2 0.3-1.6 0.6-1.7 1-1.3 1.3-1.2 1.7-0.9 2-0.4 2-0.1 2 0.3 1.7 0.6 1.7 1.1 1.7 1.3 1.3 1.6 1.1 1.7 0.8zM146.1 261.7l1.7 0 2-0.5 1.9-0.9 1.4-1.1 1.3-1.2 1-1.7 0.7-1.7 0.3-2-0.2-2-0.5-2-0.7-1.7-1.2-1.7-1.3-1.3-1.7-1-1.7-0.6-2-0.3-3 0.3-2.3 0.9-1 0.7-1 1-0.5 1-0.2 0.7 0.2 1 0.6 0.6 0.8 0.5 2.7 0.7 1 0.9 0.6 1 0.7 2-0.1 2-0.3 0.7-1.7 2-0.4 1 0 0.7 0.3 0.6 0.6 0.7 1 0.5zM101.1 229.5l1 0 0.7-0.4 2.4-3.1 1-0.5 1.6-0.3 1.7 0.1 1.7 0.7 0.7 0.8 1.3 2 0.7 0.5 1 0.3 1.3-0.6 0.8-0.9 0.7-1.3 0.3-1.4 0.1-1.7-0.3-1.6-0.4-1.7-0.7-1.4-0.9-1.3-1.2-1.3-1.7-1.1-1.7-0.6-2-0.4-2 0-2 0.4-1.7 0.6-1.7 1.1-1.3 1.4-1.2 1.9-0.7 2-0.3 2 0.1 2.1 0.6 1.6 0.9 1.4z"/>
<path fill="#ff1e00" d="M84.3 306.3l1.7-0.1 1.7-0.5 1.7-0.8 1.7-1.2 1.3-1.5 0.9-1.6 0.4-1.3-0.1-1.4-0.5-1-1-0.6-1 0-2.1 0.8-1 0.2-1-0.1-1.3-0.7-1.6-1.3-1-1.3-0.1-3.6-0.3-0.8-1-0.8-1.4-0.1-1.3 0.6-1 0.8-1 1.1-0.9 1.4-0.6 1.7-0.3 1.7-0.1 1.7 0.2 1.3 0.4 1.4 0.7 1.3 1.1 1.3 1.1 1.1 2.7 1.6 1.7 0.5zM131.3 306.3l1.4 0 1.7-0.4 1.6-0.7 1.4-0.9 1.3-1.2 1-1.2 0.8-1.3 0.5-1.3 0.2-1.7 0-1.7-0.4-1.7-0.6-1.7-0.8-1.4-1-1.1-1.1-0.8-1.3-0.6-1.3 0.1-1 0.8-0.4 0.8 0 3.6-1 1.3-1.6 1.3-1.4 0.7-1 0.1-1-0.2-2-0.8-1 0-1 0.6-0.5 1-0.1 1.4 0.3 1.3 0.7 1.3 1.3 1.5 1.3 1.1 1.7 1 1.7 0.6zM68.6 261.3l2.3-0.1 1.1-0.5 0.6-0.7 0.2-1-0.3-1-1.4-1.7-0.5-1-0.2-1 0.3-1.7 0.7-1.7 0.9-1.2 1.3-0.7 2-0.5 0.8-0.6 0.4-1-0.2-1.3-1.1-1.4-1.6-0.9-2-0.6-2-0.2-2 0.3-1.7 0.5-1.7 0.9-1.3 1.2-1.1 1.5-0.8 1.7-0.6 2-0.1 2 0.2 1.7 0.6 1.7 0.8 1.3 1.3 1.5 1.6 1.2 1.8 0.9zM146.1 261.4l1.8-0.1 1.6-0.4 1.6-0.8 1.5-1.1 1.3-1.4 1.1-1.6 0.5-1.7 0.3-1.7-0.2-2-0.5-2-0.8-1.7-1.3-1.7-1.2-1-1.7-0.9-1.7-0.5-2-0.3-2.3 0.2-2.4 0.9-1.5 1.3-0.5 0.8-0.2 0.9 0.2 1 0.6 0.6 0.6 0.4 1.8 0.4 1.4 0.7 1.2 1.9 0.6 2.3-0.1 1.4-0.6 1-1.3 1.7-0.3 1.3 0.2 0.7 0.5 0.7 1.1 0.5zM101.5 229.1l1-0.1 0.6-0.5 1.2-1.7 0.9-1 1.3-0.6 1-0.1 2.4 0.1 1.3 0.6 0.9 1 0.8 1.3 1 0.9 1 0.1 1-0.3 0.7-0.7 0.6-1.2 0.4-1.2 0.1-1.6-0.2-1.4-0.5-1.6-0.7-1.7-0.9-1.4-1.2-1.1-1.7-1.1-1.6-0.6-1.7-0.3-2 0-1.7 0.3-1.7 0.6-1.7 1.1-1.3 1.4-1.1 1.7-0.7 2.1-0.3 2 0.2 2 0.5 1.6 1 1.1z"/>
<path fill="#f10800" d="M84 305.3l1.4 0 1.6-0.4 2-0.9 1.7-1 1.1-1.1 0.8-1.3 0.4-1.3 0-1.1-0.6-1-1-0.4-1 0-1.4 0.5-1.3 0.2-1.3-0.4-1.4-0.7-1.3-1.3-0.8-1.2-0.2-1.4 0.1-1.3-0.3-1-0.8-0.7-1.4-0.2-1 0.4-1 0.8-1.3 2-0.5 1.4-0.3 2-0.1 1.7 0.2 1.3 1.1 2.4 1.9 2 2.4 1.4zM131 305.3l1.3 0 1.4-0.3 2.7-1.2 1.3-1.1 1-1.1 1.2-2.3 0.3-1.4 0-1.3-0.2-2-0.5-1.7-0.7-1.4-0.7-1-1.7-1.1-1.4-0.1-1 0.7-0.5 1.2 0.1 1.3-0.1 1.4-0.8 1.2-1.4 1.3-1.3 0.7-1.4 0.4-1.3-0.2-1.3-0.5-1 0-1 0.4-0.5 0.7-0.2 1 0.2 1 0.6 1.4 0.9 1.1 1.3 1.1 1.3 0.7 2.1 0.8zM68.6 260.7l1.3 0.1 1-0.3 0.8-0.5 0.4-0.7 0.1-1-0.2-0.7-1.1-1.3-0.6-1.3 0.1-2.1 0.7-2 1.2-1.5 1-0.5 1.6-0.4 0.7-0.6 0.4-0.7 0.1-1-0.5-1-1.2-1-1.5-0.6-1.6-0.2-2.1 0.1-2 0.4-1.6 0.8-1.2 0.9-1.1 1.3-0.8 1.3-0.6 1.7-0.3 1.7 0 1.7 0.3 1.3 0.6 1.4 1.3 1.6 1.7 1.7 1.4 0.9zM145.8 260.7l1.3 0.1 1.7-0.3 1.6-0.8 1.6-1.4 1.4-1.7 0.8-1.3 0.5-1.7 0-1.7-0.3-2-0.6-1.7-1-1.6-1-1.2-1.3-0.9-1.4-0.6-2-0.4-2-0.1-1.7 0.2-1.7 0.7-1 1-0.5 1.3 0.3 1 0.5 0.6 3.1 1.2 0.7 0.9 0.8 1.3 0.5 2-0.1 1.7-0.5 1-1.1 1.3-0.2 1 0.1 0.7 0.3 0.7zM101.5 228.4l1 0 0.6-0.4 1.2-1.6 0.9-0.9 1.3-0.5 1.3-0.2 1.7 0.2 1.7 0.5 1 1.1 0.7 1.1 0.6 0.5 1.1 0.3 1-0.3 0.6-0.7 0.5-0.7 0.2-1 0.1-1.4-0.5-2.3-1.4-2.7-1.1-1.4-1.1-0.9-1.4-0.6-1.6-0.5-2.1-0.1-1.6 0.2-1.7 0.5-1.4 0.7-1.1 1.1-1.2 1.6-1 2.1-0.4 1.6 0 1.7 0.3 1.4 0.8 1.1z"/>
<path fill="#da0000" d="M83.3 304.3l1.4 0.2 1.3-0.2 4.1-1.8 1-0.7 0.9-1.2 0.3-1 0.1-1-0.6-1-1.1-0.5-0.6 0-1.4 0.6-1 0.1-1.7-0.4-1.3-0.6-1-1-1-1.7-0.2-0.9 0.1-1.7-0.3-0.7-1-0.8-1 0-0.7 0.2-0.8 0.7-1.1 1.6-0.5 2.4-0.2 2.3 0.1 1.4 0.7 1.7 1.5 1.8 2 1.4zM130.3 304.3l1 0.2 1.4-0.1 2.7-1.1 2.3-1.9 1.3-2.1 0.4-2.1-0.5-4-1.1-2-1.4-1.1-1.4-0.1-1 0.8-0.2 0.7 0.1 1.7-0.2 0.9-1 1.7-1 1-1.4 0.6-1.7 0.4-1-0.1-1.3-0.6-0.7 0-1 0.4-0.5 0.7-0.2 0.7 0.2 1 0.5 1 0.7 0.9 1.7 1.1zM68.2 260l1.4 0.2 0.9-0.2 0.8-0.5 0.4-0.9-0.1-1-1.3-1.6-0.3-1-0.1-2.1 0.5-1.6 1.7-2.1 0.5-0.3 2.1-0.7 0.7-1 0-1-0.4-0.6-0.7-0.7-1-0.5-1.4-0.3-1.3 0-3 0.7-1.4 0.4-0.9 0.7-0.9 1-0.9 1.3-0.5 1.4-0.4 1.3-0.1 1.7 0.1 1.3 0.5 1.4 2.8 3.3 1 0.8zM146.1 260.1l1.3 0.1 1.4-0.4 1.2-0.8 1.1-1 1.7-2 0.6-1 0.4-1.7 0-1.7-0.3-1.7-0.7-1.7-0.8-1.3-1.2-1.2-1-0.6-1.4-0.4-2.6-0.6-1.7 0-1.4 0.4-1 0.6-0.6 0.8-0.2 1 0.2 0.7 0.5 0.6 2.2 0.7 0.6 0.5 1.1 1.2 0.8 1.3 0.2 1.4-0.2 2-0.5 1-0.9 1-0.3 0.7 0.4 1.3 0.4 0.5zM101.8 227.8l1.3-0.2 1.4-1.8 0.7-0.6 1.6-0.7 1.4-0.2 1.3 0.2 1.7 0.7 0.7 0.6 1.3 1.8 0.7 0.2 1-0.1 0.8-0.6 0.5-1 0.2-1.4-0.2-1.3-0.6-1.5-1.5-2.5-1.6-1.5-1.6-0.7-1.7-0.3-2 0-1.7 0.3-1.7 0.7-1 0.8-1.7 2.6-0.8 1.8-0.3 1.6 0.1 1.4 0.7 1.2z"/>
<path fill="#bf0000" d="M84 303.7l1.7-0.1 4.4-1.9 1.3-1.4 0.3-1-0.1-0.7-0.3-0.7-0.9-0.5-1.7 0.6-2.2 0.2-1.1 0.7-1.1 0-0.6-0.3-1.1-1-0.3-1 0.3-1-0.4-2.1 0-2-0.2-0.3-0.7-0.5-1 0-1.2 0.8-0.7 1.4-0.6 5 0.1 0.7 0.9 1.7 1.5 1.5 1.7 1.1zM130.7 303.6l1 0.1 1-0.1 2.3-1.1 2-1.6 1.4-2 0.2-1-0.5-4.7-0.7-1.5-1-0.9-0.7-0.1-0.7 0-0.6 0.5-0.3 0.3 0 2-0.4 2.1 0.3 1-0.2 1-1.1 1-0.7 0.3-1 0-1.2-0.7-2.2-0.2-1.6-0.6-0.5 0.2-0.6 0.6-0.3 0.7 0.1 0.7 0.3 0.7 0.6 0.8 1.4 0.9zM68.2 259.3l1 0.2 1-0.1 0.7-0.6 0.4-0.8-0.2-0.7-1.1-1.3-0.8-1.8-0.8-0.6-0.3-0.7-0.2-0.6 0.3-1.2 0.4-0.7 1-0.7 1 0 2-1.1 1.4-0.4 0.5-0.3 0.2-0.7-0.1-1-0.5-0.6-0.8-0.5-1-0.3-1 0-4.7 1.1-1.5 1.3-1.2 2.4-0.6 2.7 0 1.3 0.3 1 3.1 3.7zM146.1 259.4l1.3 0.1 1.4-0.5 0.8-0.7 2.9-3.2 0.5-1.5-0.1-2.3-0.4-1.7-0.6-1.4-0.9-1.3-0.9-0.8-0.6-0.3-4.1-0.9-1.6 0-1.1 0.3-0.8 0.7-0.3 1 0.3 1 0.4 0.3 1.5 0.4 1.6 1 1.4 0.1 0.6 0.4 0.4 0.3 0.3 0.7 0.3 1.2-0.5 1.3-0.8 0.6-0.7 1.8-1.3 1.6 0.2 1zM101.8 227.1l0.7 0.2 0.6-0.2 1-1.4 1.8-1.6 0.3-1 1-0.7 2 0 0.7 0.4 0.4 0.6 0.2 0.7 1.7 1.6 0.7 1.1 0.6 0.5 1.1-0.2 0.8-0.7 0.3-1-0.1-1.3-0.4-1.1-2.1-3.6-0.7-0.7-1.2-0.6-1.7-0.4-1.7-0.1-1.6 0.3-1.6 0.5-1.1 0.6-2.4 4.1-0.4 1.3-0.1 1 0.4 1z"/>
<path fill="#a40000" d="M83.3 302.6l1 0.2 0.4-0.2-0.4-1.1-0.7-0.9-1.3-1-1.6-1-1.4-0.2-0.3 0.2 0 0.3 0.3 0.7 1 1.1 1.6 1.2zM131.7 302.6l0.3 0.2 1-0.2 2-1 1.8-1.7 0.6-1 0-0.3-0.4-0.2-1 0.1-2 1.1-1.9 1.7zM87 301.4l0.7 0.1 1-0.2 1.5-0.7 0.7-1 0-0.7-0.2-0.7-0.4-0.3-0.6 0-2 0.7-0.5 0.7-0.2 1zM127.6 301.3l1.4 0.2 0.4-0.2 0-1-0.4-1.4-0.4-0.3-1.8-0.7-0.7 0-0.4 0.3-0.3 0.7 0.2 1 0.7 0.8zM79.6 295.9l1.7-0.7 0.6-0.6 0.1-2.4-0.3-0.6-0.4-0.1-0.6-0.1-0.7 0.3-0.8 1.2-0.2 1 0.1 1 0.2 0.9zM136.7 295.9l0.3-0.1 0.3-0.9 0-1-0.1-1-0.8-1.2-0.7-0.3-0.7 0.1-0.3 0.1-0.3 0.6 0.1 2.4 0.5 0.6zM68.6 258.7l1 0.1 0.6-0.3 0.5-0.9-0.2-0.6-1.3-1.6-0.3-0.2-1.3 0.1-1.1 0.3 0 0.7 0.5 1 0.9 1zM146.4 258.7l0.7 0.1 0.7-0.1 1-0.7 0.9-1.4 0.3-0.6-0.1-0.4-2.1-0.4-0.7 0.2-1.4 1.9 0.1 0.8zM64.5 253.9l1.2-1 0.9-2 0.5-2.3-0.2-1-0.3-0.4-1 0.9-1.1 2.2-0.4 2.3 0.1 0.9zM151.5 253.7l0.3 0.2 0.4-0.6 0-1.4-0.3-1.3-1-2.4-0.8-0.9-0.3-0.1-0.3 0.4-0.2 0.6 0.2 1.7 1 2.7zM70.9 248.6l0.7 0.1 2.2-0.8 0.3-0.7-0.4-1-0.8-0.5-1-0.1-1.3 0.3-1.2 0.7-0.1 0.3 0.5 0.7zM144.8 248.7l0.7-0.1 0.9-0.8 0.7-0.9-0.2-0.3-1.1-0.7-1-0.3-1 0-0.7 0.3-0.7 0.7-0.1 0.6 0.1 0.5 0.3 0.3zM102.1 226.5l0.7 0.2 0.3-0.1 1.6-2.2 0-0.3-0.4-1-0.8-1.2-0.7 0.4-0.7 0.7-0.6 1.3 0 1.4zM113.2 226.6l0.7 0 0.7-0.4 0.3-0.5 0.1-1-0.2-0.6-0.6-1.1-0.7-0.7-0.6-0.4-0.7 0.8-0.6 1.4 0.2 0.6zM106.2 220.5l2 0.2 2-0.2 1.3-0.7 0.1-0.4-1.4-0.7-2-0.2-2.1 0.2-1.4 0.7 0.1 0.4z"/>
<path fill="#890000" d="M88.4 300.2l0.6 0 0.7-0.4 0.3-0.5-0.1-0.7-0.5-0.1-1.1 0.4-0.2 0.7zM127 300l1 0.2 0.3-0.6-0.3-0.7-0.7-0.4-0.7 0-0.3 0.4 0 0.4zM80.3 294.3l0.7 0 0.4-0.4 0.1-1-0.2-0.5-0.6 0-0.5 0.5-0.2 0.6zM135.4 294.3l0.6 0 0.3-0.8-0.3-0.8-0.6-0.4-0.5 0.2-0.1 0.7 0.1 0.7zM68.9 257.8l0.7 0 0.4-0.5-0.8-1.1-0.6-0.1-0.5 0.2-0.1 0.7zM146.8 257.8l0.6 0 0.7-0.5 0.3-0.7-0.2-0.3-0.8-0.2-0.6 0.4-0.5 0.8zM71.6 248l0.7 0 0.6-0.2 0.3-0.2-0.1-0.7-0.8-0.4-1 0.3-0.3 0.4 0.1 0.4zM143.8 247.9l0.6 0.2 0.5-0.2 0.3-0.3 0-0.7-0.8-0.4-1 0.3-0.3 0.4 0 0.4zM102.8 225.9l0.3 0 0.4-0.3 0.4-0.9-0.1-0.5-0.3-0.4-0.7 0.1-0.5 0.8 0 0.7zM113.2 225.9l0.6-0.1 0.3-0.7-0.2-0.8-0.7-0.6-0.6 0.4-0.2 0.6z"/>
</g>
<path fill="none" stroke="#ececec" stroke-opacity=".55" stroke-width=".5" d="M87 294l-0.6-0.8 1.4-2 0-1-0.5-1.3 0.1-1.1 2-3.3 0.7-0.3 1.6 0.5 0.3-0.2-5.1-6.1-1.5-2.7-1.4-3.3-0.9-3.4-0.4-3.3 0.5-8.1-0.2-0.2-0.8 1.2-0.9 0.5-3.5-1.5-0.9-0.6-0.3-1.4-0.6-1-2.2-0.7-0.3-0.3 0.1-0.7 0.7-0.4 2 0.8 2.7-1.4 3.7 0.6 0.6 0.3 0.4 0.5 0.1 1.7 0.2 0.2 2.7-4.5 1.7-2.4 2.3-2.5 2.4-2 3.1-1.9 2.9-1.4 2.4-0.7 5.6-1.3-0.3-0.3-1.3-0.4-0.6-0.6 0.3-4.1 0.3-0.7 1.3-0.9 0.8-1-0.1-2.2 0.3-0.3 0.7 0 0.4 0.4-0.2 1.7 0.2 0.7 2 1.6 0.1 0.4 0.6 3.7-0.4 1.1-1.6 0.6-0.3 0.3 5.6 1.3 2.3 0.7 3 1.4 3.1 1.9 2.3 2 2.4 2.5 1.7 2.4 2.6 4.5 0.3-0.2 0.1-1.7 0.3-0.5 0.7-0.3 3.7-0.6 2.7 1.4 2-0.8 0.7 0.4 0 0.7-0.2 0.3-2.2 0.7-0.6 1-0.4 1.4-0.9 0.6-3.5 1.5-0.8-0.5-0.9-1.2-0.1 0.2 0.4 8.1-0.4 3.3-0.9 3.4-1.3 3.3-1.6 2.7-5 6.1 0.2 0.2 1.7-0.5 1 0.7 1.7 3.3-0.5 3 1.4 2-0.2 0.6-0.7 0.2-0.6-0.5-0.4-1-0.7-0.6-2.3-0.1-0.7-0.3-2.7-3-0.1-1 1.1-1.3-0.3-0.2-7.4 2.9-3.4 0.7-3.3 0.2-3.4-0.2-3.3-0.7-7.4-2.9-0.3 0.2 1.1 1.6-0.3 1.1-2.5 2.6-0.7 0.3-2.4 0.1-0.4 0.3-0.9 1.6-0.7 0.2M92.1 284.8l0 0M124.3 284.8l0 0M87 294.2l-0.5-0.3-0.5-0.7 1.3-2.3-0.3-2 0.1-0.7 1.9-3.6 1.2-1.1-0.4-0.7-2.4-2.7-1.7-2.3-1.5-2.7-1.1-2.7-0.7-2.7-0.3-3 0.4-7-0.5-0.4-1.3-0.1-3.7-1.8-1.4-2.4-1.7-0.5-0.6-0.5 0-1.1 0.6-0.7 2.4 0.6 2.7-1.1 4 0.7 1.3 0.8 0.4-0.2 3.7-5.8 2-2.2 2.3-2 2.4-1.5 2.9-1.3 2.5-0.8 3.6-0.7 0.7-0.4-0.2-1.8 0.6-3.9 1.8-2.1 0.2-2.4 0.6-0.4 0.9 0.1 0.6 0.6 0 2.1 1.9 2.1 0.6 4.2-0.4 1.4 0.4 0.3 6.5 1.7 3 1.3 2.3 1.5 2.4 2 2 2.2 1.7 2.3 1.6 3 0.7 0.7 1.3-0.8 4.1-0.7 2.7 1.1 2.3-0.6 0.6 0.7 0.1 1.1-0.7 0.5-1.7 0.5-1.3 2.4-3.7 1.8-1.7 0.2-0.1 0.9 0.4 3.7 0 2.7-0.4 3-0.6 2.7-1.1 2.7-1.5 2.7-1.7 2.3-2.5 2.7-0.3 0.7 1.1 1.1 1.8 3.2 0.3 1.1-0.4 2 1.3 2.3-0.6 0.9-1.1 0.2-1.6-1.9-2.4-0.4-3.1-3.1-0.6-1.4-0.3-0.1-6.4 2.5-3 0.6-3 0.2-3-0.2-3.1-0.6-6.3-2.5-0.4 0.1-0.6 1.4-2.7 2.8-0.7 0.4-2 0.3-1.6 1.8-0.8 0M87.4 294.6l-1.2-0.7-0.4-1 1.1-2-0.2-2 0.2-0.7 2.6-4.7 0-0.4-3.1-3.3-1.6-2-1.5-2.7-1-2.4-0.6-2.6-0.3-3.1 0.6-6.9-0.3-0.4-5.1-2.4-1.3-2-2-0.9-0.3-0.5 0.1-1 0.8-1 2.4 0.4 2.3-0.8 5.7 1 0.6-0.6 1.5-2.8 1.6-2.6 2.1-2.3 2-1.7 2.3-1.5 2.7-1.2 2.3-0.7 4.7-1 0.2-0.3 0.7-5.3 1.5-2 0.3-2.4 0.7-0.5 1.3 0 0.7 0.5 0.3 2.4 1.5 2 0.7 5.3 0.3 0.4 4.3 0.8 2.7 0.8 2.6 1.2 2.4 1.5 2 1.7 2 2.3 1.7 2.6 1.4 2.8 0.6 0.6 5.4-1 0.9 0.1 1.8 0.7 2-0.4 0.6 0.2 0.4 0.5 0.2 1.3-0.6 0.8-1.6 0.6-1.1 1.7-0.7 0.6-4.6 2.1-0.3 0.4 0.5 6.9-0.2 3.1-0.7 2.6-0.9 2.4-1.6 2.7-1.5 2-3.2 3.3 0 0.4 2.8 5-0.2 2.4 1.2 2-0.2 0.6-0.6 0.7-1.2 0.4-0.5-0.4-1.1-1.3-2.4-0.7-4-4.2-0.3-0.1-4.1 1.9-2.3 0.8-3 0.7-2.7 0.2-2.7-0.2-3-0.7-2.4-0.8-4-1.9-0.3 0.1-3.7 4-0.7 0.3-1.7 0.4-0.7 0.5-0.7 1-0.9 0.4M166.2 334.2l6.2-6.1 5.6-6.7M38.4 321.4l5.5 6.7 6.3 6.1M178 208.1l-6.8-6.8-7.9-6.8M53.1 194.5l-8 6.8-6.7 6.8M87 294.7l-1.1-0.8-0.4-1 1.1-2 0.1-2.7 1.7-3 0.7-2.1-3.1-3-1.8-2-1.8-2.7-1-2.3-0.5-2.4-0.2-3.3 0.2-2.7 0.8-4.4-1.7-1.1-3.3-1.6-1.6-2-1.8-0.8-0.5-0.9 0.1-1 0.6-1 0.8-0.3 2 0.4 2.3-0.7 3.7 0.7 2 0 3.4-6.2 2-2.5 2-1.9 2-1.1 3.1-1.1 7.1-1.4 0.5-2 0.4-3.3 1.5-2.4 0.2-2 1-0.7 1.3 0 1.1 0.7 0.2 2 1.3 2 0.5 3.7 0.6 2.1 4.2 0.6 2.8 0.7 3.1 1.1 2 1.1 2 1.9 2 2.5 3.4 6.2 2 0 3.7-0.7 2.4 0.7 2-0.4 0.6 0.2 0.6 0.8 0.2 1-0.1 0.7-0.3 0.5-2 1-1.5 1.8-3.2 1.6-1.7 1.1 0.7 4.4 0.2 2.7-0.1 3.3-0.5 2.4-1.1 2.3-1.8 2.7-1.7 2-3.1 3 0.7 2.1 1.6 3 0.2 2.7 1 1.6-0.1 1-0.7 0.8-1 0.5-1-0.2-1.4-1.5-2.3-0.9-2.4-2.5-1.6-1.4-6.4 3.1-3.4 0.9-2.3 0.3-2.4-0.3-3.3-0.9-6.4-3.1-1.7 1.4-2.3 2.5-2.4 0.9-1.7 1.6-1 0M149.5 334.2l5-3.1 4.7-3.5 4.4-4.1 3.8-4.4 3.7-5.1 3.3-5.7 3.6-7.4M38.4 300.9l3.2 6.7 3.5 6.1 3.7 5.2 4 4.6 4.4 4.1 4.7 3.5 4.9 3.1M178 224.1l-3.7-4.9-4.4-4.9-5.3-5-6.8-5.5-8.2-5.9-5.1-3.4M71.9 194.5l-7.7 5.1-8 6.1-6.8 5.7-5.2 5.3-5.8 7.4M87.4 294.9l-1-0.4-0.9-1-0.2-1 1.1-3.7 2-4 0.4-1.3-0.4-0.7-4.2-3.7-3.9-4.4-0.7-2-0.1-2.3 1.8-10.1-5.8-3.7-0.9-0.9-1.8-1.1-0.1-1.3 0.6-1.4 1-0.6 4.7-0.1 5 0.6 0.5-0.5 2.3-5.4 2.6-4.5 1.7-1.4 2-1 10.6-1.5 1.2-5.7 1.6-4.1 1.3-0.6 1.4 0.2 0.9 0.8 1.6 4.7 0.7 4.4 0.5 0.5 6 0.6 5.4 1.1 1.7 1.1 1.6 1.8 5.1 9.6 6.1-0.6 1.6 0.3 2-0.2 0.9 0.9 0.4 1.3-0.3 1.3-2.1 1.1-2 2-4 2-0.4 0.7 0.8 3 1.1 6 0 2.4-0.5 2-1.1 2-7.7 7.4 0.5 1.4 2 4 1.1 4-0.4 1-1 0.8-1.4 0.3-0.7-0.4-1.6-1.5-1.5-0.6-2.9-3-1.3-0.9-5.4 3.1-5.4 2.3-2.3 0.1-2.4-0.7-9.2-4.5-4.9 4.1-1.1 0.5-1.6 1.5-0.6-0.1M38.4 273l7.1 22.2 3.7 9.4 2.4 4.7 2.6 4.1 3 3.8 3.3 3.5 4 3.3 4.4 2.8 4.4 2.2 5 1.9 5.4 1.3 5.3 0.8 6.1 0.4 7.7 0.1 19.8-0.1 5.7-0.5 5.4-0.9 5.4-1.4 5.3-2.2 4.7-2.6 4.3-3.1 3.8-3.3 3.5-4 3-4.4 2.8-5 2.1-4.7 2-5.4 7.4-22.9M178 240.1l-2.5-5.6-3.1-5.1-3.8-4.8-4.7-4.7-7.1-5.7-17.1-12.4-6.6-4.2-6-3.1M89.2 194.5l-5.9 3.1-6.7 4.2-17.1 12.4-7 5.7-4.7 4.7-3.9 4.8-3.1 5.1-2.4 5.6M106.2 295.6l-2.7-1.2-3.1-2.5-4.3-3-1.7 1.1-2.3 2.6-2 1-1.7 1.5-1.4 0-1.3-0.9-0.6-1-0.1-0.7 0.9-1.6 0.4-2.4 1.8-3.3 0.4-1.7-0.5-0.6-7.7-5.5-1.7-2.2-0.7-2.5-0.1-1.6 0.3-1.7 1.5-4.1 1.4-4.3 0-0.7-1.4-1-3.3-1.6-1.7-1.7-1.7-0.8-0.3-0.6-0.2-1 0.6-1.7 0.6-0.6 0.7-0.3 2 0.4 2.3-0.4 3.4 0.7 1.9-0.1 0.4-0.7 1.5-4.7 0.6-2.7 0.7-1.6 1.6-2.2 2-1.5 1.7-0.6 2-0.3 3.7 0.2 5.4-0.1 0.6-1.6 0.5-3.7 1.1-2.3 0.2-1.7 0.6-0.7 1.7-0.5 1.7 0.5 0.5 0.7 0.2 1.7 1.2 2.3 0.4 3.7 0.7 1.6 5.3 0.1 3.7-0.2 2 0.3 1.7 0.6 2 1.5 1.6 2.2 0.7 1.6 0.6 2.7 1.6 4.7 0.4 0.7 1.9 0.1 3.3-0.7 2.4 0.4 2-0.4 0.6 0.3 0.6 0.6 0.6 1.7-0.1 1-0.4 0.6-1.7 0.8-1.6 1.7-3.4 1.6-1.4 1 0 0.7 1.4 4.3 1.6 4.1 0.2 1.7 0 1.6-0.8 2.5-1.6 2.2-7.8 5.5-0.5 0.6 0.5 1.7 1.8 3.3 0.4 2.4 0.8 1.6-0.1 0.7-0.5 1-1.4 0.9-1.3 0-1.7-1.5-2-1-2.4-2.6-1.6-1.1-8.4 6.1-2.7 0.8-3-0.2M88.4 326.5l5.7 0.2 14.1-0.2 13.7 0.2 8.1-0.4 5.4-1 4.7-1.4 4.3-2 4-2.6 3.7-3.1 3.2-3.5 2.7-4 2.4-4.7 2.6-6.8 4.2-13.6 4.3-12.5 2.2-8.1 0.8-4.7 0.2-4.4-0.3-4.3-0.7-4-1.3-4.1-1.9-4-2.2-3.6-2.7-3.4-3.7-3.7-4.4-3.6-12.5-8.9-14-10.3-4-2.5-4.1-2.1-3.6-1.4-4.1-1.1-3.7-0.5-4-0.2-3.7 0.3-4 0.7-3.7 1.2-3.7 1.5-3.7 2-4 2.5-13.4 9.9-12.1 8.6-3.7 3-3 2.8-3.6 4.1-2.9 4.4-2.2 4.7-1.4 5-0.6 4.4-0.1 4.3 0.5 5.1 1 5 10.5 32.5 1.9 5.1 2.4 4.7 2.6 4 2.9 3.5 3.4 3.1 3.7 2.5 4 2.1 4 1.5 4.7 1.1 5.1 0.7M106.2 297.6l-2.1-0.9-1.6-1.1-3.2-3.7-3.2-2.7-0.7 0.2-0.6 0.5-2.7 2.9-2 1.1-1.4 1.3-0.7 0.2-1-0.1-1.5-1.1-0.6-1 0-1 0.8-1.7 0.5-2.3 1.9-3.4 0.2-1-0.1-0.3-3.5-2.2-3.4-1.3-2.4-1.6-2-2.3-0.9-2.7 0-2 0.5-2.4 1-2 1.8-2.7 1.4-3.2 0-0.8-1.4-1.1-3-1.3-1.8-1.6-1.6-0.8-0.6-0.9-0.1-1 0.7-1.9 1.4-0.9 2 0.3 2.3-0.3 3.7 0.8 1-0.1 0.5-0.2 1-3.7 0.2-4.1 0.7-2.5 1.4-2.5 2.3-1.8 2-0.8 2.3-0.2 2.4 0.3 3 0.9 3.7 0.3 0.7-0.2 0.6-1.5 0.4-3.6 0.9-2.1 0.3-1.7 0.8-0.9 1.7-0.5 1.7 0.5 0.8 0.9 0.2 1.7 1 2.1 0.4 3.6 0.6 1.5 0.6 0.2 3.7-0.3 3.1-0.9 2.3-0.3 2.4 0.2 2 0.8 2.2 1.8 1.5 2.5 0.6 2.5 0.3 4.1 1 3.7 0.4 0.2 1 0.1 3.7-0.8 2.4 0.3 2-0.3 0.6 0.3 0.9 0.8 0.4 1 0.1 1-0.2 1.1-0.5 0.5-1.5 0.8-1.8 1.6-3.1 1.3-1.4 1.1 0.1 0.8 1.3 3.2 1.9 2.7 0.9 2 0.6 2.4-0.1 2-0.9 2.7-2 2.3-2.4 1.6-3.3 1.3-3.5 2.2-0.2 0.3 0.3 1 1.8 3.4 0.6 2.3 0.8 1.7 0 1-0.6 1-1.6 1.1-1 0.1-0.7-0.2-1.4-1.3-1.9-1.1-2.7-2.9-0.7-0.5-0.6-0.2-3.2 2.7-2.9 3.4-2 1.4-1.3 0.7-1.7 0.4-1.7 0-1.3-0.2M88 322.1l6.1 0.1 13.7-0.9 15.1 0.9 7.1-0.3 4.4-0.7 4.3-1.3 3.7-1.7 3.7-2.4 3-2.6 2.9-3.2 2.5-3.7 2-4 2.1-6.1 3.8-14.4 5.3-13.4 1.9-6.4 0.6-4 0.3-4.1-0.3-3.6-0.7-3.7-1.2-3.7-1.5-3.4-2.1-3.3-2.5-3.1-2.7-2.7-3-2.4-14.8-9.6-10.5-8.8-4.1-3-3.2-1.9-3-1.5-3-1.2-3.3-0.9-3.1-0.5-3.3-0.2-3.4 0.2-3 0.5-3.4 0.9-3 1.2-3 1.5-3.4 2.1-3.8 2.8-9.9 8.3-13.4 8.6-3.4 2.5-2.7 2.4-3.1 3.4-2.8 4-2 4.4-1.3 4.4-0.6 3.7-0.1 4 0.4 4 0.8 4 1.7 5.4 5.3 13.4 4.5 16.8 1.4 3.7 1.5 3 2.1 3.4 2.6 3.2 3 2.8 3.1 2.2 3.7 2 3.6 1.4 4.1 0.9 4.3 0.6M107.2 300.3l-2.4-0.8-2.3-1.7-2-2.3-2.1-3.6-1.6-1.7-1-0.7-1 0.6-2.7 2.9-1.7 1.1-1.7 1.4-1.7 0-1.8-1.3-0.5-1-0.1-1 0.8-1.7 0.5-2 1.9-3.3 0.2-1.4-0.6-0.5-2.4-1.2-3.7-0.7-3.1-1.3-2.4-1.7-1.5-2-0.5-1.3-0.2-1.7 0.2-1.7 0.5-1.6 1.8-3.4 2.9-3.1 1.2-2.3 0.2-1-1.2-1-3.1-1.3-1.8-1.5-1.4-0.7-0.8-1.2 0-1 0.7-2 0.7-0.7 0.8-0.3 2 0.2 2.3-0.1 3.4 0.7 1.4-0.1 0.4-1 0.3-2.4-0.5-4.4 0.4-3.3 1.2-3 1.8-2 1.4-0.7 1.3-0.5 3-0.1 3.4 0.7 4 1.8 3 0.4 0.4-0.1 0.4-0.9 0.4-4 0.8-2 0.4-1.8 1-1 1.7-0.4 1.7 0.4 1 1 0.3 1.8 0.8 2 0.5 4 0.4 0.9 0.3 0.1 3-0.4 4.1-1.8 3.3-0.7 3 0.1 1.4 0.5 1.3 0.7 1.8 2 1.2 3 0.4 3.3-0.4 4.4 0.3 2.4 0.4 1 1.4 0.1 3.3-0.7 2.4 0.1 2-0.2 1 0.5 0.7 0.8 0.5 2-0.2 1.1-0.7 0.8-1.3 0.7-1.8 1.5-3.1 1.3-1.3 1 0.3 1 1.2 2.3 2.6 2.8 1.6 2.6 1 2.7 0.1 2.7-0.4 1.4-0.7 1.3-1.1 1.3-1.4 1.2-3.4 1.6-4.7 1.1-2.7 1.5 0.2 1.4 1.9 3.3 0.6 2 0.7 1.7 0 1-0.6 1-1.8 1.3-1.7 0-1.6-1.4-1.7-1.1-2.7-2.9-1.1-0.6-1 0.7-1.6 1.7-2 3.6-2.7 2.9-1.3 0.9-1.7 0.7-1.7 0.3-1.3 0M87.4 318.7l3.3 0 3.4-0.3 10.7-2.2 3.4-0.3 3.3 0.3 11.1 2.3 4 0.3 3.7-0.2 3.7-0.5 3.7-1.1 3.4-1.6 3-1.9 2.9-2.5 2.4-2.7 2-3 1.7-3.4 1.2-3.3 0.9-3.7 1.2-11.1 0.9-3.7 1.3-3 5.5-9.7 1.5-3.6 1-3.5 0.6-3.3 0.2-3.4-0.3-3.3-0.6-3.4-1-3-1.5-3-1.7-2.7-2.2-2.7-3.3-3-4-2.8-4-2.1-7.4-3.2-3-1.8-2.7-2.4-6.8-7.5-5-4.2-4.6-2.6-5.1-1.7-5.4-0.7-2.6 0-3.1 0.4-5.3 1.7-5.1 2.7-4.9 4-7.1 7.9-2.7 2.4-3.1 1.8-7.3 3.2-3.4 1.7-3.3 2.2-3.1 2.4-2.7 2.9-2.4 3.4-1.8 3.7-1.2 3.7-0.6 3.3-0.1 3.4 0.3 3.3 0.6 3.4 1.1 3.4 1.4 3.3 5.4 9.4 1.3 3 0.8 3.4 0.8 8 0.7 4.4 1.2 4.4 1.8 4 1.8 3 2.4 2.9 2.6 2.5 2.7 2 3.1 1.6 3.3 1.2 3.4 0.8 3.7 0.4M107.2 304l-1.4-0.5-1.3-0.8-2.7-2.7-2.4-3.6-1.8-4.5-1-1.4-0.8-0.7-1 0.5-2.7 2.9-3.1 2.4-1.6 0.2-1.7-0.9-1.1-1.4-0.2-1.3 1.3-3.7 2-3.3 0.2-0.7-0.2-0.6-2.3-1-3.7-0.2-3.1-0.5-4-1.5-2.1-1.2-1.3-1.4-0.7-1.3-0.3-1.7 0.5-2.7 1.8-3.4 2.4-3 4.1-3.4 1-1.6 0.1-0.7-1.1-1-3-1.2-3.4-2.2-0.7-1.3 0.2-2 0.8-1.5 1.4-0.8 4 0.2 3.7 0.8 0.8 0 0.4-0.4 0.3-2.7-1.2-4.3-0.2-4.4 0.5-3.7 1.3-2.7 1.1-1 1.7-0.7 2-0.2 2 0.2 2.4 0.6 2.7 1 5 3 2.3 0.5 0.4-0.2 0.3-0.8 0.4-3.7 1.1-4 1.1-1 1.8-0.4 1.7 0.4 1.1 1 1.2 4 0.3 3.7 0.4 0.8 0.3 0.2 2.4-0.5 5-3 2.7-1 2.3-0.6 2-0.2 2.1 0.2 1.6 0.7 1.2 1 1.3 2.7 0.5 3.7-0.3 4.4-1.1 4.3 0.2 2.7 0.5 0.4 0.8 0 3.6-0.8 4.1-0.2 1.3 0.8 0.8 1.5 0.2 2-0.6 1.3-3.4 2.2-3 1.2-1.2 1 0.2 0.7 1 1.6 4 3.4 2.5 3 1.8 3.4 0.5 2.7-0.3 1.7-0.7 1.3-1.4 1.4-2.1 1.2-4 1.5-3 0.5-3.7 0.2-2.4 1-0.1 0.6 0.2 0.7 1.9 3.3 1.4 3.7-0.2 1.3-1.1 1.4-1.7 0.9-1.7-0.2-3-2.4-2.7-2.9-1-0.5-1.7 1.7-2.3 5.5-1.4 2.1-1.7 2.1-1.6 1.5-1.7 0.9-1.7 0.5-1.3-0.1M83.7 315.7l2.7 0.3 2.6 0 5.2-1 2.6-0.9 2-1.1 1.8-1.3 1.1-1.4 0.5-1.6-0.3-2.4-3.5-8.9-1.6-5.9-1-1.3-0.7 0-1 0.9-2 2.4-2.6 2.1-0.8 0.3-1.3 0-1.4-0.6-1.2-1.1-0.4-0.7-0.2-1.3 1.3-3.7 1.9-3 0.2-1-0.2-0.4-1.7-0.5-6.1 0.2-8-0.6-2.4 0.2-1.6 0.4-1.3 1-1 1.7-0.7 2.4-0.3 3 0.1 3 0.5 3 0.9 3 1.1 2.7 1.4 2.4 1.6 2.1 1.9 1.9 2.1 1.8 2.4 1.4 2.3 1.1 5.1 1.4M125.3 315.7l3 0.3 3.4-0.1 3-0.6 3-1 2.7-1.3 2.7-1.7 2.2-2 2-2.3 1.8-2.7 1.4-3 0.9-3.1 0.6-3.3 0-3.4-0.4-3-0.8-2.4-1.3-1.8-1.4-0.7-2.7-0.4-8.7 0.6-6-0.2-1.4 0.3-0.6 0.6 0.1 0.7 2 3.3 1.3 3.4 0.1 0.6-0.2 1-0.7 1.1-1.3 0.9-1 0.4-1.4 0-0.8-0.3-2.5-2.1-2-2.4-1-0.9-0.7 0-0.6 0.7-0.6 1-0.6 2.7-1.2 3.7-3 7.3-0.4 2 0 1.7 1.2 2 2.5 2 3.4 1.4 4 1M62.5 272.4l1.7 0 2.4-1.2 7.1-5.8 4.9-3.3 1-1.3 0-0.8-0.4-0.3-3.8-1.7-2.8-1.8-0.5-0.6-0.4-1 0.1-1.3 0.4-1.4 0.7-1.1 1.7-0.7 3.7 0.2 3.4 0.8 1-0.1 0.3-0.4 0-1.7-2.2-5.7-2.3-9.1-1.4-2.3-1.8-1.1-2.7-0.3-3.7 0.6-3.7 1.3-3.7 2.1-3 2.5-2.6 2.9-1.9 3.1-1.5 3.7-0.8 3.7-0.2 3.6 0.4 4.1 1.1 3.7 1.8 3.7 2.4 3.3 2.6 2.5 1.4 0.8 1.3 0.4M152.5 272.5l1.3-0.1 1.4-0.4 2.6-1.9 2.7-3.1 2.3-4 1.3-3.7 0.7-4 0-4-0.7-4.1-1.4-3.7-2-3.3-2.5-3-3-2.6-3.4-2-4-1.5-3.7-0.7-3 0.3-1.9 1.1-1.3 2.3-2.4 9.1-2.1 5.7 0 1.7 0.3 0.4 1 0.1 3.3-0.8 3.7-0.2 0.8 0.2 1 0.6 0.8 1.4 0.3 1.3 0 1-0.5 1.2-3.4 2.3-3.6 1.6-0.4 0.3 0 0.7 1 1.4 5 3.3 6.1 5.1 2 1.3 1.7 0.7M101.8 235.8l1 0.3 0.7-0.2 0.3-1.1 0.2-3.3 0.9-3.4 0.6-0.9 1-0.7 1.3-0.2 1.4 0.1 1.1 0.4 0.9 0.8 1.1 3.9 0.3 3.7 0.3 0.7 0.6 0.2 1.8-0.6 4-3.3 7.1-4.4 2.4-2 0.8-1.1 0.4-1.3-0.1-1.7-0.5-1.7-2.1-4-3.2-3.7-3.8-2.9-4.1-2-4.3-1.2-4.4-0.3-4.4 0.5-4.3 1.5-4 2.3-3.6 3.1-2.4 3.1-1.8 3.3-0.6 2.7 0 1.3 0.4 1 0.7 1.1 1.5 1.3 7.4 4.7 5.4 4M85.4 313.7l3.6-0.2 3.7-1 3.1-1.8 1-1 0.9-1.4 0.6-2.3 0-2.7-2.3-12.1-0.6-0.7-0.6 0.1-2.4 2.8-2.5 2.2-1.2 0.5-1 0.1-1.6-0.6-1.1-0.9-0.7-0.8-0.3-1.4 0-0.6 1.1-3 2.1-3.4 0.2-0.7-0.4-0.4-1.3-0.2-1.7 0.4-8.7 1-2.7 0.6-1.7 0.8-1.3 1-1.2 1.5-0.8 1.7-0.5 2.7 0.3 4.3 0.6 2.4 1.3 3 1.1 1.7 1.9 2.3 2 1.9 2 1.4 4.4 2 2.6 0.6 2.1 0.2M129.3 313.7l2.7-0.1 2.4-0.4 2.3-0.7 2.4-1 2-1.3 2-1.6 1.9-2 1.6-2.3 1.1-2 0.9-2.7 0.5-2.4 0.1-3-0.3-2.3-0.9-2.4-1.2-1.5-1.4-1-1.6-0.8-2.7-0.6-8.8-1-1.6-0.4-1.4 0.2-0.3 0.4 0.1 0.7 2.1 3.4 1.1 3 0.1 0.6-0.4 1.4-0.7 0.8-1.1 0.9-1.6 0.6-1-0.1-1.1-0.5-2.6-2.2-2.3-2.8-0.7-0.1-0.6 0.7-2.2 12.1 0 2.7 0.6 2.3 1.6 2.1 2.6 1.8 3.1 1.1 3.3 0.4M62.2 267.8l2.3 0.1 3.1-0.7 4.7-2.4 4.2-2.5 1.8-0.8 0.9-0.8 0.1-0.7-0.3-0.3-4.1-1.7-2.3-1.6-0.7-0.8-0.4-1 0.1-1.3 0.4-1.4 0.9-1.3 1.4-0.7 0.6 0 3.1 0.1 3.7 1 0.5-0.1 0.3-0.3-0.1-1.4-1.1-1.9-1.4-3.4-2.7-5.4-1.9-2.4-1-0.9-1.4-0.7-2.3-0.4-2.7 0.2-3 1-3 1.7-2.1 1.6-2.1 2.3-1.8 2.6-1.3 3.1-0.7 2.6-0.4 3.7 0.4 3.7 0.7 2.7 1.4 3 1.8 2.5 2 1.8 2.4 1.2M150.8 267.8l2.3 0.2 2.4-0.8 2.3-1.7 2.3-2.8 1.4-2.7 1-3.4 0.3-4-0.4-3.7-1-3.3-1.4-2.7-1.9-2.7-2.3-2.2-3-2.1-3-1.2-2.7-0.5-2.7 0.1-2.3 0.9-1.4 1.2-1.1 1.4-1.3 2.4-3.3 7.1-1.1 1.9-0.2 1.1 0.3 0.5 0.4 0.2 4-1 2.7-0.1 1 0 1.3 0.7 0.9 1.3 0.4 1.4 0.1 1.3-0.4 1-0.6 0.8-2.4 1.6-4 1.7-0.4 0.3 0.1 0.7 0.9 0.8 1.9 0.8 6.2 3.6 2.7 1.3 2 0.6M102.5 235.6l0.6 0.1 0.4-0.3 0.3-1.3 0-2.6 0.7-2.7 0.7-1.5 1-0.8 1.3-0.4 1.3 0 1.4 0.4 1 0.8 0.4 0.8 0.8 3 0.4 4.1 0.4 0.5 0.3 0 1.2-0.5 1.2-1.5 6.1-5.6 2.1-2.3 1.1-2.1 0.4-1.3 0-2-0.4-1.7-1-2-1.4-2-1.9-2-2-1.6-3-1.6-3.4-1.1-4-0.5-3.7 0.3-3.7 1-3.7 1.9-2.6 2.2-2.3 2.7-1 2-0.7 2.4 0 2 0.7 2 1 1.7 1.5 1.7 6.5 5.9 1.2 1.5 0.8 0.4M83.3 312l2.7 0.2 2.4-0.2 2.3-0.7 2.1-1 1.6-1.3 1.1-1.4 0.7-1.6 0.5-2.4-0.1-5.7-0.9-4.4 0-2-0.5-0.6-0.4-0.1-0.4 0.3-2.7 3.2-2 1.6-1 0.4-1 0-1.3-0.4-1.4-1-0.8-1-0.4-1 0.2-1.6 1.2-3.1 1.9-2.7-0.1-0.6-0.6-0.3-2.4 0.7-3 0.2-2.4 0.5-3 0.9-2.3 1.1-1.8 1.2-1.2 1.3-0.9 2-0.4 2.1 0 3 0.6 3 1.2 2.7 1.8 2.7 2.3 2.3 2.4 1.6 3 1.4 3 0.7M128.3 312l2.4 0.2 2.3-0.2 2.4-0.5 2.3-0.9 2-1.1 2.1-1.5 1.6-1.7 1.6-2 1.2-2.4 0.8-2.3 0.4-2.4 0-2.3-0.3-2-0.9-2-1-1.4-1.4-1.1-2.4-1.2-3.7-1.2-2.3-0.5-3.1-0.2-2-0.6-0.6 0-0.4 0.2 0 0.6 2.1 3.4 1 2.6 0.1 1.4-0.3 1-0.9 1-1.3 1-1.4 0.4-1.6-0.3-1.3-0.8-1.8-1.5-2.3-2.9-0.5 0.1-0.3 0.3-0.1 2.3-0.8 3.4-0.3 2.7 0.1 4 0.5 2.7 1.1 2 1.8 1.7 2.2 1.2 3 0.8M63.5 265.8l3.1-0.1 4-1.1 2.7-1.2 3.3-1.9 1.7-0.6 0.7-0.6 0-0.3-0.4-0.4-3-1.1-1.3-0.7-1.7-1.2-0.9-1-0.3-1.3 0.1-1.4 0.5-1.3 0.9-1.2 0.9-0.5 1.1-0.2 3.1 0.1 3.3 1 0.7-0.1 0.2-0.4-0.2-0.7-1.2-1.7-1.8-4-2.4-3.6-2.3-2.4-1.4-0.9-1.3-0.5-2.4-0.3-2.3 0.3-2.7 0.9-2.3 1.4-2.1 1.8-1.8 2.3-1.4 2.3-1 2.7-0.6 2.7-0.1 3 0.5 3 0.9 2.7 1.3 2.4 1.9 2.1 2 1.3 2 0.7M150.1 265.7l2.7 0.1 2-0.7 2-1.3 1.7-1.9 1.5-2.6 1-3 0.4-3-0.1-3-0.8-3.1-1.1-2.7-1.6-2.4-2-2.2-2.3-1.7-2.7-1.3-2.7-0.7-2.3 0.1-1.7 0.4-1.4 0.7-2.6 2.5-2.7 3.9-1.9 4.1-1.2 1.7-0.1 0.7 0.2 0.4 0.6 0.1 3.4-1 3-0.1 1.3 0.3 0.9 0.6 0.8 1.2 0.5 1.5 0 1.3-0.3 1-0.8 1-1.7 1.2-1.4 0.7-3 1.1-0.3 0.4 0 0.3 0.6 0.6 2.1 0.7 4 2.3 3.3 1.2 2.7 0.6M102.8 235.3l0.3 0 0.4-0.5 0.2-3.7 0.8-3 0.7-1 1-0.8 1.3-0.3 1.3 0 1.4 0.3 1 0.8 0.6 1 0.8 2.7 0.2 3.7 0.4 0.8 0.7-0.2 1.6-2 3-2.6 3.3-4.4 1-2 0.5-1.7 0.1-1.7-0.4-2-0.9-2-1.5-2-1.7-1.7-2-1.4-3-1.4-3-0.7-3.4-0.2-3 0.3-3.2 1.1-2.9 1.6-2.3 2-1.8 2.4-0.9 2-0.4 2 0.1 2 0.7 2 1.4 2.4 2 2.7 3.7 3.3 1.2 1.7 0.7 0.5M83 310.7l2.7 0.2 2.3-0.3 2.1-0.6 2-1.2 1.3-1.2 1.1-1.6 0.9-2.4 0.5-2.7 0.1-3.3-1.2-4.1 0.3-2-0.3-0.2-0.7 0.5-0.8 1.4-1.1 1-2.2 1.7-1.3 0.5-1.3 0-1-0.4-1.3-0.8-0.9-1-0.5-1 0.1-1.7 1.3-3.7 1.6-2 0-0.4-0.3-0.2-1.7 0.8-3 0.1-2.1 0.3-2.3 0.9-2.3 1.2-1.8 1.4-1.5 1.6-0.8 1.7-0.5 2 0 2.7 0.6 2.7 1.1 2.3 1.5 2.3 2 2.1 2.4 1.6 2.3 1.1 2.7 0.7M129 310.7l2.3 0.2 2.7-0.3 2.4-0.7 2.3-1.2 2-1.4 2-2 1.4-2 1.1-2.4 0.6-2.3 0.2-2.4-0.3-2-0.7-2-1.2-1.7-1.5-1.3-2.1-1.4-2.5-1.1-2.7-0.6-3.3-0.1-1.7-0.8-0.3 0.2 0 0.4 1.1 1.4 0.8 1.3 1 3 0.1 1.4-0.4 1-0.7 1-2.3 1.4-1.3 0.2-1.6-0.6-3-2.4-1.5-2.1-0.3-0.1-0.3 0.2 0.2 2-0.9 3.1-0.3 2.3 0.4 3.4 0.7 2.7 1.2 2.2 1.7 1.6 2.1 1.2 2.6 0.7M63.5 264l3.4 0.3 3.7-0.5 2.7-1 3-2.1 2-0.5 0-0.5-2.7-0.8-3.3-2.4-0.7-0.9-0.3-1 0.3-2.3 0.7-1.4 0.6-0.7 1.7-0.6 4 0.1 2.4 0.8 0.6-0.2-1.4-1.7-1.1-3.4-1.8-2.6-3-2.8-3-1.6-2.1-0.4-2.3 0.3-2.4 0.7-2 1.2-1.8 1.5-1.7 2-1.4 2.4-0.9 2.3-0.4 2.4-0.1 2.7 0.3 2.3 0.7 2.4 1.1 2 1.5 1.9 1.7 1.3 2 0.8M147.1 264l3 0.3 2.4-0.2 2-0.7 1.7-1.2 1.6-1.9 1.3-2.3 0.8-2.7 0.3-2.7-0.2-2.7-0.7-2.7-1.3-2.7-1.5-2.1-2-1.9-2.4-1.5-2.3-0.9-2.4-0.3-1.6 0.2-1.7 0.5-2 1.3-1.7 1.4-2.5 3-0.9 1.7-0.9 2.7-1.4 1.7 0.7 0.2 2.3-0.8 3.7-0.2 1.6 0.4 0.8 0.7 0.8 1.3 0.4 1.4 0.1 1-0.3 1.3-1 1.2-2.4 1.7-1.3 0.7-2 0.5-0.2 0.3 0.3 0.3 1.9 0.4 3.7 2.4 3.3 0.9M102.8 234.6l0.3 0.1 0.4-0.6-0.2-2.3 1.1-3.7 0.8-1.3 1-0.6 1.3-0.4 1.3 0 1.4 0.4 1 0.6 0.8 1.3 0.8 2.4 0.3 2-0.2 1.6 0.3 0.6 0.5-0.2 0.9-1.7 3.1-2.3 1.7-2.4 1.4-2.7 0.6-2 0.3-2-0.2-1.7-0.7-2-1.2-2-1.7-1.7-2-1.5-2.7-1.2-2.7-0.7-3-0.1-2.7 0.3-3 1-2.4 1.4-2 1.8-1.5 2-0.9 2-0.3 2.1 0.2 2 0.7 2.3 2.2 4 1.6 1.7 2.4 1.8 1 1.7M84 309.7l2.4-0.1 2.3-0.5 2-1 1.7-1.4 1.3-1.9 1.1-2.5 0.6-2.4 0-2.3-0.6-2.2-1.1-1.1-1 0.1-3 1.8-1.3 0.5-1.4-0.2-1.6-0.9-1.4-1.4-0.5-1.3 0.1-1.4 0.8-3-0.1-1-0.3-0.3-1-0.4-2-0.1-2 0.5-1.9 1-1.8 1.3-1.7 1.7-0.9 1.3-0.7 1.7-0.3 2 0 2 0.4 2.1 0.9 2 1.3 2 1.5 1.7 1.8 1.4 2 1.1 2.1 0.8 2.3 0.4M130.3 309.7l2 0 2.4-0.4 2.3-0.9 2.1-1.2 1.8-1.6 1.4-1.6 1.3-2.1 0.7-2 0.4-2 0-2-0.5-2-0.8-1.7-1.3-1.7-1.9-1.6-1.8-1.2-2-0.8-2.7-0.2-1 0.3-0.6 0.5-0.1 1 0.8 3 0 1.7-0.7 1.4-1.6 1.3-1.2 0.6-1.7 0.1-1.3-0.6-2.4-1.5-1-0.3-1 0.7-0.7 1.7-0.3 2 0.3 2.3 0.8 2.7 1.3 2.2 1.3 1.5 1.7 1.2 2 0.8 2 0.4M67.6 263.4l2.3-0.2 2-0.4 1.7-0.9 1.3-1.2 0.3-0.7-0.1-0.7-2.8-2.5-0.9-1.2-0.3-1.3 0.3-2 0.9-1.6 1-0.9 1.3-0.4 3.7-0.4 0.6-0.4 0.2-0.7-0.2-1.3-0.5-1.4-0.8-1.3-1.3-1.4-3.4-2.3-1.6-0.6-1.7-0.4-2 0.1-2.4 0.6-2 1.1-1.9 1.5-1.7 2-1.1 2.1-0.8 2.3-0.4 2.4 0 2.3 0.5 2.4 0.7 2 1.4 2 1.6 1.6 1.7 0.9 2 0.6 2.4 0.3M147.8 263.3l2.3 0 2.4-0.5 1.7-0.8 1.6-1.3 1.4-1.7 1.1-2 0.6-2.4 0.2-2.3-0.3-2.7-0.7-2.4-1.2-2.3-1.4-1.9-1.7-1.6-2-1.2-2.3-0.8-2.1-0.2-1.6 0.2-1.7 0.5-2 1.1-1.7 1.2-1.3 1.3-1 1.4-0.6 1.3-0.2 1.7 0.4 1 5 0.8 0.7 0.3 0.9 0.9 0.9 2.4-0.1 2-1 1.5-2.6 2.2-0.4 1 0.9 1.3 1.5 1 1.9 0.7 2.4 0.3M101.1 231.5l1 0.2 0.7-0.4 1.4-3.2 0.8-1.3 1.2-0.8 1.3-0.3 2 0.1 1.7 0.8 1 1.5 1 2.7 0.7 0.8 0.7 0.1 1-0.4 1.6-1.2 1.3-1.7 0.9-2 0.7-2.3 0.2-2-0.1-2.1-0.6-1.6-0.9-1.7-1.1-1.4-2-1.6-2.1-1.1-2.3-0.7-2.7-0.4-2.7 0.2-2.3 0.6-2.4 1.1-2 1.6-1.5 1.7-1 2-0.5 2 0 2.4 0.6 2.7 1.2 2.6 1.5 2 1.7 1.1M84 308.7l2.4-0.1 2-0.5 1.7-0.9 1.6-1.4 1.5-1.8 1-2.1 0.7-2.3 0-2-0.6-1.7-0.6-0.6-0.6-0.3-1 0.2-2.1 1-1.6 0.6-1.4-0.2-1.6-0.9-1.3-1.1-0.7-1.4 0-1.7 0.4-2.3-0.1-1-1-0.8-2-0.1-1.7 0.5-1.8 1.1-1.5 1.3-1.3 1.7-1.4 3-0.3 1.7 0.1 2 0.5 2 0.8 1.7 1.1 1.7 1.4 1.4 1.7 1.3 1.7 0.9 2 0.7 2 0.4M130.7 308.7l2-0.1 2-0.4 2-0.7 1.9-1.2 1.6-1.3 1.4-1.7 1-1.7 0.7-2 0.3-2 0-1.7-0.6-2-0.8-1.7-1.2-1.7-1.6-1.5-1.7-1-1.7-0.7-2 0-0.7 0.2-0.6 0.7-0.2 1 0.4 2.3 0 1.7-0.6 1.4-1.5 1.3-1.5 0.7-1.3 0.2-1.7-0.6-2-1-1-0.2-1 0.6-0.8 1.6-0.1 1.7 0.4 2 0.8 2.1 1.3 2.1 1.4 1.4 1.7 1.1 1.6 0.7 2.1 0.4M67.9 262.7l2 0 1.7-0.4 1.4-0.6 1-1 0.4-1-0.2-0.7-2.2-2.4-0.9-1.3-0.2-1.4 0.4-1.6 0.6-1.4 1-1.1 1.7-0.6 2.7-0.4 0.8-0.6 0.3-1-0.1-1-0.6-1.3-2.1-2.2-3-1.7-3-0.7-2 0.1-2 0.5-1.9 1-1.7 1.3-1.4 1.7-1.2 2-0.7 2-0.4 2.4 0 2.3 0.4 2 0.9 2 1.1 1.7 1.5 1.4 1.3 0.8 2.1 0.8 2.3 0.4M146.4 262.7l2 0 2.4-0.4 2-0.8 1.7-1.1 1.4-1.4 1.1-1.7 0.7-2 0.4-2-0.1-2.4-0.4-2.3-0.8-2-1.3-2.1-1.5-1.6-1.9-1.3-2-0.9-2-0.4-1.7 0.1-1.6 0.3-3.4 1.5-1.3 1.1-1.2 1.2-0.7 1.4-0.2 1 0.1 1 0.5 0.7 0.8 0.3 3.7 0.7 1 0.8 0.5 0.9 0.7 2 0 2-0.9 1.3-2 2-0.4 0.7 0 0.7 0.6 1 0.8 0.7 1.4 0.6 1.6 0.4M101.5 230.8l0.6 0 0.7-0.5 2.4-3.9 1-0.6 1.3-0.2 2.4 0.1 1.3 0.7 1 1.4 1 2.1 1 0.9 1.4-0.2 1.3-0.9 1.2-1.6 0.7-1.7 0.4-2 0.2-2-0.3-2-0.5-1.7-1-1.7-1-1.2-1.7-1.4-2-1-2.4-0.7-2.3-0.2-2.4 0.2-2.3 0.7-2 1-1.7 1.4-1.3 1.6-1 2-0.5 2.3 0.1 2.4 0.6 2.7 1 2 1.4 1.5 1.4 0.5M83.3 307.7l2.1 0.1 2-0.4 2-0.9 1.7-1.2 1.5-1.7 1.2-2 0.6-2 0.1-1.7-0.7-1.7-1.1-0.6-1.3 0.1-3 1.3-1.4-0.2-1.6-0.9-1.5-1.3-0.5-1.1-0.2-1 0.3-2.6-0.4-1.4-1.1-0.7-1.3-0.1-1.7 0.6-1.4 0.9-1.4 1.3-0.9 1.4-0.9 1.6-0.5 1.7-0.2 1.7 0.1 1.7 1 3 2.2 2.9 3 2.1 3.3 1.1M130.3 307.7l1.7 0.1 2-0.3 2-0.7 1.7-0.9 1.6-1.3 1.2-1.3 1.1-1.7 0.7-1.7 0.3-1.7 0-2-0.3-1.6-0.6-1.7-1.1-1.7-1.2-1.4-1.4-1.1-1.6-0.8-2-0.1-1.2 0.7-0.3 1.4 0.2 2.6-0.1 1-0.8 1.4-1.5 1.2-1.4 0.7-1.3 0.2-3-1.3-1.4-0.1-1 0.6-0.6 1-0.1 1.4 0.2 1.7 0.6 1.6 1.2 2 1.4 1.4 1.7 1.2 1.6 0.8 1.7 0.4M67.2 262l2 0.2 1.7-0.1 1.4-0.5 1-0.9 0.4-1-0.2-1.1-2-2.3-0.6-1-0.1-1.4 0.3-1.6 0.8-1.7 0.7-0.7 1-0.5 3.2-0.8 0.7-0.7 0.3-0.7-0.3-1.6-1.5-2-2.1-1.3-2.6-0.9-2.1-0.2-2 0.2-1.6 0.5-1.7 1-1.6 1.3-1.3 1.7-1 2-0.6 2-0.3 2 0.2 2 0.5 2.1 0.9 1.6 1.2 1.5 1.4 1.2 1.9 1.1 2 0.6M145.4 262.1l2 0.1 2.1-0.3 2-0.7 1.6-0.9 1.6-1.3 1-1.4 0.8-1.6 0.6-2.1 0.1-2-0.3-2.3-0.7-2-1.1-2-1.3-1.6-1.7-1.4-1.6-0.8-2.1-0.5-3 0.1-3.3 1.1-2.4 1.7-0.9 1.4-0.2 1 0.1 1 0.4 0.6 1 0.6 3.2 0.8 0.8 0.7 0.7 1 0.7 2-0.1 2-0.6 1-1.7 2-0.5 1.4 0.2 0.6 0.6 0.8 2 1M101.1 230.1l1 0 0.7-0.4 2.4-3.5 1-0.5 1.6-0.3 2.1 0.2 1.3 0.6 2 3.1 1 0.8 1 0 1.4-0.7 1-1.3 0.6-1.3 0.5-3.4-0.2-2-0.5-1.7-0.8-1.5-1-1.4-1.6-1.5-1.7-0.9-2-0.7-2.1-0.3-2.3 0.1-2 0.5-2 0.9-1.6 1.1-1.5 1.6-0.9 1.8-0.6 2-0.2 2.3 0.2 2.1 0.7 2 1.2 1.6 1.3 0.7M82.3 306.7l2 0.3 2.1-0.2 2-0.6 1.7-1 1.6-1.5 1.4-1.8 0.8-2 0.1-1.7-0.4-1.3-0.5-0.6-0.7-0.3-1.3 0.1-2.1 0.9-1 0.1-1-0.1-1.6-0.9-1.4-1.2-0.8-1.4 0-3.3-0.3-1-0.6-0.7-1.3-0.3-1.4 0.3-1.2 0.7-2.2 2.3-1.4 3.1-0.3 3.3 0.7 2.7 1.7 2.7 2.4 2 3 1.4M129.3 306.6l1.7 0.3 1.7 0 1.7-0.3 1.6-0.7 1.7-1 1.5-1.3 1.1-1.3 0.9-1.7 0.5-1.7 0.2-1.7-0.2-2-0.5-1.7-1.8-3-1.4-1.3-1.3-0.7-1.7-0.3-0.6 0.1-0.8 0.6-0.4 1 0 3.6-0.8 1.4-1.7 1.4-1.4 0.7-1 0.1-1-0.1-2-0.9-1.4-0.1-0.9 0.6-0.5 0.6-0.2 1.4 0.1 1.3 1.3 2.7 1.3 1.5 1.3 1.1 3 1.4M68.2 261.7l1.7 0.1 1.4-0.3 1-0.5 0.6-0.7 0.3-0.6-0.1-1.1-2.4-3.3 0-2 0.4-1.4 0.6-1.3 0.9-0.9 1-0.5 2.7-0.8 0.7-0.6 0.3-0.9-0.5-1.7-1.2-1.3-2-1.2-2.3-0.6-2.1-0.1-2 0.2-1.6 0.6-1.7 1.1-1.4 1.3-1.2 1.7-0.7 1.7-0.5 2-0.2 2 0.2 1.7 0.6 1.7 0.9 1.6 1.3 1.4 1.7 1.3 1.6 0.8 2 0.6M145.8 261.7l1.6 0.1 1.7-0.3 2-0.8 1.7-1.1 1.4-1.3 1.1-1.7 0.7-1.6 0.4-1.7 0-2-0.4-2.1-0.8-2-1-1.6-1.3-1.4-1.4-1-1.7-0.8-2-0.4-3 0.1-2.7 0.9-2.1 1.5-0.6 1.1-0.3 1 0.2 1 0.5 0.6 3.6 1.3 1.2 1.1 0.7 1.3 0.3 1.4 0 2-2 2.7-0.4 1.3 0.1 0.7 0.5 0.7 0.8 0.6 1.2 0.4M100.8 229.5l1 0.1 0.7-0.2 0.6-0.6 2.1-2.8 1-0.5 1.6-0.3 1.7 0.1 1.7 0.7 2 2.8 0.7 0.6 1 0.2 1.3-0.5 0.9-1 0.6-1.3 0.4-3.1-0.7-3.3-1.5-2.7-1.3-1.4-1.7-1.1-1.7-0.6-2-0.4-2 0-2 0.4-1.7 0.6-1.7 1.1-1.4 1.4-1 1.7-0.8 2-0.3 2 0 2 0.5 1.7 0.7 1.3 1.3 1.1M84 305.6l1.7 0 1.7-0.4 3.3-1.9 1.1-1 0.9-1.4 0.5-1.3 0-1.4-0.5-1-1-0.6-1 0-1.7 0.6-1.3 0.2-2.3-1-1.7-1.4-0.7-1.1-0.1-3-0.4-1-0.8-0.7-1.4-0.1-1 0.4-1 0.7-1.6 2.3-0.9 3.4 0.2 3 1 2.4 2 2.2 2.3 1.4 2.7 0.7M131 305.6l2.7-0.2 2.7-1.2 2.3-2.1 1.5-2.5 0.3-1.4 0.1-1.6-0.7-3.4-0.6-1.3-0.9-1.4-1-0.8-1-0.5-1.4-0.1-1.1 0.8-0.4 1-0.1 3-0.7 1.1-1.7 1.4-1.3 0.8-1.4 0.2-2.3-0.7-1-0.1-1.1 0.3-0.7 1-0.1 1 0.2 1.4 0.6 1.2 1.1 1.2 1.3 1.1 1.7 1 3 0.8M68.9 261l1.3 0 1-0.3 0.7-0.6 0.4-0.8-0.1-1.3-1.2-1.7-0.6-1.3 0.1-2.1 0.9-2.3 1.2-1.3 2.9-1.1 0.9-1.3-0.3-1.3-0.8-1-1.4-0.9-1.6-0.5-1.7-0.1-2 0.2-2 0.5-1.5 0.7-1.2 1.1-1.2 1.6-0.8 1.7-0.5 1.7-0.2 1.7 0.2 1.6 0.5 1.7 0.9 1.4 1.1 1.3 1.7 1.4 1.6 0.9 1.7 0.4M146.4 261l1.7-0.1 1.6-0.6 1.6-1 1.4-1.3 1.3-1.7 0.7-1.3 0.4-1.7 0-1.7-0.4-2-0.6-1.7-1.1-1.7-1.2-1.2-1.3-0.9-1.7-0.6-2-0.4-2 0-2.1 0.5-1.6 0.9-0.8 1.1-0.3 1.3 0.8 1.3 3.3 1.3 1.2 1.8 0.5 1.6 0.2 2.1-0.6 1.3-1.1 1.3-0.3 1.4 0.1 0.7 0.5 0.6 0.8 0.5 1 0.2M100.8 228.5l0.7 0.2 1-0.1 1-0.7 1.7-2.3 1.3-0.5 1.7-0.1 1.7 0.1 1.3 0.5 1.7 2.3 1 0.7 1 0.1 0.7-0.2 1.2-1.4 0.5-2.4-0.4-2.3-1.2-2.7-0.9-1.3-1.3-1.2-1.3-0.8-1.7-0.6-1.7-0.2-2 0-1.6 0.4-1.7 0.7-1.3 1-1.2 1.3-1.1 2.1-0.6 2-0.2 1.6 0.2 1.7 0.7 1.4 0.8 0.7M83.7 304l2 0.1 4.4-1.9 1-0.8 0.6-0.9 0.4-0.9 0-1-0.4-0.7-1-0.7-2.7 0.7-2-0.1-1.7-0.6-0.8-1-1-2.3-0.2-2.8-1-0.8-1 0-1.4 0.9-1 1.7-0.6 4.3 0.1 1.4 0.8 1.7 1.5 1.6 2 1.4 2 0.7M130.3 304l2 0.1 2.7-1 2.3-1.8 1.4-2 0.3-1.7-0.5-4.4-0.8-1.7-1.3-1.1-1.4-0.1-1 0.8-0.1 2.8-1.1 2.3-0.8 1-1.7 0.6-2 0.1-2.7-0.7-0.7 0.4-0.5 0.6-0.1 1.4 1 1.8 1.3 1 3.7 1.6M68.2 259.7l1 0.2 1-0.1 0.7-0.4 0.5-0.8 0.1-1-1.3-1.5-0.3-0.8-0.5-3 0.7-1.4 1.8-1.7 0.7-0.4 1.9-0.6 0.5-0.6 0.1-1-0.2-0.7-0.6-0.7-1-0.6-2.4-0.2-4.3 1-1.8 1.5-1.4 2.7-0.6 3 0.5 2.4 2.9 3.5 2 1.2M146.1 259.8l1 0.1 1.3-0.3 1.1-0.6 1.1-1 2.5-3 0.4-1.4 0-2-0.4-1.7-0.7-1.7-0.9-1.3-1-1-1.4-0.7-3.3-0.7-1.7-0.1-1 0.2-1.1 0.6-0.6 0.7-0.2 1 0.2 0.7 0.5 0.6 2.2 0.8 1.5 1.3 1.1 1.3 0.2 1-0.5 2.7-1.6 2.7 0.3 1 1 0.8M101.5 227.4l1 0.2 0.6-0.2 1.7-2.1 1.7-1 1.7-0.6 1.7 0.6 1.6 1 1.7 2.1 1.4 0.2 0.8-0.5 0.6-1 0.1-1-0.1-1.4-0.6-1.3-1.8-3-1.1-1.1-1.3-0.6-1.7-0.4-2-0.1-1.7 0.3-1.7 0.6-1 0.7-2.3 3.9-0.5 1.4 0 1.3 0.4 1.4 0.8 0.6"/>
<g fill="none" stroke="#e8e8f0" stroke-opacity=".3" stroke-width=".5"><circle cx="108.2" cy="240.7" r="4.3"/><circle cx="94.3" cy="245.2" r="4.3"/><circle cx="85.7" cy="257.0" r="4.3"/><circle cx="85.7" cy="271.7" r="4.3"/><circle cx="94.3" cy="283.5" r="4.3"/><circle cx="108.2" cy="288.0" r="4.3"/><circle cx="122.1" cy="283.5" r="4.3"/><circle cx="130.6" cy="271.7" r="4.3"/><circle cx="130.6" cy="257.0" r="4.3"/><circle cx="122.1" cy="245.2" r="4.3"/></g>
</g>
<circle cx="108.17" cy="264.35" r="67.30" fill="none" stroke="#333" stroke-width=".5"/>
<rect x="32.75" y="190.60" width="150.85" height="147.50" fill="none" stroke="#7c7c7c" stroke-width=".95"/>
<path d="M32.75 331.48h1.8M183.60 331.48h-1.8M32.75 318.05h1.8M183.60 318.05h-1.8M32.75 304.62h1.8M183.60 304.62h-1.8M32.75 291.20h1.8M183.60 291.20h-1.8M32.75 277.78h1.8M183.60 277.78h-1.8M32.75 264.35h1.8M183.60 264.35h-1.8M32.75 250.93h1.8M183.60 250.93h-1.8M32.75 237.50h1.8M183.60 237.50h-1.8M32.75 224.08h1.8M183.60 224.08h-1.8M32.75 210.65h1.8M183.60 210.65h-1.8M32.75 197.23h1.8M183.60 197.23h-1.8M54.47 190.60v1.8M54.47 338.10v-1.8M108.17 190.60v1.8M108.17 338.10v-1.8M161.88 190.60v1.8M161.88 338.10v-1.8" stroke="#777" stroke-width=".7" fill="none"/>
<g class="t">
<text x="4.1" y="195.1">mm</text>
<text x="31.1" y="335.2" text-anchor="end">-25</text>
<text x="31.1" y="321.8" text-anchor="end">-20</text>
<text x="31.1" y="308.3" text-anchor="end">-15</text>
<text x="31.1" y="294.9" text-anchor="end">-10</text>
<text x="31.1" y="281.5" text-anchor="end">-5</text>
<text x="31.1" y="268.1" text-anchor="end">0</text>
<text x="31.1" y="254.6" text-anchor="end">5</text>
<text x="31.1" y="241.2" text-anchor="end">10</text>
<text x="31.1" y="227.8" text-anchor="end">15</text>
<text x="31.1" y="214.4" text-anchor="end">20</text>
<text x="54.8" y="348.6" text-anchor="middle">-20</text>
<text x="108.2" y="348.6" text-anchor="middle">0</text>
<text x="156.9" y="348.6" textLength="27" lengthAdjust="spacingAndGlyphs">20 mm</text>
<rect x="191.30" y="209.10" width="5.90" height="124.60" fill="url(#jet)"/>
<text x="199.8" y="228.9">0.06</text>
<text x="199.8" y="246.9">0.05</text>
<text x="199.8" y="264.9">0.04</text>
<text x="199.8" y="282.9">0.03</text>
<text x="199.8" y="300.9">0.02</text>
<text x="199.8" y="318.9">0.01</text>
</g>
<text class="cap" x="60.9" y="363.2" textLength="106.8" lengthAdjust="spacingAndGlyphs">(<tspan font-weight="bold">i</tspan>) CICC (5 strands)</text>
</g>
<g id="pj">
<clipPath id="cj"><circle cx="346.35" cy="263.65" r="67.30"/></clipPath>
<g clip-path="url(#cj)">
<g filter="url(#bl)">
<rect x="276.1" y="193.3" width="140.6" height="140.6" fill="#000084"/>
<path fill="#000096" d="M276.9 333.5l139.3 0 0-139.7-139.7 0 0 139.7zM344.5 279.4l-3.1-0.6-3-1.4-2.4-1.7-2.1-2.2-1.6-2.5-1.1-2.7-0.6-3 0-3.5 0.6-3.1 1.4-3 1.7-2.4 2.2-2.1 2.5-1.6 2.7-1.1 3-0.6 3.5 0 3.1 0.6 3 1.4 2.4 1.7 2.1 2.2 1.6 2.5 1.1 2.7 0.6 3 0 3.5-0.6 3.1-1.4 3-1.7 2.4-2.2 2.1-2.5 1.6-2.7 1.1-3 0.6zM346.2 234.5l0.2-0.4 0.1 0.4-0.1 0.1z"/>
<path fill="#0000a8" d="M276.9 333.5l139.3 0 0-139.7-139.7 0 0 139.7zM346.2 293.2l-0.1-0.4 0.3-0.2 0.2 0.2-0.1 0.4zM345.1 281.1l-3.4-0.6-3.1-1.1-3-1.9-2.5-2.4-1.9-2.7-1.5-3.4-0.7-3.3-0.1-3.4 0.7-3.6 1.2-3.1 1.8-2.8 2.3-2.4 2.7-1.9 3.4-1.5 3.3-0.7 3.4-0.1 3.6 0.7 3.1 1.2 2.8 1.8 2.4 2.3 1.9 2.7 1.5 3.4 0.7 3.3 0.1 3.4-0.7 3.6-1.2 3.1-1.8 2.8-2.3 2.4-2.7 1.9-3.4 1.5-3.3 0.7zM320.7 278.4l0.3-0.3 0.3 0-0.1 0.3-0.4 0.1zM371.5 278.4l0-0.4 0.5 0.4-0.1 0.1zM321 249.2l-0.3-0.3 0.1-0.1 0.4 0.1 0.1 0.3zM371.4 249.2l0.1-0.3 0.4-0.1 0.1 0.1-0.3 0.3zM346.1 234.5l0.3-0.5 0.2 0.5-0.2 0.2z"/>
<path fill="#0000bb" d="M276.9 333.5l139.3 0 0-139.7-139.7 0 0 139.7zM346.1 293.2l-0.1-0.4 0.4-0.4 0.3 0.4-0.1 0.4-0.2 0.2zM343.8 282.1l-3.5-0.8-3.3-1.6-3.1-2.2-2.5-2.8-1.9-3-1.3-3.7-0.5-3.3 0.2-3.7 0.8-3.4 1.6-3.3 2.2-3.1 2.8-2.5 3-1.9 3.7-1.3 3.3-0.5 3.7 0.2 3.4 0.8 3.3 1.6 3.1 2.2 2.5 2.8 1.9 3 1.3 3.7 0.5 3.3-0.2 3.7-0.8 3.4-1.6 3.3-2.2 3.1-2.8 2.5-3 1.9-3.4 1.2-3.6 0.6zM320.6 278.4l0.2-0.4 0.4-0.1 0.2 0.2-0.2 0.4-0.4 0.1zM371.4 278.4l-0.1-0.3 0.2-0.2 0.4 0.1 0.2 0.4-0.2 0.2zM320.8 249.2l-0.2-0.3 0.2-0.2 0.5 0.2 0.1 0.3-0.2 0.2zM371.3 249.2l0.2-0.4 0.4-0.1 0.2 0.2-0.2 0.4-0.4 0.1zM346.2 234.8l-0.2-0.3 0.4-0.6 0.3 0.6-0.2 0.3z"/>
<path fill="#0000cd" d="M276.9 333.5l139.3 0 0-139.7-139.7 0 0 139.7zM346 293.2l0-0.6 0.4-0.3 0.3 0.3 0 0.6-0.3 0.3zM343.4 283.1l-3.8-0.9-3.3-1.7-3-2.2-2.7-2.9-2.1-3.4-1.3-3.7-0.5-3.6 0.2-4.1 0.9-3.7 1.6-3.3 2.3-3 2.9-2.7 3.4-2 3.7-1.4 3.6-0.5 4.1 0.2 3.7 0.9 3.5 1.8 3.1 2.3 2.4 2.7 2.1 3.4 1.3 3.7 0.5 3.6-0.2 4.1-0.9 3.7-1.6 3.3-2.3 3-2.9 2.7-3.4 2-3.7 1.4-3.6 0.5zM320.5 278.4l0.3-0.5 0.4-0.1 0.4 0.3-0.4 0.6-0.4 0zM371.3 278.4l-0.2-0.3 0.4-0.3 0.4 0.1 0.3 0.5-0.3 0.3zM320.6 249.2l-0.1-0.3 0.3-0.3 0.4 0 0.4 0.6-0.4 0.3zM371.1 249.2l0.4-0.6 0.4 0 0.3 0.3-0.3 0.5-0.4 0.1zM346.1 234.8l-0.1-0.7 0.4-0.3 0.3 0.3 0.1 0.4-0.4 0.5z"/>
<path fill="#0000df" d="M276.9 333.5l139.3 0 0-139.7-139.7 0 0 139.7zM346.2 293.5l-0.4-0.7 0.6-0.6 0.5 0.6-0.2 0.6zM343 284.1l-3.7-1-4-2.1-3.5-2.6-2.6-3-1.8-3.4-1.2-3.7-0.5-4.3 0.4-4.4 1-3.7 1.9-3.7 2.5-3 2.8-2.3 3.7-2.1 3.7-1.4 4-0.5 4 0.3 3.7 1 4 2.1 3.5 2.6 2.6 3 1.8 3.4 1.2 3.7 0.5 4.3-0.4 4.4-1 3.7-1.9 3.7-2.5 3-2.8 2.3-3.7 2.1-3.7 1.4-4 0.5zM320.6 278.8l-0.2-0.4 0.1-0.3 0.3-0.3 0.7 0 0.2 0.3-0.2 0.4-0.3 0.3zM371.5 278.8l-0.5-0.7 0.2-0.3 0.7 0 0.4 0.6-0.2 0.4zM321.1 249.6l-0.6-0.4-0.1-0.3 0.4-0.4 0.4 0 0.5 0.7-0.2 0.3zM371.4 249.6l-0.4-0.4 0.2-0.4 0.3-0.3 0.7 0.1 0.1 0.3-0.1 0.3-0.3 0.3zM345.9 234.8l0-0.7 0.3-0.3 0.3 0 0.3 0.3 0 0.7-0.4 0.3z"/>
<path fill="#0000ed" d="M276.9 333.5l139.3 0 0-139.7-139.7 0 0 139.7zM346 293.5l-0.3-0.7 0.3-0.6 0.4-0.2 0.5 0.5 0.1 0.7-0.6 0.5zM344 285.5l-3.7-1.1-4.9-2.3-4.3-3-2.6-2.7-1.8-3-1.1-3-0.6-4.7 0-4.4 0.5-4 1-3.2 1.7-2.9 2.5-2.7 4.1-3 4.7-2.3 4.2-1.3 2-0.2 2 0 2 0.3 2 0.6 5 2.3 4 2.6 2 1.7 1.2 1.4 2 3 1.2 3.3 0.6 4.7 0 4.4-0.6 4.4-1.2 3.3-2 3-2.7 2.7-4.5 3-5 2.3-3.7 0.9-2 0zM320.4 278.8l-0.1-0.4 0.2-0.5 0.7-0.3 0.5 0.1 0.1 0.4-0.4 0.7-0.6 0.1zM371.3 278.8l-0.4-0.7 0.1-0.4 0.5-0.1 0.7 0.3 0.2 0.5-0.2 0.4-0.3 0.1zM320.7 249.6l-0.4-0.7 0.1-0.4 0.8-0.1 0.5 0.5 0 0.7-0.5 0.1zM371 249.6l-0.1-0.4 0.4-0.7 0.6-0.1 0.4 0.1 0.1 0.4-0.2 0.5-0.7 0.3zM346.1 235.1l-0.4-0.6 0-0.4 0.7-0.5 0.3 0.2 0.3 0.7-0.3 0.6-0.3 0.2z"/>
<path fill="#0000ff" d="M276.9 333.5l139.3 0 0-139.7-139.7 0 0 139.7zM345.8 293.5l-0.2-0.7 0.4-0.8 0.4-0.3 0.6 0.8 0.1 0.7-0.2 0.3-0.5 0.2zM344.1 286.5l-4.1-1.4-5.4-2.6-4.7-3.4-2.7-2.7-1.4-2.3-0.9-3.3-0.7-5.1 0-4.1 0.6-4.7 0.7-3 1.4-2.6 1.9-2.1 4.7-3.7 4.2-2.3 5.3-2.1 2-0.4 2-0.1 1.7 0.2 2.3 0.7 3.3 1.3 2.7 1.4 4.5 3 2.1 1.7 1.5 1.6 1.7 2.6 0.9 2.8 0.7 5.4 0.1 4.4-0.6 5-0.9 3-1.5 2.7-2.3 2.4-5.1 3.6-5.4 2.7-2.7 1-2 0.5-2 0.1zM320.4 278.8l-0.1-0.7 0.2-0.4 0.7-0.2 0.8 0.2-0.5 1.2-0.7 0.1zM371.1 278.8l-0.4-1.1 0.8-0.2 0.8 0.2 0.2 0.7-0.3 0.5-0.7 0.2zM320.4 249.6l-0.2-0.7 0.3-0.5 0.3-0.1 0.7 0.1 0.5 0.8 0 0.4-0.5 0.2-0.7 0zM370.7 249.6l0.5-1.2 0.7-0.1 0.4 0.2 0.1 0.7-0.2 0.4-0.7 0.2zM346.2 235.5l-0.6-1 0.2-0.7 0.6-0.2 0.5 0.2 0.2 0.7-0.4 0.8-0.3 0.3z"/>
<path fill="#0000ff" d="M276.9 333.5l139.3 0 0-139.7-139.7 0 0 139.7zM345.7 293.5l-0.3-0.3 0.1-0.7 0.5-0.8 0.4-0.2 0.3 0.2 0.5 0.8 0.1 0.7-0.3 0.3-0.6 0.3zM344.1 287.1l-4.1-1.3-5.4-2.7-4.8-3.3-2.9-2.7-1.7-2.7-0.8-2.7-0.7-5.4 0-4.7 0.5-4.8 0.7-2.9 1.3-2.8 2-2.2 4.8-3.7 4.7-2.7 5.3-2.1 2-0.4 2 0 1.7 0.2 2.2 0.6 6.1 2.7 5.1 3.4 2 1.6 1.7 1.7 1.7 2.7 0.8 2.7 0.7 5.4 0 4.7-0.5 4.8-0.8 3.2-1.4 2.7-2.2 2.4-5.4 4-2.4 1.3-3.6 1.7-4.3 1.4-2 0.2zM320.7 279.1l-0.6-0.7 0.1-0.7 0.6-0.3 1.4 0.1 0 0.6-0.4 0.7-0.6 0.4zM371.2 279.1l-0.7-1 0-0.6 0.7-0.2 1 0.2 0.4 0.6-0.2 0.7-0.5 0.4zM320.7 249.9l-0.5-0.3-0.1-0.7 0.4-0.6 0.7-0.2 0.6 0.4 0.5 1.1-0.1 0.2-0.4 0.2zM370.6 249.9l-0.2-0.3 0.1-0.4 0.7-1 0.7-0.1 0.5 0.4 0.2 0.7-0.4 0.6-0.7 0.2zM346.2 235.8l-0.3-0.3-0.5-1 0.3-0.7 0.7-0.3 0.6 0.3 0.3 0.7-0.6 1.1z"/>
<path fill="#0010ff" d="M276.9 333.5l139.3 0 0-139.7-139.7 0 0 139.7zM346.2 293.9l-0.7-0.4-0.3-0.7 0.5-1 0.7-0.5 0.6 0.5 0.5 1-0.3 0.7zM345.9 287.8l-1.9-0.2-1.7-0.5-6.4-2.6-4.7-3.1-2.6-2-1.7-1.6-1.7-2.4-1-2.7-0.8-4.7-0.3-4.7 0.4-5.3 0.8-3.7 1.2-2.9 2-2.5 4.6-3.7 4.5-2.7 5.7-2.4 2.4-0.5 2-0.1 1.7 0.1 2 0.6 6.4 2.6 4.3 2.8 4.4 3.6 2 2.7 1 2.6 0.8 4.8 0.3 4.7-0.4 5.3-0.8 3.7-1.2 2.9-2 2.5-4.6 3.7-4.5 2.7-5.7 2.4-2.4 0.5zM320.5 279.1l-0.3-0.3-0.2-0.7 0.3-0.7 1.2-0.3 0.9 0.3 0 0.7-0.7 1-0.5 0.3zM371 279.1l-0.7-1 0-0.7 0.9-0.3 1.2 0.3 0.3 0.7-0.2 0.7-0.6 0.5-0.4 0.1zM320.3 249.9l-0.3-0.7 0.2-0.7 0.6-0.5 0.7 0 0.9 1.2 0 0.7-0.9 0.3zM370.3 249.9l0-0.7 0.9-1.2 0.7 0 0.6 0.5 0.1 1.1-0.4 0.4-1.3 0.1zM345.9 235.8l-0.6-1 0-0.7 0.2-0.3 0.5-0.3 0.7 0 0.7 0.5 0 0.8-0.7 1.1-0.3 0.1z"/>
<path fill="#0024ff" d="M276.9 333.5l139.3 0 0-139.7-139.7 0 0 139.7zM345.8 293.9l-0.6-0.4-0.1-1 0.5-1 0.8-0.4 0.6 0.4 0.3 0.3 0.3 1.4-0.1 0.3-0.6 0.4-0.5 0.1zM345.5 288.2l-3.5-0.7-6.4-2.7-2.3-1.3-2.4-1.7-4-3.5-1.7-2.2-1.3-3.1-1-5.3-0.3-4.7 0.5-5.1 0.8-3.6 1.3-3.1 2.1-2.7 5-4 4-2.3 3.9-1.7 2.5-0.9 2.3-0.4 2-0.1 1.7 0.2 2 0.5 6.4 2.7 2.3 1.3 2.4 1.7 4 3.5 1.7 2.2 1.3 3.1 1 5.3 0.3 4.7-0.6 5.4-0.8 3.7-0.5 1.4-1 1.8-2.1 2.4-5 4-4.4 2.5-3.2 1.3-3 1-2.1 0.3zM320.7 279.4l-0.8-1 0-0.7 0.2-0.3 1.1-0.4 0.6 0 0.7 0.3 0.1 0.8-0.6 1-0.8 0.5zM371.1 279.4l-0.9-1-0.1-1 0.8-0.4 1.3 0.1 0.6 0.6-0.2 1.1-0.7 0.7zM320.6 250.2l-0.4-0.2-0.3-0.4 0-0.7 0.6-0.9 0.7-0.3 0.6 0.4 0.5 0.4 0.3 0.7 0 0.7-0.8 0.4zM370.5 250.2l-0.4-0.3 0.1-1 1-1.1 0.7 0 0.7 0.7 0.2 1.1-0.3 0.4-0.6 0.3zM346.1 236.1l-0.7-0.6-0.3-1.4 0.1-0.3 0.5-0.3 1-0.1 0.8 0.4 0.1 1-0.6 1-0.6 0.4z"/>
<path fill="#0038ff" d="M276.9 333.5l139.3 0 0-139.7-139.7 0 0 139.7zM345.1 293.9l-0.4-0.7 0.4-1.4 0.9-0.9 0.7 0 0.7 0.6 0.4 0.7 0.2 0.6-0.1 0.7-0.5 0.5-0.7 0.1zM344.5 288.5l-1.8-0.4-3.1-1-5.3-2.3-4.4-3.1-3.7-3.5-2-3.1-1-2.8-1-5.9-0.1-4.1 0.7-5.7 1.1-3.6 1.6-3.1 2.2-2.4 4.6-3.7 2-1.3 2-1 3.3-1.3 3.1-1.1 2.3-0.3 2.4-0.1 3.8 0.8 3.6 1.3 3 1.4 4 2.6 4.4 3.9 1.2 1.5 1 1.7 1.1 3 1 6 0.1 4.1-0.7 5.7-1.1 3.6-1.7 3.1-2.6 2.9-5.1 3.9-2 1.1-2.6 1.2-3.6 1.3-2.2 0.6-2 0.2zM320.7 279.8l-0.5-0.6-0.6-1.1 0.2-1 1.4-0.4 1.3 0.3 0.4 0.4 0 0.3-0.4 1.2-1 1zM370.9 279.8l-1-1.4-0.1-0.7 0.2-0.6 0.9-0.4 0.6 0 1.4 0.4 0.2 0.3 0 0.7-0.6 1.1-0.6 0.6-0.7 0.1zM320.6 250.6l-0.8-0.4-0.2-1 0.9-1.5 0.3-0.2 0.7-0.1 1 1 0.4 0.8 0 0.7-0.2 0.3-0.7 0.4zM370.7 250.6l-0.7-0.4-0.2-0.3 0.1-1 1-1.3 0.3-0.2 0.7 0.1 0.9 1 0.3 0.7 0 0.7-0.6 0.6-1 0.1zM346.3 236.5l-0.6-0.3-0.6-0.7-0.4-1 0.1-0.7 0.9-0.5 1.7 0 0.5 0.5 0 1-0.5 1-0.7 0.6z"/>
<path fill="#0050ff" d="M276.9 333.5l139.3 0 0-139.7-139.7 0 0 139.7zM345.3 294.2l-1-0.5 0-0.9 0.7-1.3 1-1.3 0.4-0.2 0.3 0.2 1.2 1.6 0.5 1 0.1 0.7-0.3 0.4-0.8 0.3zM344.2 288.8l-5-1.3-3.3-1.3-2-1-3.7-2.7-4-3.7-1.1-1.4-1-1.7-1.2-3.2-1.2-5.8-0.2-4.1 0.8-5.7 1.2-4.1 1.6-2.9 2.5-2.8 4.7-3.9 3.3-2 3.6-1.4 3.3-1 2.5-0.4 2-0.1 4.4 0.8 3.9 1.4 2.8 1.2 3.4 2.2 4.7 4.2 2.1 2.8 1.4 3.4 1.3 6 0.2 2.3 0 2.1-1 6.3-1.3 4.1-1.6 2.6-3.2 3.4-4.7 3.7-1.7 1-2.4 1-3.9 1.4-2.7 0.6-2 0.2zM321.4 280.4l-1.1-0.6-0.6-1-0.4-1.1 0.1-1 0.4-0.2 1.4-0.1 2.3 0.3 0.1 0.4-0.9 2-0.9 1.2zM371.1 280.4l-0.4-0.3-0.7-1-0.8-1.8 0-0.5 2.3-0.4 1.7 0.3 0.2 0.4 0 0.6-0.4 1.1-0.8 1.1zM320.7 250.9l-1.3-0.3 0-1.4 0.9-1.7 1.2-0.7 0.3 0.2 0.7 0.9 1.1 2.3-0.1 0.4-0.3 0.1zM371.3 250.9l-1.8-0.2-0.3-0.1-0.1-0.4 1.1-2.3 0.7-0.9 0.3-0.2 0.7 0.3 0.7 0.8 0.6 1 0.2 1-0.2 0.7-0.7 0.3zM346 237.1l-1.3-1.8-0.4-0.8-0.1-0.7 0.3-0.4 1.2-0.4 1.3 0 1.2 0.4 0.3 0.4 0 0.3-0.6 1.4-1.2 1.7-0.3 0.1z"/>
<path fill="#0068ff" d="M276.9 333.5l139.3 0 0-139.7-139.7 0 0 139.7zM345.6 294.5l-1.3-0.3-0.4-0.7 0.1-0.7 1.1-2 0.3-1.3-6.4-1.7-3.4-1.1-2-0.9-1.7-1.2-2.7-2.4-4.7-4.7-0.3 0-0.7 0.8-1.3 2.1-0.6 0.4-0.8-0.2-1-1.2-0.6-1-0.2-1 0.2-0.9 0.6-0.3 2.4-0.1 1.3-0.4-1.9-7-0.6-3-0.2-2.1 0.2-2 0.6-3 1.9-7-1.3-0.4-2.7-0.2-0.3-0.2-0.3-0.6 0.3-1.3 0.6-1 1.4-1.4 0.4 0 0.5 0.4 1.4 2.1 0.7 0.8 0.3 0 4.7-4.7 2.7-2.4 1.7-1.2 2-0.9 3.4-1.1 6.4-1.7-0.3-1.3-1.1-2-0.1-0.7 0.5-0.7 1.3-0.3 1 0 1.7 0.3 0.4 0.7-0.1 0.7-1.1 2-0.3 1.3 6.4 1.7 3.4 1.1 2 0.9 1.7 1.2 2.7 2.4 4.7 4.7 0.3 0 0.7-0.8 1.3-2.1 0.6-0.4 0.8 0.2 1 1.2 0.6 1 0.2 1-0.2 0.9-0.6 0.3-2.4 0.1-1.3 0.4 1.9 7 0.6 3 0.2 2-0.2 2.1-0.6 3-1.9 7 1.3 0.4 2.7 0.2 0.3 0.2 0.3 0.6-0.3 1.3-0.6 1-1.4 1.4-0.4 0-0.5-0.4-1.4-2.1-0.7-0.8-0.3 0-4.7 4.7-2.7 2.4-1.7 1.2-2 0.9-3.4 1.1-6.4 1.7 0.3 1.3 1.1 2 0 1.1-0.3 0.3-1 0.3z"/>
<path fill="#0080ff" d="M276.9 333.5l139.3 0 0-139.7-139.7 0 0 139.7zM344.3 294.5l-0.4-0.3-0.3-0.7 0.9-2.3 0.2-1.4-0.4-0.2-8.7-2.3-2.3-1-2.1-1.5-6.3-6.5-0.4-0.1-1 0.7-1.3 1.8-0.7 0.3-1-0.2-1.3-1.9-0.6-1.5 0.3-1 0.6-0.4 2.3-0.3 0.9-0.3 0.2-0.3-2.4-8.8-0.3-2.7 0.3-2.6 2.4-8.8-0.2-0.3-1.2-0.4-2.3-0.4-0.5-0.5-0.1-0.7 0.5-1.4 0.6-1 1.1-1.1 0.7-0.1 0.6 0.2 1.4 1.9 1 0.7 0.4-0.1 6.3-6.5 2.1-1.5 2.3-1 8.7-2.3 0.4-0.2-0.1-1-1-2.4 0.1-0.7 0.6-0.6 1.4-0.3 1.3 0 1.4 0.3 0.6 0.8 0.1 0.5-0.9 2-0.2 1.4 0.4 0.2 8.7 2.3 2.3 1 2.1 1.5 6.3 6.5 0.4 0.1 1-0.7 1.3-1.8 0.7-0.3 1 0.2 1 1.4 0.9 2-0.3 1-0.6 0.4-2.3 0.3-0.9 0.3-0.2 0.3 2.4 8.8 0.3 2.6-0.3 2.7-2.4 8.8 0.2 0.3 1.2 0.4 2.3 0.4 0.5 0.5 0.1 0.7-0.5 1.4-0.6 1-0.8 1-0.7 0.2-0.9-0.2-1.4-1.9-1-0.7-0.4 0.1-6.3 6.5-2.1 1.5-2.3 1-8.4 2.1-0.7 0.4 0.2 1.4 0.9 2-0.1 0.7-0.6 0.6-1.7 0.3z"/>
<path fill="#0094ff" d="M276.9 333.5l139.3 0 0-139.7-139.7 0 0 139.7zM344.5 294.9l-0.8-0.7-0.3-0.7 0.7-2 0.1-1.3-0.2-0.4-8.4-1.9-2.7-1.1-2.2-1.7-5.8-6.3-0.4-0.1-1 0.7-1.3 1.6-0.7 0.2-1-0.2-1.1-1.2-1-2.1 0-0.6 0.3-0.7 0.8-0.6 1.7-0.2 1.1-0.5 0.2-0.4-2.6-8.4-0.3-2.7 0.3-2.6 2.6-8.4-0.2-0.4-1.1-0.5-2-0.3-0.7-0.8-0.1-0.7 0.1-0.7 0.9-1.7 0.7-1 0.5-0.3 0.6-0.1 0.8 0.1 1.5 1.7 1 0.7 0.4-0.1 5.8-6.3 2.2-1.7 2.7-1.1 8.4-1.9 0.2-0.4-0.1-1.3-0.7-1.7 0.3-1 0.3-0.4 0.7-0.3 2.3-0.1 1.4 0.2 0.8 0.9 0.1 0.7-0.8 2 0 1 0.2 0.4 8.4 1.9 2.7 1.1 2.2 1.7 5.8 6.3 0.4 0.1 1-0.7 1.3-1.6 0.7-0.2 1 0.2 1.1 1.2 1 2.1 0 0.6-0.3 0.7-0.8 0.6-1.7 0.2-1.1 0.5-0.2 0.4 2.6 8.4 0.3 2.6-0.3 2.7-2.6 8.4 0.2 0.4 1.1 0.5 2 0.3 0.7 0.8 0.1 0.7-0.1 0.7-0.9 1.7-0.7 1-0.5 0.3-0.6 0.1-0.8-0.1-1.5-1.7-1-0.7-0.4 0.1-5.8 6.3-2.2 1.7-2.7 1.1-8.4 1.9-0.2 0.4 0.1 1.3 0.7 1.7-0.1 0.7-0.4 0.6-1.1 0.5z"/>
<path fill="#00acff" d="M285.6 333.3l0.2 0.2 121.1 0 4.8-4.4 4.5-4.7 0-121.5-3.7-3.9-4.1-3.8-1.5-1.4-121.1 0-4.8 4.4-4.5 4.7 0 121.5 4.4 4.6zM344.7 295.2l-1-0.7-0.5-1 0.6-2 0.1-1-0.2-0.4-4.1-1-4.3-0.7-2.7-1-2.4-1.9-2.6-3.4-2.7-2.9-0.7 0.1-1 0.8-0.8 1-0.9 0.3-1.3-0.3-0.4-0.3-0.9-1.4-0.7-1.6 0.3-1.5 0.7-0.6 1.6-0.3 0.8-0.3 0.5-0.4 0.1-0.3-1.4-4.2-1.4-3.5-0.5-3.1 0.5-3 1.4-3.5 1.4-4.2-0.1-0.3-0.9-0.6-2-0.4-0.4-0.3-0.5-0.7-0.1-1 0.3-0.9 1.3-2.2 1-0.6 0.7 0 0.7 0.2 1.3 1.4 1 0.7 0.4-0.1 2.7-2.9 3-3.7 1.3-1.1 1.4-0.8 2.3-0.8 4-0.6 4.1-1 0.2-0.4-0.1-1-0.6-1.7 0.1-0.7 0.4-0.6 1-0.7 2.7-0.1 0.6 0.1 0.7 0.4 0.7 0.9 0.1 0.7-0.6 1.7-0.1 1 0.2 0.4 4.1 1 4.3 0.7 2.7 1 2.4 1.9 2.6 3.4 2.7 2.9 0.7-0.1 1-0.8 0.8-1 0.9-0.3 1.3 0.3 0.4 0.3 0.9 1.4 0.7 1.6-0.3 1.5-0.7 0.6-1.6 0.3-0.8 0.3-0.5 0.4-0.1 0.3 1.4 4.2 1.4 3.5 0.5 3-0.5 3.1-1.4 3.5-1.4 4.2 0.1 0.3 0.9 0.6 2 0.4 0.4 0.3 0.5 0.7 0.1 1-0.3 0.9-1.3 2.2-1 0.6-0.7 0-0.7-0.2-1.3-1.4-1-0.7-0.4 0.1-2.7 2.9-3 3.7-1.3 1.1-1.4 0.8-2.3 0.8-4 0.6-4.1 1-0.2 0.4 0.1 1 0.6 1.7-0.1 0.7-0.4 0.6-0.6 0.5-0.7 0.3z"/>
<path fill="#00c4ff" d="M296.3 333.3l0.3 0.2 99.5 0 5.6-4.3 5.4-4.8 4.8-5 4.3-5.4 0-100.7-4-5-4.4-4.7-4.8-4.4-5.3-4.2-1.6-1.2-99.5 0-5.6 4.3-5.4 4.8-4.8 5-4.3 5.4 0 100.7 4.3 5.4 4.8 5 5 4.5zM345.2 295.5l-1.2-0.5-0.5-0.5-0.4-0.6-0.1-0.7 0.5-1.4 0.1-1-0.3-0.6-3.7-0.8-4.3-0.4-1.7-0.5-1.3-0.6-2.4-2-2.7-3.8-2.3-2.6-0.7 0.1-1.7 1.6-1 0.4-0.7-0.1-1-0.4-1-1.3-0.8-1.7 0-1 0.3-0.7 0.9-0.9 1.6-0.4 0.8-0.4 0.2-0.3-1-3.3-2-4.4-0.5-3.1 0.5-3 2-4.4 1-3.3-0.2-0.3-0.8-0.4-2-0.6-0.6-0.9-0.2-1.1 0.2-0.9 1-1.8 0.6-0.7 1-0.4 1.4 0.1 1.7 1.6 0.6 0.3 0.4 0 2.3-2.6 2.9-4 1.5-1.3 1.3-0.8 2.7-0.9 4-0.3 3.7-0.8 0.3-0.6-0.1-1-0.5-1.4 0.3-1 1-1.1 0.7-0.2 1.4-0.1 1.3 0.1 0.7 0.2 1 1.1 0.3 1-0.5 1.4-0.1 1 0.3 0.6 3.3 0.7 4.7 0.5 1.7 0.5 1.3 0.6 2.4 2 2.7 3.8 2.3 2.6 0.7-0.1 1.7-1.6 1-0.4 0.7 0.1 1 0.4 1 1.3 0.8 1.7 0 1-0.3 0.7-0.9 0.9-1.6 0.4-0.8 0.4-0.2 0.3 1 3.3 2 4.4 0.5 3-0.5 3.1-2 4.4-1 3.3 0.2 0.3 0.8 0.4 2 0.6 0.6 0.9 0.2 1.1-0.2 0.9-1 1.8-0.6 0.7-1 0.4-1.4-0.1-1.7-1.6-0.6-0.3-0.4 0-2.3 2.6-2.9 4-1.5 1.3-1.3 0.8-2.7 0.9-4 0.3-3.7 0.8-0.3 0.3 0 0.7 0.6 2.3-0.5 1-0.7 0.7-0.8 0.3z"/>
<path fill="#00dcfe" d="M307.1 333.2l0.4 0.3 77.7 0 4.8-2.9 4.7-3.2 4.3-3.4 4.1-3.6 3.9-4.1 3.4-4 2.9-4 2.9-4.5 0-80.3-2.9-4.5-2.9-4-3.3-3.9-3.7-3.9-4-3.6-4.4-3.4-4.7-3.3-5-3-77.8-0.1-4.8 2.9-4.7 3.2-4.3 3.4-4.1 3.6-3.9 4.1-3.4 4-2.9 4-2.9 4.5 0 80.3 2.9 4.5 2.9 4 3.3 3.9 3.7 3.9 4 3.6 4.4 3.4 4.7 3.3zM344.5 295.5l-0.9-0.6-0.6-1-0.1-1.1 0.4-1.6 0-0.4-0.3-0.4-3-0.6-4.4-0.2-2.7-0.7-1.7-1-1.5-1.4-1.1-1.5-1.8-2.9-1.9-2.2-0.7 0-1.7 1.5-1 0.4-0.7-0.1-1-0.4-0.6-0.5-0.7-1-0.7-1.7 0.1-1 0.3-0.8 0.9-0.9 2.1-0.7 0.3-0.3 0-0.3-1-3-1.6-2.8-0.7-1.6-0.4-2 0-2.1 0.7-2.6 2-3.8 1-3 0-0.3-0.3-0.3-2-0.7-0.7-0.4-0.6-0.9-0.1-1 0.4-1.5 0.7-1.2 0.6-0.7 1-0.5 1-0.2 0.7 0.2 2 1.7 0.7 0 1.9-2.2 2.8-4.3 1.3-1.3 1.7-1 2.7-0.9 4.7-0.2 3-0.6 0.3-0.4-0.4-2.4 0.4-1.3 1.2-1 1.9-0.4 1.8 0.4 1.2 1 0.4 1.3-0.4 2.4 0.3 0.4 3 0.6 3.4 0.1 1.7 0.2 2 0.6 1.7 1 2 2 2.1 3.5 2.2 2.5 0.7 0 1.7-1.5 1-0.4 0.7 0.1 1 0.4 0.6 0.5 0.7 1 0.7 1.7-0.1 1-0.3 0.8-0.9 0.9-2.1 0.7-0.3 0.3 0 0.3 1 3 1.6 2.8 0.7 1.6 0.4 2 0 2.1-0.7 2.6-2 3.8-1 3 0 0.3 0.3 0.3 2 0.7 0.7 0.4 0.6 0.9 0.1 1-0.4 1.5-0.7 1.2-0.6 0.7-1 0.5-1 0.2-0.7-0.2-2-1.7-0.7 0-1.9 2.2-2.8 4.3-1.1 1.1-1.2 0.9-1.7 0.8-1.7 0.4-4.7 0.2-3 0.6-0.3 0.4 0 0.4 0.4 2.3-0.2 0.7-0.5 0.7-0.7 0.5-1 0.4-1.4 0z"/>
<path fill="#09f0ee" d="M318.5 333.2l0.5 0.3 54.7 0 7.2-3.5 7.1-4.2 6.7-4.8 5.7-4.9 4.8-5.1 4.3-5.7 3.6-6.1 2.9-6.4 0.2-0.3 0-57.7-0.9-2-2.9-6.1-3.6-5.7-4.2-5.3-4.9-5.1-5.7-4.8-6.4-4.5-6.7-4-7.2-3.5-54.7 0-7.2 3.5-7.1 4.2-6.7 4.8-5.7 4.9-4.8 5.1-4.3 5.7-3.6 6.1-2.9 6.4-0.2 0.3 0 57.7 0.9 2 2.9 6.1 3.6 5.7 4.2 5.3 4.9 5.1 5.5 4.7 6.2 4.4 6.7 4zM345 295.9l-1.3-0.7-0.8-1-0.2-1 0.4-2-0.1-0.5-0.3-0.2-2.7-0.4-4.4 0.1-1.7-0.3-1.3-0.5-1.7-1-1.7-1.6-1.1-1.7-1.6-3-1.6-1.9-0.7 0-1.5 1.2-1.2 0.5-1.3-0.3-1.4-1-1-1.8-0.1-1.1 0.1-1 0.4-0.7 0.6-0.6 1.9-0.7 0.5-0.3 0.1-0.3-0.8-2.4-1.9-3-0.8-1.7-0.6-2-0.1-1.7 0.3-1.7 0.5-1.6 2.6-4.4 0.8-2.4-0.1-0.3-0.5-0.3-1.9-0.7-0.6-0.6-0.4-0.7-0.1-1 0.1-1.1 0.4-1 0.7-1 1.3-0.8 1.3-0.3 1.2 0.5 1.5 1.2 0.7 0 1.6-1.9 2.4-4.3 2-2 1.7-1 2-0.6 2-0.2 3.7 0.1 2.4-0.4 0.3-0.2 0.1-0.5-0.4-2 0.4-1.3 1.2-1.1 1-0.4 1.1-0.1 1 0.1 1 0.4 1.2 1.1 0.4 1.3-0.4 2 0.1 0.5 0.3 0.2 2.4 0.4 3.7-0.1 2 0.2 2 0.6 1.7 1 2 2 2.4 4.3 1.6 1.9 0.7 0 1.5-1.2 1.2-0.5 1.3 0.3 1.3 0.8 0.7 1 0.4 1 0.1 1.1-0.1 1-0.4 0.7-0.6 0.6-1.9 0.7-0.5 0.3-0.1 0.3 0.8 2.4 1.9 3 0.8 1.7 0.6 2 0.1 1.7-0.3 1.7-0.5 1.6-2.6 4.4-0.8 2.4 0.1 0.3 0.5 0.3 1.9 0.7 0.6 0.6 0.4 0.7 0.1 1-0.1 1.1-0.4 1-0.7 1-1.3 0.8-1.3 0.3-1.2-0.5-1.5-1.2-0.7 0-1.6 1.9-2.4 4.3-1 1.2-1.3 1.1-1.7 0.8-2 0.6-2.1 0.1-3-0.1-2.7 0.4-0.3 0.2-0.1 0.5 0.3 2.3-0.5 1.4-0.9 0.6-1.1 0.5-1 0.1z"/>
<path fill="#1cffdb" d="M331.9 333.2l1.1 0.3 26.7 0 6.1-1.8 6.1-2.4 6.3-3.1 6.7-3.8 6.1-4.2 5.4-4.4 4.7-4.7 3.9-4.8 3.4-5.4 2.8-5.7 2.2-6.1 1.6-6.3 1.2-8.1 0-18.1-0.6-4.7-1.3-6.7-1.9-6.1-2.5-6-3.1-5.4-3.7-5.2-4.5-4.8-4.9-4.5-6.1-4.5-7-4.4-7.1-3.6-7-2.9-6.8-2-26.7 0-6.1 1.8-6.4 2.5-6.7 3.3-6.7 4-6.1 4.2-5 4.2-4.5 4.5-4 5.1-3.4 5.3-2.6 5.4-2.2 6.1-1.6 6.3-1.2 8.1 0 18.1 0.5 4 1.3 6.8 1.7 6 2.5 6 3 5.4 3.7 5.4 4.2 4.7 5 4.6 5.7 4.3 6.7 4.3 7.4 3.9 7 3zM345.8 296.2l-1.8-0.6-1-1-0.4-1.1 0.3-2-0.2-0.7-2.1-0.4-4 0.3-2.3-0.2-2-0.6-1.7-0.9-2-2.2-1-1.7-1.3-2.7-1.4-1.8-0.7-0.2-1.7 1.3-1 0.3-1.4-0.2-1.4-1-0.5-0.8-0.6-1.2-0.1-1.1 0.2-1 0.3-0.6 0.6-0.7 2.2-1 0.2-0.7-0.8-1.9-2-2.8-0.9-1.7-0.6-2-0.2-1.7 0.2-1.6 0.6-2 0.9-1.7 2-2.8 0.8-1.9-0.2-0.7-2.2-1-0.6-0.7-0.3-0.6-0.2-1 0.1-1.1 0.6-1.2 0.5-0.8 1.4-1 1.4-0.2 1 0.3 1.7 1.3 0.7-0.2 1.4-1.8 1.3-2.7 1-1.7 2-2.2 2-1.1 2-0.5 2.4-0.1 3.3 0.3 2-0.3 0.6-0.5-0.3-2.3 0.6-1.4 1.3-1 1.9-0.3 1.8 0.3 1.3 1 0.6 1.4-0.3 2.3 0.6 0.5 2 0.3 3.3-0.3 2.4 0.1 2 0.5 2 1.1 2 2.2 1 1.7 1.3 2.7 1.4 1.8 0.7 0.2 1.7-1.3 1-0.3 1.4 0.2 1.4 1 0.5 0.8 0.6 1.2 0.1 1.1-0.2 1-0.3 0.6-0.6 0.7-2.2 1-0.2 0.7 0.8 1.9 2 2.8 0.9 1.7 0.6 2 0.2 1.6-0.2 1.7-0.6 2-0.9 1.7-2 2.8-0.8 1.9 0.2 0.7 2.2 1 0.6 0.7 0.3 0.6 0.2 1-0.1 1.1-0.6 1.2-0.5 0.8-1.4 1-1.4 0.2-1-0.3-1.7-1.3-0.7 0.2-1.4 1.8-1.3 2.7-1 1.7-1 1.2-1.3 1.2-1.7 0.9-2 0.5-2.4 0.1-3.3-0.3-2 0.3-0.6 0.5 0.3 2.3-0.2 0.7-0.5 0.8-0.7 0.6-1 0.4z"/>
<path fill="#30ffc7" d="M342.3 331.1l6.1 0.2 6-0.7 6-1.3 6.1-2.1 7.4-3.3 7.4-4.1 7-4.6 5.7-4.6 4.2-4 3.6-4.4 3.1-4.7 2.4-4.7 1.9-5 1.5-5.7 1.1-6 0.6-7.1 0.1-7.7-0.4-7-0.8-6.4-1.4-6.1-1.8-5.3-2.3-5.1-2.8-4.7-3.6-4.7-4.7-4.8-5.7-4.6-6.7-4.5-7.8-4.4-6.7-3.1-6.3-2.3-6.4-1.5-6.4-0.7-6 0-6.1 0.9-5.7 1.4-6.4 2.3-7 3.4-7.7 4.4-6.4 4.3-5.4 4.4-4.1 4.2-3.5 4.3-3 4.7-2.3 4.7-1.9 5.4-1.4 5.4-0.9 6-0.6 6.4-0.1 7.7 0.4 7 0.8 6.4 1.3 5.7 1.7 5.4 2.3 5 2.9 5 3.4 4.4 4.7 4.9 5.4 4.4 6.3 4.4 7.4 4.3 6.7 3.2 6.4 2.5 6.4 1.7zM345 296.2l-1.3-0.7-0.9-1-0.3-1.3 0.2-1.7-0.4-0.5-2-0.3-3 0.4-2 0.1-1.7-0.2-1.7-0.5-1.7-1-1.6-1.8-1.4-2.2-1.4-3.4-0.9-1.2-0.7-0.2-1.7 1.1-1.3 0.3-1.4-0.3-1.3-1-0.6-1-0.4-1-0.1-1.1 0.1-1 0.7-1.1 0.6-0.5 1.7-0.7 0.2-0.7-0.7-1.7-2.1-2.6-1.1-2.1-0.8-2-0.1-1.7 0.1-1.6 0.8-2 1.1-2.1 2.1-2.6 0.7-1.7-0.2-0.7-1.7-0.7-0.6-0.5-0.7-1.1-0.1-1 0.1-1.1 0.4-1 0.6-1 1.3-1 1.4-0.3 1.3 0.3 1.4 1 0.6 0.1 0.6-0.4 0.7-1 1.4-3.3 1-1.8 1-1.3 1.4-1.2 2-1 2-0.4 2.4 0 3.6 0.4 1.7-0.3 0.4-0.5-0.2-2 0.5-1.4 1.3-1 2.1-0.5 2 0.5 1.3 1 0.5 1.4-0.2 2 0.4 0.5 1.7 0.3 3.6-0.4 2.4 0 2 0.4 2 1 1.4 1.2 1 1.3 1 1.8 1.4 3.3 0.7 1 0.6 0.4 0.6-0.1 1.4-1 1.3-0.3 1.4 0.3 1.3 1 0.6 1 0.4 1 0.1 1.1-0.1 1-0.7 1.1-0.6 0.5-1.7 0.7-0.2 0.7 0.7 1.7 2.1 2.6 1.1 2.1 0.8 2 0.1 1.6-0.1 1.7-0.8 2-1.1 2.1-2.1 2.6-0.7 1.7 0.2 0.7 1.7 0.7 0.6 0.5 0.7 1.2 0.1 0.9-0.2 1.4-0.4 1-0.8 1-1.4 0.8-1.3 0.2-1-0.3-1.4-1-0.6-0.1-0.6 0.4-0.7 1-1.4 3.3-1 1.8-1 1.3-1.4 1.2-2 1-2 0.4-2.4 0-3.6-0.4-1.7 0.3-0.4 0.5 0.1 2.4-0.7 1.3-0.9 0.7-1.1 0.4-1 0.1z"/>
<path fill="#40ffb7" d="M343 328.1l5.7 0.1 5.7-0.7 5.7-1.3 6.1-2.2 6.7-3.1 7.7-4.4 6.7-4.4 5.4-4.4 3.7-3.8 3.3-4 2.8-4.4 2.3-4.7 1.8-5 1.3-5.4 0.9-5.7 0.4-6.4 0.1-7.3-0.4-7.1-0.7-5.7-1.3-5.7-1.7-5-2.3-5.1-2.7-4.3-3.5-4.4-4.7-4.7-5.4-4.3-7-4.6-7.4-4-6.4-3-6-2.1-6.1-1.3-5.7-0.6-5.7 0.2-5.3 0.7-5.4 1.4-6.1 2.3-7 3.4-7.4 4.3-6.4 4.3-5.1 4.3-3.6 3.7-3.2 4-2.8 4.4-2.3 4.7-1.6 4.7-1.3 5.4-0.9 5.7-0.4 6.4-0.1 7.3 0.4 6.7 0.7 6.1 1.2 5.4 1.6 5 2.2 4.7 2.6 4.4 3.3 4.3 4.3 4.5 5 4.2 6.4 4.3 7.4 4.3 6.7 3.3 6 2.3 6.1 1.5zM344.6 296.2l-1.1-0.7-0.8-1-0.3-1 0.1-2-0.4-0.3-1.5-0.2-3.3 0.5-2.4 0.2-1.6-0.2-1.7-0.5-1.9-1.2-1.5-1.6-1.3-2.4-1.4-3.7-0.8-1-0.5-0.2-1.7 1-1.3 0.4-1.4-0.4-1.3-1-0.8-1.1-0.3-1-0.2-1.1 0.2-1 0.8-1.2 1.9-1.1 0.3-0.7-0.6-1.4-2.4-2.9-1.2-2.1-0.8-2-0.2-2 0.3-1.7 0.8-2 1.4-2 2.1-2.6 0.6-1.4-0.3-0.7-1.9-1.1-0.7-0.9-0.2-0.7 0-1 0.2-1.1 0.4-0.9 0.8-1 1.1-0.8 1.4-0.4 1 0.2 1.7 1.1 0.6 0 1-1.1 1.4-3.6 1-2 1-1.4 1.3-1.2 1.8-0.9 2.3-0.4 2.7 0 3.6 0.6 1.4-0.1 0.5-0.4-0.1-2 0.6-1.5 1.3-1.1 2.1-0.4 2 0.4 1.3 1.1 0.6 1.5-0.1 2 0.5 0.4 1.4 0.1 3.6-0.6 2.7 0 2.3 0.4 1.8 0.9 1.3 1.2 1 1.4 1 2 1.4 3.6 1 1.1 0.6 0 1.7-1.1 1-0.2 1.4 0.4 1.1 0.8 0.8 1 0.4 0.9 0.2 1.1 0 1-0.2 0.7-0.7 0.9-1.9 1.1-0.3 0.7 0.6 1.4 2.4 2.9 1.2 2.1 0.8 2 0.2 2-0.3 1.7-0.8 2-1.4 2-2.1 2.6-0.6 1.4 0.3 0.7 1.9 1.1 0.7 0.9 0.2 0.7 0 1-0.2 1.1-0.4 0.9-0.8 1-1.1 0.8-1.4 0.4-1.3-0.4-1.7-1-0.5 0.2-0.8 1-1.4 3.6-1.3 2.5-1.4 1.6-1.6 1-1.7 0.6-2 0.3-2.4-0.2-3.3-0.5-1.4 0.1-0.5 0.4 0.1 1.7-0.2 1-0.4 0.8-0.7 0.7-1 0.5-1 0.3-1 0z"/>
<path fill="#53ffa4" d="M344 325.8l5.4-0.1 5.3-0.7 5.4-1.4 5.4-2 7-3.4 8.1-4.7 6-4.1 5.1-4.1 3.6-3.7 2.9-3.7 2.7-4.4 2-4.3 1.6-4.7 1-4.7 0.8-5.4 0.3-6.4 0.1-7.4-0.3-6.7-0.7-5.7-1.1-5-1.7-5.1-2-4.3-2.7-4.4-3.2-4-4.3-4.3-5.4-4.2-7.1-4.5-8-4.5-6.1-2.7-5.7-2-5.3-1.2-5.4-0.5-5.4 0.2-5 0.7-5 1.4-5.8 2.2-7 3.5-8.1 4.7-6 4.2-4.7 3.9-3.6 3.8-2.8 3.7-2.5 4-2 4.3-1.6 4.7-1 4.7-0.8 5.4-0.3 6.4-0.1 7.4 0.3 6.7 0.7 5.7 1.1 5 1.7 5.1 2 4.3 2.5 4.1 3.1 4 4.3 4.3 5.4 4.3 6.7 4.3 7.7 4.4 6.4 3 5.4 1.9 5.3 1.3zM345.3 296.5l-1.6-0.6-0.9-1-0.5-1.4 0-1.7-0.3-0.4-1.4-0.2-4 0.8-2.7 0.2-2.3-0.5-1.7-0.8-1.3-1.3-1-1.4-1.1-2.1-1.2-3.7-0.8-1.1-0.6 0-1.5 0.8-1.2 0.3-1.4-0.3-1.3-1-0.7-0.8-0.5-1.2-0.2-1 0.1-1 0.3-0.9 0.6-0.8 2-1.3 0-0.7-0.6-1-2.4-2.7-1.4-2-0.9-2-0.3-2.1 0.3-2 0.9-2 1.4-2 2.4-2.7 0.6-1 0-0.7-2-1.3-0.6-0.8-0.3-0.9-0.1-1 0.2-1 0.5-1.2 0.7-0.8 1.3-1 1.4-0.3 1.2 0.3 1.5 0.8 0.6 0 0.8-1.1 1.2-3.7 1.3-2.4 1.3-1.7 1.5-1.1 1.7-0.6 2.3-0.3 2.4 0.2 3.6 0.8 1.1-0.1 0.4-0.2 0.2-0.3 0.1-2.1 0.6-1.3 1.3-1 2.1-0.5 2 0.5 1.3 1 0.6 1.3 0.1 2.1 0.2 0.3 0.4 0.2 1.1 0.1 3.6-0.8 2.4-0.2 2.3 0.3 1.7 0.6 1.5 1.1 1.3 1.7 1.3 2.4 1.2 3.7 0.8 1.1 0.6 0 1.5-0.8 1.2-0.3 1.4 0.3 1.3 1 0.7 0.8 0.5 1.2 0.2 1-0.1 1-0.3 0.9-0.6 0.8-2 1.3 0 0.7 0.6 1 2.4 2.7 1.4 2 0.9 2 0.3 2-0.3 2.1-0.9 2-1.4 2-2.4 2.7-0.6 1 0 0.7 2 1.3 0.6 0.8 0.3 0.9 0.1 1-0.2 1-0.5 1.2-0.7 0.8-1.3 1-1.4 0.3-1.2-0.3-1.5-0.8-0.6 0-0.8 1.1-1.2 3.7-1.3 2.4-1.3 1.7-1.5 1.1-1.7 0.6-2.3 0.3-2.4-0.2-3.6-0.8-1.1 0.1-0.4 0.2-0.2 0.3-0.2 2.4-0.8 1.4-1.7 0.9-1 0.2z"/>
<path fill="#66ff90" d="M344.3 323.7l5.1 0 4.7-0.7 5-1.3 5-1.9 7.1-3.5 9.4-5.5 5.7-3.8 4.4-3.6 3-3.2 2.9-3.7 2.5-4 1.9-4 1.3-4 1.1-4.7 0.6-5.1 0.3-6 0.1-8.4-0.3-6.4-0.5-5-0.9-4.7-1.5-4.7-1.9-4.4-2.4-4-2.9-3.7-4.4-4.4-5-3.9-7.4-4.6-9-5.1-5.7-2.6-5.1-1.7-5-1.1-5-0.5-5.1 0.2-4.7 0.8-4.7 1.3-5 2-7.1 3.6-9.4 5.5-5.3 3.7-4.4 3.7-3 3.1-2.9 3.7-2.4 4-1.8 4-1.4 4.4-0.9 4.4-0.6 5-0.3 5.7-0.1 8.4 0.3 6.4 0.5 5 0.9 4.7 1.5 4.7 1.9 4.4 2.4 4 2.9 3.7 4.4 4.4 5 3.9 6.7 4.2 9.1 5.1 5.3 2.6 5.1 1.8 5 1.2zM344.8 296.5l-1.3-0.6-0.8-1-0.4-1-0.2-1.7-0.1-0.4-0.3-0.2-1.1-0.1-3.6 0.9-3.1 0.3-2-0.1-1.9-0.8-1.4-1.2-1.4-1.9-1.1-2.6-1-3.3-0.6-1.1-0.6-0.2-1.7 0.8-1.4 0.1-1.2-0.3-1.3-1-0.7-1-0.4-1-0.1-2 0.7-1.5 1.9-1.5 0.1-0.7-0.7-1-2.8-3-1.4-2.1-0.9-2-0.2-2 0.3-1.7 1-2 1.8-2.3 2.3-2.4 0.6-1-0.1-0.7-1.5-1.1-0.7-0.8-0.5-1.4 0.3-2 0.5-1.1 0.7-0.8 1.1-0.8 1.2-0.3 1.4 0.1 1.7 0.8 0.6-0.2 0.6-1.1 1.1-3.6 1.1-2.4 1.3-1.8 1.6-1.4 1.7-0.6 2.4-0.1 2.7 0.3 3.3 0.8 1.4 0 0.3-0.2 0.1-0.4 0.1-1.3 0.3-1 0.8-1.2 1.5-0.8 1.9-0.3 1.7 0.4 1.3 1.1 0.7 1.4 0.3 2.1 0.3 0.2 1.4 0 3.3-0.8 2.7-0.3 2.4 0.1 1.7 0.6 1.6 1.4 1.3 1.8 1.1 2.4 1.1 3.6 0.6 1.1 0.6 0.2 1.7-0.8 1.4-0.1 1.2 0.3 1.1 0.8 0.7 0.8 0.5 1.1 0.3 2-0.5 1.4-0.7 0.8-1.5 1.1-0.1 0.7 0.7 1 2.8 3 1.4 2.1 0.9 2 0.2 2-0.3 1.7-1 2-1.8 2.3-2.3 2.4-0.6 1 0.1 0.7 1.5 1.1 0.7 0.8 0.5 1.4-0.1 1.4-0.3 1-1.2 1.6-1 0.7-1.2 0.3-1.4-0.1-1.7-0.8-0.6 0.2-0.6 1.1-1.1 3.6-1.1 2.4-1.3 1.8-1.6 1.4-1.7 0.6-2.4 0.1-2.7-0.3-3.3-0.8-1.4 0-0.3 0.2-0.1 0.4-0.1 1.3-0.3 1-1 1.4-1.2 0.6-1 0.2-1 0.1z"/>
<path fill="#7aff7d" d="M342 321.7l4.7 0.3 4.7-0.4 4.7-0.9 4.7-1.6 6-2.9 9.4-5.3 6.4-3.8 4.7-3.4 3.2-2.8 2.8-3 2.5-3.4 2.1-3.7 1.7-4 1.2-4 0.8-4.4 0.5-4.7 0-18.1-0.2-4.7-0.7-4.4-1-4.3-1.6-4.4-2.1-4-2.5-3.5-4-4.4-5.1-4.1-5.3-3.4-11.7-6.8-5.4-2.7-4.7-1.8-4.7-1.2-4.7-0.5-4.7 0-4.4 0.6-4.4 1.1-4.3 1.7-6.1 3-11.4 6.6-5 3.2-3.7 2.8-3 2.8-2.8 3.2-2.4 3.4-1.8 3.3-1.5 3.7-1.1 4.1-0.7 4-0.5 4.7 0 17.8 0.2 4.7 0.6 4.3 1 4.4 1.4 4 2 4 2.5 3.7 3.7 4.3 4.4 3.7 5 3.4 8.7 5.1 6.8 3.8 5 2.3 5.1 1.6zM345.7 296.9l-1.4-0.4-1.3-1-0.7-1.3-0.4-2-0.6-0.4-1 0.1-3.7 1-3 0.4-2.2-0.1-1.8-0.7-1.4-1.1-1.2-1.9-1.1-2.8-0.9-3.6-0.5-1-0.6-0.3-1.7 0.6-1.4 0.1-1.3-0.3-1-0.8-0.7-0.7-0.6-1.3-0.3-2 0.6-1.5 1.9-1.8 0-0.7-0.6-0.9-2.8-2.8-1.8-2.4-1-2-0.2-1.7 0.2-1.6 1-2 1.8-2.4 2.8-2.8 0.6-0.9 0-0.7-1.6-1.3-0.7-1.3-0.2-1.7 0.6-1.8 1-1.3 1.7-0.9 1.6-0.1 2.1 0.7 0.6-0.3 0.5-1 0.6-2.7 0.9-2.7 1.1-2 1-1.2 1-0.8 1-0.5 2.3-0.3 3.4 0.3 4 1.1 1 0.1 0.6-0.4 0.5-2.3 0.9-1.3 1.4-0.8 2-0.3 1.7 0.4 1.3 1 0.7 1.3 0.4 2 0.6 0.4 1-0.1 4-1.1 3.4-0.3 2.3 0.3 1 0.5 1 0.8 1 1.2 1.1 2 0.9 2.7 0.6 2.7 0.5 1 0.6 0.3 2.1-0.7 1.6 0.1 1.7 0.9 1 1.3 0.6 1.8-0.2 1.7-0.7 1.3-1.6 1.3 0 0.7 0.6 0.9 2.8 2.8 1.8 2.4 1 2 0.2 1.6-0.2 1.7-1 2-1.8 2.4-2.8 2.8-0.6 0.9 0 0.7 1.6 1.3 0.7 1.3 0.2 1.7-0.6 1.8-1 1.3-1.7 0.9-1.6 0.1-2.1-0.7-0.6 0.3-0.5 1-0.6 2.7-0.9 2.7-1.1 2-1 1.2-1 0.8-1 0.5-2.3 0.3-3.4-0.3-4-1.1-1-0.1-0.6 0.4-0.5 2.3-0.9 1.3-1.7 0.9z"/>
<path fill="#8aff6d" d="M342 320.1l4.4 0.3 4.3-0.3 4.4-0.9 4.3-1.5 3.4-1.5 3.4-1.9 15.4-8.9 4.7-3.1 3-2.6 2.7-2.8 2.3-3 2-3.4 1.5-3.4 1.1-3.6 0.8-3.7 0.4-4.4 0.1-21.1-0.2-3.7-0.4-3.4-1-4.4-1.4-4-1.8-3.7-2.3-3.3-3.8-4.2-4.7-3.8-3.7-2.3-16.1-9.3-4.4-2.2-4-1.5-4.3-1.1-4.1-0.4-4 0-4 0.6-4.1 1-4 1.6-4.7 2.4-15.4 8.9-3.4 2.1-3 2.2-2.9 2.6-2.4 2.7-2.1 3-1.7 3-1.5 3.4-1.1 3.7-0.7 3.7-0.4 4-0.1 21.1 0.5 6.8 0.9 4 1.3 4 1.8 3.7 2.1 3.4 2.5 3 2.8 2.7 3.4 2.7 4 2.5 15.3 8.9 3.8 2 5.7 2.2zM345.1 296.9l-1.4-0.7-1-1-0.6-1-0.4-1.7-0.4-0.4-1 0-3.3 1.2-4.4 0.7-2.4-0.3-1-0.4-1-0.8-1-1.2-0.8-1.8-1.1-3.4-0.6-3-0.5-0.9-0.7-0.1-2 0.5-1.3-0.1-1.5-0.7-1.2-1.4-0.6-1.6 0-1.7 0.6-1.4 1.6-1.6 0-0.7-0.6-0.9-2.4-2.1-2.6-3.1-1.1-2-0.3-1.7 0.3-1.6 1.1-2 2.6-3.1 2.4-2.1 0.6-0.9 0-0.7-1.6-1.6-0.6-1.4 0-1.7 0.6-1.6 1.2-1.4 1.5-0.7 1.3-0.1 2 0.5 0.7-0.1 0.5-0.9 0.6-3 1.1-3.4 0.8-1.8 1-1.2 1-0.8 1-0.4 2.4-0.3 4.4 0.7 3.3 1.2 1 0 0.4-0.4 0.7-2.4 0.8-1 1.8-0.9 1.7-0.2 1.7 0.4 1.3 1 0.7 1.1 0.6 2 0.4 0.4 1 0 3.3-1.2 4.4-0.7 2.4 0.3 1 0.4 1 0.8 1 1.2 0.8 1.8 1.1 3.4 0.6 3 0.5 0.9 0.7 0.1 2-0.5 1.3 0.1 1.5 0.7 1.2 1.4 0.6 1.6 0 1.7-0.6 1.4-1.6 1.6 0 0.7 0.6 0.9 2.4 2.1 2.6 3.1 1.1 2 0.3 1.6-0.3 1.7-1.1 2-2.6 3.1-2.4 2.1-0.6 0.9 0 0.7 1.6 1.6 0.6 1.4 0 1.7-0.6 1.6-1.2 1.4-1.5 0.7-1.3 0.1-2-0.5-0.7 0.1-0.5 0.9-0.6 3-1.1 3.4-0.8 1.8-1 1.2-1 0.8-1 0.4-2.4 0.3-4.4-0.7-3.3-1.2-1 0-0.4 0.4-0.7 2.4-1.3 1.3-1 0.5-1 0.3z"/>
<path fill="#9dff5a" d="M343.3 318.7l4.1 0.2 3.6-0.4 4.1-0.9 3.7-1.4 4.7-2.4 9-5.7 9.4-5 4.4-2.9 2.7-2.3 2.3-2.5 2.1-2.9 1.7-3 1.3-3 1-3.4 0.6-3.3 0.3-3.7-0.4-12.5 0.4-11.4-0.3-5-0.8-3.7-1.2-3.7-1.6-3.3-2.2-3.4-3.6-4-4.3-3.5-3.7-2.2-8.7-4.6-9.8-6.1-3.7-1.8-3.7-1.3-3.7-0.8-3.6-0.4-3.4 0.1-3.7 0.5-3.7 1-3.3 1.4-4.3 2.2-8.8 5.6-9.4 5-2.7 1.7-2.4 1.7-2.6 2.5-2.1 2.3-1.9 2.7-1.7 3-1.2 3.1-1 3.3-0.6 3.4-0.2 3.3 0.4 12.4-0.4 11.5 0.3 5 0.8 3.7 1.2 3.7 1.6 3.3 1.9 3.1 3.5 4 4.4 3.5 3.7 2.3 9 4.8 8.8 5.5 3.3 1.8 3.4 1.3 3.3 1zM344.8 296.9l-1.1-0.6-0.9-0.8-0.6-1-0.5-1.7-0.7-0.5-0.7 0.1-3 1.2-5.4 1.2-2.3-0.2-1.8-1.1-0.9-1.2-0.8-1.8-1.2-4.4-0.4-2.6-0.3-0.9-0.7-0.3-2 0.4-1.7-0.2-1.6-1.1-1-1.3-0.4-1.3 0-1.7 0.5-1.4 1.5-1.6 0.1-0.7-0.6-0.7-2.5-2-3.2-3.4-1.2-2-0.3-1.7 0.3-1.6 1.2-2 3.2-3.4 2.5-2 0.6-0.7-0.1-0.7-1.5-1.6-0.5-1.4 0-1.7 0.4-1.3 1-1.3 1.6-1.1 1.7-0.2 2 0.4 0.7-0.3 0.3-0.9 0.4-2.6 1.2-4.4 0.8-1.8 1-1.3 1-0.7 1-0.4 2.4-0.1 5 1.2 3 1.2 0.7 0.1 0.7-0.5 0.6-2.1 1-1.2 1.5-0.8 1.9-0.2 1.7 0.4 1.2 0.8 0.9 1.4 0.5 1.7 0.7 0.5 0.7-0.1 3-1.2 5-1.2 2.4 0.1 1 0.4 1 0.7 1 1.3 0.8 1.8 1.2 4.4 0.4 2.6 0.3 0.9 0.7 0.3 2-0.4 1.7 0.2 1.6 1.1 1 1.3 0.4 1.3 0 1.7-0.5 1.4-1.5 1.6-0.1 0.7 0.6 0.7 2.5 2 3.2 3.4 1.2 2 0.3 1.6-0.3 1.7-1.2 2-3.2 3.4-2.5 2-0.6 0.7 0.1 0.7 1.5 1.6 0.5 1.4 0 1.7-0.4 1.3-1 1.3-1.6 1.1-1.7 0.2-2-0.4-0.7 0.3-0.3 0.9-0.4 2.6-1.2 4.4-0.8 1.8-1 1.3-1 0.7-1 0.4-2.4 0.1-5-1.2-3-1.2-0.7-0.1-0.7 0.5-0.8 2.4-1.5 1.3-2 0.6z"/>
<path fill="#b1ff46" d="M343.7 317.4l3.7 0.1 3.3-0.4 3.4-0.7 3.3-1.3 4.7-2.5 8.8-6.2 2.3-1.2 7.7-3.4 4.7-3 2.4-1.9 2.2-2.4 1.8-2.3 1.6-2.7 1.2-2.7 1-3 0.6-3 0.3-3.4-0.1-4-0.9-9.4 0.1-3 0.8-8.1 0.1-3-0.2-2.7-0.7-3.4-1-3.3-1.4-3-1.9-3-3.2-3.7-4-3.3-4.1-2.3-6.7-3-2.6-1.3-7.8-5.6-3-1.8-3.1-1.5-3.3-1.2-3-0.6-3.3-0.4-3.1 0.1-3.3 0.4-3.4 0.9-3 1.3-4.5 2.5-8.3 5.9-2.3 1.2-7.7 3.4-2.7 1.6-2.4 1.6-2.3 2.1-2.2 2.3-1.7 2.4-1.5 2.6-1.2 2.7-0.9 3-0.6 3.1-0.3 3 0.1 4 0.8 7.1 0.1 2.6-0.9 10.8 0.1 5.4 0.6 3.3 1 3.4 1.3 3 1.9 3.1 1.8 2.3 2.3 2.3 2.3 1.9 2.7 1.7 3 1.6 8.5 3.9 2.3 1.4 6.2 4.6 3.8 2.2 4.7 1.9 2.4 0.6zM345.8 297.2l-1.5-0.4-1.3-0.9-0.8-1-0.8-2.1-0.4-0.2-0.7 0.1-2.7 1.2-6.4 1.9-1.3 0-1-0.1-1-0.5-0.7-0.6-1-1.4-0.5-1.7-1.2-5.4-0.3-2.6-0.2-0.7-0.5-0.3-2 0.3-1.7-0.2-1.3-0.7-1-1.1-0.8-1.7 0-1.7 0.5-1.7 1.4-1.6 0-0.7-2.6-2-5-4.7-1.1-2-0.1-1.1 0.1-1 0.6-1.3 1.4-1.7 4.1-3.7 2.6-2 0-0.7-1.4-1.6-0.5-1.4-0.1-1.3 0.5-1.7 1.1-1.5 1.6-1 1.7-0.2 2 0.3 0.5-0.3 0.2-0.7 0.3-2.6 1.4-6.2 1-1.9 1.3-1.2 1.7-0.4 2 0.1 5.7 1.8 2.7 1.2 0.7 0.1 0.3-0.1 0.3-0.5 0.8-2 1-1 1.6-0.9 2-0.1 1.4 0.4 1.3 0.9 0.8 1 0.8 2.1 0.4 0.2 0.7-0.1 2.7-1.2 5.3-1.7 1.7-0.2 1.7 0.1 1 0.5 0.7 0.6 0.7 0.9 0.5 1.2 1.5 6.4 0.3 2.6 0.2 0.7 0.5 0.3 2-0.3 1.7 0.2 1.4 0.8 1.2 1.6 0.5 1.4 0 1.7-0.5 1.4-1.4 1.6 0 0.7 2.6 2 5 4.7 1.1 2 0.1 1-0.1 1.1-0.6 1.3-1.4 1.7-4.1 3.7-2.6 2 0 0.7 1.4 1.6 0.5 1.4 0.1 1.3-0.3 1.4-1.1 1.6-1.5 1.1-1.7 0.3-2-0.3-0.8 0.3-0.2 0.7-0.3 2.6-1.2 5.7-0.8 1.9-1 1.2-0.7 0.5-1 0.3-2.4 0-6-1.8-2.7-1.2-0.7-0.1-0.3 0.1-0.3 0.5-0.8 2-0.9 1-1.7 0.9z"/>
<path fill="#c4ff33" d="M343.3 316l3.4 0.2 3.3-0.3 3.4-0.7 3-1.2 2.7-1.3 2.5-1.7 2.4-2 3.8-3.7 1.7-1.3 2-0.9 5.4-1.6 2.7-0.9 2.7-1.3 2.6-1.7 2.2-1.7 2-2 1.8-2.4 1.4-2.3 1.1-2.4 0.9-2.7 0.6-2.7 0.2-3-0.2-5-1.8-7.4-0.2-2.4 0.2-2 1.3-5.3 0.5-3.1 0.3-3-0.2-3-0.5-3-0.9-3-1.3-3.1-1.7-2.6-3-3.5-3.7-3-2.3-1.3-2.4-1.1-7.7-2.4-2-0.9-1.7-1.3-5.4-5-3.9-2.7-2.7-1.3-2.7-1-2.7-0.6-3-0.3-3.1 0.1-2.6 0.3-3.1 0.8-2.7 1.1-2.6 1.5-2.6 1.8-5.8 5.3-1.7 1.3-2 0.9-5.4 1.6-3 1.1-2.7 1.3-2.7 1.8-2.1 1.8-1.9 1.9-1.6 2.1-1.4 2.3-1.1 2.4-0.9 2.7-0.6 2.7-0.2 3 0.2 5 1.8 7.4 0.2 2.3-0.2 2.1-1.3 5.3-0.5 3.1-0.3 3 0.2 3 0.5 3 0.9 3 1.1 2.7 1.6 2.7 1.6 2.1 2 2.1 2 1.6 2.4 1.6 4.3 2.1 8.4 2.6 2.4 1.7 5.4 5 3.3 2.4 2.3 1.2 2.4 0.9 2.3 0.7zM327.9 297.2l-0.8-0.3-0.8-0.7-1-2-0.4-2-0.3-4-0.6-2.4-0.1-2.7-0.4-0.3-0.3-0.1-2 0.2-1.4-0.2-1.1-0.6-1.2-1.1-0.8-1.6-0.1-2 0.5-1.7 1.2-1.6-0.1-0.7-2.4-1.7-1.7-1.5-3.5-2.5-1.4-1.4-0.9-1.3-0.3-1 0-1 0.4-1 0.8-1 1.4-1.4 3.5-2.5 2-1.8 2.1-1.4 0.1-0.7-1.1-1.6-0.6-1.4-0.1-1.3 0.3-1.4 1-1.6 1.5-1 1.9-0.5 2 0.2 0.3-0.1 0.4-0.3 0.1-2.7 0.6-2.4 0.6-5.4 0.9-2.3 1.1-1.1 1.7-0.3 2 0.3 5 2.2 2.4 0.7 2 1.1 0.7 0.1 0.3-0.2 0.8-1.8 0.9-1.1 1.3-0.9 1.4-0.4 2 0.1 1.7 0.9 1 1.1 0.9 2 0.4 0.3 0.7-0.1 2-1.1 2.4-0.7 5-2.2 2-0.3 1.7 0.3 1.1 1.1 0.9 2.3 0.6 5.4 0.6 2.4 0.1 2.7 0.4 0.3 0.3 0.1 2-0.2 1.4 0.2 1.1 0.6 1.2 1.1 0.8 1.6 0.1 2-0.5 1.7-1.2 1.6 0.1 0.7 2.4 1.7 1.7 1.5 3.5 2.5 1.4 1.4 0.9 1.3 0.3 1 0 1-0.4 1-0.8 1-1.4 1.4-3.5 2.5-2 1.8-2.1 1.4-0.1 0.7 1.1 1.6 0.6 1.4 0.1 1.3-0.3 1.4-1 1.6-1.5 1-1.9 0.5-2-0.2-0.3 0.1-0.4 0.3-0.1 2.7-0.6 2.4-0.6 5.4-0.9 2.3-1.1 1.1-1.7 0.3-2-0.3-5-2.2-2.4-0.7-2-1.1-0.7-0.1-0.4 0.3-0.9 2-1 1.1-1.7 0.9-2 0.1-1.4-0.4-1.3-0.9-0.9-1.1-0.8-1.8-0.3-0.2-0.7 0.1-2 1.1-2.4 0.7-4.7 2.1-2 0.4z"/>
<path fill="#d4ff23" d="M345.7 315l3.7-0.2 3.7-0.8 3.3-1.4 3.1-2 2.8-2.6 1.3-1.7 0.8-1.4 0.6-2.3-0.1-1-0.5-1-1.5-1.4-5.6-3.7-1.2-0.6-2-0.6-2-1.1-0.4 0-0.3 0.3-0.9 1.7-1.1 1.2-1.6 0.8-1.4 0.2-1.5-0.2-1.6-0.8-1.1-1.2-0.9-1.7-0.3-0.3-0.4 0-2 1.1-2 0.6-1.2 0.6-5.2 3.4-1.6 1.3-0.5 0.7-0.4 1 0.1 1.4 0.4 1.3 1.6 2.7 2.6 2.7 2.9 2 3.3 1.6 3.4 1zM317.8 299.9l2 0 1.7-0.4 1.4-0.9 0.6-1.1 0.4-2 0.3-6.3 0-1.4-0.5-2 0-2.3-0.5-0.5-2 0-1.7-0.4-1.4-0.8-0.9-1.2-0.7-1.5 0-1.7 0.5-1.7 1-1.6 0.1-0.4-0.3-0.3-2-1.2-2.3-2-5.4-2.7-2.7-1-1 0-0.7 0.2-1.6 1.3-1.1 1.7-1.2 2.7-0.7 3-0.2 2.7 0.2 3 0.6 3 0.9 2.7 1.2 2.4 1.6 2.4 1.9 2.3 2.1 1.8 2.4 1.6 2.7 1.3 2.6 0.9zM373.2 299.9l2.7-0.1 2.7-0.6 2.7-1 2.6-1.5 2.4-1.8 2-2.1 1.8-2.3 1.5-2.7 1.2-3 0.7-3 0.3-3-0.2-3.1-0.6-3-1.1-2.7-1.2-1.9-1.7-1.4-0.7-0.2-1 0-2.7 1-5.4 2.7-2.3 2-2 1.2-0.3 0.3 0.1 0.4 1 1.6 0.5 1.7 0 1.7-0.7 1.5-0.9 1.2-1.4 0.8-1.3 0.4-2.1-0.1-0.6 0.3-0.2 0.6 0 2-0.5 3 0.5 8.1 0.5 1.2 0.7 0.8 1.3 0.7zM304.1 260.7l1.6 0 3.1-1.2 4.7-2.4 2.3-2 2-1.2 0.3-0.3-0.1-0.4-1-1.6-0.5-1.7 0-1.7 0.7-1.5 0.9-1.2 1.4-0.8 1.3-0.4 2.1 0.1 0.6-0.3 0.2-0.6 0-2 0.5-3-0.3-6.7-0.6-2.4-0.4-0.7-0.9-0.6-2.2-0.7-2.6 0.1-3.4 0.7-3 1.3-2.7 1.6-2.7 2.3-2.1 2.4-1.7 2.7-1.4 3-0.9 3.4-0.4 3.3 0.2 3 0.6 3.4 1.3 3 1.4 2zM386.6 260.7l1 0.1 1-0.1 1-0.6 1-0.8 1.5-2.4 1.1-3.3 0.5-3.4-0.1-3.7-0.7-3.7-1.3-3.3-1.6-2.9-2-2.5-2.5-2.3-2.9-2-3-1.4-3.4-0.8-3-0.2-2.3 0.6-1.1 0.7-0.4 0.7-0.6 2.4-0.3 6.7 0.5 3 0 2 0.2 0.6 0.6 0.3 2.1-0.1 1.3 0.4 1.4 0.8 0.9 1.2 0.7 1.5 0 1.7-0.5 1.7-1 1.6 0.2 0.7 2 1.2 2.3 2 5.4 2.7zM340.6 234.1l0.4 0 0.3-0.3 0.9-1.7 0.9-1 1-0.7 1.6-0.5 2 0.2 1.5 0.7 1.3 1.3 0.9 1.7 0.3 0.3 0.7-0.1 2.2-1.2 2.1-0.7 5.8-3.7 1.9-1.7 0.5-1 0.1-1-0.3-1.3-0.5-1.4-2.1-3-3-2.6-3.4-2-3.6-1.4-4.1-0.7-4 0.1-4 0.8-3.7 1.5-3.5 2.3-1.5 1.3-1.5 1.7-1.1 1.7-0.6 1.3-0.4 1.4 0.1 1.3 0.5 1 1 1 4.5 3.1 2.2 1.3 2.6 0.9z"/>
<path fill="#e7ff0f" d="M343.3 313.7l4.1 0.2 4-0.6 3.7-1.4 3.3-2.2 1.5-1.4 1-1.4 0.8-1.3 0.4-1.3 0.1-1.4-0.2-1.3-0.4-1-0.9-1.4-2-2-1.9-1.5-0.7-0.4-2-0.6-2-1.2-0.4 0-0.3 0.4-0.8 1.3-1.2 1.3-1.3 0.7-1.1 0.3-1.3 0-1.8-0.6-1.3-1-1.3-2-0.3-0.4-0.4 0-2 1.2-2.3 0.8-1.5 1-2.8 2.7-1.2 2-0.3 1 0 1.4 0.7 2.3 0.8 1.4 1.1 1.3 2.9 2.4 3.6 1.7zM315.8 297.9l2 0 2-0.6 1.4-1 1.1-1.4 0.9-2.6 0.6-3.5 0-1-0.5-2 0-2.3-0.4-0.3-2.1-0.1-1.3-0.4-1.5-0.9-0.9-1-0.6-1.6-0.1-1.5 0.4-1.8 1-1.8-0.3-0.6-1.7-0.8-2-1.9-2.4-1-3.6-0.9-1.4 0-1.3 0.3-1.7 1.1-1.3 1.4-0.9 1.7-0.7 2.3-0.3 2.4 0.1 2.7 0.3 2.3 0.8 2.7 1.1 2.4 1.2 2 1.6 2 1.8 1.7 2 1.5 2.3 1.3 2.4 0.8zM375.2 297.9l2 0 2.4-0.6 2.3-0.9 2.4-1.4 2-1.7 1.7-1.8 1.6-2.3 1.3-2.4 0.8-2.3 0.6-2.7 0.2-2.7-0.2-2.7-0.6-2.5-1-2.1-1.3-1.4-1.4-1-1.4-0.4-1.3-0.1-3.4 0.7-3 1.2-2 1.9-1.7 0.8-0.3 0.6 1 1.8 0.4 1.8-0.1 1.5-0.6 1.6-0.9 1-1.5 0.9-1.3 0.4-2.1 0.1-0.4 0.3 0 2.3-0.5 2 0 1 0.5 3 0.7 2.4 1 1.7 1.1 1 1.3 0.6zM306.1 258.3l2.7-0.1 3.7-1.1 1.6-0.8 1.7-1.7 1.7-0.8 0.3-0.6-1-1.8-0.4-1.8 0.1-1.5 0.6-1.6 0.9-1 1.5-0.9 1.3-0.4 2.1-0.1 0.4-0.3 0-2.3 0.5-2.7-0.6-3.8-0.7-2-0.7-1.3-0.8-0.9-1.2-0.8-2-0.6-2.3 0-2.7 0.7-2.7 1.2-2.3 1.5-2.4 2.2-1.9 2.5-1.4 2.3-1 2.7-0.7 3-0.2 3 0.3 3.1 0.9 2.6 1.2 2.1 1.8 1.5zM384.6 258.3l2 0 2-0.7 1.7-1.6 1.3-2.4 0.7-3 0.2-3.1-0.4-3.3-1-3-1.3-2.7-1.8-2.7-2.3-2.4-2.4-1.7-2.7-1.4-2.7-0.8-2.7-0.1-2 0.5-1.3 0.8-1 1-0.7 1.3-0.6 1.8-0.7 4 0.5 2.7 0 2.3 0.4 0.3 2.1 0.1 1.3 0.4 1.5 0.9 0.9 1 0.6 1.6 0.1 1.5-0.4 1.8-1 1.8 0.3 0.6 1.7 0.8 1.7 1.6 1 0.6 2.7 1zM340.6 233.8l0.4 0 0.3-0.4 0.8-1.3 1.2-1.3 1.3-0.7 1.1-0.3 2 0.2 1.6 0.8 1.1 1 1.3 2 0.7-0.1 1.7-1.1 2-0.6 0.7-0.4 3.3-2.9 1.1-1.3 0.7-1.3 0.3-1.4-0.1-1.3-0.4-1.7-0.8-1.3-2-2.4-2.8-2-3.4-1.6-3.3-0.8-3.7-0.2-3.7 0.5-3.4 1.1-3 1.6-2.5 2.1-1.7 2.3-0.8 2.4-0.1 1.3 0.2 1 0.4 1 0.9 1.4 2.8 2.7 1.5 1 2.3 0.8z"/>
<path fill="#fbf100" d="M343.3 312.7l2.4 0.2 2 0 2.3-0.4 2.1-0.5 1.6-0.7 2-1.1 1.7-1.2 1.3-1.4 0.9-1.3 0.6-1.4 0.4-1.6-0.1-1.4-0.3-1.3-0.7-1.4-1.3-1.7-1.4-1.4-1.1-0.6-2-0.5-1.6-1.2-0.4 0.1-1.5 2-1.3 1-1.9 0.6-1.3 0-1.2-0.3-1.2-0.7-1.1-1-1.2-1.6-0.4-0.1-1.6 1.2-2.4 0.6-1.1 0.9-1.3 1.4-1.4 2-0.7 2.3 0.3 2.4 0.9 2 1.6 2 2.4 1.8 2.7 1.4zM313.8 296.2l2.3 0.3 2.1-0.3 2-1 1.3-1.4 1.1-2 0.8-2.6 0.1-1.4-0.6-2 0.2-2-0.2-0.3-0.4-0.2-2-0.2-1.7-0.6-1-0.8-0.9-1.3-0.4-1-0.2-1.7 0.2-1.3 0.9-2 0.1-0.3-0.2-0.4-1.8-0.9-1.5-1.4-0.9-0.5-3.3-0.8-1.7 0-1.4 0.2-1.6 0.7-1.2 1-1.1 1.4-0.8 1.7-0.5 2-0.2 2.3 0.1 2.4 0.5 2.3 0.7 2 1 2.1 1.3 2 1.5 1.7 1.7 1.5 1.7 1.2 2 1zM374.9 296.2l2 0.3 2-0.3 2-0.6 2.4-1.2 2-1.6 1.7-1.6 1.7-2.4 1.1-2 0.9-2.3 0.5-2.4 0.2-2.7-0.2-2.3-0.7-2.4-0.9-1.6-1.1-1.4-1.5-1-1.4-0.5-1.3-0.1-2 0.1-1.7 0.4-1.7 0.6-1.7 1.6-1.8 0.9-0.2 0.4 0.1 0.3 0.9 2 0.2 1.3-0.2 1.7-0.4 1-0.9 1.3-1 0.8-1.7 0.6-2 0.2-0.4 0.2-0.2 0.3 0.2 2-0.6 2 0 0.7 0.9 3.3 1.1 2 1 1.1 1.3 0.9zM306.7 257l1.4 0.2 1.7 0 3.3-0.8 0.9-0.5 1.5-1.4 1.8-0.9 0.2-0.4-0.1-0.3-0.9-2-0.2-1.3 0.2-1.7 0.4-1 0.9-1.3 1-0.8 1.7-0.6 2-0.2 0.4-0.2 0.2-0.3-0.2-2 0.6-2.4-0.6-2.6-0.6-1.7-0.9-1.4-0.9-1-1.3-0.9-2-0.6-2.1 0-2.3 0.5-2.4 1-2.3 1.5-2 1.9-1.7 2-1.3 2.4-1.1 2.6-0.6 2.7-0.1 2.7 0.3 2.7 0.9 2.3 1.1 1.7 1.5 1.4zM381.6 257l2.7 0.2 2-0.3 1.8-1 1.5-1.7 1.2-2.3 0.5-2.7 0.1-2.7-0.6-3.3-1-2.7-1.5-2.6-1.7-2.1-2.1-2-2.2-1.4-2.7-1.1-2.4-0.5-2.3 0.3-1.4 0.4-1.3 0.9-1 1.1-1.1 2-0.9 3.3 0 0.7 0.6 2-0.2 2 0.2 0.3 0.4 0.2 2 0.2 1 0.3 1.2 0.7 0.7 0.7 1.1 1.9 0.2 1.4-0.2 1.5-1 2.5 0.3 0.5 1.7 0.8 1.7 1.6zM340.6 233.5l0.4-0.1 1.2-1.6 1.1-1 1.2-0.7 1.2-0.3 1.3 0 1.9 0.6 1.3 1 1.5 2 0.7-0.1 1.3-1 2-0.5 0.7-0.4 1.5-1.3 1.4-1.7 0.7-1.3 0.5-1.4 0.1-1.3-0.3-1.7-0.5-1.3-0.8-1.4-2-2-2.6-1.7-2.7-1.1-3-0.7-3.4-0.1-3.3 0.5-3 1.1-2.7 1.5-2 1.8-1.4 2.1-0.7 2.3 0.1 2.4 1.1 2.3 2.4 2.7 1.2 0.7 2 0.5z"/>
<path fill="#ffde00" d="M343.7 312l2 0.2 2 0 2-0.3 2-0.5 1.8-0.8 1.7-1 1.4-1 1.2-1.3 0.9-1.4 0.6-1.3 0.3-1.7 0-1.3-0.4-1.4-0.6-1.3-0.9-1.4-1.3-1.3-0.7-0.4-2-0.6-1.5-1-0.5-0.1-1.4 1.8-1.3 1-1.7 0.6-1.6 0.1-1.4-0.4-1-0.5-0.9-0.8-1.4-1.8-0.4 0-1.6 1.1-2.4 0.7-1.6 1.6-1.2 2.1-0.7 2.3 0.1 2 1 2.4 1.6 2 2.2 1.7 2.6 1.2zM313.5 295.2l2.3 0.3 2-0.3 2-0.9 1.4-1.3 1.3-2.3 0.7-2.2 0-0.7-0.5-2 0.1-2-0.3-0.3-2-0.3-1.7-0.6-1-0.8-1-1.3-0.4-1.1-0.2-1.7 0.2-1.3 0.8-2 0-0.4-1.9-1-1.5-1.5-0.7-0.3-2.7-0.5-2.6 0.2-1.4 0.5-1.5 1-1.1 1.3-0.9 1.7-0.6 1.7-0.2 2 0 2 0.4 2.4 0.6 2 0.9 2 1.1 1.7 1.3 1.7 1.7 1.6 1.7 1.2 2 1zM374.9 295.2l1.7 0.3 2-0.1 2-0.6 2-0.9 2-1.4 1.7-1.6 1.6-2.1 1.1-2 0.9-2.3 0.6-2.4 0.1-2.3-0.2-2.4-0.6-2-0.9-1.7-1.1-1.3-1.5-1-1.4-0.5-1.3-0.2-1.7 0-1.7 0.3-1.3 0.5-1.5 1.5-1.9 1 0 0.4 0.8 2 0.2 1.3-0.2 1.7-0.4 1.1-1 1.3-1 0.8-1.7 0.6-2 0.3-0.3 0.3 0.1 2-0.6 2.4 0.8 2.5 1 1.9 1 1.1 1.3 1zM309.1 256.6l2-0.1 2-0.4 0.7-0.3 1.5-1.5 1.9-1 0-0.4-0.8-2-0.2-1.3 0.2-1.7 0.4-1.1 1-1.3 1-0.8 1.7-0.6 2-0.3 0.3-0.3-0.1-2 0.6-2.4-0.6-2-0.9-1.8-1-1.4-1-0.9-1.3-0.7-2-0.5-2 0.1-2.4 0.6-2.3 1.1-2.1 1.5-1.9 2-1.6 2.4-1.1 2.3-0.8 2.7-0.2 2.7 0.1 2.4 0.7 2.3 1.1 2 1.4 1.4 1.7 0.9zM382.3 256.6l2.3-0.1 1.7-0.6 1.7-1.2 1.3-1.8 0.9-2 0.4-2.7-0.1-2.7-0.6-2.7-1-2.6-1.5-2.4-1.8-2.1-2-1.6-2.3-1.4-2.4-0.7-2.3-0.2-2.1 0.4-1.3 0.6-1.3 1.1-1 1.4-0.8 1.5-0.7 2.3 0.6 2.4-0.1 2 0.3 0.3 2 0.3 1.7 0.6 1 0.8 1 1.3 0.4 1.1 0.2 1.7-0.2 1.3-0.8 2 0 0.4 1.9 1 1.8 1.7 1.4 0.4zM340.6 233.2l0.4 0 1.4-1.8 0.9-0.8 1-0.5 1.4-0.4 1.6 0.1 1.7 0.6 1.3 1 1.4 1.8 0.5-0.1 1.5-1 2.4-0.7 1-1 1.3-1.7 0.7-1.3 0.4-1.3 0.1-1.4-0.2-1.7-0.5-1.3-0.8-1.3-1.7-1.8-2.3-1.6-2.7-1.2-3-0.6-3.1-0.1-3 0.4-2.7 1-2.6 1.5-2.1 2-1.3 2-0.5 2.4 0.2 2 1 2.3 2 2.4 0.7 0.4 2 0.6z"/>
<path fill="#ffc800" d="M343.7 311.4l2 0.2 2-0.1 3.7-0.7 1.7-0.7 1.6-1 2.4-2.2 0.8-1.3 0.6-1.3 0.3-1.4 0-1.3-0.2-1.4-0.6-1.3-1-1.7-0.9-0.9-2.4-0.8-1.6-1.1-0.4 0-1.6 1.8-1.1 0.8-1.6 0.6-1.7 0.1-2.2-0.8-1.2-1-1.3-1.5-0.4 0-1.6 1.1-2 0.6-1 0.8-1.3 2-0.8 2.3 0.1 2.4 0.8 2 1.4 2 2.1 1.7 2.3 1.2zM314.1 294.6l2 0.1 2.1-0.5 1.6-0.9 1.4-1.2 1-1.6 0.8-2 0-0.7-0.6-2 0.1-2-0.3-0.2-2-0.4-1.4-0.6-1.1-0.8-0.9-1.2-0.5-1.2-0.1-1.3 0.2-1.7 0.6-2-0.2-0.3-1.7-0.9-1.5-1.5-0.5-0.2-2.3-0.4-2.4 0.3-1.3 0.5-1.4 0.9-1.1 1.3-1 1.6-0.5 1.7-0.3 2 0 2 0.4 2.1 0.6 2 1 2 1.1 1.7 1.4 1.6 1.5 1.3 1.6 1.1 1.7 0.8zM375.9 294.6l1.7 0.1 2-0.4 2-0.7 1.7-1 1.8-1.4 1.5-1.7 1.1-1.7 1.1-2 0.6-2 0.5-2.4 0-2.3-0.4-2-0.6-1.7-1-1.7-1.3-1.2-1.4-0.8-2.6-0.5-2.7 0.2-0.8 0.3-1.5 1.5-1.7 0.9-0.2 0.3 0.6 2 0.2 1.7-0.1 1.3-0.5 1.2-0.9 1.2-1.1 0.8-1.4 0.6-2.3 0.6 0.1 2-0.6 2.4 0.8 2.3 1 1.6 1.4 1.2 1.3 0.8zM308.8 256l2.3 0.1 2-0.3 0.5-0.2 1.5-1.5 1.7-0.9 0.2-0.3-0.6-2-0.2-1.7 0.1-1.3 0.5-1.2 0.9-1.2 1.1-0.8 1.4-0.6 2.3-0.6-0.1-2 0.6-2.4-0.4-1.3-0.8-1.6-1-1.3-1-0.9-1.3-0.8-2-0.5-2 0-2 0.5-2.1 0.9-2 1.3-1.7 1.7-1.5 2-1.3 2.4-0.7 2.3-0.4 2.4 0 2.3 0.6 2.4 0.7 1.7 1.4 1.7 1.6 1.1zM380.2 256l2.4 0.1 2-0.3 1.8-0.9 1.5-1.3 1.2-2 0.6-2 0.2-2.4-0.2-2.7-0.8-2.7-1.2-2.3-1.4-2.1-2-2-2-1.3-2.4-1.1-2.3-0.4-2.1 0.2-1.6 0.5-1.4 0.9-1 1-1 1.6-0.8 2.3 0.6 2.4-0.2 1.7 0.1 0.3 0.3 0.2 2 0.4 1.4 0.6 1.6 1.5 0.8 1.3 0.2 1.7-0.2 1.7-0.6 2 0.2 0.4 1.7 0.8 1.5 1.5zM340.6 232.9l0.4 0 1.3-1.5 1.2-1 2.2-0.8 1.7 0.1 1.6 0.6 1.1 0.8 1.6 1.8 0.4 0 1.6-1.1 2.4-0.8 0.9-0.9 1-1.7 0.6-1.3 0.2-1.4 0-1.3-0.3-1.4-1.2-2.3-1.6-1.7-2.3-1.6-2.7-1.1-2.7-0.5-3 0-2.7 0.4-2.3 0.9-2.4 1.4-1.7 1.5-1.3 2-0.7 2.4 0.1 2 0.8 2.3 1.5 2.1 0.7 0.4 2 0.6z"/>
<path fill="#ffb200" d="M343.3 310.6l3.7 0.3 3.4-0.5 1.7-0.6 1.6-0.8 2.4-2.1 1.5-2.3 0.4-1.3 0.2-1.4-0.1-1.3-0.4-1.4-0.9-1.7-0.8-1-2.3-0.7-1.6-1.1-0.4 0-1.5 1.5-1.5 1-1.3 0.5-1.7 0-1.4-0.3-0.9-0.5-2.4-2.2-0.4 0-1.6 1.1-2 0.6-0.6 0.5-1.2 2-0.6 2 0 2 0.7 2 1.3 2 1.7 1.6 2.3 1.3zM314.8 293.9l2-0.1 1.7-0.5 1.3-0.7 1.4-1.3 1-1.6 0.5-1.2 0-0.7-0.3-0.7-0.2-1.3 0.1-1.7-0.2-0.3-1.9-0.5-1.7-0.8-0.9-0.7-0.8-1.1-0.5-1.3-0.2-1.3 0.7-3.7-1.9-1-1.8-1.6-2-0.3-2 0.3-1.5 0.6-1.4 1-1.1 1.3-0.8 1.4-0.6 1.6-0.2 2.1 0 2 0.4 2 0.7 2 0.9 1.7 1.2 1.7 1.4 1.5 1.7 1.3 1.6 1 1.7 0.6zM376.6 293.9l2-0.1 1.6-0.4 1.7-0.8 1.7-1 1.6-1.4 1.4-1.7 1-1.7 0.9-2 0.5-2 0.2-2 0-2-0.5-2.1-0.8-1.6-1-1.4-1.3-1-1.7-0.8-2.3-0.4-2 0.3-1.8 1.6-1.9 1 0.7 3.7-0.2 1.3-0.5 1.3-0.8 1.1-0.9 0.7-1.7 0.8-1.9 0.5-0.2 0.3 0.1 2-0.5 2.1 0.2 1 0.7 1.1 1 1.4 1.3 1.1 1.7 0.8zM309.8 255.6l1.6 0.2 1.7-0.3 1.8-1.6 1.9-1-0.7-3.7 0.2-1.3 0.5-1.3 0.8-1.1 0.9-0.7 1.7-0.8 1.9-0.5 0.2-0.3-0.1-2 0.5-2.1-0.2-1-1-1.6-1-1.2-1-0.8-1.3-0.7-1.7-0.4-2 0.1-2 0.4-2.1 0.9-2 1.5-1.7 1.7-1.3 2-1 2.2-0.7 2.3-0.3 2.4 0.2 2 0.6 2 0.9 1.7 1.3 1.5 1.7 1.1zM379.9 255.6l2 0.2 2-0.4 1.8-0.8 1.5-1.4 1.2-2 0.6-2 0.3-2.3-0.3-2.4-0.7-2.3-1.1-2.4-1.4-2-1.9-1.8-2-1.3-2-0.9-2.3-0.4-2.1 0.2-1.6 0.5-1.4 0.9-1 1-1 1.6-0.5 1.5 0.5 2.1-0.1 2 0.2 0.3 1.9 0.5 1.4 0.6 1.6 1.5 0.8 1.4 0.3 1.4-0.1 1.7-0.6 2.3 1.9 1 1.4 1.4zM340.6 232.6l0.4 0 0.3-0.2 1.2-1.3 1.2-0.8 2-0.7 1.7 0 1.3 0.5 1.5 1 1.5 1.5 0.4 0 1.6-1.1 2-0.6 0.9-0.8 0.8-1.4 0.5-1.3 0.2-1.3 0-1.4-0.3-1.3-1.2-2.4-1.5-1.7-2-1.3-2.4-1-2.7-0.6-2.7 0-2.3 0.3-2.4 0.8-2.3 1.3-1.7 1.6-1.3 2-0.7 2 0 2.3 0.7 2 1.3 2 0.7 0.4 1.7 0.4z"/>
<path fill="#ff9c00" d="M345.3 310.3l3.1-0.1 3-0.8 2.7-1.5 1.9-2 1.2-2.3 0.4-2.4-0.2-1.3-0.4-1.3-1.3-1.9-2.3-0.8-1.7-1-1.8 1.6-1.2 0.8-1.3 0.4-1.7 0.1-1.4-0.4-1-0.5-2.3-2-1.7 1-2.1 0.6-0.7 0.7-1 2-0.4 2.4 0.4 2 0.9 2 1.6 1.7 2 1.5 2.7 1.1zM314.8 293.2l2-0.1 1.7-0.5 1.3-0.7 1.4-1.3 0.9-1.4 0.3-1-0.5-2.1 0.2-2-0.4-0.3-1.9-0.6-1.3-0.6-0.9-0.8-0.8-1-0.6-1.4-0.2-1.3 0.1-1.4 0.5-1.6-0.1-0.6-1.7-0.9-1.7-1.5-1.3-0.2-1.7 0.1-1.7 0.6-1.2 0.8-1.1 1-0.9 1.3-0.7 1.7-0.3 1.7-0.1 2 0.3 2 0.6 2 0.8 1.7 1.1 1.7 1.2 1.4 1.7 1.4 1.6 1 1.7 0.6zM376.6 293.2l2-0.1 1.6-0.4 1.7-0.8 1.6-1.1 1.5-1.3 1.3-1.7 1-1.7 0.7-2 0.5-2 0.1-1.7-0.2-2-0.5-1.7-0.8-1.6-1.1-1.3-1.4-1-1.3-0.6-2-0.3-1.6 0.1-1.8 1.6-1.7 0.9-0.1 0.6 0.5 1.6 0.1 1.4-0.2 1.3-0.6 1.4-0.8 1-0.9 0.8-1.3 0.6-1.9 0.6-0.4 0.3 0.2 2-0.5 2.1 0.7 1.6 1.2 1.5 1.3 1 1.4 0.6zM310.1 255.3l1.7 0.1 1.3-0.2 1.7-1.5 1.7-0.9 0.1-0.6-0.5-1.6-0.1-1.4 0.2-1.3 0.6-1.4 0.8-1 0.9-0.8 1.3-0.6 1.9-0.6 0.4-0.3-0.2-2 0.5-2.1-0.1-0.6-1.5-2.2-1-0.9-1.3-0.7-1.7-0.5-2-0.1-2 0.4-2 0.9-1.7 1.1-1.7 1.7-1.4 2-1 2-0.7 2.3-0.2 2 0.1 2 0.6 2.1 0.8 1.6 1.2 1.4 1.4 1zM379.9 255.3l2 0.1 2-0.6 1.6-0.9 1.3-1.3 1-1.7 0.6-2 0.2-2-0.2-2.4-0.7-2.3-1-2-1.4-2-1.7-1.7-2-1.3-2-0.8-2-0.3-2.1 0.1-1.3 0.5-1.3 0.7-1 0.9-1.1 1.5-0.5 1.3 0.5 2.1-0.2 2 0.4 0.3 2.9 1 1.6 1.5 0.7 1.2 0.4 1.7 0 1.3-0.5 2 0.1 0.6 1.7 0.9 1.3 1.3zM340.3 232.1l0.7 0.3 2.3-2 1-0.5 1.4-0.4 1.7 0.1 1.3 0.4 1.2 0.8 1.8 1.6 1.7-1 2.3-0.8 1.3-1.9 0.6-2.3-0.3-2.4-0.8-2-1.3-1.6-1.8-1.5-2.4-1.1-2.3-0.7-2.7-0.1-2.3 0.2-2.4 0.7-2 1-1.8 1.5-1.5 2-0.7 2-0.2 2 0.6 2.3 1.1 1.7 0.5 0.4 2 0.6z"/>
<path fill="#ff8900" d="M344.7 309.7l3 0 2.7-0.6 2.7-1.2 2-1.8 1.4-2.2 0.5-2.3-0.2-2.4-0.5-1.3-0.6-0.8-0.3-0.3-2-0.6-1.7-1-2.3 1.8-1 0.5-1.4 0.3-1.7 0-1.3-0.5-3-2.1-1.7 1-2 0.6-0.3 0.3-1 1.8-0.4 2 0.3 2 0.9 2 1.3 1.7 1.9 1.5 2.3 1zM314.5 292.5l2 0.1 1.7-0.4 1.6-0.9 1.4-1.3 0.6-1 0.4-0.8-0.5-2.1 0.1-2-3.3-1.5-1-0.8-0.8-1-0.4-1-0.3-1.4 0.3-3.7-1.8-1-1.7-1.4-2 0-1.4 0.4-1.3 0.7-1.2 1-1 1.3-0.7 1.7-0.4 1.7-0.1 1.7 0.2 2 0.6 2 0.8 1.7 1.1 1.7 1 1.2 1.4 1.1 1.3 0.9 1.7 0.7zM375.9 292.5l1.7 0.1 1.6-0.3 1.7-0.6 1.7-0.9 1.5-1.3 1.2-1.3 1.1-1.7 0.9-2 0.5-1.7 0.2-2-0.1-2-0.5-1.7-0.8-1.7-1-1.2-1.3-1-1.4-0.6-1.6-0.4-1.4 0.1-1.7 1.4-1.8 1 0.3 3.7-0.3 1.4-0.4 1-0.8 1-1 0.8-3.3 1.5 0.1 2-0.5 2.1 0.4 1 1 1.2 1 0.9 1.3 0.7zM310.4 254.9l1.4 0.2 1-0.1 1.7-1.4 1.8-1-0.3-3.7 0.3-1.4 0.4-1 0.8-1 1-0.8 3.3-1.5-0.1-2 0.5-2.1-0.2-0.6-1.5-1.9-2-1.3-1.7-0.5-2-0.1-2 0.5-1.7 0.7-1.7 1.1-1.5 1.5-1.2 1.7-1.1 2-0.6 2-0.3 2 0.1 2 0.5 2 0.8 1.7 1.2 1.3 1.5 1.1zM379.9 255l1.7 0.1 2-0.6 1.4-0.9 1.3-1.4 1-1.6 0.6-2.1 0.1-2-0.3-2.3-0.6-2-1.1-2-1.4-1.9-1.6-1.5-1.7-1.1-2.1-0.7-2-0.3-1.7 0.1-1.3 0.5-1.3 0.7-1 0.9-1 1.4-0.4 0.8 0.5 2.1-0.1 2 0.5 0.3 2.5 1 1.6 1.4 0.8 1.3 0.4 1.3 0 1.4-0.3 2.7 1.8 1zM341 232.1l2.3-1.8 1-0.5 1.4-0.3 1.7 0 1.3 0.5 3 2.1 1.7-1 2.1-0.7 0.6-0.6 0.5-1.1 0.5-2.3-0.4-2.4-1-2-1.3-1.5-1.7-1.3-2-0.9-2.3-0.6-2.4-0.2-2.3 0.3-2 0.6-2.1 1-1.8 1.6-1.4 2-0.7 2.1 0 2 0.4 1.6 0.9 1.5 0.3 0.3 2 0.6z"/>
<path fill="#ff7300" d="M344 309l3 0.2 2.7-0.4 2.7-1.2 2-1.6 1.5-2.1 0.7-2.3-0.2-2.4-0.5-1.3-0.5-0.7-2-0.7-1.7-1.1-2.7 1.8-2 0.7-1.7-0.1-1.3-0.4-3-2-1.7 1.1-2 0.7-0.8 1.4-0.4 2 0.2 2 0.7 1.7 1.3 1.6 1.7 1.5 2 1zM314.1 291.9l2 0.1 1.7-0.3 1.7-0.7 1.3-1.1 0.8-1.1 0.2-0.6-0.4-2.1 0.2-1.6-0.1-0.4-0.3-0.2-1.7-0.6-1.3-0.8-1.6-1.7-0.4-1-0.3-1.4 0.2-3.5-1.6-0.9-1.7-1.4-1.4-0.1-1.3 0.4-1.3 0.6-1.1 0.9-1.1 1.3-0.7 1.4-0.5 1.7-0.1 1.6 0.1 1.7 0.3 1.7 0.7 1.7 0.9 1.6 1.1 1.4 1.4 1.3 1.3 0.9 1.4 0.7zM375.5 291.9l1.7 0.1 1.7-0.2 1.7-0.5 1.7-1 1.3-1.1 1.3-1.4 1.1-1.7 0.7-1.6 0.5-1.7 0.2-2-0.1-1.7-0.4-1.7-0.6-1.3-1-1.4-1.4-1.2-1.3-0.6-1.7-0.4-1 0.1-1.7 1.4-1.6 0.9 0.2 3.5-0.3 1.4-0.4 1-0.9 1.1-1 0.8-3 1.4 0.1 2-0.4 2.1 0.2 0.6 0.8 1.1 1 0.9 1.3 0.7zM310.8 254.6l1.3 0.2 0.7-0.1 1.7-1.4 1.6-0.9-0.2-3.5 0.3-1.4 0.4-1 0.9-1.1 1-0.8 3-1.4-0.1-2 0.4-2.4-1.3-1.7-2-1.3-1.7-0.5-1.7 0-2 0.4-1.7 0.7-1.6 1.1-1.4 1.3-1.3 1.7-0.9 1.7-0.6 2-0.3 2 0.1 2 0.4 1.7 0.8 1.7 1.1 1.3 1.4 1.1zM379.9 254.7l1.4 0.1 2-0.7 1.3-0.9 1.3-1.3 0.9-1.7 0.5-2 0.1-2-0.3-2-0.6-2-1.1-2-1.4-1.7-1.4-1.3-1.7-1-2-0.7-2-0.2-1.7 0.2-1.3 0.4-1 0.6-1 0.9-0.8 1.1-0.2 0.6 0.4 2.1-0.1 2 2.7 1.2 1.7 1.5 0.8 1.3 0.3 1.3-0.1 3.9 1.6 0.9zM341 231.9l2.7-1.8 2-0.7 1.7 0.1 1.3 0.4 3 2 1.7-1.1 2-0.7 0.8-1.4 0.4-2.3-0.3-2-0.8-1.7-1.1-1.4-1.7-1.4-2-1-2-0.6-2-0.2-2.4 0.1-2 0.6-2 0.9-1.7 1.3-1.4 1.7-0.9 2-0.2 2 0.4 2 0.8 1.4 2 0.7z"/>
<path fill="#ff5d00" d="M345 308.6l2.7 0 2.3-0.5 2.4-1.1 1.7-1.4 1.4-2 0.6-2 0-2.4-0.8-1.7-1.9-0.7-1.7-1.1-0.3 0-1.7 1.2-1.3 0.7-1.4 0.4-1.3 0-2-0.7-2.4-1.6-0.3 0-1.7 1.1-2 0.8-0.6 1.3-0.2 2 0.5 2 0.8 1.7 1.5 1.6 1.7 1.2 2 0.8zM315.5 291.5l1.7-0.1 1.3-0.4 1.3-0.7 1.2-1.1 0.5-1-0.4-2.1 0.2-1.6-0.1-0.4-3-1.5-0.9-0.8-0.7-1-0.7-2-0.1-1.4 0.3-2-0.2-0.3-1.8-0.9-1.6-1.4-1.4 0.1-1.3 0.5-1.4 0.9-1 1.1-0.8 1.3-0.5 1.4-0.3 1.7 0 1.6 0.3 1.7 1.2 3 0.9 1.4 1.2 1.3 1.4 1.1 1.3 0.8 1.7 0.6zM376.6 291.5l1.6-0.1 1.4-0.3 1.7-0.8 1.3-0.9 1.3-1.2 1.1-1.4 0.9-1.7 0.6-1.6 0.3-1.7 0.1-1.7-0.3-1.7-0.5-1.7-0.8-1.3-1-1.1-1.4-0.9-1.3-0.5-1.4-0.1-1.6 1.4-1.8 0.9-0.2 0.3 0.3 2-0.1 1.4-0.7 2-0.7 1-0.9 0.8-3 1.5-0.1 0.4 0.2 1.6-0.4 2.1 0.3 0.8 1 1 1 0.7 1.4 0.5zM310.8 254.3l1.7 0.2 1.6-1.4 1.8-0.9 0.2-0.3-0.3-2 0.1-1.4 0.7-2 0.7-1 0.9-0.8 3-1.5 0.1-1-0.2-1 0.4-2.4-1.3-1.5-1.7-1-1.7-0.5-1.7 0-1.6 0.3-1.7 0.7-1.7 1.1-1.3 1.2-1.3 1.7-0.9 1.7-0.5 1.7-0.3 2 0.1 2 0.5 1.7 0.6 1.3 1 1.4 1.3 1zM379.9 254.3l0.7 0.2 0.7 0 1.6-0.6 1.4-1 1.3-1.5 0.9-1.8 0.3-1.7 0.1-2-0.4-2.1-0.7-2-1-1.6-1.2-1.4-1.7-1.4-1.7-0.9-1.6-0.5-2-0.2-1.7 0.3-1.4 0.5-1 0.7-1.3 1.5 0.4 2.4-0.2 1.6 0.1 0.4 3 1.5 1.2 1.2 0.7 1.3 0.4 1.3 0.1 1.4-0.3 2 0.2 0.3 1.8 0.9zM341 231.6l0.3 0 2.4-1.6 2-0.7 1.3 0 1.4 0.4 1.3 0.7 1.7 1.2 0.6-0.2 1.4-0.9 1.7-0.6 0.7-0.8 0.4-2-0.2-2-0.7-1.7-1.2-1.7-1.4-1.1-1.7-1-2-0.7-2-0.3-2.3 0.1-2 0.5-1.9 0.8-1.8 1.4-1.4 1.6-0.8 1.7-0.3 2 0.2 1.7 0.6 1.3 2 0.8z"/>
<path fill="#ff4700" d="M344 308l2.7 0.2 2.3-0.3 2.4-0.9 1.9-1.4 1.4-1.7 0.9-2 0.2-2.3-0.3-1-0.3-0.7-2.1-0.9-0.7-0.6-1-0.5-2.4 1.5-2 0.6-1.3 0-1.4-0.3-3-1.8-1 0.5-0.7 0.6-2 0.8-0.5 1.1-0.2 1.7 0.3 1.6 0.8 1.7 1 1.4 1.6 1.3 1.7 0.8zM314.5 290.9l1.6 0.1 1.7-0.2 1.4-0.5 1.3-1 0.7-1.1-0.4-2.1 0.2-1.6-0.1-0.4-2.7-1.5-1.5-1.5-0.6-1.3-0.3-1 0-3.5-1.7-0.8-1.6-1.3-0.7-0.1-1.1 0.3-1.2 0.7-1.2 1-0.7 1-0.7 1.3-0.4 1.4-0.2 1.6 0.1 1.7 0.9 3 1.8 2.7 1.3 1.2 1.2 0.8 1.5 0.7zM375.2 290.9l1.4 0.1 1.6-0.1 1.7-0.5 1.4-0.7 1.3-0.9 1.3-1.3 0.9-1.4 0.9-1.6 0.5-1.7 0.2-1.7-0.1-1.7-0.4-1.7-0.6-1.3-0.9-1.3-1.2-1-1.3-0.7-1-0.3-0.7 0.1-1.6 1.3-1.7 0.8 0 3.5-0.3 1-0.6 1.3-1.5 1.5-2.7 1.5-0.1 0.4 0.2 1.6-0.3 2.4 0.6 0.8 1 0.8zM310.8 253.9l1 0.3 0.7-0.1 1.6-1.3 1.7-0.8 0-3.5 0.3-1 0.6-1.3 1.8-1.8 2.4-1.2 0.1-1-0.2-1 0.3-2.4-0.9-1.1-1.4-0.8-1.3-0.5-1.7-0.1-1.7 0.2-1.6 0.5-1.7 1-1.4 1.1-1.1 1.4-1 1.7-0.6 1.6-0.4 2.1 0 1.6 0.4 1.7 0.7 1.7 0.9 1.3 1.2 1zM380.2 254.1l1.1 0 1.6-0.7 1.5-1.2 0.9-1.3 0.7-1.7 0.4-2-0.1-1.7-0.4-2-0.7-1.7-1.1-1.6-1.2-1.4-1.6-1.2-1.7-0.8-1.7-0.5-1.7 0-1.7 0.3-1.6 0.9-1.3 1.3 0.3 2.4-0.2 1.6 0.1 0.4 2.7 1.5 1.2 1.2 0.7 1 0.4 1.3 0.2 1.4-0.1 2.4 1.7 0.8zM340.6 231.1l0.7 0.3 2.7-1.7 1.3-0.4 1.1-0.1 2 0.4 1.3 0.7 1.3 0.9 0.7 0.1 1.4-1 2-0.8 0.3-0.4 0.3-1 0.1-1.4-0.2-1.3-0.5-1.4-1-1.5-1.4-1.3-1.7-1-1.6-0.7-2-0.4-2.1 0-2 0.4-1.6 0.7-1.7 1-1.6 1.5-1 1.7-0.5 2 0.1 1.7 0.5 1.3 2.1 0.9z"/>
<path fill="#ff3400" d="M345 307.7l2.4 0 2-0.4 2-0.9 1.7-1.2 1.3-1.6 0.8-1.7 0.2-2-0.4-1.7-1.9-0.9-1.7-1.1-2.7 1.5-1.3 0.4-1 0-1.1 0-1.3-0.4-2.7-1.5-1.7 1.1-1.9 0.9-0.4 1.4 0.1 1.6 0.5 1.7 0.9 1.4 1.2 1.2 1.3 0.9 1.7 0.8zM315.1 290.5l1.7 0.1 1.4-0.3 1.3-0.6 1-0.9 0.3-0.6-0.3-2.1 0.3-1.6-0.2-0.4-1.8-0.9-1-0.7-1.2-1.4-0.6-1.3-0.3-1 0-3.1-0.2-0.3-1.6-0.7-1.8-1.3-0.7 0.1-1 0.4-1.2 0.8-0.9 1-0.8 1.4-0.7 2.7 0.2 3 0.6 1.7 0.6 1.3 1.9 2.3 2.4 1.6zM375.5 290.5l1.4 0.1 1.7-0.2 1.6-0.7 1.4-0.8 2.2-2.1 0.9-1.3 0.7-1.7 0.5-3-0.1-1.7-0.3-1.4-0.7-1.3-1-1.3-1.2-1-1-0.5-1-0.2-1.8 1.3-1.6 0.7-0.2 0.3 0 3.1-0.3 1-0.6 1.3-1.2 1.4-1 0.7-1.8 0.9-0.2 0.4 0.3 1.6-0.2 2.4 0.5 0.7 1 0.6zM310.8 253.6l1.3 0.3 1.8-1.3 1.6-0.7 0.2-0.3 0-3.1 0.3-1 0.6-1.3 0.9-1.1 1-0.8 2.1-1.1 0.2-0.4-0.3-1.6 0.2-2.4-0.5-0.7-1-0.6-1.4-0.6-1.7-0.2-1.6 0.2-1.7 0.5-1.4 0.7-1.3 1.1-1.2 1.3-1 1.7-0.7 1.6-0.4 1.7 0 1.7 0.2 1.7 0.5 1.3 0.9 1.5 1 1zM380.2 253.7l0.4 0.2 0.7-0.1 1.3-0.6 1.3-1.1 1.1-1.5 0.7-1.7 0.2-1.7-0.1-2-0.4-1.7-0.7-1.7-1.1-1.6-1.3-1.3-1.4-1-1.7-0.8-1.6-0.3-1.7-0.1-1.4 0.3-1.6 0.9-0.9 0.9 0.2 2.4-0.3 1.6 0.2 0.4 1.8 0.9 1 0.7 1.2 1.4 0.6 1.3 0.3 1 0 3.1 0.2 0.3 1.6 0.7zM341.3 231.1l2.7-1.5 1.3-0.4 1.1 0 1 0 1.3 0.4 2.3 1.4 0.7 0 1.4-1 1.6-0.7 0.5-0.6 0.2-1 0-1.3-0.8-2.4-0.9-1.3-1.3-1.2-1.7-1-1.7-0.6-1.6-0.3-2.1 0-2 0.4-1.6 0.7-1.7 1.1-1.5 1.6-0.9 1.7-0.3 2 0.1 1.3 0.3 0.7 1.9 0.9z"/>
<path fill="#ff1e00" d="M346 307.3l2.7-0.3 1.3-0.4 1.7-0.9 1.4-1.1 1-1.3 0.7-1.4 0.3-2-0.4-1.4-1.6-0.8-1.7-1.2-0.5 0-2.2 1.3-1 0.3-1.3 0.1-1.4-0.1-1-0.3-2.2-1.3-0.5 0-1.7 1.2-1.6 0.8-0.4 1.4 0.3 2 0.7 1.4 1 1.3 1.4 1.1 1.7 0.9 1.3 0.4zM315.8 290.2l2.4-0.3 1.3-0.7 0.7-0.5 0.2-0.5-0.2-2.1 0.3-1.6-0.2-0.4-2.5-1.5-1.5-1.8-0.7-2-0.1-3.1-1.7-0.7-1.7-1.1-1 0.1-0.8 0.4-1.2 1-0.8 1-0.6 1.3-0.3 1.4-0.1 1.3 0 1.7 0.4 1.4 1.1 2.3 1 1.3 1 1.1 2.3 1.4zM376.2 290.2l2.6-0.4 1.4-0.6 1.2-0.7 1.2-1 1-1.2 1.3-2.6 0.5-1.6 0-1.3-0.1-1.7-0.3-1.4-0.6-1.3-0.8-1-1.2-1-0.8-0.4-1-0.1-1.7 1.1-1.7 0.7-0.1 3.1-0.7 2-1.5 1.8-2.5 1.5-0.2 0.4 0.3 1.6-0.1 2.4 1.2 1 0.9 0.4zM311.1 253.3l1 0.1 1.7-1.1 1.7-0.7 0.1-3.1 0.7-2 1.5-1.8 2.5-1.5 0.2-0.4-0.3-1.6 0.2-2.1-0.4-0.6-0.9-0.7-0.9-0.4-2.1-0.3-2 0.3-1 0.3-1.3 0.7-1.4 1.1-1.3 1.5-0.7 1.2-0.6 1.4-0.5 1.6 0.1 3.4 0.7 1.8 1 1.5 1.2 1zM380.6 253.4l1.3-0.2 1.4-0.9 1-1.3 0.7-1.4 0.3-1.4 0.1-2-0.1-1.4-0.6-2-0.7-1.3-1.1-1.4-1-1-1.7-1-1.4-0.6-1.7-0.4-1.1 0-1.6 0.4-1.3 0.6-0.7 0.7 0.1 2.4-0.3 1.6 0.2 0.4 2.5 1.5 1.5 1.8 0.7 2 0.1 3.1 1.7 0.7zM341.3 230.8l0.5 0 2.2-1.3 1-0.3 1.4-0.1 1.3 0.1 1 0.3 2.2 1.3 0.5 0 1.7-1.2 1.7-0.9 0.3-1.6-0.6-2.4-1.1-1.6-1.1-1.1-1.6-1-1.7-0.6-3.2-0.4-2.1 0.4-1.7 0.6-2 1.4-1.4 1.6-0.7 1.4-0.3 1.7 0 0.8 0.4 0.9 1.6 0.8z"/>
<path fill="#f10800" d="M345.7 306.3l1.7 0 1.6-0.4 1.7-0.7 1.3-0.9 1.3-1.4 0.7-1.3 0.3-1.4-0.2-1-0.7-0.2-1.1-0.8-0.6-0.7-1-0.5-2.7 1.2-1.6 0.2-1.7-0.2-2.4-1-0.6-0.1-1.4 1.2-1.7 0.9-0.2 1 0.3 1.4 0.7 1.3 0.9 1 1 0.9 1.4 0.7 1.3 0.5zM315.1 289.2l2.4 0 1.7-0.7 0.2-0.3-0.1-2.1 0.5-1.6-0.2-0.4-2.4-1.9-1-1.4-0.7-1.7-0.4-2.7-1-0.5-0.6-0.1-2.1-1.1-0.6 0.3-0.9 0.7-1.2 2-0.5 2.4 0.3 2.7 1 2.3 1.6 2 2 1.4zM375.2 289.2l1.4 0.1 1.3-0.2 2.3-0.9 2.1-1.8 1.4-2.3 0.8-2.7-0.2-2.6-1-2.4-0.9-1-0.8-0.6-0.7 0-1.7 1-0.6 0.1-1 0.5-0.4 2.7-0.7 1.7-1.3 1.7-2.1 1.6-0.1 1 0.4 1-0.1 2.1 0.8 0.6zM310.8 252.3l0.6 0.3 0.4-0.1 1.7-1 0.6-0.1 1.1-0.5 0.3-2.7 0.7-1.7 1-1.4 2.4-1.9 0.2-0.4-0.5-1.6 0.1-2.1-0.6-0.5-1-0.4-1.3-0.2-1.4 0.1-1.3 0.4-2.4 1.4-1 1-0.9 1.3-1.1 2.7-0.2 1.6 0.1 1.4 0.3 1.3 0.6 1.4 0.7 1zM380.9 252.5l0.7 0 1.2-0.9 0.9-1.4 0.5-1.3 0.3-1.4 0-1.6-0.4-1.7-0.5-1.4-0.8-1.3-1.2-1.3-2.4-1.6-1.3-0.4-1.3-0.2-1.4 0.1-1.1 0.4-0.8 0.6 0.1 2.1-0.4 1 0.1 1 2.1 1.6 1.3 1.7 0.7 1.7 0.4 2.7 1 0.5 0.6 0.1zM341.7 230.2l0.6-0.1 2.4-1 1.7-0.2 1.6 0.2 2.4 1 0.6 0.1 1.4-1.2 1.7-0.9 0.2-0.7-0.2-1.3-0.6-1.4-1.1-1.3-1.4-1.1-1.3-0.7-1.3-0.4-1.7-0.2-1.7 0.1-1.7 0.4-1.7 0.9-1.6 1.3-1 1.4-0.6 1.6 0 0.7 0.2 0.7 1.7 0.9z"/>
<path fill="#da0000" d="M345.3 305.3l2.7-0.1 1.4-0.4 1.3-0.7 1.1-0.8 0.9-1.2 0.5-1.2-0.1-0.7-0.7-0.3-0.7-0.7-0.7-0.9-0.6-0.6-2.7 0.7-1.3 0.2-1.7-0.2-2-0.7-0.6 0.2-1.1 1.3-1.4 1-0.1 0.7 0.2 0.7 0.9 1.3 1.4 1.2 1.7 0.8zM314.8 288.2l1.7 0.2 1.3-0.3 0.2-0.3 0-0.7 0.3-1.3 0.4-0.7 0.1-1-1.7-1.7-1-1.3-0.6-1.3-0.7-2.6-1-0.4-0.7 0.1-2-0.8-1 0.9-0.8 1.8-0.2 2 0.4 2 0.7 1.7 1.3 1.6 1.6 1.3zM375.2 288.2l2 0.1 2-0.7 1.7-1.2 1.6-1.9 0.8-2.1 0.3-2.3-0.6-2.4-1.1-1.5-0.3-0.1-2 0.8-0.7-0.1-1 0.4-0.7 2.6-0.6 1.3-1 1.3-1.7 1.7 0.1 1 0.4 0.7 0.3 1.3 0 0.7zM310.8 251.1l0.3 0.1 2-0.8 0.7 0.1 1-0.4 0.7-2.6 0.6-1.3 1-1.3 1.7-1.7-0.1-1-0.4-0.7-0.3-1.3 0-0.7-0.3-0.4-0.9-0.2-1 0-2.3 0.8-1.7 1.2-1.6 1.9-0.8 2.1-0.3 2.3 0.6 2.4zM381.3 251.1l0.3 0.1 0.3-0.1 0.5-0.5 0.6-1 0.4-1.4 0.2-1.3-0.1-1.4-0.8-2.3-1.5-2-2-1.5-2.3-0.8-1 0-0.9 0.2-0.3 0.4 0 0.7-0.3 1.3-0.4 0.7-0.1 1 1.7 1.7 1 1.3 0.6 1.3 0.7 2.6 1 0.4 0.7-0.1zM342.3 229.6l2.7-0.7 1.4-0.2 1.3 0.2 2.7 0.7 0.6-0.6 0.7-0.9 0.7-0.7 0.7-0.3 0.1-0.4-0.1-0.6-0.5-1-0.9-1.1-1-0.8-1.3-0.7-2.7-0.5-1.7 0.1-1.3 0.3-1.4 0.6-1.3 1-1 1.2-0.5 1.2 0.1 0.7 0.7 0.3 0.7 0.7 0.7 0.9z"/>
<path fill="#bf0000" d="M344.7 304.3l2 0.2 1.7-0.3 1.5-0.6 1.3-1 0.5-1-0.7-0.6-0.6-1-0.2-0.8-0.5-0.6-0.7-0.1-2.6 0.3-3.1-0.4-0.6 0.5-0.2 0.3-0.2 0.8-0.6 1-0.7 0.6 0.1 0.3 1.2 1.4zM314.8 287.2l1 0.2 0.5-0.3 0-0.6 0.5-1 0.7-0.7 0.3-1-1.8-2.4-1.2-2.9-0.3-0.3-0.7-0.1-1 0.2-2-0.3-0.6 1.1-0.2 1.3 0.2 1.7 0.5 1.4 0.8 1.3 1 1.1 1 0.7zM376.6 287.3l1 0 1.6-0.7 1.4-1 1.1-1.5 0.7-1.7 0.3-1.6-0.2-1.7-0.6-1.1-2 0.3-1-0.2-0.7 0.1-0.3 0.3-1.2 2.9-1.8 2.4 0.3 1 0.7 0.7 0.5 1zM310.8 249.3l2-0.3 1 0.2 0.7-0.1 0.3-0.3 1.2-2.9 1.8-2.4-0.3-1-0.7-0.7-0.5-1-0.2-0.8-1 0-1.6 0.7-1.4 1-1.1 1.5-0.7 1.7-0.3 1.6 0.2 1.7zM378.9 249.2l1-0.2 2 0.3 0.4-0.4 0.3-1 0-2.4-0.7-2-1.3-1.8-1.7-1.2-1-0.4-1-0.2-0.5 0.3 0 0.6-0.5 1-0.7 0.7-0.3 1 1.8 2.4 1.2 2.9 0.3 0.3zM343.3 228.9l3.1-0.4 2.6 0.3 0.7-0.1 0.5-0.6 0.2-0.8 0.6-1 0.7-0.6-0.1-0.3-1.2-1.4-2.2-1-2.2-0.2-2.3 0.5-1.8 1.1-0.7 0.7-0.2 0.6 0.7 0.6 0.6 1 0.4 1z"/>
<path fill="#a40000" d="M344.7 303.3l2 0.2 1.4-0.2 0.6-0.4-0.7-0.7 0.4-0.6-0.4-0.7 0.5-0.7 0-0.3-0.5-0.6-1-0.1-2.3 0.1-0.5 0.6 0 0.3 0.5 0.7-0.4 0.7 0.4 0.6-0.7 0.7zM313.5 285.2l0.1-0.1 0.1-0.6 0.8-0.1 0.3-0.7 1 0.1 0.5-0.7 0-0.3-0.5-1-1-1.7-0.3-0.1-0.7 0-0.7 1-0.6-0.1-0.4 0.6-0.7-0.3-0.2 0.2 0.1 1 0.5 1.2 0.7 0.9zM379.2 285.2l1-0.7 0.7-0.9 0.5-1.2 0.1-1-0.2-0.2-0.7 0.3-0.4-0.6-0.6 0.1-0.7-1-0.7 0-0.3 0.1-1 1.7-0.5 1 0 0.3 0.5 0.7 1-0.1 0.3 0.7 0.8 0.1 0.1 0.6zM313.8 247.3l1-0.1 1.5-2.7-0.5-1-1 0.1-0.3-0.7-0.8-0.1-0.1-0.6-0.1-0.1-1 0.7-0.7 0.9-0.5 1.2-0.1 1 0.2 0.2 0.7-0.3 0.4 0.6 0.6-0.1zM378.2 247.3l0.7 0 0.7-1 0.6 0.1 0.4-0.6 0.7 0.3 0.2-0.2-0.1-1-0.5-1.2-0.7-0.9-1-0.7-0.1 0.1-0.1 0.6-0.8 0.1-0.3 0.7-1-0.1-0.5 0.7 0 0.3 0.5 1 1 1.7zM345 228.1l3-0.1 0.5-0.6 0-0.3-0.5-0.7 0.4-0.7-0.4-0.6 0.7-0.7-0.7-0.4-1.6-0.3-1.7 0.3-0.7 0.4 0.7 0.7-0.4 0.6 0.4 0.7-0.5 0.7 0 0.3 0.5 0.6z"/>
</g>
<path fill="none" stroke="#ececec" stroke-opacity=".55" stroke-width=".5" d="M345.3 294.3l-1-0.5-0.2-0.6 1.7-3 0.6-0.4 0.5 0.4 1.1 1.6 0.6 1.7-0.2 0.4-1 0.4-2.1 0M344 288.9l-5.1-1.4-5-2.1-3.7-2.7-4.1-3.9-2-2.7-1.2-3.3-1.3-6.1-0.3-4.1 1-5.7 1.2-4.3 1.2-2.4 2.9-3.2 4.7-4 3-1.8 6.9-2.4 2.8-0.5 2-0.1 4.7 0.9 6.4 2.4 3.4 2.3 4.7 4.2 2.2 2.9 1.4 3.6 1.3 6.1 0.3 4.1-1.2 6.7-1.4 4.1-1.9 2.9-3.1 3.1-4.4 3.5-3.8 1.8-3.9 1.4-2.8 0.6-2.2 0.3-2.7-0.2M321.2 280.5l-0.9-0.7-0.7-1-0.3-1.1 0-1 0.5-0.3 1-0.1 2.7 0.3 0.2 0.8-0.9 1.7-1 1.3-0.6 0.1M371.2 280.5l-0.7-0.4-0.6-1-0.9-1.7 0-0.7 0.5-0.3 2-0.1 1.7 0.3 0.3 0.5-0.4 1.7-0.9 1.2-1 0.5M319.8 250.9l-0.5-0.3-0.1-0.4 0.4-1.7 1.2-1.5 0.7-0.2 0.3 0.1 1.9 3 0 0.7-0.5 0.3-3.4 0M370.9 250.9l-1.4 0-0.5-0.3-0.1-0.4 1.6-3 0.7-0.4 0.7 0.2 0.8 0.9 0.6 1 0.2 1.3-0.1 0.4-0.5 0.3-2 0M346.4 237.5l-0.6-0.4-1.1-1.6-0.6-1.7 0.2-0.4 1-0.4 1.7 0 1.4 0.4 0.2 0.7-1.7 3-0.5 0.4M344.3 294.5l-0.7-1 0.9-2.3 0.1-1.4-0.3-0.2-8.7-2.3-2.3-1-2.1-1.5-6.3-6.5-0.4-0.1-1 0.7-1.3 1.8-0.7 0.3-1-0.2-1.3-1.9-0.6-1.5 0.3-1 0.6-0.4 2.3-0.3 1.1-0.6-2.4-8.8-0.3-2.7 0.3-2.6 2.4-8.8-0.3-0.3-1.1-0.4-2.3-0.4-0.5-0.5-0.1-0.7 1.1-2.4 1.1-1.1 0.7-0.1 0.6 0.2 1.4 1.9 1 0.7 0.4-0.1 6.3-6.5 2.1-1.5 2.3-1 8.7-2.3 0.3-0.2 0-1-1-2.4 0.1-0.7 0.6-0.6 2.7-0.3 1.4 0.3 0.6 0.8 0.1 0.5-0.9 2-0.1 1.4 0.3 0.2 8.7 2.3 2.3 1 2.1 1.5 6.3 6.5 0.4 0.1 1-0.7 1.3-1.8 0.7-0.3 1 0.2 1 1.4 0.9 2-0.3 1-0.6 0.4-2.3 0.3-1.1 0.6 2.4 8.8 0.3 2.6-0.3 2.7-2.4 8.8 0.3 0.3 1.1 0.4 2.3 0.4 0.5 0.5 0.1 0.7-1.1 2.4-0.8 1-0.7 0.2-0.9-0.2-1.4-1.9-1-0.7-0.4 0.1-6.3 6.5-2.1 1.5-2.3 1-8.4 2.2-0.6 0.3 0.1 1.4 0.9 2-0.1 0.7-0.6 0.6-1.7 0.3-2.4-0.3M409 333.5l7.2-7.1M276.5 326.4l7.2 7.1M416.2 200.9l-7.2-7.1M283.7 193.8l-7.2 7.1M345 295.2l-1-0.4-0.7-0.9 0-0.7 0.6-1.7 0-1-0.2-0.5-4.1-1-4.3-0.7-2.7-1.1-2.2-1.7-2.4-3.1-3.1-3.3-0.7 0.1-1 0.8-0.9 1.1-0.8 0.3-1.3-0.4-1.2-1.6-0.8-1.7 0.3-1.3 0.7-0.6 1.6-0.3 1.4-0.8-1-3.7-1.8-4.7-0.3-2.7 0.4-3 2.7-7.7 0-0.3-1-0.6-2.4-0.7-0.5-0.7-0.1-1 1.6-3.1 1-0.5 1.4 0.1 1.3 1.5 1 0.6 0.4 0 2.8-3 2.9-3.5 2.7-2 2.3-0.8 3.7-0.6 4.4-1 0.2-0.5 0-1-0.6-1.7 0.4-1.2 1.2-0.8 2.8 0 1 0.4 0.7 0.9 0 0.7-0.6 1.7 0 1 0.2 0.5 4.1 1 4.3 0.7 2.7 1.1 2.2 1.7 2.4 3.1 3.1 3.3 0.7-0.1 1-0.8 0.9-1.1 0.8-0.3 1.3 0.4 1.2 1.6 0.8 1.7-0.3 1.3-0.7 0.6-1.6 0.3-1.4 0.8 1 3.7 1.8 4.7 0.3 2.6-0.4 3.1-2.7 7.7 0 0.3 1 0.6 2.4 0.7 0.5 0.7 0.1 1-1.6 3.1-1 0.5-1.4-0.1-1.3-1.5-1-0.6-0.4 0-2.8 3-2.9 3.5-2.7 2-2.3 0.8-3.7 0.6-4.4 1-0.2 0.5 0 1 0.6 1.7-0.4 1.2-1.2 0.8-2.8 0M389.6 333.5l6.1-4.1 5.8-4.7 5-4.7 4.6-5.1 5.1-7M276.5 307.9l3.7 5.3 4.4 5.2 5.1 5 5.6 4.7 7.8 5.4M416.2 219.4l-3.7-5.3-4.4-5.2-5.1-5-5.6-4.7-7.8-5.4M303.1 193.8l-6.1 4.1-5.8 4.7-5 4.7-4.6 5.1-5.1 7M345 295.6l-1-0.4-0.9-1-0.2-1 0.4-2.7-1-0.5-7-0.6-2.4-0.8-2-1.2-1.8-1.9-4.2-5.8-0.7 0.1-1.4 1.3-1 0.5-1 0-1.3-0.6-0.9-1.2-0.7-1.7 0.1-1.4 0.7-1 2.5-0.9 0.4-0.4-0.1-1-1.4-3.4-1.5-3-0.6-2.3 0.1-2.4 0.6-2.3 1.6-3.1 1.2-3.1 0.1-0.9-0.4-0.4-2-0.6-0.7-0.5-0.5-0.8-0.1-1.4 0.7-1.7 1.2-1.4 1.4-0.5 1.2 0.3 2.1 1.7 0.8-0.4 5.3-7 2-1.4 2.3-0.8 6.4-0.6 2.1-0.6-0.3-3.7 1-1 1.2-0.5 2.4 0.1 1 0.4 0.9 1 0.2 1-0.4 2.7 1 0.5 7 0.6 2.4 0.8 2 1.2 1.8 1.9 4.2 5.8 0.7-0.1 1.4-1.3 1-0.5 1 0 1.3 0.6 0.9 1.2 0.7 1.7-0.1 1.4-0.7 1-2.5 0.9-0.4 0.4 0.1 1 1.4 3.4 1.5 3 0.6 2.3-0.1 2.4-0.6 2.3-1.6 3.1-1.2 3.1-0.1 0.9 0.4 0.4 2 0.6 0.7 0.5 0.5 0.8 0.1 1.4-0.7 1.7-1.2 1.4-1.4 0.5-1.2-0.3-2.1-1.7-0.8 0.4-5.3 7-2 1.4-2.3 0.8-6.4 0.6-2.1 0.6 0.3 3.7-1 1-1.2 0.5-2.4-0.1M368.8 333.5l8.4-3.7 8.4-4.6 7.7-5.4 6.4-5.6 5.4-5.9 4.7-6.7 3.6-7.1 2.8-7.4M276.5 287.1l2.8 7.4 3.6 7.1 4.7 6.7 5.4 5.9 6.4 5.6 7.7 5.4 8.4 4.6 8.4 3.7M416.2 240.2l-2.8-7.4-3.6-7.1-4.7-6.7-5.4-5.9-6.4-5.6-7.7-5.4-8.4-4.6-8.4-3.7M323.9 193.8l-8.4 3.7-8.4 4.6-7.7 5.4-6.4 5.6-5.4 5.9-4.7 6.7-3.6 7.1-2.8 7.4M345 295.9l-1.3-0.7-0.8-1-0.2-1 0.3-2-0.3-0.6-2.4-0.4-5 0.1-2.7-0.6-1.7-1-1.7-1.6-1.3-1.9-1.6-3.1-1.4-1.7-0.7-0.1-1.7 1.3-1 0.3-1.3-0.2-1.4-0.9-1.1-2 0-2.1 1-1.3 2.3-1 0.1-0.7-0.9-2.3-2.5-4.1-0.7-2-0.1-1.7 0.1-1.6 0.7-2 2.5-4.1 0.9-2.3-0.1-0.7-2.3-1-1-1.3 0-2.1 1.1-2 1.4-0.9 1.3-0.2 1 0.3 1.7 1.3 0.7-0.1 1.4-1.7 2.4-4.4 2.2-2.2 1.7-1 2-0.5 2-0.2 3.7 0.2 2.4-0.4 0.3-0.6-0.3-2 0.3-1.3 1.3-1.2 2.1-0.4 2 0.4 1.3 1.2 0.3 1.3-0.3 2 0.3 0.6 2.4 0.4 3.7-0.2 2 0.2 2 0.5 1.7 1 2.2 2.2 2.4 4.4 1.4 1.7 0.7 0.1 1.7-1.3 1-0.3 1.3 0.2 1.4 0.9 1.1 2 0 2.1-1 1.3-2.3 1-0.1 0.7 0.9 2.3 2.5 4.1 0.7 2 0.1 1.6-0.1 1.7-0.7 2-2.5 4.1-0.9 2.3 0.1 0.7 2.3 1 1 1.3 0 2.1-1.1 2-1.4 0.9-1.3 0.2-1-0.3-1.7-1.3-0.7 0.1-1.4 1.7-2.6 4.6-2.1 2.1-1.6 0.9-2 0.5-2 0.2-3.7-0.2-2.4 0.4-0.3 0.6 0.3 2.3-0.6 1.4-0.8 0.6-1.2 0.5-2.4-0.1M341.7 330.5l6 0.2 5.7-0.5 6-1.3 6.4-2.1 7.4-3.2 7.4-4.1 6.7-4.3 5.7-4.5 4.3-4.1 3.5-4 3.2-4.7 2.5-4.7 2-5 1.5-5.4 1.1-6.1 0.6-6.7 0.2-7.4-0.4-7.3-0.7-6.8-1.2-5.7-1.7-5.3-2.4-5.4-3-5-3.4-4.4-4.5-4.7-5.6-4.6-6.7-4.6-7.8-4.4-6.7-3.1-6.3-2.4-6.4-1.5-6.1-0.7-5.7 0-5.7 0.7-5.7 1.3-6.4 2.3-6.7 3.1-7.7 4.3-6.7 4.5-5.4 4.3-4 3.9-3.6 4.3-2.9 4.4-2.4 4.7-2 5-1.4 5.4-1.1 5.7-0.6 6.7-0.2 7.4 0.3 7 0.7 6.4 1.3 6 1.7 5.7 2.2 5.1 2.8 4.7 3.2 4.3 4.4 4.7 5.3 4.6 6.1 4.2 7.3 4.4 7.1 3.5 6.4 2.5 6 1.7 6.1 1M345 296.2l-1.3-0.6-0.9-1.1-0.3-1.3 0.2-1.7-0.4-0.5-1.7-0.3-5.3 0.5-1.7-0.1-1.7-0.5-1.8-1.1-1.5-1.6-1.4-2.3-1.5-3.5-0.8-1.1-0.7-0.3-1.7 1.2-1.3 0.3-1.5-0.4-1.2-1-1-2 0-2.1 0.7-1.1 2.2-1.2 0.2-0.7-0.7-1.7-2.1-2.6-1.1-2.1-0.8-2-0.2-1.7 0.2-1.6 0.8-2 1.1-2.1 2.1-2.6 0.7-1.7-0.2-0.7-2.2-1.2-0.7-1.1 0-2.1 1-2 1.2-1 1.5-0.4 1.3 0.3 1.4 1 0.6 0.2 1.2-1.4 1.5-3.5 1-1.8 1-1.3 1.3-1.1 1.8-0.9 2-0.5 2.3 0 4 0.5 1.7-0.3 0.4-0.5-0.2-2 0.5-1.4 1.3-1.1 2.1-0.4 2 0.4 1.3 1.1 0.5 1.4-0.2 2 0.4 0.5 1.7 0.3 4-0.5 2.3 0 2 0.5 1.8 0.9 1.3 1.1 1 1.3 1 1.8 1.5 3.5 1.2 1.4 0.6-0.2 1.4-1 1.3-0.3 1.5 0.4 1.2 1 1 2 0 2.1-0.7 1.1-2.2 1.2-0.2 0.7 0.7 1.7 2.1 2.6 1.1 2.1 0.8 2 0.2 1.6-0.2 1.7-0.8 2-1.1 2.1-2.1 2.6-0.7 1.7 0.2 0.7 2.2 1.2 0.7 1.1 0.2 1-0.3 1.4-1.2 2-1.4 0.9-1.3 0.2-1.2-0.4-1.2-0.9-0.6-0.2-1.2 1.4-1.5 3.5-1 1.8-1 1.3-1.4 1.2-2 0.9-2 0.4-2.4 0-3.3-0.5-1.7 0.2-0.7 0.5 0.1 2.5-0.7 1.4-0.9 0.6-1.1 0.4-2.4-0.1M342.7 325.7l5.3 0.2 5.4-0.6 5.4-1.2 5.3-1.9 6.8-3.1 7.7-4.3 6.7-4.3 5.4-4.2 3.5-3.4 3.2-3.8 2.6-3.9 2.3-4.4 1.6-4.3 1.4-5.1 0.9-5.3 0.5-6.1 0.1-7.7-0.3-7-0.6-5.7-1-5.4-1.5-5.1-2.1-4.6-2.6-4.4-3-4-4.4-4.5-5.3-4.3-6.8-4.4-8-4.6-6.1-2.8-5.7-2.1-5.7-1.4-5.3-0.6-5.1 0.1-5.3 0.7-5.4 1.4-5.4 2-7 3.5-7.7 4.4-6.1 4-4.8 3.9-3.6 3.5-3 3.7-2.5 3.8-2.2 4.4-1.8 4.7-1.2 4.7-0.8 5.4-0.5 5.7-0.1 7.4 0.2 7 0.7 6 0.9 5.1 1.4 4.7 2 4.7 2.4 4.3 3 4.1 4 4.3 4.9 4.1 6 4.2 8.1 4.7 6.4 3.2 5.7 2.3 5.7 1.5 5.4 0.8M345.3 296.5l-1.6-0.6-0.9-1-0.5-1.4 0-1.7-0.3-0.4-1.4-0.2-4 0.8-2.7 0.1-2.3-0.4-1.7-0.8-1.3-1.3-1-1.5-1.1-2.1-1.2-3.6-0.8-1.1-0.6 0-1.5 0.8-1.2 0.3-1.4-0.3-1.3-1-1.2-2-0.1-2 0.9-1.7 2-1.3 0-0.7-0.6-1-2.4-2.7-1.3-2-1-2-0.3-2.1 0.3-2 1-2 1.3-2 2.4-2.7 0.6-1 0-0.7-2-1.3-0.9-1.7 0.1-2 1.2-2 1.3-1 1.4-0.3 1.2 0.3 1.5 0.8 0.6 0 0.8-1.1 1.2-3.6 1.3-2.5 1.3-1.7 1.5-1.1 1.7-0.6 2.3-0.3 2.4 0.2 3.6 0.8 1.1-0.1 0.6-0.5 0.1-2.1 0.6-1.3 1.3-1 2.1-0.5 2 0.5 1.3 1 0.6 1.3 0.1 2.1 0.6 0.5 1.1 0.1 3.6-0.8 2.4-0.2 2.3 0.3 1.7 0.6 1.5 1.1 1.3 1.7 1.3 2.5 1.2 3.6 0.8 1.1 0.6 0 1.5-0.8 1.2-0.3 1.4 0.3 1.3 1 1.2 2 0.1 2-0.9 1.7-2 1.3 0 0.7 0.6 1 2.4 2.7 1.3 2 1 2 0.3 2-0.3 2.1-1 2-1.3 2-2.4 2.7-0.6 1 0 0.7 2 1.3 0.9 1.7-0.1 2-1.2 2-1.3 1-1.4 0.3-1.2-0.3-1.5-0.8-0.6 0-0.8 1.1-1.2 3.6-1.3 2.5-1.3 1.7-1.5 1.1-1.7 0.6-2.3 0.3-2.4-0.2-3.6-0.8-1.1 0.1-0.6 0.5-0.1 2.1-0.9 1.6-1.7 1-2.4 0M345 322.4l4.7-0.1 4.4-0.7 4.7-1.3 4.7-1.9 6.3-3.2 11.1-6.5 5.1-3.4 4-3.3 3-3.1 2.7-3.4 2.2-3.7 1.7-3.6 1.3-4.1 1-4.3 0.5-4.7 0.3-5.7-0.2-15.8-0.4-4.7-0.8-4.4-1.4-4.7-1.8-4-2.2-3.7-2.9-3.7-4-4-5.1-3.9-7-4.3-10.7-6-5.1-2.3-4.7-1.6-4.7-1-4.7-0.4-4.3 0.2-4.7 0.8-4.4 1.2-4.7 1.9-6.3 3.3-11.2 6.5-5 3.4-3.8 3.2-3.2 3.3-2.6 3.4-2.2 3.7-1.6 3.7-1.3 4-0.9 4.4-0.6 4.7-0.2 5.3 0.1 15.5 0.5 4.7 0.7 4.3 1.3 4.4 1.9 4.4 2.2 3.8 2.7 3.6 4 4 5 3.9 6.4 4 10.9 6.2 5.2 2.5 4.7 1.6 4.7 1.1 4.7 0.5M346 296.9l-1.7-0.4-1.3-1.1-0.7-1.2-0.4-2-0.6-0.5-7.4 1.5-2.3-0.2-1.7-0.6-1.6-1.2-1.1-1.7-1.2-2.7-1-3.7-0.5-1-0.6-0.4-1.7 0.7-1.4 0.1-1.3-0.4-1-0.7-1.3-2-0.2-2 0.5-1.5 2-1.8 0-0.7-4.9-5.7-1-2-0.4-2.1 0.4-2 1-2 4.9-5.7 0-0.7-2-1.8-0.5-1.5 0.2-2 1.3-2 1-0.7 1.3-0.4 1.4 0.1 1.7 0.7 0.6-0.4 0.5-1 1-3.7 1.2-2.7 1.1-1.7 1.6-1.2 1.7-0.6 2.3-0.2 7.4 1.5 0.6-0.5 0.4-2 1-1.6 1.4-0.8 1.7-0.3 1.6 0.3 1.4 0.8 1 1.6 0.4 2 0.6 0.5 7.4-1.5 2.3 0.2 1.7 0.6 1.6 1.2 1.1 1.7 1.2 2.7 1 3.7 0.5 1 0.6 0.4 1.7-0.7 1.4-0.1 1.3 0.4 1 0.7 1.3 2 0.2 2-0.5 1.5-2 1.8 0 0.7 4.9 5.7 1 2 0.4 2-0.4 2.1-1 2-4.9 5.7 0 0.7 1.7 1.4 0.7 1.2 0.1 1.7-0.5 1.7-1 1.3-1.7 1-1.6 0.1-2.1-0.8-0.6 0.4-0.5 1-1.5 5.1-1.1 2-1 1.2-2 1.3-2.3 0.5-3.7-0.4-4-1.1-1 0.1-0.4 0.5-0.4 2.2-0.9 1.3-1.4 0.8-2 0.3M343.3 319.4l4.1 0.1 4-0.4 4-0.9 4-1.5 4.2-2 8.9-5.4 8.8-4.8 5.3-3.6 2.7-2.4 2.5-2.6 2.2-3.1 1.7-3 1.4-3.3 1-3.4 0.7-3.7 0.3-4-0.2-11.8 0.3-10.7-0.5-5.7-0.8-4-1.3-3.7-1.8-3.7-2.2-3.4-3.7-4-4.6-3.7-3.7-2.3-8.4-4.6-9.1-5.4-4-2-3.7-1.3-4-0.9-4-0.4-3.7 0.1-3.7 0.5-3.7 1-3.7 1.5-3.7 1.8-8.7 5.3-9.4 5.2-5.4 3.8-2.7 2.4-2.3 2.7-1.9 2.7-1.7 3-1.3 3.4-1 3.3-0.6 3.7-0.3 3.7 0.2 11.7-0.3 10.8 0.5 5.7 0.8 4 1.3 3.7 1.6 3.4 2.2 3.3 3.8 4.4 4.4 3.5 3.7 2.3 8.7 4.8 8 4.8 3.8 2 3.6 1.5 3.7 1 3.7 0.6M345 296.9l-1-0.4-1.1-1-0.7-1-0.5-1.9-0.7-0.4-4 1.3-4.7 0.9-2.4-0.2-2-1.3-1-1.4-0.7-1.5-1.1-3.9-0.6-3-0.3-0.7-0.7-0.2-2 0.5-1.7-0.2-1.6-1.1-1-1.3-0.4-1.3 0-1.7 0.7-1.5 1.4-1.5 0.1-0.7-0.5-0.7-2.4-2-3.1-3.4-1.1-2-0.3-1.7 0.3-1.6 1.1-2 3.1-3.4 2.4-2 0.5-0.7-0.1-0.7-1.4-1.5-0.7-1.5 0-1.7 0.6-1.6 1.1-1.3 1.3-0.8 1.7-0.2 2 0.5 0.7-0.2 0.3-0.7 0.6-3 1.1-3.9 0.9-1.8 1.1-1.4 1.7-1 2.4-0.2 4.7 0.9 4 1.3 0.7-0.4 0.7-2.3 0.9-1.1 1.6-0.9 1.8-0.2 1.7 0.4 1.1 0.8 1 1.4 0.5 1.9 0.7 0.4 4-1.3 4.7-0.9 2.4 0.2 2 1.3 1 1.4 0.7 1.5 1.1 3.9 0.6 3 0.3 0.7 0.7 0.2 2-0.5 1.7 0.2 1.6 1.1 1 1.3 0.4 1.3 0 1.7-0.7 1.5-1.4 1.5-0.1 0.7 0.5 0.7 2.4 2 3.1 3.4 1.1 2 0.3 1.6-0.3 1.7-1.1 2-3.1 3.4-2.4 2-0.5 0.7 0.1 0.7 1.4 1.5 0.7 1.5 0 1.7-0.6 1.6-1.1 1.3-1.3 0.8-1.7 0.2-2-0.5-0.7 0.2-0.3 0.7-0.6 3-1.1 3.9-0.9 1.8-1.1 1.4-1.7 1-2.4 0.2-4.7-0.9-4-1.3-0.7 0.4-0.7 2.3-1.3 1.4-2 0.7-2-0.1M345 317l3.4 0 3-0.4 3.3-0.9 3.1-1.2 4.3-2.5 8.4-6.3 10.4-4.5 5.1-3.2 2.3-2.1 1.9-2 1.7-2.4 1.5-2.7 1.2-2.7 0.9-3 0.5-3 0.2-3-0.2-3.7-1.2-9.8 1.3-10.7-0.2-6-0.6-3.4-1.1-3.3-1.5-3.1-1.7-2.6-3.3-3.7-3.8-2.9-4-2.2-7-2.9-2.4-1.2-7.7-5.8-3.4-2.2-3.3-1.5-3-1-3.1-0.6-3.3-0.3-3 0.2-3.1 0.5-3 0.8-3 1.3-4.4 2.6-8 6-10.4 4.5-2.7 1.6-2.7 1.9-2.3 2.1-1.9 2.1-1.6 2.3-1.5 2.7-1.1 2.7-0.8 2.7-0.5 3-0.2 3 0.2 3.7 1.2 9.7-1.3 10.8 0.1 5.7 0.6 3.4 1 3 1.3 3 1.9 3 3.2 3.7 3.7 3 4.4 2.4 7 2.9 2.4 1.2 7.5 5.6 3.2 2.1 2.7 1.4 3 1.1 3.1 0.7 3.3 0.4M345.7 297.2l-1.4-0.4-1.4-0.9-0.7-1-0.7-1.7-0.5-0.5-0.7 0.1-2.3 1.1-6.8 2.2-2.3 0.1-1.7-0.9-1-1.3-0.7-1.8-1.1-6.1-0.3-3-0.6-0.5-2.3 0.3-1.4-0.3-1.3-0.7-1-1-0.8-1.8-0.1-1.7 0.6-1.6 1.3-1.7 0-0.7-2.7-2-5.2-4.7-1.2-2 0-2.1 0.7-1.3 1.1-1.3 4.6-4.1 2.7-2 0-0.7-1.3-1.6-0.5-1.4-0.1-1.3 0.3-1.4 1.1-1.6 1.5-1.1 1.7-0.4 2 0.3 0.7-0.2 1.7-9.7 0.9-2 1.4-1.3 1.7-0.4 2 0.2 9.4 3.3 0.5-0.5 0.9-2 0.9-1 1.7-0.9 2-0.1 1.4 0.4 1.4 0.9 0.7 1 0.7 1.7 0.5 0.5 9.1-3.3 1.7-0.2 1.6 0.1 1.7 1.1 1 1.8 1.5 7.1 0.3 2.6 0.2 0.7 0.7 0.2 2-0.3 1.4 0.3 1.3 0.7 1 1 0.8 1.8 0.1 1.7-0.6 1.6-1.3 1.7 0 0.7 2.7 2 5.2 4.7 1.2 2 0 2.1-0.7 1.3-1.1 1.3-4.6 4.1-2.7 2 0 0.7 1.3 1.6 0.5 1.4 0.1 1.3-0.3 1.4-1.1 1.6-1.5 1.1-1.7 0.4-2-0.3-0.7 0.2-1.6 9.4-0.7 1.8-1 1.3-1.7 0.9-2.3-0.1-6.8-2.2-2.3-1.1-0.7-0.1-0.5 0.5-0.9 2-0.9 1-1.7 0.9-2 0.1M343.3 314.7l4.1 0.2 4-0.6 3.7-1.2 3.3-1.9 3.1-2.6 2.2-3 0.8-2.7-0.1-1.3-0.5-1-1.8-1.7-4.9-3.4-3.1-1.1-2-1.2-0.7 0.4-0.9 1.6-1.1 1.2-1.6 0.8-1.4 0.2-1.5-0.2-1.6-0.8-1.1-1.2-0.9-1.6-0.7-0.4-2 1.2-3.1 1.1-5.8 4.1-1.3 1.6-0.2 2.1 0.8 2.3 1.9 2.7 2.6 2.3 3.1 2 3.4 1.3 3.3 0.8M316.8 299.6l2.4 0 1.8-0.4 1.2-0.6 1-1.4 0.5-2.3 0.5-5.7-0.1-1.4-0.5-2 0-2.3-0.4-0.5-2 0-1.7-0.4-1.4-0.8-0.9-1.2-0.7-1.5 0-1.7 0.5-1.7 1-1.6-0.2-0.7-2-1.1-2.3-2-4.4-2.2-3-1.1-2 0.1-1.4 0.8-1.4 1.8-1.1 2.3-0.8 3.1-0.3 2.6 0.1 3.1 0.5 3 0.9 2.7 1.1 2.3 1.5 2.4 1.9 2.2 2 1.9 2.3 1.6 2.4 1.2 2.7 1 2.3 0.5M373.2 299.6l2.3 0 2.7-0.5 2.7-1 2.7-1.4 2.4-1.7 2.1-2.2 1.9-2.3 1.5-2.7 1.1-2.7 0.7-3 0.3-3-0.1-3-0.6-3.1-1.1-2.6-1.1-1.8-1.7-1.3-1-0.4-1 0-2.7 0.9-5.1 2.5-2.3 2-2 1.1-0.2 0.7 1 1.6 0.5 1.7 0 1.7-0.7 1.5-0.9 1.2-1.4 0.8-1.7 0.4-2 0-0.3 0.2-0.1 2.6-0.6 3 0.7 7.4 0.5 1.3 0.8 1.1 1.2 0.6 1.5 0.4M304.4 260.3l1 0.1 1.3-0.3 4.1-1.7 3-1.6 2-1.8 2-1.1 0.2-0.7-1-1.6-0.5-1.7 0-1.7 0.7-1.5 0.9-1.2 1.4-0.8 1.7-0.4 2 0 0.3-0.2 0.1-2.6 0.6-3-0.5-6.1-0.7-2.6-0.5-0.8-1-0.7-2.3-0.6-2.7 0.1-3 0.7-3.1 1.3-2.6 1.7-2.4 2.1-2.2 2.5-1.7 2.7-1.3 3-0.8 3.4-0.3 3.3 0.2 3.1 0.7 3.3 1.3 2.7 1.4 1.8 1.7 0.9M386.6 260.3l2-0.1 1-0.6 1.1-0.9 1.4-2.4 1-3.1 0.5-3.3-0.1-3.7-0.7-3.4-1.3-3.3-1.5-2.7-2.2-2.7-2.5-2.3-2.7-1.8-3-1.4-3.4-0.8-2.7-0.1-2.3 0.6-1 0.7-0.5 0.8-0.7 2.6-0.5 6.1 0.6 3 0.1 2.6 0.3 0.2 2 0 1.7 0.4 1.4 0.8 0.9 1.2 0.7 1.5 0 1.7-0.5 1.7-1 1.6 0.2 0.7 2 1.1 1.7 1.6 1 0.6 4.7 2.3 2.3 0.8M340.3 234l0.7 0.1 0.3-0.3 0.9-1.7 1.1-1.2 1.4-0.7 1-0.3 2 0.2 1.5 0.7 1.3 1.3 1.2 2 0.7-0.1 2.3-1.3 1.9-0.6 5.1-3.4 2.2-2 0.5-1 0.1-1.3-0.8-2.7-1.9-2.7-3.1-2.7-3.3-1.9-3.7-1.3-4-0.6-4 0.1-3.7 0.8-3.7 1.5-3.4 2.2-2.8 2.9-1.6 2.7-0.3 1.3 0 1.4 0.9 1.7 2.4 2 4.4 2.9 2.7 0.9 1.7 1.1M346 313l2.7-0.1 2-0.4 2.4-0.8 2-1 2-1.3 1.5-1.4 1-1.4 0.7-1.7 0.4-1.6-0.1-1.7-0.7-1.7-1.1-1.7-2.4-2.4-2.7-0.9-1.6-1.1-0.4 0.1-1.2 1.6-1.1 1.1-1.4 0.7-1.6 0.3-1.7-0.3-1.4-0.7-1.1-1.1-1.2-1.6-0.4-0.1-1.6 1.1-2 0.6-1.2 0.7-2.4 2.7-1.2 2.3-0.2 2.1 0.5 2 1.1 2 1.7 1.8 2.3 1.6 3 1.4 2.7 0.7 2.7 0.2M315.5 296.5l2.3-0.1 1.7-0.7 1.3-1 1.2-1.5 1-2.4 0.5-2 0-1-0.5-2 0.1-2-0.2-0.4-2.4-0.3-1.7-0.6-1-0.8-0.9-1.3-0.4-1-0.2-1.7 0.2-1.3 0.9-2-0.1-0.7-1.8-0.9-1.7-1.6-1.7-0.7-3.3-0.5-2.4 0.3-1.7 0.9-1.3 1.2-1 1.7-0.8 2-0.4 2.3 0 2.4 0.4 2.3 0.7 2.4 2 4 3.1 3.4 3.7 2.5 2.7 0.9 1.7 0.2M376.2 296.5l1.7 0 2-0.5 2.4-1 1.6-1 1.7-1.4 1.7-1.8 1.5-2 1.4-2.7 0.8-2.6 0.4-2.4 0.1-2.3-0.3-2.4-0.7-2-0.7-1.4-1.2-1.3-1.6-1.1-2.7-0.6-3.7 0.5-1.7 0.7-1.7 1.6-1.8 0.9-0.1 0.7 0.9 2 0.2 1.3-0.2 1.7-0.4 1-0.9 1.3-1 0.8-1.7 0.6-2.4 0.3-0.2 0.4 0.1 2-0.5 2.7 0.5 2.3 0.7 1.7 1 1.7 1.1 1.1 1.7 0.9 2 0.3M308.1 257.3l2.7-0.2 2.3-0.7 0.9-0.5 1.5-1.4 1.8-0.9 0.1-0.7-0.9-2-0.2-1.3 0.2-1.7 0.4-1 0.9-1.3 1-0.8 1.7-0.6 2.4-0.3 0.2-0.4-0.1-2 0.5-2.4-0.5-2.6-0.7-1.7-1-1.7-1.1-1.1-1.4-0.7-2-0.5-2.3 0.1-2.7 0.7-2 1-2.4 1.8-1.8 1.7-1.7 2.4-1.4 2.7-0.9 3-0.4 2.7 0.1 2.7 0.6 2.6 1 2.1 1.5 1.6 1.7 1 2 0.4M383.6 257.3l2.4-0.2 1.6-0.7 1.7-1.5 1.2-2 0.7-2 0.3-3.4-0.3-3-0.8-2.7-1.2-2.7-1.9-2.6-2-2.1-2.4-1.8-2-1-2.7-0.7-2.3-0.1-2 0.5-1.4 0.7-1.1 1.1-1 1.7-0.7 1.7-0.5 2.6 0.5 2.4-0.1 2 0.2 0.4 2.4 0.3 1.7 0.6 1 0.8 0.9 1.3 0.4 1 0.2 1.7-0.2 1.3-0.9 2 0.1 0.7 1.8 0.9 1.5 1.4 0.9 0.5 2.3 0.7 1.7 0.2M340.6 233.5l0.4-0.1 2.3-2.6 1.2-0.7 1.2-0.3 1.3 0 1.9 0.6 1.3 1 1.5 2 0.4 0.1 1.6-1.1 2.8-1 1.5-1.3 1.3-1.7 1.3-2.7-0.1-2.7-0.6-1.6-0.8-1.4-2-2.1-2.7-1.7-2.3-1-3.4-0.8-3.4-0.1-3.3 0.5-3 1.1-2.7 1.5-2.2 1.9-1.3 2.1-0.7 2.3 0.1 2.4 1.2 2.3 2.4 2.7 1.2 0.7 2 0.6 1.6 1.1M344.3 311.7l3.7 0 3.7-0.8 3.1-1.6 2.6-2.4 1.4-2.6 0.2-2.7-0.8-2.7-0.8-1.4-1.3-1.3-2.4-0.8-1.6-1.1-0.4 0-1.3 1.6-1.4 1-1.6 0.7-1.7 0-2.1-0.7-1.3-1-1.3-1.6-0.4 0-1.6 1.1-2.4 0.8-1.3 1.3-1.2 2.4-0.5 2 0.2 2 1.1 2.4 1.7 2 2 1.5 2.7 1.2 3 0.7M314.8 294.9l2-0.1 1.7-0.4 1.7-1 1.3-1.5 1-1.8 0.5-1.6-0.5-2.7 0.1-2-3.8-1.2-1.1-0.8-0.9-1.2-0.4-1.2-0.2-1.7 0.2-1.3 0.7-2-0.2-0.3-1.8-1-2-1.7-2.7-0.4-2.3 0.3-1.7 0.7-1.3 1-1 1.4-0.9 1.7-0.4 1.6-0.2 2.1 0.1 2 0.4 2.3 0.8 2 1 2.1 2.8 3.3 3.4 2.3 2 0.8 1.7 0.3M376.2 294.9l1.7 0 2-0.4 2-0.8 1.7-1.1 1.7-1.4 1.5-1.7 1.4-2 0.9-2 0.6-2 0.4-2.4 0-2.3-0.4-2.1-0.7-1.6-1-1.6-1.2-1.1-1.5-0.9-2.7-0.5-2.7 0.3-0.9 0.4-1.4 1.4-1.8 1-0.2 0.3 0.7 2 0.2 1.3-0.2 1.7-0.4 1.2-0.9 1.2-1.1 0.8-3.8 1.2 0.1 2-0.6 2.4 1 2.6 0.9 1.5 1.4 1.3 1.6 0.9 1.7 0.4M309.8 256.3l3.3-0.4 2-1.7 1.8-1 0.2-0.3-0.7-2-0.2-1.3 0.2-1.7 0.4-1.2 0.9-1.2 1.1-0.8 3.8-1.2-0.1-2 0.6-2.4-0.6-1.9-1.8-2.7-1.2-1-1.3-0.7-2.1-0.4-2 0.1-2.3 0.7-2 1-2 1.6-1.7 1.7-1.6 2.3-1 2.4-0.7 2.3-0.2 2.7 0.2 2.4 0.7 2.3 1 1.7 1.6 1.5 1.7 0.8 2 0.4M381.9 256.3l2-0.1 2.1-0.7 1.6-1.2 1.3-1.7 0.8-2 0.4-2.4 0-2.3-0.5-2.7-0.9-2.4-1.4-2.4-1.7-2-2-1.7-2-1.2-2.4-0.9-2.3-0.2-2 0.3-1.4 0.6-1.3 0.9-1 1.2-1 1.8-0.6 1.9 0.6 2.4-0.1 2 3.8 1.2 1.1 0.8 0.9 1.2 0.4 1.2 0.2 1.7-0.2 1.3-0.7 2 0.2 0.3 1.8 1 1.6 1.6 2.7 0.5M340.3 232.8l0.7 0.2 2.3-2.4 2.4-0.9 1.7 0 1.6 0.7 1.4 1 1.3 1.6 0.4 0 1.6-1.1 2.4-0.8 1.9-2.4 1-2.6-0.1-2.7-1.3-2.7-1.5-1.7-2.4-1.7-2.7-1.1-2.6-0.6-3.1 0-2.6 0.3-2.7 1-2.4 1.3-1.7 1.5-1.4 2-0.7 2-0.1 2.4 0.8 2.3 1.7 2.4 0.8 0.5 2 0.6 1.3 0.9M345.7 310.6l3.3-0.2 3.1-0.9 2.4-1.5 1.9-2.1 1.2-2.3 0.3-2.4-0.7-2.6-1.5-2.1-2-0.6-2-1.1-1.7 1.6-1.3 0.8-1.3 0.5-1.7 0-2.3-0.8-2.4-2.1-2 1.1-2 0.6-0.7 0.7-1.2 2.4-0.3 2 0.4 2.3 1.1 2 1.7 1.9 2.3 1.5 2.7 1 2.7 0.3M314.8 293.5l2 0 1.7-0.5 1.3-0.8 1.4-1.3 1.3-2.4-0.4-2.4 0.1-2-0.2-0.3-2.2-0.6-1.3-0.7-1.7-1.7-0.5-1.4-0.2-1.3 0.6-3.4-0.1-0.3-1.8-0.9-1.7-1.6-1.7-0.2-2 0.3-1.3 0.5-1.4 0.9-1.3 1.3-0.7 1.4-0.6 1.6-0.3 1.7 0 2 0.3 2.1 1.5 3.6 2.5 3.2 1.7 1.4 1.6 0.9 1.7 0.6 1.7 0.3M376.6 293.6l1.6-0.1 1.7-0.4 1.7-0.6 1.7-1.1 1.4-1.2 1.5-1.7 1.1-1.7 0.9-2 0.5-2 0.2-2-0.1-2-0.4-1.7-0.7-1.7-1-1.3-1.4-1.3-1.4-0.6-2-0.5-2 0.1-0.7 0.3-1.3 1.4-1.8 0.9-0.1 0.3 0.6 3.4-0.2 1.3-0.5 1.4-1.7 1.7-1.3 0.7-2.2 0.6-0.2 0.3 0.1 2-0.5 2.1 0.8 1.8 1 1.3 1.3 1.1 1.7 0.8 1.7 0.4M311.1 255.6l2-0.2 1.7-1.6 1.8-0.9 0.1-0.3-0.6-3.4 0.2-1.3 0.5-1.4 1.7-1.7 1.3-0.7 2.2-0.6 0.2-0.3-0.1-2 0.5-2.1-0.4-1.2-1-1.5-1-1.1-2.4-1.2-2-0.4-2 0.2-2 0.6-2 1.1-1.8 1.5-1.6 1.9-1.1 1.8-1 2.4-0.5 2.3 0 2.4 0.4 2 0.8 2 1.1 1.4 1.5 1.3 1.5 0.7 2 0.3M380.9 255.6l2-0.2 1.7-0.6 1.7-1.1 1.2-1.5 0.9-2 0.5-2 0-2.3-0.4-2.4-0.9-2.3-1.2-2.1-1.5-1.8-1.6-1.4-2-1.2-2.1-0.7-2-0.3-2 0.3-1.3 0.5-1.4 0.8-1 1.1-1 1.5-0.4 1.2 0.5 2.1-0.1 2 0.2 0.3 2.8 0.9 1.9 1.5 0.8 1.3 0.4 1.7-0.1 1.7-0.5 2 0.1 0.3 1.8 0.9 1.7 1.6 1.3 0.2M340.6 232.5l0.7-0.2 2.4-2.1 2-0.6 1.7 0 1.3 0.5 1.3 0.8 1.7 1.6 2-1.1 2-0.6 1.5-2.1 0.7-2.6-0.3-2.4-1.2-2.3-1.5-1.7-1.8-1.3-2.4-1.1-2.3-0.5-2.7-0.1-2.4 0.3-2.3 0.7-2.4 1.3-1.8 1.7-1.3 2-0.6 2 0 2 0.6 2 1.1 1.8 0.7 0.4 2 0.6 1.3 1M343.7 309.3l3 0.3 3-0.4 2.7-1.1 2-1.5 1.7-2.3 0.8-2.4-0.2-2.7-1-2-2.3-0.9-1.7-1.1-2.3 1.8-2.4 0.8-1.7 0-1.3-0.4-3-2.2-1.7 1.1-2.3 0.9-0.9 1.7-0.3 2 0.2 2 0.7 1.7 1.3 1.7 1.6 1.4 2.1 1 2 0.6M313.8 292.2l2 0.2 1.7-0.2 1.7-0.6 1.3-1 1.5-2.1-0.4-2.4 0.1-1.6 0-0.4-0.5-0.3-1.7-0.6-1.3-0.8-1.5-1.6-0.7-2.4 0.2-3.7-1.7-0.9-1.6-1.4-1.5-0.1-1.6 0.4-1.4 0.6-1.3 1.1-0.8 1-0.7 1.3-0.5 1.7-0.2 3.4 1 3.7 1.9 3 2.7 2.3 1.6 0.9 1.7 0.5M375.2 292.2l1.7 0.2 1.7-0.1 1.6-0.5 1.7-0.8 1.7-1.2 1.3-1.3 1.2-1.7 0.8-1.7 0.9-3.7 0-2-0.4-1.7-0.6-1.6-0.9-1.4-1.3-1.1-1.3-0.8-1.7-0.5-1.7 0-1.7 1.5-1.7 0.9 0.2 3.7-0.7 2.4-0.8 1-1 0.9-3.2 1.4 0.1 2-0.5 2.1 0.3 0.7 1 1.4 1 0.8 2.3 1.1M311.1 255l1.8-0.1 1.6-1.4 1.7-0.9-0.2-3.7 0.7-2.4 0.8-1 1-0.9 3.2-1.4-0.1-2 0.5-2.1-0.2-0.6-1.7-2.1-2-1.1-1.7-0.4-2 0-2 0.6-1.7 0.8-1.7 1.2-1.5 1.6-1.2 1.7-0.9 2-0.5 2.1-0.1 2 0.2 2 0.7 2 0.8 1.3 1.3 1.4 1.5 0.9 1.7 0.5M379.9 255l1.7 0 2-0.7 1.6-1.1 1.1-1.2 0.9-1.8 0.5-2 0.1-2-0.2-2-0.7-2-1-2-1.3-1.7-1.7-1.5-1.6-1.1-2.1-0.8-2-0.2-1.7 0.1-1.3 0.4-1.3 0.8-1 0.8-1 1.4-0.3 0.7 0.5 2.1-0.1 2 2.9 1.2 1.6 1.5 0.8 1.3 0.4 1.3-0.2 4.1 1.7 0.9 1.7 1.5M340.6 231.9l0.7 0 2.7-2 1.7-0.4 1.7 0 1.3 0.4 3 2.2 1.7-1.1 2-0.6 1.1-1.7 0.4-2.3-0.2-2-0.9-2-1.4-1.7-1.7-1.3-2-1-2-0.5-2.3-0.2-2.4 0.2-2 0.5-2 1-2 1.6-1.3 1.7-0.8 2-0.1 2 0.3 1.7 0.9 1.7 2.3 0.9 1.3 0.9M345.3 308.6l2.7 0 2.4-0.6 2-1.1 1.9-1.6 1.3-2 0.5-2.1-0.1-2-0.7-1.7-1.9-0.7-1.4-0.9-0.6-0.2-3 1.9-1.4 0.4-1.3 0-2-0.7-2.4-1.6-0.3 0-1.4 1-2.3 1-0.6 1.5-0.1 2 0.4 1.7 1 1.8 1.3 1.5 1.7 1.1 2 0.9 2.3 0.4M313.8 291.2l2 0.3 1.7-0.2 1.7-0.6 1.3-1 0.8-0.9 0.2-0.6-0.4-2.1 0.2-1.6-0.1-0.4-3-1.5-1.6-1.8-0.7-2 0-3.7-1.8-0.9-1.3-1.2-1-0.2-2.5 0.9-2.1 2-1.1 2.7-0.2 3.4 0.9 3.3 1.7 2.7 2.3 2.1 3 1.3M374.9 291.2l1.3 0.3 1.7-0.1 1.7-0.4 1.7-0.7 2.6-2.2 1.3-1.6 0.8-1.7 0.6-1.7 0.3-2-0.1-1.7-0.4-1.7-0.5-1.3-1-1.3-1.3-1.2-1.3-0.8-2.1-0.3-1.6 1.4-1.8 0.9 0 3.7-0.7 2-1.6 1.8-3 1.5 0.1 2-0.3 2.4 1.2 1.5 2.4 1.2M310.8 254.3l1.7 0.2 1.6-1.4 1.8-0.9 0-3.7 0.7-2 1.6-1.8 3-1.5-0.1-2 0.3-2.4-1.2-1.5-1.7-1-1.7-0.4-1.7-0.1-1.6 0.4-1.7 0.6-1.7 1.1-1.3 1.3-1.3 1.6-0.8 1.7-0.6 1.7-0.3 2 0.1 1.7 0.4 1.7 0.7 1.6 1.1 1.4 1.2 1 1.5 0.7M379.9 254.3l1.4 0.1 1.6-0.6 1.7-1.2 1.1-1.4 0.7-1.6 0.4-1.7 0-2-0.3-2.1-0.8-2-1-1.6-1.4-1.7-1.4-1.1-1.7-0.9-2-0.6-1.6-0.1-1.7 0.3-2.4 1.2-1.2 1.5 0.3 2.4-0.2 1.6 0.1 0.4 3 1.5 1.2 1.2 0.7 1.3 0.4 1.3 0 3.7 1.8 0.9 1.3 1.2M341 231.6l0.3 0 2.4-1.6 2-0.7 1.3 0 1.4 0.4 3 1.9 0.6-0.2 1.4-0.9 1.7-0.6 0.6-0.9 0.5-1.9-0.3-2-0.7-1.7-1.1-1.6-1.4-1.2-1.7-1-2-0.7-2-0.3-2.3 0.1-2 0.5-1.8 0.8-1.8 1.4-1.4 1.6-0.8 1.7-0.4 2 0.2 1.7 0.6 1.2 2.3 1 1.4 1M344.3 307.6l2.4 0.2 2.3-0.3 2.2-0.9 1.9-1.3 1.3-1.6 0.8-1.8 0.3-2-0.4-1.7-2-0.9-1.7-1.2-2.7 1.6-2.3 0.4-2.4-0.4-2.7-1.6-1.7 1.2-2 0.9-0.3 1 0 1.7 0.4 1.7 0.7 1.3 1.2 1.4 1.4 1 1.7 0.8 1.6 0.5M314.5 290.5l1.6 0.2 1.4-0.2 1.3-0.4 1.4-0.9 0.7-1-0.3-2.1 0.2-1.6-0.2-0.4-2.4-1.4-1.6-1.6-0.8-2.3 0-3.1-0.2-0.3-1.6-0.7-1.5-1.2-0.7-0.1-2.3 1-1.7 2-1 2.7 0 3 1 3 1.6 2.5 2.4 1.9 2.7 1M375.2 290.5l1.4 0.2 1.6-0.2 1.7-0.5 1.4-0.7 2.3-2.2 1.8-3 0.6-3.3-0.5-3.1-0.6-1.3-1-1.3-1.2-1-1.1-0.6-1.1-0.1-1.8 1.3-1.6 0.7-0.2 0.3 0 3.1-0.8 2.3-1.6 1.6-2.4 1.4-0.2 0.4 0.2 1.6-0.2 2.4 1.3 1.2 2 0.8M311.8 253.9l0.7-0.1 1.5-1.2 1.6-0.7 0.2-0.3 0-3.1 0.8-2.3 1.6-1.6 2.4-1.4 0.2-0.4-0.2-1.6 0.2-2.4-1-1-1.3-0.7-1.3-0.4-1.7 0-1.7 0.3-1.7 0.6-1.3 0.9-1.4 1.3-1 1.4-0.9 1.6-0.6 1.7-0.2 2 0.1 1.7 0.5 1.7 0.7 1.3 1.1 1.4 1.3 0.9 1.4 0.4M380.6 253.9l1.3-0.3 1.4-0.8 1.2-1.2 0.8-1.4 0.5-1.7 0.2-1.6-0.2-2-0.4-1.7-0.8-1.7-1.3-1.7-1.4-1.3-1.3-0.9-1.7-0.6-1.7-0.3-1.7 0-1.3 0.4-1.3 0.7-1 1 0.2 2.4-0.2 1.6 0.2 0.4 2.4 1.4 1.6 1.6 0.8 2.3 0 3.1 0.2 0.3 1.6 0.7 1.9 1.3M341.3 231.2l2.7-1.6 2.4-0.4 2.3 0.4 2.3 1.5 0.7 0 1.4-1.1 1.6-0.6 0.6-0.7 0.1-2.3-0.7-2.4-1-1.3-1.3-1.3-1.7-1-1.7-0.6-1.6-0.3-2.1 0-2 0.4-1.6 0.7-1.7 1.1-1.6 1.7-0.8 1.7-0.4 2 0.4 2 2 0.9 1.7 1.2M345.3 306.6l2.1 0 1.6-0.3 1.7-0.7 1.5-1 1.2-1.3 0.8-1.4 0.4-1.7-0.2-1.2-1.7-0.9-1.7-1.3-3 1.3-1.6 0.2-1.7-0.2-3-1.3-1.7 1.3-1.7 0.9-0.2 0.9 0.2 1.3 0.5 1.4 1 1.3 1.2 1.1 1.3 0.8 3 0.8M315.1 289.5l2.7 0 1.9-1 0-2.4 0.4-1.6-0.2-0.4-2.4-1.7-1.3-1.6-0.6-1.7-0.4-3-3.8-1.8-1.6 1.1-1.5 2.3-0.5 2.4 0.3 2.7 1 2.3 1.7 2.2 2 1.5 2.3 0.7M375.2 289.5l2.7 0 2.5-1 2.2-1.9 1.5-2.5 0.8-3-0.3-2.7-1.1-2.3-0.9-1-1-0.6-0.7-0.2-1.7 1.1-1.7 0.7-0.4 3-0.6 1.7-1.3 1.6-2.4 1.7-0.2 0.4 0.4 1.6 0 2.4 0.9 0.6 1.3 0.4M311.4 253l3.8-1.8 0.4-3 0.6-1.7 1.6-1.9 2.1-1.4 0.2-0.4-0.4-1.6 0.1-2.1-1-0.9-1.3-0.4-1.4-0.1-2.6 0.5-2.7 1.8-1.9 2.5-1 3 0.1 3 0.5 1.4 0.7 1.3 1.2 1.3 1 0.5M380.9 253l1-0.3 1-0.8 1-1.3 0.6-1.4 0.4-3-0.3-1.7-0.6-1.7-1.9-2.6-2.5-1.8-1.4-0.5-1.6-0.2-1.4 0.1-1.3 0.4-1 0.9 0.1 2.1-0.4 1.6 0.2 0.4 2.1 1.4 1.6 1.9 0.6 1.7 0.4 3 1.7 0.7 1.7 1.1M341.7 230.5l3-1.3 1.7-0.2 1.6 0.2 2.7 1.2 0.6 0 1.1-1 2-1.1 0.2-1.2-0.4-1.7-0.7-1.4-1.1-1.1-2.7-1.7-1.7-0.4-1.6-0.2-1.7 0.2-1.7 0.4-1.7 0.9-1.5 1.3-1.2 1.7-0.5 1.6 0.2 1.6 1.7 0.9 1.7 1.3M345.7 304.9l2 0 1.7-0.5 1.6-1 1.2-1.2 0.5-1.3-1.5-1.3-0.9-1.4-0.6-0.2-3.3 0.7-3.7-0.7-0.7 0.6-0.5 1-1.5 1.3 0.5 1.3 1.5 1.4 1.7 0.9 2 0.4M315.1 287.9l1 0.1 1.1-0.2 0.5-2 0.5-0.7 0.2-1-2.4-3-1.2-3.4-1-0.4-1 0.1-1.7-0.6-0.3 0.1-0.8 1.2-0.5 1.7 0.1 1.6 0.4 1.7 0.9 1.7 1.1 1.3 1.5 1.1 1.6 0.7M375.5 287.8l1.7 0.1 1.7-0.5 1.8-1.3 1.4-1.6 0.8-2.1 0.3-2-0.3-2-1-1.5-0.3-0.1-1.7 0.6-1-0.1-1 0.4-1.2 3.4-2.4 3 0.2 1 0.5 0.7 0.5 2M310.8 250.4l0.3 0.1 1.7-0.6 1 0.1 1-0.4 1.2-3.4 2.4-3-0.2-1-0.5-0.7-0.5-2-1.4-0.2-2 0.6-1.8 1.3-1.4 1.6-0.8 2.1-0.3 2 0.3 2 1 1.5M381.3 250.3l0.3 0.2 0.7-0.4 0.8-2.2 0-2.4-0.9-2.3-1.3-1.8-1.7-1.3-2-0.7-1.7 0.1-0.5 2-0.6 1 0 1 2.3 2.7 1.2 3.4 1 0.4 1-0.1 1.4 0.4M342.7 229.3l3.7-0.7 3.6 0.7 0.7-0.6 0.5-1 1.5-1.3-0.2-0.7-1.5-1.8-2.3-1.2-2.7-0.4-2.3 0.5-2.4 1.4-0.8 0.9-0.5 1 0 0.3 1.5 1.3 0.5 1 0.7 0.6"/>
<g fill="none" stroke="#e8e8f0" stroke-opacity=".3" stroke-width=".5"><circle cx="374.5" cy="263.6" r="6.4"/><circle cx="346.4" cy="234.4" r="3.9"/><circle cx="360.4" cy="239.2" r="6.4"/><circle cx="321.0" cy="249.0" r="3.9"/><circle cx="332.3" cy="239.2" r="6.4"/><circle cx="321.0" cy="278.3" r="3.9"/><circle cx="318.2" cy="263.6" r="6.4"/><circle cx="346.4" cy="292.9" r="3.9"/><circle cx="332.3" cy="288.1" r="6.4"/><circle cx="371.7" cy="278.3" r="3.9"/><circle cx="360.4" cy="288.1" r="6.4"/><circle cx="371.7" cy="249.0" r="3.9"/></g>
</g>
<circle cx="346.35" cy="263.65" r="67.30" fill="none" stroke="#333" stroke-width=".5"/>
<rect x="270.60" y="189.50" width="151.50" height="148.30" fill="none" stroke="#7c7c7c" stroke-width=".95"/>
<path d="M270.60 330.77h1.8M422.10 330.77h-1.8M270.60 317.35h1.8M422.10 317.35h-1.8M270.60 303.92h1.8M422.10 303.92h-1.8M270.60 290.50h1.8M422.10 290.50h-1.8M270.60 277.07h1.8M422.10 277.07h-1.8M270.60 263.65h1.8M422.10 263.65h-1.8M270.60 250.22h1.8M422.10 250.22h-1.8M270.60 236.80h1.8M422.10 236.80h-1.8M270.60 223.37h1.8M422.10 223.37h-1.8M270.60 209.95h1.8M422.10 209.95h-1.8M270.60 196.52h1.8M422.10 196.52h-1.8M292.65 189.50v1.8M292.65 337.80v-1.8M346.35 189.50v1.8M346.35 337.80v-1.8M400.05 189.50v1.8M400.05 337.80v-1.8" stroke="#777" stroke-width=".7" fill="none"/>
<g class="t">
<text x="242.0" y="194.0">mm</text>
<text x="269.0" y="334.5" text-anchor="end">-25</text>
<text x="269.0" y="321.0" text-anchor="end">-20</text>
<text x="269.0" y="307.6" text-anchor="end">-15</text>
<text x="269.0" y="294.2" text-anchor="end">-10</text>
<text x="269.0" y="280.8" text-anchor="end">-5</text>
<text x="269.0" y="267.3" text-anchor="end">0</text>
<text x="269.0" y="253.9" text-anchor="end">5</text>
<text x="269.0" y="240.5" text-anchor="end">10</text>
<text x="269.0" y="227.1" text-anchor="end">15</text>
<text x="269.0" y="213.6" text-anchor="end">20</text>
<text x="293.0" y="348.5" text-anchor="middle">-20</text>
<text x="346.4" y="348.5" text-anchor="middle">0</text>
<text x="395.1" y="348.5" textLength="27" lengthAdjust="spacingAndGlyphs">20 mm</text>
<rect x="429.50" y="208.50" width="6.30" height="124.90" fill="url(#jet)"/>
<text x="438.4" y="221.2">0.07</text>
<text x="438.4" y="237.9">0.06</text>
<text x="438.4" y="254.5">0.05</text>
<text x="438.4" y="271.2">0.04</text>
<text x="438.4" y="287.9">0.03</text>
<text x="438.4" y="304.6">0.02</text>
<text x="438.4" y="321.2">0.01</text>
</g>
<text class="cap" x="299.9" y="363.4" textLength="106.5" lengthAdjust="spacingAndGlyphs">(<tspan font-weight="normal">j</tspan>) CICC (6 strands)</text>
</g>
<g id="pk">
<clipPath id="ck"><circle cx="108.17" cy="443.35" r="67.30"/></clipPath>
<g clip-path="url(#ck)">
<g filter="url(#bl)">
<rect x="37.9" y="373.1" width="140.6" height="140.6" fill="#000084"/>
<path fill="#000096" d="M38.7 513.2l139.3 0 0-139.7-139.6 0 0 139.7zM108.1 471.2l0.1-0.2 0 0.4zM108.1 415.5l0.1-0.2 0 0.4z"/>
<path fill="#0000a8" d="M38.7 513.2l139.3 0 0-139.7-139.6 0 0 139.7zM108 471.2l0.2-0.4 0.2 0.4-0.2 0.3zM88.2 463.2l0.5-0.4-0.1 0.4-0.2 0.1zM127.7 463.2l-0.1-0.4 0.5 0.4-0.1 0.1zM105.5 459.1l-3.4-0.9-2.6-1.4-2.4-1.9-2-2.4-1.4-2.4-1.1-3.1-0.4-3 0.2-3.3 1-3.4 1.4-2.7 1.8-2.3 2.4-2 2.5-1.5 3-1 3-0.4 3.4 0.2 3.3 0.9 2.7 1.4 2.4 1.9 2 2.4 1.4 2.4 1 3.1 0.5 3-0.3 3.3-0.9 3.4-1.4 2.7-1.9 2.3-2.3 2-2.5 1.5-3 1-3.1 0.4zM80 443.4l0.3-0.2 0.4 0.2-0.4 0.1zM135.7 443.4l0.3-0.2 0.3 0.2-0.3 0.1zM88.6 423.9l-0.4-0.4 0.2-0.1 0.2 0.1 0.1 0.4zM127.6 423.9l0.1-0.4 0.3-0.1 0.1 0.1zM108.1 415.8l-0.1-0.3 0.2-0.3 0.2 0.3z"/>
<path fill="#0000bb" d="M38.7 513.2l139.3 0 0-139.7-139.6 0 0 139.7zM108.1 471.5l-0.2-0.3 0.3-0.5 0.3 0.5-0.2 0.3zM88.1 463.2l0.3-0.4 0.3-0.2 0.2 0.2-0.1 0.4-0.4 0.2zM127.6 463.2l-0.1-0.4 0.1-0.2 0.4 0.2 0.2 0.4-0.2 0.2zM105 460.5l-3.4-1-3.2-1.7-2.4-2-2.3-2.7-1.6-3-0.9-3.1-0.4-3.3 0.2-3.4 1-3.3 1.4-2.9 2-2.6 2.7-2.4 3-1.7 3.4-1.1 3.3-0.4 3.4 0.3 3.4 1 2.8 1.4 2.6 2 2.4 2.7 1.7 3 1.1 3.4 0.4 3.3-0.3 3.4-0.9 3.3-1.6 3-2.2 2.9-2.7 2.2-3 1.6-3.4 1-3.3 0.4zM79.9 443.4l0.4-0.3 0.6 0.3-0.6 0.2zM135.5 443.4l0.5-0.3 0.5 0.3-0.5 0.2zM88.3 423.9l-0.2-0.4 0.3-0.2 0.4 0.2 0.1 0.4-0.2 0.2zM127.5 423.9l0.1-0.4 0.4-0.2 0.2 0.2-0.2 0.4-0.4 0.2zM108 415.8l-0.1-0.3 0.3-0.4 0.3 0.4-0.3 0.5z"/>
<path fill="#0000cd" d="M38.7 513.2l139.3 0 0-139.7-139.6 0 0 139.7zM107.9 471.5l-0.1-0.6 0.4-0.4 0.3 0.3 0.1 0.4-0.4 0.6zM88.3 463.5l-0.3-0.3 0.4-0.6 0.3-0.1 0.3 0.3-0.1 0.4zM127.9 463.5l-0.5-0.3-0.1-0.4 0.3-0.3 0.4 0.1 0.3 0.6zM105.7 461.8l-3.6-0.8-3.3-1.6-3-2.2-2.4-2.5-1.9-3-1.3-3.3-0.6-3.7 0.1-3.7 0.9-3.7 1.5-3.3 2-2.8 2.7-2.6 3-1.9 3.3-1.3 3.7-0.6 3.7 0.1 3.7 0.8 3.3 1.5 2.9 2.1 2.5 2.6 1.9 3.1 1.3 3.3 0.7 3.7-0.1 3.7-0.9 3.7-1.5 3.3-2 2.8-2.8 2.6-3.2 2-3.4 1.3-3.7 0.6zM80.1 443.7l-0.3-0.3 0.2-0.3 0.7-0.1 0.3 0.4-0.3 0.3zM135.7 443.7l-0.4-0.3 0.4-0.4 0.7 0.1 0.2 0.3-0.4 0.3zM88.2 423.9l-0.2-0.4 0.4-0.3 0.5 0.3 0.1 0.4-0.3 0.3zM127.3 423.9l0.1-0.4 0.6-0.3 0.3 0.3-0.3 0.6-0.4 0.1zM108.1 416.2l-0.3-0.7 0.4-0.6 0.4 0.6-0.1 0.4z"/>
<path fill="#0000df" d="M38.7 513.2l139.3 0 0-139.7-139.6 0 0 139.7zM108.1 471.9l-0.4-0.4 0-0.3 0.1-0.6 0.4-0.2 0.3 0.2 0.2 0.6-0.2 0.5zM88 463.5l-0.1-0.3 0.5-0.7 0.3-0.1 0.4 0.1-0.1 0.7-0.3 0.3-0.3 0.1zM127.6 463.5l-0.4-0.7 0.1-0.3 0.3-0.1 0.4 0.1 0.5 0.7-0.2 0.4zM107.1 463.2l-3.6-0.6-3.7-1.3-3.4-2-3-2.7-2.1-2.8-1.8-3.7-0.9-3.7-0.2-4.1 0.5-3.6 1.3-3.7 2-3.4 2.7-3 2.9-2.1 3.7-1.8 3.7-1 4-0.2 3.7 0.6 3.7 1.3 3.3 2 3 2.7 2.2 2.8 1.8 3.7 0.9 3.7 0.2 4.1-0.6 3.6-1.2 3.7-2 3.4-2.8 3-2.8 2.1-3.7 1.8-4 1zM79.9 443.7l-0.3-0.4 0.4-0.4 0.3-0.1 0.6 0.2 0.3 0.4-0.5 0.4zM135.4 443.7l-0.2-0.3 0.5-0.5 0.7 0 0.3 0.5-0.2 0.3-0.5 0.2zM88.4 424.2l-0.5-0.7 0.1-0.3 0.4-0.1 0.6 0.4 0.2 0.4-0.2 0.4zM127.3 424.2l0-0.7 0.3-0.3 0.4-0.1 0.4 0.1 0.1 0.3-0.5 0.7-0.4 0.1zM107.9 416.2l-0.2-0.7 0.1-0.5 0.4-0.2 0.4 0.4 0.1 0.6-0.5 0.5z"/>
<path fill="#0000ed" d="M38.7 513.2l139.3 0 0-139.7-139.6 0 0 139.7zM107.9 471.9l-0.3-0.4 0-0.6 0.2-0.5 0.4-0.2 0.4 0.3 0.2 0.7-0.3 0.7-0.3 0.1zM106.3 464.5l-4.8-0.4-1.7-0.5-1.4-0.8-1.8-1.3-3.5-3.3-4.4-5-1-2.1-0.5-3.1-0.2-5.3 0.4-6.1 1-2.5 2.1-2.8 3.9-4.1 3-2.6 1.7-1.2 2.7-0.8 4-0.4 3.7 0 5.4 0.4 2.5 0.9 2.9 2.2 4 3.9 2.7 3 1.1 1.7 0.9 2.7 0.3 4 0 3.7-0.4 5.4-0.9 2.5-1.6 2.2-3.8 4.1-4.6 3.9-2.1 1-1.7 0.4-4.7 0.3zM87.8 463.5l0.1-0.7 0.2-0.3 0.6-0.3 0.5 0.3 0 0.7-0.5 0.5-0.7 0zM127.4 463.5l-0.3-0.3 0-0.7 0.2-0.2 0.7 0 0.5 0.5 0 0.7-0.5 0.2zM79.7 443.7l-0.2-0.3 0.1-0.4 0.7-0.3 0.7 0.2 0.3 0.5-0.2 0.3-0.4 0.3-0.7-0.1zM135.2 443.7l-0.1-0.3 0.1-0.4 0.5-0.3 0.7 0.1 0.4 0.6-0.1 0.3-0.7 0.3zM88.1 424.2l-0.2-0.3-0.1-0.7 0.2-0.2 0.7 0 0.5 0.5 0 0.7-0.5 0.3zM127.1 424.2l0-0.7 0.5-0.5 0.7 0 0.2 0.2 0 0.7-0.3 0.3-0.6 0.3zM107.7 416.2l-0.1-0.4 0-0.6 0.6-0.5 0.5 0.5 0.1 0.6-0.3 0.5-0.3 0.2z"/>
<path fill="#0000ff" d="M38.7 513.2l139.3 0 0-139.7-139.6 0 0 139.7zM107.7 471.9l-0.3-0.4 0-0.6 0.4-0.7 0.4-0.1 0.6 0.4 0.1 1-0.7 0.7zM107.7 466.2l-4.9-0.5-2.2-0.5-1.7-0.7-1.9-1-1.9-1.4-3.7-3.3-3-3.7-1.7-3.2-1-3.9-0.3-5.3 0.4-4.7 0.6-2.2 0.6-1.8 1-1.8 1.4-2 3.3-3.6 3.8-3.1 3.2-1.6 3.9-1 5.2-0.4 4.7 0.5 2.2 0.5 1.8 0.7 1.9 1 1.9 1.4 3.7 3.3 3 3.7 1.7 3.2 1 3.9 0.3 5.3-0.5 4.7-0.5 2.2-0.7 1.8-1 1.8-1.3 2-3.3 3.6-3.8 3.1-3.2 1.6-3.9 1zM88 463.8l-0.3-0.3 0-0.3 0.2-0.7 0.5-0.3 0.6 0 0.4 0.3 0 0.3-0.2 0.7-0.5 0.3zM127.7 463.8l-0.7-0.6 0-0.7 0.3-0.3 0.7 0 0.6 0.6 0 0.7-0.3 0.3zM79.9 444l-0.5-0.6 0.2-0.6 0.4-0.2 0.7 0 0.6 0.4 0.1 0.4-0.4 0.6-0.7 0.2zM135.5 444l-0.6-0.6 0.5-0.7 0.6-0.2 0.7 0.3 0.3 0.6-0.3 0.5-0.7 0.3zM88.5 424.6l-0.5-0.3-0.3-0.4 0-0.7 0.3-0.3 0.7 0 0.7 0.6 0 0.7-0.4 0.3zM127.4 424.6l-0.4-0.4 0-0.7 0.6-0.6 0.7 0 0.4 0.3-0.1 0.7-0.6 0.6zM107.9 416.5l-0.3-0.3-0.2-0.7 0.3-0.7 0.5-0.3 0.7 0.7 0 0.6-0.4 0.7-0.3 0.1z"/>
<path fill="#0000ff" d="M38.7 513.2l139.3 0 0-139.7-139.6 0 0 139.7zM108 472.2l-0.5-0.3-0.3-0.7 0.3-0.8 0.7-0.5 0.6 0.5 0.4 0.8-0.3 0.7-0.6 0.3zM105.8 466.8l-4.3-0.7-1.9-0.6-2.2-1-3.9-2.7-3.8-3.7-2.7-4-1.4-3.4-0.6-2.5-0.3-2.5 0-5 0.3-2.2 0.7-2.8 1.7-3.7 2.7-3.8 3.8-3.6 1.8-1.4 2.3-1.3 3.8-1.4 4-0.6 5.1 0 2.1 0.3 2.8 0.7 3.8 1.6 3.7 2.7 3.7 3.8 1.3 1.9 1.4 2.3 1.3 3.7 0.7 4.1-0.1 5-0.9 4.7-1.4 3.4-2.7 4-3.7 3.7-3.3 2.4-3.8 1.6-2.8 0.7-2.1 0.3zM87.8 463.8l-0.3-0.6 0.2-0.7 0.7-0.5 1 0.1 0.1 0.4 0 0.7-0.4 0.6-0.7 0.2zM127.3 463.8l-0.5-0.6 0.2-1 0.6-0.2 0.7 0.2 0.5 0.6-0.2 0.9-0.6 0.3zM79.6 444l-0.3-0.6 0.3-0.7 0.4-0.3 0.7 0 0.8 0.6 0.1 0.4-0.1 0.3-0.5 0.4-0.7 0.2zM135.2 444l-0.4-0.6 0.6-0.8 1-0.2 0.6 0.6 0 0.7-0.6 0.6-0.7 0zM88.1 424.6l-0.6-0.7 0.2-0.9 0.7-0.3 0.6 0.2 0.5 0.6-0.1 1-0.7 0.2zM127 424.6l-0.2-0.4 0-0.7 0.5-0.6 0.7-0.2 0.6 0.2 0.2 0.6-0.2 0.7-0.6 0.5zM107.7 416.5l-0.5-0.7 0.1-0.6 0.5-0.6 0.5-0.1 0.8 0.7 0 0.6-0.6 0.8-0.3 0.2z"/>
<path fill="#0010ff" d="M38.7 513.2l139.3 0 0-139.7-139.6 0 0 139.7zM107.7 472.2l-0.4-0.3-0.3-0.7 0.5-1.1 0.7-0.4 0.6 0.4 0.6 1.1-0.3 0.7-0.5 0.3-0.4 0.1zM104.5 467.2l-2.7-0.5-2.4-0.7-1.7-0.8-2.3-1.4-2.3-1.7-1.8-1.6-1.9-2.1-1.7-2.2-2-3.8-0.7-2-0.5-2.7-0.3-2.3-0.1-3.1 0.6-4.6 0.6-2.4 0.7-1.8 1-1.9 1.7-2.5 1.6-1.9 2.1-2 2-1.7 2-1.3 3.7-1.7 4.4-1 5-0.2 4.3 0.6 2.4 0.6 1.8 0.7 1.9 1 2.5 1.7 1.9 1.6 2.1 2.1 1.6 2 1.3 2 1.7 3.6 1 4.5 0.2 5-0.5 4.3-0.7 2.4-0.7 1.8-2.3 3.9-1.6 2-2 2-3.4 2.7-3.8 2-3.4 1-4.3 0.6zM87.6 463.8l-0.2-1 0.3-0.7 1-0.3 0.7 0.1 0.2 0.2 0.1 1.1-0.3 0.6-0.7 0.3zM127 463.8l-0.3-0.6 0-1.1 0.3-0.2 0.6-0.1 1 0.4 0.4 0.6-0.3 1-1.1 0.3zM79.8 444.4l-0.5-0.6-0.1-0.4 0.4-0.9 0.4-0.3 0.7 0 1 0.8 0.1 0.4-0.1 0.3-0.7 0.6-0.7 0.2zM135.5 444.4l-0.5-0.4-0.5-0.6 0.9-1 1-0.2 0.6 0.7 0.1 0.8-0.7 0.8zM87.7 424.6l-0.3-0.7 0.2-1 1.1-0.3 0.7 0.3 0.3 0.6-0.1 1.1-0.2 0.2-0.7 0.1zM126.7 424.6l0-1.1 0.3-0.6 0.6-0.3 1.1 0.3 0.3 1-0.4 0.7-1 0.3-0.6-0.1zM107.8 416.8l-0.6-0.6-0.2-0.7 0.3-0.7 0.9-0.4 0.9 0.4 0.3 0.7-0.3 0.7-0.6 0.7-0.3 0.1z"/>
<path fill="#0024ff" d="M38.7 513.2l139.3 0 0-139.7-139.6 0 0 139.7zM107.5 472.2l-0.4-0.3-0.3-0.7 0.7-1.3 0.7-0.4 0.3 0.1 0.7 0.7 0.4 0.9-0.1 0.3-1 0.9-0.3 0zM104.3 467.5l-2.5-0.4-2.4-0.7-2-0.9-2.2-1.3-3.8-3.1-2.2-2.3-1.8-2.5-1.4-2.2-0.7-1.7-0.7-2-0.5-2.7-0.3-2.7 0-3 0.5-4.5 0.7-2.5 0.7-1.7 1.3-2.4 1.4-1.9 1.7-2 2.1-2.1 4.1-3 3.5-1.7 4.5-1 5.2-0.2 4.5 0.5 2.5 0.7 1.7 0.7 2.4 1.3 2 1.3 1.9 1.7 2.1 2.2 3.1 4 1.6 3.6 1 4.5 0.3 5.2-0.6 4.5-0.7 2.5-0.6 1.7-2.4 3.9-1.7 2-2 2.1-3.4 2.8-3.6 1.9-3.6 1.1-4.5 0.5zM88 464.2l-0.3-0.2-0.3-0.5-0.2-0.7 0.2-0.7 1.3-0.5 1 0.2 0.2 1-0.5 1.3-0.7 0.2zM127 464.2l-0.5-1.4 0.1-1 1-0.2 1.3 0.5 0.2 0.7-0.3 1-0.8 0.5zM80 444.7l-0.7-0.7-0.2-0.6 0.5-1.2 0.7-0.2 1.4 0.7 0.4 0.7-0.2 0.3-0.7 0.7-0.9 0.3zM135.9 444.7l-1.2-0.7-0.4-0.6 0.4-0.7 1.3-0.7 0.7 0.2 0.6 1.2-0.6 1.1-0.3 0.2zM88.1 424.9l-0.7-0.3-0.2-0.4 0.3-1.3 0.9-0.5 0.9 0.1 0.6 1.4-0.2 1-0.7 0.2zM126.6 424.9l-0.1-1 0.5-1.3 1-0.2 0.8 0.5 0.3 1-0.2 0.7-1.3 0.5zM108 417.2l-0.7-0.7-0.5-1 0.3-0.7 1.1-0.5 1.1 0.5 0.3 0.7-0.8 1.3-0.4 0.4z"/>
<path fill="#0038ff" d="M38.7 513.2l139.3 0 0-139.7-139.6 0 0 139.7zM108.1 472.5l-0.9-0.3-0.6-0.3-0.1-0.4 0.1-0.6 0.6-1.1 0.3-0.4 0.7-0.3 0.6 0.3 0.4 0.4 0.5 1.1 0.2 0.6-0.2 0.4-0.5 0.3zM107.1 468.2l-5.4-0.7-2.3-0.6-1.6-0.7-2-1.1-2.3-1.6-3.8-3.5-3-3.9-1.2-2-0.8-1.8-1.1-4.6-0.3-3 0-2.7 0.7-5.2 0.6-2.2 0.7-1.7 1.1-2 1.6-2.2 3.5-3.8 3.9-3.1 2-1.1 1.9-0.8 4.5-1.1 3-0.3 2.7 0 5.2 0.7 2.2 0.6 1.7 0.7 2 1.1 2.2 1.6 3.8 3.5 3.1 3.9 1.2 2 0.8 1.8 1 4.6 0.3 3 0 2.7-0.7 5.2-0.6 2.2-0.7 1.7-1.1 2-1.6 2.2-3.5 3.8-3.9 3.1-2 1.1-1.8 0.8-4.6 1.1zM88.6 464.5l-0.9-0.4-0.3-0.3-0.4-1 0-0.7 1-0.6 1.4-0.2 0.7 0.5 0.1 1-0.5 1.4-0.3 0.3zM126.9 464.5l-0.3-0.3-0.4-1.4 0.1-1.1 0.3-0.3 0.7-0.1 1.7 0.5 0.4 0.7-0.4 1.3-1 0.6-0.7 0.2zM79.9 445l-0.6-0.6-0.3-1 0.6-1.6 0.7-0.1 1.7 0.8 0.4 0.9-0.3 0.6-0.3 0.4-1.1 0.5zM136 445l-1.6-0.8-0.4-0.8 0.2-0.7 0.4-0.4 1.1-0.5 0.7-0.1 0.3 0.1 0.3 0.5 0.4 1.1-0.7 1.5zM88.3 425.2l-0.9-0.3-0.4-0.3-0.1-0.4 0.3-1 0.8-0.8 1-0.3 0.4 0.1 0.3 0.3 0.5 1.4-0.1 1-0.7 0.5zM126.6 425.2l-0.3-0.3-0.2-0.7 0.5-1.7 0.7-0.4 1.3 0.5 0.7 0.9 0 1.1-0.3 0.3-1.4 0.5zM108 417.5l-0.9-0.7-0.6-1.6 0.1-0.4 0.6-0.3 1-0.4 1.5 0.7 0.2 0.7-0.9 1.7-0.5 0.3z"/>
<path fill="#0050ff" d="M38.7 513.2l139.3 0 0-139.7-139.6 0 0 139.7zM107.5 472.5l-0.9-0.3-0.4-0.3 0.4-1.7 0.8-1.3-0.2-0.2-5.7-0.8-3.1-0.9-3-1.6-4.3-3.4-0.4 0-0.4 1.5-0.9 1.4-1-0.2-1-0.7-0.5-0.8-0.3-1.1 1.4-0.9 1.5-0.4 0-0.3-3.3-4.4-1.7-3-0.8-2.8-0.7-5.3-0.3-0.8-1.4 0.7-1.7 0.4-0.3-0.3-0.4-1.6 0.4-1.7 0.3-0.3 1.7 0.4 1.4 0.7 0.3-0.8 0.7-5.3 0.8-2.8 1.7-3 3.3-4.4 0-0.3-1.5-0.4-1.4-0.9 0.3-1.1 0.5-0.8 1-0.7 1-0.2 0.9 1.4 0.4 1.5 0.4 0 4.3-3.4 3-1.6 3.1-0.9 5.7-0.8 0.2-0.2-0.8-1.3-0.4-1.7 0.4-0.3 1.6-0.5 1.6 0.5 0.4 0.3-0.4 1.7-0.8 1.3 0.2 0.2 5.7 0.8 3 0.9 3 1.6 4.4 3.4 0.3 0 0.4-1.5 1-1.4 1 0.2 1 0.7 0.5 0.8 0.3 1.1-1.5 0.9-1.5 0.4 0.1 0.3 3.3 4.4 1.6 3 0.9 2.8 0.7 5.3 0.3 0.8 1.3-0.7 1.7-0.4 0.3 0.3 0.5 1.7-0.5 1.6-0.3 0.3-1.7-0.4-1.3-0.7-0.1 0.2-0.9 5.7-0.9 3-1.6 3-3.3 4.4-0.1 0.3 1.5 0.4 1.5 0.9-0.3 1.1-0.7 1-0.8 0.5-1 0.2-1-1.4-0.4-1.5-0.3 0-4.4 3.4-3 1.6-2.8 0.9-5.2 0.7-0.9 0.3 0.8 1.3 0.4 1.7-0.4 0.3-1 0.4-0.6 0.1z"/>
<path fill="#0068ff" d="M38.7 513.2l139.3 0 0-139.7-139.6 0 0 139.7zM106.7 472.5l-0.5-0.2-0.3-0.4 0.6-2.7-0.3-0.3-5.4-0.7-2.7-0.8-2.3-1.3-4.4-3.3-0.3 0-1.2 2-0.5 0.5-0.7-0.2-1.3-0.9-1-1.4-0.1-0.7 0.4-0.5 2-1.1 0-0.4-3.2-4.3-1.4-2.4-0.8-2.7-0.7-5.3-0.3-0.4-2.3 0.6-0.7-0.1-0.3-0.5-0.3-1.6 0.3-1.7 0.3-0.5 0.7-0.1 2.3 0.6 0.3-0.4 0.7-5.3 0.8-2.7 1.4-2.4 3.2-4.3 0-0.4-2-1.1-0.4-0.5 0.1-0.7 1-1.4 1.3-0.9 0.7-0.2 0.5 0.5 1.2 2 0.3 0 4.4-3.3 2.3-1.3 2.7-0.8 5.4-0.7 0.3-0.3-0.6-2.3 0.1-0.7 0.5-0.3 1.7-0.3 1.7 0.3 0.4 0.3 0.2 0.7-0.7 2.3 0.4 0.3 5.3 0.7 2.7 0.8 2.4 1.3 4.4 3.3 0.3 0 1.2-2 0.5-0.5 0.6 0.2 1.4 0.9 1 1.4 0.1 0.7-0.4 0.5-2.1 1.1 0 0.4 3.3 4.3 1.3 2.4 0.8 2.7 0.8 5.3 0.2 0.4 2.4-0.6 0.6 0.1 0.3 0.5 0.3 1.7-0.3 1.6-0.3 0.5-0.6 0.1-2.4-0.6-0.2 0.4-0.8 5.3-0.8 2.7-1.3 2.4-3.3 4.3 0 0.4 2.1 1.1 0.4 0.5-0.1 0.7-1 1.4-1.4 0.9-0.6 0.2-0.5-0.5-1.2-2-0.3 0-4.4 3.3-2.4 1.3-2.7 0.8-5.3 0.7-0.4 0.3 0.7 2.3 0 0.4-0.3 0.4-2 0.5z"/>
<path fill="#0080ff" d="M38.7 513.2l139.3 0 0-139.7-139.6 0 0 139.7zM107.2 472.9l-1-0.2-0.5-0.5-0.1-0.7 0.4-2-0.3-0.3-5.2-0.7-2.4-0.6-2-1.1-4-3.2-0.7-0.3-0.3 0.2-1.1 1.7-0.6 0.3-1-0.3-1.6-1.4-0.7-1-0.1-0.7 0.4-0.6 1.7-1 0.1-0.4-0.1-0.3-3.4-4.4-1.1-2-0.6-2.2-0.7-5.5-0.3-0.2-2 0.4-0.8-0.2-0.4-0.7-0.2-2.3 0.3-1.4 0.4-0.4 0.7-0.1 2 0.4 0.3-0.3 0.7-5.3 0.6-2.3 1.1-2 3.2-4.1 0.3-0.6-0.1-0.4-1.7-1-0.4-0.6 0.3-1.1 1.4-1.5 1-0.7 0.7-0.1 0.6 0.3 1.1 1.7 0.3 0.2 0.3-0.1 4.4-3.4 2-1.1 2.2-0.6 5.5-0.8 0.2-0.2-0.4-2 0.2-0.8 0.7-0.5 2.3-0.1 1.4 0.2 0.4 0.5 0.1 0.7-0.4 2 0.4 0.3 5.2 0.7 2.3 0.6 2.1 1.1 4 3.2 0.7 0.3 0.3-0.2 1.1-1.7 0.6-0.3 1 0.3 1.5 1.4 0.8 1 0 0.7-0.3 0.6-1.7 1-0.2 0.4 0.1 0.3 3.4 4.4 1.1 2 0.6 2.2 0.8 5.5 0.3 0.2 2-0.4 0.8 0.2 0.4 0.7 0.1 2.3-0.2 1.4-0.5 0.4-0.6 0.1-2-0.4-0.4 0.3-0.6 5.3-0.7 2.3-1.1 2-3.1 4.1-0.4 0.6 0.2 0.4 1.7 1 0.3 0.6-0.3 1.1-1.4 1.5-1 0.7-0.7 0.1-0.5-0.3-1.1-1.7-0.3-0.2-0.4 0.1-4.3 3.4-2.1 1.1-2.2 0.6-5.5 0.8-0.2 0.2 0.4 2-0.2 0.8-0.3 0.4-0.7 0.1z"/>
<path fill="#0094ff" d="M38.7 513.2l139.3 0 0-139.7-139.6 0 0 139.7zM106.1 472.9l-0.7-1 0.3-2-0.2-0.4-1-0.2-4.4-0.4-2.3-0.7-2-1.1-4.1-3.3-0.3 0-0.3 0.2-1.2 1.5-0.5 0.2-0.7 0-0.7-0.5-1.7-1.7-0.5-0.7 0.1-1 0.5-0.5 1.1-0.8 0.3-0.4-0.1-0.3-3.3-4-1.1-2-0.7-2.4-0.4-4.4-0.2-1-0.3-0.2-2.1 0.3-0.7-0.4-0.4-0.7 0-2.7 0.1-1 0.7-0.6 0.7-0.1 1.7 0.3 0.3-0.2 0.2-1 0.4-4.4 0.7-2.4 1.1-2 3.3-4 0.1-0.3-0.3-0.4-1.5-1.1-0.2-0.9 0.2-0.7 1.7-1.7 1-0.8 1 0.1 0.6 0.4 0.8 1.2 0.3 0.2 0.3 0 4.1-3.3 2-1.1 2.3-0.7 4.4-0.4 1-0.2 0.2-0.4-0.3-2 0.4-0.8 0.7-0.3 2.7-0.1 1 0.2 0.7 0.7 0.1 0.7-0.3 1.6 0.2 0.4 1 0.2 4.3 0.4 2.4 0.7 2 1.1 4 3.3 0.4 0 0.3-0.2 1.1-1.5 0.9-0.2 0.7 0.2 1.7 1.7 0.8 1-0.1 1-0.4 0.5-1.2 0.8-0.2 0.4 0 0.3 3.3 4 1.2 2 0.6 2.4 0.4 4.4 0.3 1 0.3 0.2 2-0.3 0.8 0.4 0.3 0.7 0.1 2.7-0.2 1-0.7 0.6-0.6 0.1-1.7-0.3-0.3 0.2-0.3 1-0.4 4.4-0.6 2.4-1.2 2-3.3 4 0 0.3 0.2 0.4 1.5 1.1 0.2 0.5 0 0.7-0.4 0.7-1.8 1.7-0.7 0.5-1-0.1-0.5-0.4-0.8-1.2-0.3-0.2-0.4 0-4 3.3-2 1.1-2.4 0.7-4.3 0.4-1 0.2-0.2 0.4 0.3 2-0.4 0.6-0.4 0.4-2.7 0.2z"/>
<path fill="#00acff" d="M42.7 512.9l0.3 0.3 130.3 0 4.4-4.4 0.3-0.3 0-130.3-4.4-4.4-0.3-0.3-130.3 0-4.4 4.4-0.2 0.3 0 130.3zM106.5 473.2l-0.7-0.3-0.5-0.7-0.1-0.7 0.2-1.3-0.2-0.4-1.1-0.3-4-0.2-2.3-0.6-2.4-1.4-3.7-3.1-0.3 0-0.3 0.2-1 1.3-0.7 0.2-0.7 0-0.7-0.4-2-2-0.4-0.7 0.1-1 0.3-0.5 1.1-0.8 0.3-0.4-0.1-0.3-3.1-3.7-1.4-2.3-0.6-2.4-0.2-4-0.3-1-0.4-0.3-1.7 0.2-0.6-0.3-0.6-0.6-0.1-3.4 0.3-1 0.7-0.5 0.7-0.1 1.3 0.2 0.4-0.3 0.3-1 0.2-4 0.6-2.4 1.4-2.3 3.1-3.7 0.1-0.3-0.3-0.4-1.2-1-0.3-0.6 0-0.7 0.4-0.7 2-2 0.7-0.4 1 0.1 0.5 0.3 0.9 1.1 0.3 0.2 0.3 0 3.7-3.1 2.4-1.4 2.3-0.6 4-0.2 1.1-0.3 0.2-0.4-0.2-1.7 0.3-0.7 0.7-0.5 3.3-0.2 1 0.4 0.5 0.7 0.2 0.7-0.2 1.3 0.2 0.4 1 0.3 4 0.2 2.4 0.6 2.3 1.4 3.7 3.1 0.4 0 0.3-0.2 1-1.3 0.7-0.2 0.6 0 0.7 0.4 2 2 0.4 0.7 0 1-0.4 0.5-1.1 0.8-0.2 0.4 0 0.3 3.2 3.7 1.3 2.3 0.6 2.4 0.3 4 0.2 1 0.4 0.3 1.7-0.2 0.7 0.3 0.6 0.6 0.1 3.4-0.3 1-0.8 0.5-0.6 0.1-1.4-0.2-0.4 0.3-0.2 1-0.3 4-0.6 2.4-1.3 2.3-3.2 3.7 0 0.3 0.2 0.4 1.3 1 0.2 0.6 0 0.7-0.4 0.7-2 2-0.7 0.4-1-0.1-0.5-0.3-0.8-1.1-0.3-0.2-0.4 0-3.7 3.1-2.3 1.4-2.4 0.6-4 0.2-1 0.3-0.2 0.4 0.1 1.7-0.2 0.7-0.7 0.5z"/>
<path fill="#00c4ff" d="M53.5 513l109.2 0.2 4.1-3.4 3.8-3.6 3.6-3.8 3.4-4.1 0.4-0.4 0-109.1-3.4-4.1-3.5-3.8-3.9-3.6-4-3.4-0.5-0.4-109.1 0-4 3.4-3.9 3.6-3.6 3.8-3.4 4.1-0.3 0.4 0 109.1 3.4 4.2 3.6 3.8 4 3.8zM106 473.2l-0.5-0.4-0.4-0.6 0-1.7-0.3-0.5-1-0.2-4-0.1-2.4-0.7-2-1.2-3.7-3.2-0.3-0.1-1 1.1-0.7 0.4-0.7 0.1-0.6-0.1-2.6-2.5-0.4-1 0.1-0.7 0.4-0.7 1.1-1-0.1-0.3-2.9-3.4-1.3-2-0.8-2.7-0.2-4-0.2-1-0.5-0.3-1.7 0-0.9-0.7-0.3-1 0-2.7 0.2-0.9 0.7-0.6 0.6-0.3 1.4 0.1 0.5-0.3 0.2-1 0.1-3.7 0.5-2 0.5-1.4 0.9-1.3 3.2-3.7 0.1-0.3-0.3-0.4-1-1-0.3-1 0.4-1 1.9-2 0.7-0.5 1-0.1 0.7 0.3 1.3 1.3 0.3-0.1 3.4-3 2-1.2 2.7-0.9 4-0.1 1-0.2 0.3-0.5 0-1.7 0.7-0.9 1-0.4 2.7 0 0.9 0.3 0.7 0.7 0.2 0.6-0.1 1.4 0.3 0.5 1 0.2 3.7 0.1 2 0.4 1.4 0.6 1.3 0.8 3.7 3.3 0.4 0.1 0.3-0.3 1-1.1 1-0.2 1 0.3 2 2 0.5 0.6 0.1 1.1-0.2 0.7-1.3 1.3 0 0.3 3 3.4 1.3 2 0.8 2.7 0.1 4 0.2 1 0.6 0.3 1.6 0 1 0.7 0.3 1 0 2.7-0.3 0.9-0.6 0.6-0.7 0.3-1.3-0.1-0.6 0.3-0.2 1-0.1 4-0.7 2.4-1.2 2-3.2 3.7 0 0.3 1 1 0.4 0.7 0.1 0.7-0.1 0.7-2.5 2.6-1 0.3-0.7-0.1-0.6-0.4-1-1.1-0.4 0.1-3.7 3.2-2 1.2-2.3 0.7-4.1 0.1-1 0.2-0.3 0.5 0 1.8-0.4 0.6-0.6 0.4-3.4 0.2z"/>
<path fill="#00dcfe" d="M63.5 512.9l0.5 0.3 88.3 0 7.2-5.1 3.6-3 3.2-3 3.2-3.4 2.8-3.2 5.2-7.2 0.5-0.8 0-88.3-5.1-7.2-3-3.6-3-3.2-3.3-3.2-3.3-2.8-7.2-5.2-0.8-0.5-88.3 0-7.2 5.1-3.5 3-3.3 3-3.2 3.4-2.7 3.2-5.2 7.2-0.5 0.8 0 88.3 5 7.2 3 3.6 3 3.2 3.4 3.2 3.4 2.9 3.6 2.8zM106.3 473.6l-0.8-0.5-0.3-0.5-0.3-0.7-0.1-1.3-0.3-0.3-4.4-0.2-2.3-0.5-2.4-1.3-3.7-3.3-0.3-0.1-1.7 1.3-1 0-0.9-0.4-2-2-0.4-0.6-0.1-1.1 0.4-0.9 0.9-1.1 0-0.3-3.1-3.4-1.2-1.8-0.8-2.5-0.2-5.1-0.4-0.3-1.9-0.3-0.8-0.7-0.3-1 0-2.7 0.1-0.7 0.6-0.8 1-0.4 1.3-0.1 0.4-0.3 0.2-4.4 0.5-2.4 1.2-2.3 3.4-3.7 0-0.3-1.2-1.7-0.1-1 0.4-0.9 2-2.1 0.7-0.3 1-0.1 0.9 0.4 1.1 0.9 0.3-0.1 3.4-3 1.8-1.2 2.5-0.8 5.1-0.3 0.3-0.3 0.3-1.9 0.7-0.8 1-0.4 2.7 0 0.7 0.2 0.8 0.6 0.5 1 0 1.3 0.4 0.3 4.3 0.2 2.4 0.5 2.3 1.3 3.7 3.3 0.4 0.1 1.6-1.3 1 0 1 0.4 2 2 0.4 0.6 0.1 1.1-0.4 0.9-0.9 1.1 0 0.3 3 3.4 1.2 1.8 0.8 2.5 0.3 5.1 0.3 0.3 2 0.3 0.7 0.7 0.4 1 0 2.7-0.2 0.7-0.6 0.8-1 0.4-1.3 0.1-0.3 0.3-0.2 4.4-0.5 2.4-1.3 2.3-3.3 3.7 0 0.3 1.2 1.7 0 1-0.3 0.9-2.1 2.1-0.8 0.4-0.8 0-1-0.4-1-0.9-0.4 0.1-3.3 3-2 1.3-2.7 0.7-4.7 0.3-0.4 0.3-0.3 1.9-0.7 0.8-1 0.4z"/>
<path fill="#09f0ee" d="M74.3 512.9l0.5 0.3 66.7 0 5.9-3.2 5.4-3.4 5-3.8 4.7-4.3 4.5-4.8 3.9-5 3.6-5.4 3.1-5.7 0.4-0.9 0-66.7-3.1-5.9-3.5-5.4-3.8-5-4.3-4.7-4.8-4.5-5-3.9-5.4-3.5-5.7-3.1-0.9-0.5-66.7 0-5.9 3.2-5.4 3.4-5 3.8-4.7 4.3-4.5 4.8-3.9 5-3.5 5.4-3.1 5.7-0.4 0.9 0 66.7 3.1 5.9 3.4 5.4 3.9 5 4.3 4.8 4.7 4.4 5.1 3.9 5.3 3.5zM107 473.9l-0.8-0.2-1-0.8-0.6-2-0.4-0.4-4.4-0.1-2-0.4-2.4-1.3-3.7-3.3-0.6 0-1.4 0.9-1.3 0-0.9-0.5-1.8-1.7-0.5-0.9-0.1-1.1 0.3-0.6 0.7-1 0.1-0.7-3.2-3.4-1-1.6-0.8-2.7-0.2-4.7-0.3-0.5-2.1-0.5-0.6-0.7-0.4-1 0-2.4 0.2-1 0.8-1 2.1-0.5 0.3-0.4 0.1-4.4 0.5-2.1 1.2-2.3 3.4-3.7-0.1-0.7-0.9-1.3 0-1.4 0.5-0.9 1.8-1.7 0.9-0.5 1-0.1 0.7 0.2 1 0.8 0.6 0 3.4-3.1 1.7-1.1 2.6-0.8 4.7-0.1 0.5-0.4 0.5-2 0.7-0.6 1-0.4 2.4 0 1 0.2 1 0.8 0.6 2 0.4 0.4 4.4 0.1 2 0.4 2.3 1.3 3.7 3.3 0.7 0 1.3-0.9 1.4 0 0.9 0.5 1.8 1.7 0.4 0.9 0.1 1.1-0.2 0.6-0.7 1-0.1 0.7 3.1 3.4 1.1 1.6 0.8 2.7 0.1 4.7 0.4 0.5 2 0.5 0.6 0.7 0.4 1 0 2.4-0.2 1-0.8 1-2 0.5-0.3 0.4-0.2 4.4-0.4 2.1-1.2 2.3-3.4 3.7 0.1 0.7 0.8 1.3 0 1.4-0.4 0.9-1.8 1.7-0.9 0.5-1 0.1-0.7-0.2-1-0.8-0.7 0-3.3 3.1-1.7 1.1-2.7 0.8-4.7 0.1-0.4 0.4-0.6 2-0.7 0.6-1 0.4z"/>
<path fill="#1cffdb" d="M86.7 512.9l1 0.3 41 0 7-2.5 7-3.3 6.1-3.6 5.7-4.2 5.4-4.9 4.5-5 4.2-5.7 3.8-6.4 3.1-6.7 2.4-6.7 0.1-41.4-2.6-7.3-3.4-7.1-3.6-6-4.3-5.7-4.6-5.1-5.2-4.6-5.9-4.3-6-3.5-6.7-3.2-6.7-2.4-41.3-0.1-7.4 2.7-7 3.3-6.1 3.6-5.7 4.3-5 4.6-4.7 5.2-4.3 5.9-3.5 6-3.2 6.7-2.3 6.7-0.1 41.4 2.4 7 3.4 7 3.5 6.1 4.2 5.7 4.6 5 5.1 4.7 5.6 4.2 6.1 3.6 6.7 3.2zM106.2 473.9l-1.2-1-0.6-1.7-0.3-0.3-1-0.2-3.7 0-2-0.4-2.3-1.4-3.4-3.2-0.6 0-1.7 0.8-1 0-1.3-0.7-1.4-1.4-0.5-0.9-0.2-1 0.1-0.7 0.7-1.3 0-0.7-0.5-0.7-2.4-2.3-1.4-2-0.7-2.7 0-4.4-0.5-0.6-1.7-0.6-0.8-0.8-0.4-1.3 0-2.1 0.3-1 0.7-1 2.3-1 0.2-1-0.1-3.7 0.5-2 1.3-2.3 3.2-3.4 0-0.7-0.8-1.6 0.1-1.1 0.6-1.2 1.4-1.4 0.9-0.6 1-0.1 0.7 0.1 1.4 0.7 0.6 0 0.7-0.5 2.4-2.5 2-1.3 2.6-0.7 4.4 0 0.6-0.5 0.6-1.7 0.8-0.8 1.4-0.4 2 0 1 0.2 1 0.8 1 2.2 1 0.2 3.7 0 2 0.4 2.4 1.4 3.3 3.2 0.7 0 1.6-0.8 1.1 0 1.2 0.7 1.5 1.4 0.5 0.9 0.2 1-0.1 0.7-0.8 1.3 0 0.7 0.5 0.7 2.5 2.3 1.3 2 0.7 2.7 0.1 4.4 0.4 0.6 1.7 0.6 0.8 0.8 0.4 1.3 0 2.1-0.2 1-0.8 1-2.2 1-0.2 1 0 3.7-0.4 2-1.3 2.3-3.3 3.4 0 0.7 0.8 1.6 0 1.1-0.6 1.2-1.5 1.4-0.9 0.6-1 0.1-0.7-0.1-1.3-0.7-0.7 0-0.7 0.5-2.3 2.5-2 1.3-2.7 0.7-4.4 0-0.6 0.5-0.7 1.9-1 0.8-1.4 0.2-1.6 0z"/>
<path fill="#30ffc7" d="M106.5 512.2l6.4-0.2 6.7-0.9 6.7-1.5 6.7-2.3 6.4-2.8 6-3.4 5.4-3.8 5-4.3 4.5-4.7 4.1-5.3 3.5-5.8 3.1-6.3 2.5-6.4 1.9-6.7 1.1-6.7 0.5-6.4-0.2-6.4-0.9-6.7-1.5-6.4-2.3-6.7-2.8-6.4-3.4-6-3.7-5.4-4.4-5-4.7-4.4-5.3-4.1-5.7-3.6-6.4-3.1-6.4-2.4-6.7-1.9-6.7-1.2-6.4-0.5-6.4 0.2-6.7 0.9-6.3 1.5-6.8 2.3-6.3 2.8-6.1 3.4-5.3 3.8-5.1 4.3-4.4 4.7-4.1 5.3-3.5 5.8-3.2 6.3-2.4 6.4-1.9 6.7-1.2 6.7-0.4 6.4 0.1 6.4 0.9 6.7 1.5 6.4 2.3 6.7 2.8 6.4 3.4 6 3.8 5.4 4.3 5 4.7 4.4 5.4 4.1 5.7 3.6 6 3 6.4 2.4 6.7 2 6.7 1.2zM106.8 474.2l-1-0.4-0.6-0.5-1.1-2-0.3-0.3-0.7-0.1-3.3 0.2-2.4-0.4-1.3-0.6-1.2-0.9-3.2-3.2-0.6 0-1.7 0.6-1 0-1.4-0.6-1.3-1.3-0.7-1.2-0.1-0.7 0.1-1 0.6-1.3-0.1-0.7-2.8-2.7-1.4-2-0.5-1.3-0.3-1.4 0-4.7-0.5-0.5-1.4-0.5-0.9-1-0.5-1.3 0-1.7 0.2-1 0.5-1 0.7-0.7 1.7-0.7 0.2-0.3 0.1-0.7-0.2-3.3 0.5-2.4 0.6-1.3 0.8-1.3 3.2-3.1 0.1-0.7-0.7-1.6 0-1.1 0.7-1.3 1.2-1.3 1.2-0.7 0.7-0.1 1 0 1.4 0.6 0.6 0 2.7-2.8 2-1.4 1.4-0.6 1.3-0.2 4.7 0 0.5-0.5 0.5-1.4 1-0.9 1.4-0.5 1.6 0 1.1 0.2 1 0.5 0.6 0.7 0.7 1.6 0.3 0.3 0.7 0.1 3.4-0.2 2.3 0.4 1.4 0.6 1.2 0.9 3.1 3.2 0.7 0 1.7-0.6 1 0 1.3 0.6 1.4 1.3 0.6 1.2 0.2 0.7-0.1 1-0.6 1.3 0.1 0.7 2.7 2.7 1.5 2 0.5 1.3 0.2 1.4 0.1 4.7 0.5 0.5 1.3 0.5 1 1 0.4 1.3 0.1 1.7-0.2 1-0.6 1-0.7 0.7-1.6 0.7-0.2 0.3-0.2 0.7 0.2 3.3-0.4 2.4-0.6 1.3-0.9 1.3-3.1 3.1-0.1 0.7 0.7 1.6-0.1 1.1-0.6 1.3-1.3 1.3-1.2 0.7-0.7 0.1-1 0-1.3-0.6-0.7 0-3 3.1-2 1.3-2.7 0.7-3.7-0.2-0.7 0.1-0.5 0.5-0.5 1.4-1.1 1-1.2 0.4z"/>
<path fill="#40ffb7" d="M103.1 508.5l6.1 0.2 6.4-0.5 6.3-1.1 6.4-1.8 6.7-2.7 6.1-3 5.3-3.4 5.1-3.9 4.4-4.3 3.9-4.7 3.6-5.4 3-5.4 2.6-6 2.1-6.4 1.5-6.3 0.8-6.4 0.1-6.4-0.6-6-1.2-6.1-1.8-6.4-2.6-6.3-3.1-6.1-3.4-5.3-4-5.1-4.3-4.3-4.7-3.9-5.1-3.4-5.7-3.1-6-2.6-6.4-2.1-6.4-1.4-6-0.8-6.4-0.1-6 0.6-6.1 1.2-6.3 1.9-6.4 2.5-6.1 3.1-5.3 3.4-5.1 4-4.3 4.3-3.9 4.7-3.4 5.1-3.1 5.7-2.6 6-2.1 6.4-1.4 6.4-0.7 6-0.1 6.4 0.5 6 1.2 6.1 1.9 6.4 2.4 6 3 6 3.4 5.4 3.9 5 4.3 4.4 4.4 3.7 5 3.5 5.7 3.2 6.1 2.6 6.4 2.2 6 1.4zM106.3 474.2l-1.1-0.7-1.4-2.2-0.7-0.1-3.7 0.2-2.3-0.5-1.3-0.6-1-0.8-3.1-3.2-0.6-0.1-1.4 0.5-1.3 0-1.4-0.5-1.3-1.3-0.7-1-0.2-1.1 0-1 0.5-1.3-0.1-0.7-2.9-2.7-1.4-2-0.5-1.3-0.2-1.4 0.1-4.4-0.4-0.6-1.3-0.6-1-0.9-0.6-1.5 0-1.4 0.2-1.3 0.6-1 0.7-0.7 1.4-0.7 0.3-0.3 0.2-0.7-0.3-3.7 0.5-2.3 0.6-1.4 0.8-1 3.2-3 0.1-0.7-0.5-1.3 0-1.4 0.5-1.3 0.9-1 0.8-0.7 1.4-0.5 1.3 0 1.4 0.5 0.6-0.1 2.7-3 2-1.4 1.4-0.4 1.3-0.3 4.4 0.2 0.6-0.4 0.6-1.3 1-1 1.5-0.6 1.3 0 1.4 0.2 1 0.5 0.6 0.8 0.7 1.4 0.3 0.3 0.7 0.1 3.7-0.2 2.4 0.5 1.3 0.6 1 0.8 3 3.2 0.7 0.1 1.3-0.5 1.4 0 1.3 0.5 1 0.9 0.7 0.8 0.6 1.3-0.1 1.4-0.5 1.3 0.1 0.7 3 2.7 1.4 2 0.5 1.3 0.2 1.4-0.2 4.4 0.5 0.6 1.2 0.6 1 0.9 0.6 1.5 0.1 1.4-0.3 1.3-0.5 1-0.7 0.7-1.4 0.7-0.3 0.3-0.2 0.7 0.2 3.7-0.4 2.3-0.7 1.4-0.7 1-3.3 3-0.1 0.7 0.5 1.3 0.1 1.4-0.6 1.3-1.2 1.3-1.1 0.7-1.1 0.3-1-0.1-1.3-0.5-0.7 0.1-2.7 3-1.2 0.9-1.1 0.6-2.7 0.6-4-0.2-0.7 0.4-1 1.9-1 0.7-1 0.3-1 0z"/>
<path fill="#53ffa4" d="M103.1 505.8l5.7 0.2 6.1-0.4 6-1.1 6.1-1.7 6.3-2.4 6.1-3 5.4-3.3 5-3.9 4.3-4.2 3.6-4.4 3.4-5 2.9-5.4 2.7-6.4 2-6 1.3-6.1 0.7-5.7 0.1-5.7-0.5-5.7-1.2-6-1.8-6.1-2.5-6.3-2.9-5.7-3.4-5.4-3.8-4.7-3.9-4-4.7-3.8-5-3.4-5.4-2.8-6-2.6-6.1-2-6-1.3-5.7-0.7-5.7-0.1-5.7 0.5-6.1 1.2-6 1.8-6.4 2.5-5.7 3-5.4 3.4-4.7 3.7-4 4-3.8 4.6-3.3 5.1-2.9 5.3-2.6 6.1-1.9 6-1.4 6.1-0.7 5.7-0.1 5.7 0.5 5.7 1.2 6 1.8 6.1 2.4 6 2.9 5.7 3.4 5.4 3.6 4.7 3.9 4 4.4 3.6 4.7 3.3 5.3 2.9 6.1 2.7 6 2.1 5.7 1.4zM106.9 474.6l-1.1-0.5-0.6-0.5-1.1-1.6-0.6-0.6-3.7 0.3-2.7-0.4-1.3-0.6-1.4-1-2.7-3.1-0.6-0.2-1.6 0.4-1.1 0.1-1.4-0.6-1-0.8-0.8-1-0.5-1.3 0-1.1 0.4-1.3 0-0.7-0.4-0.6-2.6-2.1-1.5-2-0.5-1.3-0.3-1.7 0.3-4.4-0.5-0.5-1.3-0.8-0.7-0.7-0.6-1.3-0.2-1.3 0.2-1.4 0.6-1.3 0.7-0.7 1.3-0.8 0.5-0.5-0.3-4.4 0.3-1.7 0.5-1.3 1.5-2 2.6-2.1 0.4-0.6 0-0.7-0.4-1.3 0-1.1 0.5-1.3 0.8-1 1-0.8 1.4-0.6 1.1 0.1 1.6 0.4 0.6-0.2 2.7-3.1 1.4-1 1.3-0.6 2.7-0.4 3.7 0.3 0.6-0.5 0.7-1.3 0.7-0.7 1.3-0.7 1.4-0.1 1.3 0.1 1.4 0.7 0.6 0.7 0.8 1.3 0.6 0.5 3.7-0.3 2.7 0.4 1.3 0.6 1.3 1 2.7 3.1 0.7 0.2 1.6-0.4 1.1-0.1 1.3 0.6 1.1 0.8 0.8 1 0.5 1.3 0 1.1-0.4 1.3 0 0.7 0.4 0.6 2.5 2.1 1.5 2 0.6 1.3 0.2 1.7-0.2 4.4 0.4 0.5 1.3 0.8 0.8 0.7 0.6 1.3 0.1 1.4-0.1 1.3-0.6 1.3-0.8 0.7-1.3 0.8-0.4 0.5 0.2 3.7-0.3 2.7-0.7 1.4-1 1.3-3.1 2.7-0.2 0.7 0.5 1.5 0 1.2-0.5 1.3-0.9 1-1 0.8-1.3 0.6-1.1-0.1-1.6-0.4-0.7 0.2-2.7 3.1-1 0.8-1.3 0.7-2.7 0.5-4-0.3-0.7 0.6-0.9 1.6-0.8 0.5-1.7 0.6z"/>
<path fill="#66ff90" d="M106.5 503.8l5.4-0.1 5.7-0.8 5.7-1.3 6-2 6.1-2.7 5.3-2.9 5-3.3 4.3-3.7 3.8-4 3.3-4.4 3.1-5 2.8-5.7 2.4-6.1 1.6-5.7 1.1-5.7 0.5-5.7-0.1-5.4-0.8-5.7-1.4-5.7-2-6-2.7-6.1-3-5.3-3.2-4.7-3.7-4.4-3.9-3.7-4.7-3.5-5.1-3.1-5.3-2.6-6.1-2.3-5.7-1.7-5.7-1.1-5.7-0.5-5.4 0.2-5.7 0.7-5.7 1.4-6 2.1-6 2.6-5.4 3-4.7 3.2-4.4 3.7-3.7 4-3.5 4.6-3 5.1-2.7 5.3-2.3 6.1-1.7 5.7-1.1 5.7-0.5 5.7 0.2 5.4 0.8 5.7 1.3 5.7 2.1 6 2.7 6.1 2.9 5.3 3.2 4.7 3.6 4.3 4.1 3.8 4.3 3.3 5.1 3.1 5.7 2.8 6 2.3 5.7 1.7 5.7 1.1zM106.4 474.6l-1.2-0.8-1.1-1.6-0.6-0.5-4.1 0.3-2.6-0.4-1.4-0.7-1-0.8-3-3.4-0.7-0.1-1.7 0.4-1-0.1-1-0.4-1.2-1-0.8-1-0.4-1.3 0.2-3.1-0.5-0.6-2.6-2.1-0.9-1-0.7-1.3-0.5-1.3-0.1-1.4 0.3-4.4-0.2-0.3-1.3-0.8-0.8-0.9-0.7-1.3-0.1-1.3 0.1-1.4 0.7-1.3 0.8-0.9 1.3-0.8 0.2-0.3-0.3-4.4 0.1-1.4 0.5-1.3 0.7-1.3 0.9-1 2.6-2.1 0.5-0.6-0.2-3.1 0.4-1.3 0.8-1 1.2-1 1-0.4 1-0.1 1.7 0.4 0.7-0.1 0.6-0.5 2.1-2.6 1-0.9 1.3-0.8 1.4-0.4 1.3-0.1 4.4 0.3 0.3-0.2 0.9-1.3 0.8-0.9 1.3-0.6 1.4-0.2 1.3 0.2 1.4 0.6 0.8 0.9 0.8 1.3 0.4 0.2 4.3-0.3 1.4 0.1 1.3 0.4 1.4 0.8 1 0.9 2.1 2.6 0.6 0.5 3-0.3 1.3 0.5 1 0.8 1 1.2 0.4 1 0.1 1-0.3 1.7 0 0.7 0.5 0.6 2.6 2.1 0.9 1 0.8 1.3 0.4 1.3 0.2 1.4-0.4 4.4 0.2 0.3 1.3 0.8 0.9 0.9 0.6 1.3 0.2 1.4-0.2 1.3-0.6 1.3-0.9 0.9-1.3 0.8-0.2 0.3 0.4 4.4-0.2 1.4-0.4 1.3-0.8 1.3-0.9 1-2.6 2.1-0.5 0.6 0 0.7 0.3 1.7-0.1 1-0.4 1-1 1.2-1 0.8-1.3 0.5-3-0.3-3.1 3.4-1 0.8-1.3 0.7-2.7 0.4-4-0.3-0.6 0.5-1.1 1.6-1 0.6-1.7 0.4z"/>
<path fill="#7aff7d" d="M105.8 501.8l5.4-0.1 5.4-0.6 5.3-1.3 6.1-1.9 6-2.6 5.4-2.8 4.7-3.2 4.3-3.6 3.7-3.8 3.3-4.3 2.8-4.7 2.7-5.4 2.4-6 1.7-5.7 1.1-5.4 0.5-5.4-0.1-5.3-0.7-5.4-1.4-5.7-2-5.7-2.4-5.7-2.9-5.4-3.2-4.7-3.4-4.1-3.8-3.6-4.3-3.2-4.7-2.9-5.4-2.7-6-2.4-5.7-1.7-5.4-1.1-5.3-0.5-5.4 0.1-5.4 0.7-5.7 1.4-5.7 2-5.7 2.5-5.4 2.8-4.7 3.2-4.1 3.5-3.6 3.7-3.2 4.3-2.9 4.7-2.6 5.4-2.4 6-1.8 5.7-1.1 5.4-0.5 5.4 0.1 5.3 0.8 5.4 1.3 5.4 1.9 5.7 2.6 6 2.9 5.4 3.1 4.7 3.4 4 3.8 3.6 4 3.1 4.7 2.9 5.4 2.7 5.7 2.3 5.7 1.8 5.4 1.2zM107.2 474.9l-1-0.3-1-0.7-1.7-2-4.4 0.5-1.3-0.2-1.4-0.3-1.2-0.7-1.1-0.9-2.7-3.4-0.7-0.1-1.7 0.3-1-0.1-1.2-0.5-1.1-0.9-0.8-1.1-0.4-1-0.1-1 0.3-1.7-0.1-0.7-3.3-2.7-1-1.1-0.7-1.2-0.3-1.3-0.1-1.4 0.4-4.4-2.3-2-0.6-1.3-0.2-1.3 0.2-1.4 0.6-1.3 2.3-2-0.4-4.4 0.1-1.4 0.3-1.3 0.7-1.2 1-1.1 3.3-2.7 0.1-0.7-0.3-1.7 0.1-1 0.4-1 0.8-1.1 1.1-0.9 1.2-0.5 1-0.1 1.7 0.3 0.7-0.1 2.7-3.4 1.1-0.9 1.2-0.7 1.4-0.3 1.3-0.2 4.4 0.5 2-2.3 1.3-0.6 1.4-0.2 1.3 0.2 1.4 0.6 2 2.3 4.3-0.5 1.4 0.2 1.3 0.3 1.3 0.7 1.1 0.9 2.7 3.4 0.6 0.1 1.7-0.3 1 0.1 1.2 0.5 1.2 0.9 0.8 1.1 0.3 1 0.1 1-0.2 1.7 0.1 0.7 3.3 2.7 0.9 1.1 0.7 1.2 0.4 1.3 0.1 1.4-0.4 4.4 2.2 2 0.6 1.3 0.2 1.4-0.2 1.3-0.6 1.3-2.2 2 0.4 4.4-0.1 1.4-0.4 1.3-0.7 1.2-0.9 1.1-3.3 2.7-0.1 0.7 0.2 1.7-0.1 1-0.5 1.2-0.9 1.1-1.1 0.8-1 0.4-1 0.1-1.7-0.3-0.6 0.1-2.7 3.4-1.1 0.9-1.3 0.7-1.3 0.3-1.4 0.2-4.3-0.5-1.7 2-0.7 0.5-1.7 0.5z"/>
<path fill="#8aff6d" d="M103.1 499.7l5.1 0.3 5-0.3 5-0.8 5.7-1.6 6.4-2.4 6.4-3.1 5-3 4.4-3.4 3.6-3.5 3-3.6 2.8-4.4 2.7-5 2.6-6.1 2-6 1.3-5.4 0.7-5 0-5.1-0.5-5-1.2-5.4-1.7-5.3-2.4-6.1-2.9-5.7-2.9-4.7-3.4-4.2-3.4-3.4-3.7-2.9-4.3-2.8-5.1-2.6-6-2.6-5.7-1.9-5.4-1.3-5-0.6-5-0.1-5.1 0.5-5.3 1.2-5.4 1.7-6.1 2.5-5.7 2.8-4.7 3-4.2 3.3-3.3 3.4-3 3.7-2.8 4.3-2.6 5.1-2.5 6-2 5.7-1.3 5.4-0.6 5-0.1 4.7 0.5 5.1 1.1 5 1.6 5.4 2.5 6.3 2.9 5.7 2.9 4.7 3.1 4.1 3.2 3.3 3.6 3 4.1 2.7 4.3 2.4 5.7 2.6 6.1 2.2 5 1.4zM106.7 474.9l-1.5-0.8-1.7-1.9-0.7-0.1-1.7 0.4-2.3 0.2-1.4-0.1-1.3-0.4-2-1.5-1.4-1.5-1.4-2-0.6-0.2-1.7 0.2-1-0.1-1-0.3-1.3-1-0.9-1.3-0.4-1-0.1-1 0.2-1.7-0.2-0.6-2-1.4-1.5-1.4-0.9-1-0.6-1.1-0.3-1.2-0.1-1.7 0.1-2 0.4-2-0.4-0.7-1.4-1.1-0.6-0.9-0.5-1.3-0.1-1.4 0.3-1.3 0.5-1 2.1-2 0.1-0.7-0.4-1.7-0.1-2.3 0.1-1.4 0.4-1.3 1.4-2 1.5-1.4 2-1.4 0.2-0.6-0.2-1.7 0.1-1 0.4-1 0.9-1.3 1.3-1 1-0.3 1-0.1 1.7 0.2 0.6-0.2 1.4-2 1.4-1.5 1-0.9 1.1-0.6 1.2-0.4 1.7-0.1 2 0.2 2 0.4 0.7-0.4 1.2-1.4 0.8-0.6 1.4-0.5 1.3-0.1 1.4 0.3 1 0.5 2 2.1 0.6 0.1 1.7-0.4 2.4-0.2 1.3 0.1 1.4 0.4 2 1.5 1.3 1.5 1.5 2 0.5 0.2 1.7-0.2 1 0.1 1 0.3 1.4 1 0.9 1.3 0.3 1 0.1 1-0.1 1.7 0.1 0.6 2 1.4 1.5 1.4 0.9 1 0.6 1.1 0.4 1.2 0.1 1.7-0.2 2-0.4 2 0.4 0.7 1.4 1.1 0.7 0.9 0.4 1.3 0.1 1.4-0.2 1.3-0.6 1-2.1 2 0 0.7 0.3 1.7 0.2 2.3-0.1 1.4-0.4 1.3-1.5 2-1.5 1.4-2 1.4-0.1 0.6 0.1 2-0.1 1-0.6 1.1-1 1.2-1 0.7-1 0.3-1 0.1-1.7-0.2-0.5 0.2-1.5 2-1.3 1.5-1 0.9-1.4 0.7-1.3 0.3-1.4 0.1-2-0.2-2-0.4-0.7 0.4-1.3 1.6-1 0.6-1.7 0.4z"/>
<path fill="#9dff5a" d="M103.1 498.1l4.7 0.3 4.7-0.3 5.1-0.8 5-1.4 7.1-2.7 6.3-3 5.1-3 4-3.1 3.3-3.2 2.9-3.7 2.6-4 2.5-4.7 2.7-6.4 2.1-6 1.3-5 0.6-5.1 0.1-4.7-0.6-4.7-1-4.7-1.7-5.3-2.8-6.7-2.8-5.7-2.7-4.4-3.2-4-3.1-3.1-3.6-2.8-4-2.5-5-2.5-6.4-2.7-5.7-2-5-1.2-4.7-0.6-4.7 0-4.7 0.5-4.7 1-5.4 1.8-6.7 2.7-5.7 2.8-4.4 2.7-4 3.3-3 3-2.8 3.6-2.6 4-2.5 5-2.7 6.4-2 5.7-1.2 5.1-0.6 4.7 0 4.3 0.5 4.7 1 4.7 1.6 5.1 2.6 6.7 2.8 5.7 2.6 4.3 3.1 4.1 2.9 3 3.3 2.7 3.7 2.5 4.4 2.4 5.7 2.6 6 2.2 5 1.5zM106.3 474.9l-1.1-0.7-1.4-1.4-0.7-0.4-2 0.4-2.3 0.2-1.4-0.1-1.4-0.4-1.9-1.3-1.7-2-1.3-1.9-3.4-0.2-1.3-0.6-1-0.9-0.7-1-0.4-0.9-0.1-3.2-1.9-1.4-2-1.7-0.8-1-0.6-1-0.3-1.3-0.1-1.4 0.2-2.3 0.4-2-0.3-0.7-1.2-1-0.7-1-0.5-1.3-0.1-1.4 0.3-1.3 0.4-0.8 1.8-1.9 0.3-0.7-0.4-2-0.2-2.3 0.1-1.4 0.3-1.3 0.6-1 0.8-1 2-1.7 1.9-1.4 0.2-3.3 0.4-1 0.9-1.1 1-0.8 1.1-0.5 3.3-0.1 1.3-1.9 1.7-2 1-0.8 1-0.6 1.3-0.3 1.4-0.1 2.3 0.2 2 0.4 0.7-0.4 1-1.1 1-0.8 1.4-0.4 1.3-0.1 1.4 0.2 0.8 0.4 1.8 1.8 0.7 0.4 2-0.4 2.4-0.2 1.3 0.1 1.4 0.3 1 0.6 1 0.8 1.6 2 1.4 1.9 3.3 0.2 1.1 0.4 1.1 0.9 0.7 1 0.5 1.1 0.2 3.2 1.9 1.4 1.9 1.7 0.9 1 0.5 1 0.4 1.3 0 1.4-0.2 2.3-0.4 2 0.4 0.7 1.1 1 0.8 1 0.5 1.3 0.1 1.4-0.3 1.3-0.4 0.8-1.8 1.9-0.4 0.7 0.4 2 0.2 2.3 0 1.4-0.4 1.3-0.5 1-0.9 1-1.9 1.7-1.9 1.4-0.2 3.3-0.7 1.4-0.9 1-1 0.6-0.9 0.4-3.2 0.1-1.4 1.9-1.6 2-1 0.8-1.4 0.7-2.3 0.3-2.4-0.2-2-0.4-0.7 0.4-1.3 1.4-1.3 0.8-2.1 0.2z"/>
<path fill="#b1ff46" d="M105.2 496.7l4.3 0.1 4.4-0.4 4.3-1 5.1-1.6 7.4-3 5.7-2.7 4.7-2.8 3.7-3 3-3 2.6-3.4 2.4-4 2.3-4.7 2.9-7.1 2-5.7 1.2-5 0.4-4.7-0.1-4.4-0.6-4.3-1.2-4.7-1.9-5.2-3-7.3-2.6-5-2.6-4-3-3.7-3.2-2.9-3.3-2.5-4.1-2.3-5-2.4-6.7-2.7-5.4-1.9-4.7-1-4.7-0.5-4.3 0.1-4.4 0.6-4.7 1.2-5.1 1.9-7.3 3.1-5.1 2.5-4 2.6-3.7 3.1-2.9 3.1-2.5 3.4-2.3 4-2.4 5-2.7 6.7-1.8 5.4-1.1 4.7-0.5 4.7 0.1 4 0.6 4.4 1.2 4.7 1.7 5 3 7.1 2.4 5 2.8 4.4 3 3.7 2.8 2.7 3.3 2.5 3.7 2.3 4 2 7.1 3 5.7 2.1 4.7 1.2zM107.1 475.2l-1.6-0.6-1.7-1.6-0.7-0.4-2 0.5-2.7 0.2-1.3 0-1.3-0.4-1-0.6-1.1-1-1.6-2.1-1-1.5-0.7-0.3-1.7 0-1.2-0.2-1.3-0.7-0.8-0.7-0.7-1-0.4-1-0.3-3.1-4.2-3.3-0.8-1-0.5-1-0.3-1 0-1.3 0.3-2.7 0.4-2-0.1-0.4-1.5-1.5-0.7-1.1-0.3-1-0.1-1.4 0.6-2 2-2.3 0.1-0.4-0.4-2-0.3-2.7 0-1.3 0.4-1.4 0.7-1 0.9-1 2.1-1.7 1.6-1 0.2-0.6 0-1.7 0.2-1.3 0.7-1.3 0.7-0.7 1-0.7 1-0.4 3.1-0.3 3.3-4.2 1-0.8 1-0.5 1-0.3 1.3 0 2.7 0.2 2 0.5 0.4-0.1 1.5-1.5 1.1-0.7 1.1-0.3 1.3-0.1 2 0.5 2.4 2.1 0.3 0.1 2-0.5 2.7-0.2 1.4 0 1.3 0.4 1 0.6 1 1 1.7 2.1 1 1.5 0.7 0.3 1.6 0 1.3 0.2 1.3 0.7 0.7 0.7 0.8 1 0.4 1 0.2 3.1 4.2 3.3 0.8 1 0.5 1 0.3 1 0.1 1.3-0.3 2.7-0.4 2 0.1 0.4 1.5 1.5 0.6 1.1 0.4 1 0.1 1.4-0.6 2-2 2.3-0.1 0.4 0.4 2 0.3 2.7-0.1 1.3-0.4 1.4-0.6 1-1 1-2 1.7-1.6 1-0.3 0.6 0 1.7-0.2 1.3-0.7 1.3-0.6 0.7-1 0.7-1.1 0.4-3.1 0.3-3.2 4.2-1 0.8-1 0.5-1 0.3-1.4 0-2.7-0.2-2-0.5-3 2.3-1.4 0.4z"/>
<path fill="#c4ff33" d="M107.2 495.4l3.7-0.1 4-0.6 4-1.1 4.7-1.7 8.7-3.6 4.7-2.3 4.1-2.5 3.7-3.1 2.5-2.8 2.4-3.4 2-3.7 2.3-5 3.3-8.1 1.5-4.7 1.1-4.7 0.3-4.3-0.2-4-0.7-4.1-1.2-4-1.9-5.1-3.4-8-2.2-4.3-2.5-4.1-3-3.4-2.9-2.6-3.1-2.2-3.7-2.1-5.1-2.2-8-3.3-4.7-1.6-4.7-1-4.4-0.4-4 0.2-4 0.7-4.1 1.2-5.1 2-8 3.3-4.3 2.2-4.1 2.6-3.4 2.9-2.6 2.9-2.2 3.2-2.1 3.7-2.2 5-3.3 8.1-1.6 4.7-1 4.7-0.4 4.3 0.2 3.7 0.7 4 1.1 4.1 1.9 5 3.4 8.1 2.3 4.6 2.6 4.1 2.9 3.3 2.7 2.6 3.1 2.1 3.3 1.9 4.4 2.1 8.7 3.6 4.7 1.6 4.7 1.1zM106.7 475.2l-1.2-0.5-1.7-1.5-0.7-0.3-5 0.8-1.3-0.1-1-0.3-1-0.5-1.1-1-3-4.1-3.3-0.5-1-0.4-1-0.9-1.1-1.7-0.5-3.4-4.1-3-0.9-1-0.6-1-0.3-1-0.1-1.4 0.8-5-2.1-3-0.4-1.4 0-1 0.5-2 1.9-2.3 0.1-0.4-0.8-5 0.1-1.4 0.3-1 0.6-1 0.9-1 4.1-3 0.5-3.4 0.5-1 0.8-1 1.8-1 3.3-0.5 3-4.1 1.1-1 1-0.5 1-0.3 1.3-0.1 5 0.8 3.1-2.1 1.3-0.4 1 0 2 0.5 2.4 1.9 0.3 0.1 5-0.8 1.4 0.1 1 0.3 1 0.5 1 1 3 4.1 3.4 0.5 1 0.4 1 0.9 1.1 1.7 0.5 3.4 4.1 3 0.9 1 0.6 1 0.3 1 0 1.4-0.8 5 2.2 3 0.3 1.4 0.1 1-0.6 2-1.9 2.3-0.1 0.4 0.8 5 0 1.4-0.3 1-0.6 1-0.9 1-4.1 3-0.5 3.4-0.5 1-0.8 1-1.8 1-3.4 0.5-3 4.1-1 1-1 0.5-1 0.3-1.4 0.1-5-0.8-0.7 0.3-1.5 1.4-1.1 0.6-1.7 0.3z"/>
<path fill="#d4ff23" d="M107.8 494l3.1-0.1 3.3-0.5 3.4-0.9 3.7-1.4 12-5 3.4-1.6 4-2.5 3.2-2.7 2.2-2.4 1.9-2.7 1.7-3 1.5-3.3 5-12 1.2-3.5 1.1-4.7 0.4-4.3-0.4-4.4-1.1-4.7-1.2-3.5-5-12-1.5-3.3-1.7-3-1.9-2.7-2.2-2.4-3.2-2.7-4-2.5-3.4-1.6-11.8-4.9-3.6-1.4-3.3-0.9-3.4-0.6-3-0.1-3 0.1-3.4 0.6-3.4 0.9-3.6 1.4-11.8 4.9-3.4 1.6-4 2.5-3.2 2.7-2.1 2.4-1.9 2.7-1.7 3-1.6 3.3-4.9 12-1.3 3.5-1.1 4.7-0.3 4.4 0.2 3 0.5 3.3 1 3.4 1.3 3.6 4.9 11.8 1.6 3.4 2.5 4 2.8 3.2 2.3 2.1 2.7 2 3 1.7 3.4 1.5 12 4.9 3.4 1.3 4.4 1zM106.4 475.2l-3.3-2-5.3 0.9-1.4-0.1-1-0.3-1.7-1.3-3.3-4.5-3-0.6-1.1-0.5-0.9-0.7-0.7-0.9-0.5-1-0.5-3.1-4.6-3.3-0.9-1-0.5-1-0.2-1 0-1.4 0.9-5-2-3-0.4-1.4 0-1 0.5-2 1.6-2 0.3-0.7-1-5.4 0.1-1.3 0.3-1 1.3-1.7 4.6-3.3 0.5-3.1 0.5-1 0.7-1 0.9-0.6 1.1-0.5 3-0.6 3.3-4.5 1.1-0.9 1-0.5 1-0.3 1.3 0 5 0.9 3.1-1.9 1.3-0.4 1-0.1 2 0.6 2 1.5 0.7 0.3 5.4-0.9 1.3 0.1 1 0.3 1.7 1.3 3.3 4.5 3.1 0.6 1.1 0.5 0.9 0.7 0.7 0.9 0.5 1 0.5 3.1 4.5 3.3 0.9 1 0.5 1 0.3 1 0 1.4-0.9 5 2 3 0.3 1.4 0.1 1-0.6 2-1.5 2-0.3 0.7 0.9 5.4-0.1 1.3-0.3 1-1.3 1.7-4.5 3.3-0.5 3.1-0.5 1-0.8 1-0.8 0.6-1.1 0.5-3.1 0.6-3.3 4.5-1 0.9-1 0.5-1 0.3-1.4 0-5-0.9-0.7 0.3-1.8 1.4-1.2 0.5-1.7 0.2z"/>
<path fill="#e7ff0f" d="M106.5 492.7l2.7 0 3-0.3 2.7-0.6 3-1 8.4-3.7 6.7-2.5 3-1.3 3.7-2.2 3-2.5 2-2 1.5-2 1.4-2.4 1.3-2.7 2.9-7.8 3.2-6.9 1.2-3.1 1-4 0.4-3.7-0.1-2.7-0.4-2.6-0.6-2.7-1-2.8-3.4-7.6-2.8-7.4-1.2-2.7-2.2-3.7-2.5-3.1-2-1.8-2-1.5-2.4-1.5-2.6-1.2-7.8-3-7-3.2-3-1.1-4.1-1.1-3.7-0.3-2.6 0-2.7 0.4-2.7 0.6-2.8 1-7.6 3.5-7.4 2.7-2.7 1.2-3.7 2.2-3 2.5-1.9 2-1.5 2-1.4 2.4-1.3 2.7-3 7.8-3.1 6.9-1.2 3.1-1 4-0.4 3.7 0.1 2.7 0.3 2.6 0.7 2.7 1 2.8 3.4 7.6 2.8 7.4 1.1 2.7 2.2 3.7 2.5 3 2 1.9 2.1 1.5 2.3 1.5 2.4 1.1 8.4 3.2 9.3 4.1 3.7 1zM107.2 475.6l-1.7-0.7-1.7-1.2-0.7-0.3-5.7 1.1-1.3-0.1-1.3-0.5-1.4-1.3-3-4.5-3-0.7-1.3-0.6-0.8-0.6-0.6-0.8-0.6-1.2-0.7-3.1-4.5-3-1.2-1.3-0.6-1.4-0.1-1.3 1.1-5.7-0.2-0.7-1.6-2.3-0.3-1-0.1-1 0.1-1.1 0.3-1 1.6-2.3 0.2-0.7-1.1-5.4 0.1-1.6 0.6-1.4 0.8-1 4.9-3.3 0.7-3.1 0.6-1.2 0.6-0.8 0.8-0.6 1.3-0.6 3-0.7 3.2-4.8 0.8-0.7 1-0.6 1-0.3 1.4 0 5.3 1.1 0.7-0.3 2.3-1.5 1.1-0.4 1 0 1 0 1 0.4 2.3 1.5 0.7 0.3 5.4-1.1 1.7 0.1 1.3 0.5 1 0.9 3.4 4.9 3 0.7 1.2 0.6 0.8 0.6 0.7 0.8 0.6 1.2 0.6 3.1 4.8 3.2 0.8 0.8 0.5 1 0.3 1 0 1.3-1.1 5.4 0.3 0.7 1.6 2.3 0.3 1 0.1 1.1-0.1 1-0.3 1-1.6 2.3-0.3 0.7 1.1 5.4-0.1 1.6-0.5 1.4-0.9 1-4.9 3.3-0.6 3.1-0.6 1.2-0.7 0.8-0.8 0.6-1.2 0.6-3 0.7-3.1 4.5-1.3 1.3-1.3 0.5-1.4 0.1-5.7-1.1-0.7 0.3-2.3 1.5-1.4 0.4z"/>
<path fill="#fbf100" d="M104.8 491.4l2.7 0.2 3-0.1 2.4-0.4 3.3-1 2.4-1 7-3.5 6.7-2.2 3.4-1.3 3-1.7 2.7-2.1 1.8-1.7 1.3-1.7 1.3-2 1.4-2.7 3.2-9.4 3.6-7 1-2.4 0.9-3.4 0.5-3.6-0.1-3.1-0.3-2.3-0.7-2.7-0.7-2-4.2-8.4-2.5-7.7-1.3-3-2.1-3.4-2-2.3-1.8-1.7-2-1.5-3.7-2-9.4-3.2-7-3.5-2.4-1-3.3-1-3.7-0.5-3 0.1-2.4 0.3-2.7 0.7-2 0.8-8.4 4.1-7.7 2.6-3 1.3-3.4 2-2.3 2-1.7 1.8-1.5 2-1.9 3.7-3.3 9.4-3.5 7-1 2.4-1 3.4-0.5 3.6 0.2 4.1 0.6 3 0.7 2 1 2.4 3.5 7 2.2 6.7 1.4 3.4 1.6 3 2.4 3 3.1 2.8 4.1 2.4 3.3 1.3 6.7 2.2 7.1 3.5 2.3 1 2 0.7zM106.8 475.6l-1.5-0.7-1.8-1.2-3 0.4-3.4 0.9-1.3-0.2-1.4-0.6-1-1-1.5-2.7-1.5-2.1-0.7-0.4-2.4-0.5-1.7-1-1.3-1.7-1-3.4-2.3-1.8-2.7-1.5-1-1-0.6-1.3-0.1-1.4 0.9-3.3 0.4-3.1-1.6-2.4-0.3-0.9-0.2-1.3 0.2-1.4 0.3-0.9 1.4-2.1 0.2-0.7-0.4-2.7-0.9-2.7 0-1.8 0.4-1 1-1.3 3-1.7 2.3-1.8 0.7-2.8 0.6-1.3 0.6-0.7 0.8-0.7 1.3-0.6 2.9-0.7 1.7-2.3 1.5-2.7 0.7-0.8 1-0.6 1-0.3 1.3 0 3.1 0.8 2.6 0.5 0.7-0.3 2.4-1.4 1-0.3 1.3-0.1 1.9 0.5 2.1 1.3 0.7 0.3 2.7-0.5 2.8-0.8 1.7 0 1 0.3 1.3 1 1.7 3.1 1.8 2.3 2.8 0.7 1.3 0.6 0.7 0.6 0.7 0.8 0.6 1.3 0.7 2.8 2.4 1.8 2.7 1.5 0.7 0.7 0.6 1 0.3 1 0.1 1.3-0.9 3-0.4 2.7 0.2 0.7 1.4 2.3 0.4 1 0 1.4-0.4 1.9-1.4 2.1-0.2 0.7 0.4 2.7 0.8 2.7 0 1.8-0.3 1-1 1.3-3 1.7-2.4 1.8-0.7 2.8-0.6 1.3-0.6 0.7-0.8 0.7-1.3 0.6-2.8 0.7-1.8 2.3-1.4 2.7-1.1 1-1.3 0.6-1.3 0.2-3.4-0.9-2.7-0.5-0.3 0.1-1.9 1.2-1.5 0.7-1.3 0.1z"/>
<path fill="#ffde00" d="M105.8 490.7l2.4 0.1 2.7-0.2 2.3-0.4 2.4-0.7 2.6-1.2 7.1-3.9 7.4-2.1 3-1.2 3-1.7 2.7-2.1 2.8-3.4 2-3.7 1-2.7 2-7 3.9-7.1 1.3-3 0.8-3 0.4-3.4-0.3-4.3-1.2-4.1-1.2-2.7-3.7-6.7-2.1-7.4-1.2-3-1.7-3-2.1-2.7-3.4-2.8-3.7-2-2.7-1-7-2-7.1-3.9-3-1.3-3-0.8-3.4-0.4-4.3 0.3-4 1.2-2.7 1.2-6.7 3.7-7.4 2.1-3 1.2-3.1 1.7-2.7 2.2-2.8 3.3-2 3.7-0.9 2.7-2.1 7-3.8 7.1-1.4 3-0.8 3-0.4 3.4 0.3 4.3 1.2 4.1 1.2 2.7 3.7 6.7 2.2 7.4 1.1 3 1.7 3 2.2 2.7 3 2.6 3.7 2.1 3 1.1 7.1 2 7 3.9 2.7 1.2 2.3 0.7zM106.6 475.6l-2.8-1.6-0.7-0.2-2.6 0.5-3.4 1-1.3 0-1.4-0.6-1.3-1.4-1.2-2.4-1.6-2.4-0.6-0.4-2.6-0.6-1.7-1-0.7-0.8-0.7-1.2-0.8-3-2.5-1.9-2.5-1.1-1.4-1.4-0.5-1.3-0.1-1.4 1.1-3.3 0.4-2.7-0.2-0.7-1.5-2.8-0.3-1.9 0.6-2 1.2-2 0.2-0.7-0.4-2.7-1-3 0-1.7 0.5-1.3 0.9-1 3-1.5 2.5-1.9 0.8-3 0.7-1.2 0.7-0.8 1.7-1 2.6-0.6 0.6-0.4 1.6-2.4 1.5-2.9 0.7-0.7 1-0.6 1-0.2 1.3 0 3.1 1 2.6 0.5 0.7-0.2 2.8-1.6 1.9-0.2 2 0.5 2 1.3 0.7 0.2 2.7-0.5 3-1 1.7 0 1.3 0.6 1 0.9 1.5 2.9 1.9 2.6 3 0.8 1.2 0.7 0.8 0.7 1 1.7 0.7 2.6 0.3 0.5 2.4 1.7 2.9 1.5 0.7 0.7 0.6 1 0.2 1 0 1.3-1 3-0.5 2.7 0.2 0.7 1.6 2.8 0.2 1.9-0.5 2-1.3 2-0.2 0.7 0.5 2.7 1 3 0 1.7-0.6 1.3-0.9 1-2.9 1.5-2.5 1.9-0.9 3-0.6 1.2-0.8 0.8-1.7 1-2.6 0.6-0.5 0.4-1.7 2.4-1.1 2.4-1.4 1.4-1.3 0.6-1.3 0-3.4-1-2.7-0.5-0.7 0.2-1.9 1.2-1.1 0.4-1.3 0.2z"/>
<path fill="#ffc800" d="M106.5 490l2 0.1 2.4-0.2 2-0.4 2.3-0.8 2.9-1.4 4.5-2.8 2-1.1 2-0.7 6.1-1.3 3.3-1.3 2.7-1.6 2.3-1.9 2.6-3 1.7-3.4 1-2.7 1.2-5.4 0.7-2.3 1.1-2 3-4.7 1.5-3.4 0.8-3 0.3-3-0.4-4-1.1-3.7-1.3-2.6-2.8-4.5-1.1-2-0.7-2-1.3-6.1-1.3-3.3-1.6-2.7-1.9-2.3-3-2.5-3.4-1.8-2.7-1-5.3-1.1-2.4-0.8-2-1.1-4.7-2.9-3.3-1.6-3.1-0.8-3-0.3-4 0.4-3.7 1.1-2.6 1.3-4.5 2.8-2 1.1-2 0.7-6 1.3-3.4 1.3-2.7 1.6-2.3 1.9-2.5 3-1.8 3.4-0.9 2.7-1.2 5.4-0.8 2.3-1 2-3 4.7-1.5 3.4-0.9 3-0.3 3 0.4 4 1.1 3.7 1.3 2.6 2.9 4.5 1 2 0.7 2 1.4 6.1 1.3 3.3 1.5 2.7 1.9 2.3 2.7 2.3 3.4 1.9 3 1.1 5.4 1.1 2 0.7 2 1 4.2 2.7 2.6 1.3 3.3 1.2zM95.1 475.6l-1-0.6-1-1.1-1.4-3-1.7-2.4-0.5-0.3-2.6-0.7-1.2-0.7-0.7-0.6-1-1.7-0.7-2.4-0.3-0.6-2.3-1.7-3.1-1.3-0.8-0.7-0.7-1-0.3-1 0-1.4 1.3-3.3 0.4-2.7-0.1-0.7-1.5-2.7-0.2-2 0.3-1.4 1.4-2.6 0.1-0.7-0.4-2.7-1.3-3.3 0-1.4 0.3-1 0.7-1 0.8-0.7 3.1-1.3 2.3-1.7 0.3-0.6 0.7-2.5 0.7-1.2 0.7-0.7 1.6-1.1 2.5-0.6 0.5-0.3 1.7-2.4 1.4-3 0.6-0.8 1.1-0.7 1-0.3 1.3 0 3.4 1.3 2.6 0.4 0.7-0.1 2.6-1.5 1.4-0.3 2.1 0.3 2.6 1.5 0.7 0.1 2.7-0.4 3.4-1.3 1.3 0 1 0.3 1 0.7 0.7 0.8 1.4 3 1.6 2.4 0.6 0.3 2.4 0.6 1.7 1.1 0.7 0.7 0.6 1.2 0.7 2.5 0.3 0.6 2.4 1.7 3.1 1.3 0.8 0.7 0.7 1 0.3 1-0.1 1.4-1.2 3.3-0.5 2.7 0.1 0.7 1.5 2.6 0.3 1.4-0.3 2-1.5 2.7-0.1 0.7 0.5 2.7 1.2 3.3 0.1 1.4-0.3 1-0.7 1-0.8 0.7-3.1 1.3-2.4 1.7-0.3 0.6-0.6 2.4-1.1 1.7-0.7 0.6-1.2 0.7-2.5 0.7-0.6 0.3-1.6 2.4-1.4 3-0.7 0.8-1 0.7-1 0.3-1.3 0-3.4-1.3-2.7-0.4-0.7 0.1-2.6 1.5-2.1 0.3-1.4-0.3-2.6-1.5-0.7-0.1-2.6 0.4-3.4 1.3-1 0.1z"/>
<path fill="#ffb200" d="M106.8 489.3l4.1-0.1 3.7-1 3-1.6 4.7-3.2 1.6-1 2.1-0.7 5.3-0.9 3.1-0.8 3.3-1.7 2.7-2.1 2.3-2.6 1.8-3.4 1.1-3.4 0.9-5.3 0.5-1.7 0.8-1.7 3.3-4.7 1.5-2.7 1.1-3.3 0.5-3.7-0.3-3.7-1-3.4-1.6-3-3.1-4.3-1-1.7-0.6-2-1.1-6.1-0.8-2.7-1.8-3.3-2.2-2.7-2.7-2.2-3-1.6-3.3-1.1-5.4-0.9-1.7-0.4-1.7-0.9-4.7-3.3-2.6-1.5-3.4-1.1-3.7-0.5-3.7 0.3-3.3 1-3.1 1.6-4.3 3.1-1.7 1-2 0.7-6.1 1-2.6 0.9-3.4 1.7-2.7 2.2-2.2 2.7-1.6 3-1 3.4-0.9 5.3-0.5 1.7-0.8 1.7-3.3 4.7-1.5 2.7-1.2 3.3-0.5 3.7 0.4 3.7 1 3.4 1.5 3 3.1 4.3 1 1.7 0.7 2 0.9 5.4 0.9 3 1.6 3.4 2.1 2.7 2.7 2.3 3 1.7 3.3 1.1 5.8 1 1.6 0.4 1.7 0.9 4.4 3.1 2.7 1.5 3 1.1zM94.4 475.9l-0.7-0.5-0.7-0.8-0.6-1.2-0.9-2.5-1.7-2.4-2.8-0.9-1.4-0.8-1.4-1.6-1.2-3.5-2.3-1.7-2.6-0.9-1.2-0.6-0.8-0.7-0.6-1-0.2-1 0.1-1.4 1.5-3.3 0.5-2.7-0.1-0.7-1.4-2.7-0.3-1.1 0-1.1 0.4-1.4 1.3-2.4 0.1-0.7-0.5-2.7-1.5-3.3-0.1-1.4 0.2-1 0.6-1 0.8-0.7 1.2-0.6 2.6-0.9 2.3-1.7 0.9-2.8 0.8-1.4 1.7-1.4 3.4-1.2 1.7-2.4 0.9-2.5 0.7-1.3 0.6-0.7 1.1-0.6 1-0.2 1.3 0.1 3.4 1.5 2.6 0.5 0.7-0.2 2.4-1.3 1.4-0.3 1.1 0 1.2 0.2 2.6 1.4 0.7 0.2 2.7-0.5 3.4-1.5 1.3-0.1 1 0.2 1 0.6 0.7 0.7 0.6 1.3 1 2.5 1.6 2.4 3.5 1.2 1.7 1.4 0.7 1.4 0.9 2.8 2.4 1.7 2.5 0.9 1.3 0.6 0.8 0.7 0.6 1 0.2 1-0.2 1.4-1.5 3.3-0.4 2.7 0.1 0.7 1.4 2.7 0.2 1.1 0 1.1-0.3 1.4-1.3 2.4-0.1 0.7 0.4 2.7 1.5 3.3 0.2 1.4-0.2 1-0.6 1-0.8 0.7-1.3 0.6-2.5 0.9-2.4 1.7-0.9 2.8-0.7 1.4-1.7 1.4-3.5 1.2-1.6 2.4-1 2.5-0.6 1.3-0.7 0.7-1 0.6-1 0.2-1.3-0.1-3.4-1.5-2.7-0.5-0.7 0.2-2.4 1.3-1.6 0.3-2-0.2-2.7-1.4-0.7-0.2-2.6 0.5-2.4 1.1-1.3 0.5-1.4 0z"/>
<path fill="#ff9c00" d="M106.8 488.7l3.7-0.1 3.7-1 3.6-2 4.5-3.6 1.3-0.8 1.7-0.5 5.7-0.6 3-0.8 3.4-1.6 2.7-2 2-2.5 1.7-3 1.1-3.7 0.6-5.7 0.4-1.7 0.9-1.7 3.6-4.3 1.4-2.4 1.3-3.3 0.5-3.7-0.3-3.4-0.9-3-1.9-3.6-3.7-4.4-0.8-1.4-0.5-1.7-0.6-5.7-0.7-3-1.6-3.3-2.2-2.8-2.4-2-3-1.7-3.7-1-5.7-0.7-1.7-0.3-1.6-1-4.4-3.6-2.3-1.4-3.4-1.2-3.7-0.5-3.3 0.2-3.1 0.9-3.5 2-4.5 3.6-1.4 0.8-1.6 0.5-5.7 0.6-3.1 0.8-3.3 1.6-2.8 2.1-2 2.4-1.6 3-1.1 3.7-0.6 5.7-0.4 1.7-1 1.7-3.5 4.3-1.4 2.4-1.3 3.3-0.5 3.7 0.3 3.4 0.9 3 1.9 3.6 3.6 4.4 0.8 1.4 0.5 1.7 0.6 5.7 0.8 3 1.6 3.3 2.1 2.7 1.4 1.3 1.7 1.2 3.3 1.6 3.1 0.8 5.7 0.6 1.6 0.5 1.4 0.8 4 3.3 2.4 1.5 3 1.2zM94.2 476.6l-0.8-0.6-0.7-1-0.6-1.4-0.6-2.4-1.8-2.5-3-1.2-1.5-1-1.1-1.3-1-3.1-0.4-0.5-2.4-1.5-2.3-0.7-1.5-0.6-1-0.7-0.7-1-0.1-1 0.1-1 0.6-1.7 1.3-2.3 0.5-2.7-0.1-0.7-1.3-2.7-0.3-1.6 0.4-2.1 1.3-2.6-0.5-3.1-1.3-2.3-0.6-1.7-0.1-1 0.1-1 0.7-1 1-0.7 1.5-0.6 2.3-0.7 2.6-1.7 1.1-3 1-1.6 1.4-1 3-1 0.5-0.5 1.6-2.3 0.6-2.4 0.6-1.4 0.7-1 1-0.7 1-0.2 1 0.2 1.7 0.6 2.4 1.3 3 0.5 2.7-1.3 2-0.4 1.7 0.3 2.6 1.3 0.7 0.1 2.7-0.5 2.3-1.3 1.7-0.6 1-0.2 1 0.2 1 0.7 0.7 1 0.6 1.4 0.7 2.4 1.6 2.3 0.5 0.5 3 1 1.3 1 1.1 1.6 1.1 3 2.5 1.7 2.4 0.7 1.5 0.6 0.9 0.7 0.7 1 0.2 1-0.1 1-0.7 1.7-1.3 2.3-0.5 3.1 1.3 2.6 0.4 2.1-0.2 1.6-1.4 2.7-0.1 0.7 0.5 2.7 1.3 2.3 0.7 1.7 0.1 1-0.2 1-0.7 1-0.9 0.7-1.5 0.6-2.4 0.7-2.5 1.7-1.1 3-1.1 1.6-1.3 1-3 1-0.5 0.5-1.6 2.3-0.7 2.4-0.6 1.4-0.7 1-1 0.7-1 0.2-1-0.2-1.7-0.6-2.3-1.3-3-0.5-2.7 1.3-2 0.4-1.7-0.3-2.7-1.3-0.7-0.1-2.6 0.5-2.4 1.3-1.7 0.6-1.3 0.2z"/>
<path fill="#ff8900" d="M106.2 488l2 0.1 2.3-0.2 2.4-0.5 2-0.8 1.7-1 1.8-1.3 1.8-1.7 2.4-2.8 0.7-0.4 5.7 0.2 3.7-0.6 2-0.6 1.7-0.8 1.6-1 1.6-1.4 1.5-1.6 1.1-1.7 1-2 0.6-1.7 0.6-4-0.2-5.7 0.8-1.1 3.8-3.5 2-2.7 1.5-3.5 0.5-2 0.2-2-0.1-2-0.4-2-0.7-2.1-0.9-2-2.1-2.8-3.8-3.5-0.8-1.1 0.2-5.7-0.5-3.7-0.7-2-0.8-1.6-1-1.7-1.4-1.7-1.6-1.4-1.7-1.1-2-1-1.7-0.6-4-0.6-5.7 0.2-1-0.8-3.5-3.8-2.8-2-3.5-1.5-2-0.4-2-0.2-2 0.1-2 0.3-2 0.7-2 1-2.9 2-3.5 3.8-1 0.8-5.7-0.2-3.7 0.6-2 0.6-1.7 0.8-1.7 1-1.7 1.5-1.4 1.5-1.1 1.7-1 2-0.5 1.7-0.7 4 0.2 5.7-0.7 1.1-3.8 3.5-2 2.7-1.6 3.5-0.4 2-0.2 2 0.1 2 0.3 2 0.7 2.1 1 2 2.1 2.8 3.8 3.5 0.7 1.1-0.2 5.7 0.6 3.7 0.6 2 0.8 1.6 1.1 1.7 1.3 1.6 1.6 1.4 1.7 1.2 2.1 1 1.6 0.6 4.1 0.6 5.7-0.2 1 0.8 3.1 3.4 2.6 2 3 1.5zM94 477.9l-0.6-0.4-0.7-1-0.6-1.8-0.9-3.5-1.5-2.3-0.4-0.4-2.9-1.1-1.4-1-0.9-1.2-1.1-3-0.3-0.4-2.4-1.5-4.5-1.2-1.4-0.6-0.7-0.7-0.1-0.7 0.3-1.3 0.9-2 1.7-2.7 0.6-3.1-1.4-3-0.2-1.6 0.2-1.7 1.3-2.7 0-0.7-0.5-2.7-1.7-2.7-0.9-2-0.3-1.3 0.1-0.7 0.7-0.7 1.4-0.6 4.5-1.2 2.4-1.5 0.3-0.4 1.1-3 0.9-1.2 1.4-1 2.9-1.1 0.4-0.4 1.5-2.3 1.2-4.5 0.7-1.4 0.6-0.7 0.7-0.2 1.4 0.3 2 1 2.7 1.7 3 0.5 3-1.3 1.7-0.3 1.7 0.3 2.6 1.3 0.7 0 2.7-0.5 2.7-1.7 2-1 1.3-0.3 0.7 0.2 0.7 0.7 0.6 1.4 1.2 4.5 1.6 2.3 0.3 0.4 3 1.1 1.3 0.9 1 1.3 1 3 0.4 0.4 2.3 1.5 4.5 1.2 1.4 0.6 0.7 0.7 0.2 0.7-0.3 1.3-1 2-1.7 2.7-0.5 3.1 1.3 3 0.3 1.7-0.3 1.6-1.3 2.7 0 0.7 0.5 2.7 1.7 2.7 1 2 0.3 1.3-0.2 0.7-0.7 0.7-1.4 0.6-4.5 1.2-2.3 1.5-0.4 0.4-1 3-1 1.2-1.3 1-3 1.1-0.4 0.4-1.5 2.3-1.2 4.5-0.6 1.4-0.7 0.7-0.7 0.2-1.3-0.3-2-1-2.7-1.7-2.7-0.5-0.7 0-2.6 1.3-1.7 0.3-1.7-0.3-3-1.3-3 0.5-4.1 2.4-1.3 0.5z"/>
<path fill="#ff7300" d="M105.8 487.4l2.7 0.2 2.4-0.3 2.3-0.7 2.4-1.1 2.1-1.5 1.9-2.1 0.9-1.6 0-0.7-0.1-0.7-1-1-3.5-2.7-2.7-0.6-0.7 0.1-2.3 1-1.7 0.4-2-0.2-3-1.3-3.1 0.6-4.2 3.4-0.4 1 0.2 1 0.5 1 1.1 1.4 2.3 2 2.9 1.5zM84.7 478.6l2.3 0.2 2-0.1 1.6-0.4 0.8-0.7 0.3-0.7 0-1-0.7-4.7-1.6-2.4-3-1.3-1.4-1-1.2-1.7-1-2.7-2.1-1.4-1.1-0.4-3.6-0.5-1.4 0-0.7 0.3-0.5 0.7-0.5 1.2-0.2 3.2 0.6 3.3 1.3 3 1.9 2.7 2.4 2 2.8 1.6zM127 478.6l1.6 0.2 2.1 0 2-0.4 1.7-0.5 1.6-0.8 1.7-1 2.7-2.5 1.2-1.7 0.8-1.7 0.7-1.7 0.4-2 0.2-2-0.2-2-0.4-1.5-0.7-0.9-0.7-0.3-1 0-4.7 0.7-2.4 1.6-1.3 3.1-1 1.3-1.3 1-2.7 1-0.4 0.4-1.7 2.6-0.6 4.7 0.2 1 0.5 0.7zM70.9 455.5l1 0.2 0.7-0.2 1.3-1.3 2.4-3.1 0.6-3.1-1.1-2.6-0.4-1.7 0.3-2 1.2-3-0.5-2.7-0.4-0.9-2.4-3-1-0.9-0.7-0.2-1.3 0.3-1.4 0.9-1.5 1.4-1.3 1.7-0.9 1.7-0.9 2-0.4 2-0.2 1.7 0 2 0.3 1.7 0.5 1.6 0.8 2.1 1.1 1.6 1.3 1.7 1.6 1.4zM143.8 455.5l1 0.2 1.3-0.5 1.7-1.3 1.7-1.8 1.2-2 0.9-2.1 0.5-2 0.3-2-0.1-2-0.3-2-0.7-2-1-2-1.2-1.8-1.7-1.7-1.3-1-1.3-0.5-1 0.2-0.7 0.5-2.7 3.4-0.5 0.9-0.5 2.7 1.2 2.6 0.3 1.7-0.2 2-1.3 3 0.5 2.7 0.5 0.9 2 2.6zM73.9 426.6l0.7 0.3 1 0 4.7-0.7 2.5-1.6 1.2-3.1 1-1.3 1.4-1 2.6-1 0.5-0.4 1.5-2.3 0.2-0.7 0.5-4.7-0.1-0.6-0.5-0.7-1.4-0.7-1.7-0.2-2 0-2.3 0.4-2 0.6-2.1 1-1.6 1.2-1.4 1.3-1.2 1.4-1 1.7-0.9 2-0.5 2-0.3 2.4 0.1 2 0.4 1.7zM138.4 426.6l2.7 0.3 1-0.1 0.9-0.9 0.5-1.3 0.2-2.7-0.5-3.1-0.9-2.6-1.4-2.4-1.4-1.7-1.8-1.5-2-1.2-2-0.8-2.4-0.6-2.3-0.1-2.2 0.2-1.5 0.7-0.5 0.7-0.2 0.6 0.5 4.7 0.2 0.7 1.6 2.3 0.4 0.4 2.7 1 1.3 1 1 1.3 1 2.7 0.4 0.4 2.3 1.6zM102.1 411.8l1.7 0.2 2.4-1 2-0.4 2 0.4 2.3 1 3.1-0.4 0.8-0.5 3.4-2.7 0.7-1 0-1-0.9-1.6-1.7-1.9-2-1.5-2.4-1.2-2.3-0.7-2.4-0.3-2.3 0-2.4 0.5-2.6 1.1-2.7 1.8-2 2.2-0.7 1-0.3 1 0.2 1 1.3 1.3 3.1 2.4z"/>
<path fill="#ff5d00" d="M107.2 487l2.3 0 2.4-0.5 2.3-0.9 2.1-1.3 1.8-1.7 1.1-1.7 0.2-1.3-0.6-1.3-2.9-2.8-2.7-0.7-0.7 0-2.3 1-1.7 0.4-2-0.3-2.7-1.1-3 0.5-0.5 0.3-2.2 2-1 1.3-0.1 1.4 0.5 1.3 1.7 2 2.3 1.7 2.6 1.1zM84.3 478l2.1 0.2 1.6-0.1 1.4-0.4 1-0.7 0.5-0.8 0.2-1 0-2.7-0.3-1.3-1.6-2.3-2.8-1.3-1.5-1.1-1-1.3-0.9-2.4-0.7-0.8-2-1.3-0.7-0.2-3-0.1-1.7 0.4-0.6 0.5-0.5 0.8-0.4 1.4-0.1 1.3 0.5 3.4 1.2 3 1.6 2.4 2.4 2.1 2.7 1.5zM127.6 478l1.7 0.2 1.7-0.1 3.4-0.8 3-1.6 2.6-2.5 1.9-3 0.6-1.7 0.4-2 0.1-1.7-0.1-1.6-0.5-1.3-0.7-0.9-0.6-0.3-1.4-0.3-2.7 0.1-1 0.2-2.3 1.6-1.3 2.9-1.1 1.4-1.3 1-2.9 1.3-1.7 2.6-0.1 3.4 0.2 1.3 0.3 0.7 0.8 0.7zM70.9 454.5l1 0.1 1-0.4 2.4-2.2 0.9-1.3 0.6-2.7-1.2-3-0.2-1.3 0.2-2 1.1-2.7-0.5-3-0.6-1-2-2-0.7-0.5-1-0.4-1 0.1-1.3 0.7-1.4 1.1-1.3 1.6-1 1.7-0.7 1.7-0.4 1.7-0.3 2 0.1 2 0.2 1.7 1.3 3.3 1 1.7 1.1 1.3 1.4 1.1zM144.1 454.5l1.3 0 1.4-0.7 1.3-1.1 1.4-1.6 0.9-1.7 0.9-2 0.4-1.7 0.2-2-0.1-2-0.4-2-0.6-1.7-0.9-1.7-1.1-1.5-1.4-1.4-1.3-0.9-1.3-0.4-0.7 0.1-1 0.5-2.6 2.6-0.4 0.7-0.5 2.7 1.2 3 0.2 1.3-0.2 2-1.2 2.7 0.5 3 0.6 1 1.7 1.7 1 0.8zM76.3 426.2l3 0 1.2-0.3 2.2-1.5 1.2-2.9 1.1-1.4 1.4-1 2.8-1.3 1.6-2.3 0.2-0.7 0-3.7-0.3-1-0.5-0.6-1.4-0.7-1.8-0.3-2 0.1-2 0.4-2 0.8-1.7 1-1.7 1.3-1.2 1.4-1.4 2-0.9 2-0.6 2.4-0.2 2 0.3 2 0.6 1.3 0.8 0.7zM137.7 426.2l2.4 0 1.3-0.3 0.8-0.7 0.6-1.3 0.2-2.4-0.3-2.3-0.7-2.4-1.3-2.3-1.3-1.7-1.7-1.5-1.7-1.1-2-0.9-2.3-0.6-2-0.2-2.1 0.2-1.3 0.7-0.7 0.7-0.2 0.7-0.1 3.7 0.2 1 1.3 2 0.8 0.7 2.7 1.1 1.1 0.9 1 1.3 1.3 2.9 2.3 1.6zM102.8 411.8l1 0.1 2.4-1 1.6-0.4 2.1 0.3 2.6 1.1 3.1-0.5 1.6-1.3 1.9-2 0.3-1-0.2-1.3-1.1-1.7-1.5-1.5-2-1.3-2.1-0.9-2.3-0.6-2.4-0.1-2.3 0.2-2 0.6-2.5 1.2-2.2 1.7-1.3 1.7-0.6 1.7 0.1 0.6 0.5 1 2.4 2.4 0.9 0.6z"/>
<path fill="#ff4700" d="M105.8 486.3l2.7 0.2 2.4-0.2 2.3-0.8 2.4-1.3 1.7-1.6 0.8-1 0.4-1 0-1.3-0.8-1.7-2.1-2-2.7-0.7-0.7 0.1-2.3 1-1.4 0.2-2-0.2-2.7-1.1-3.3 0.8-1.6 1.5-0.9 1.4-0.3 1.3 0.4 1.4 1.2 1.7 1.8 1.4 2.4 1.3zM85.7 477.6l1.7-0.1 1.3-0.3 1-0.6 0.7-1 0.3-1.7 0-2.4-1.4-2.3-0.6-0.5-2.3-1-1.4-1-1.1-1.5-1.2-2.7-2.4-1.6-1-0.2-1.8 0.1-1.2 0.2-0.9 0.5-0.7 0.6-0.5 1.1-0.3 2.6 0.6 3.1 1.5 2.9 2 2.4 2.3 1.8 2.7 1.1zM129.7 477.6l2.6-0.2 3.1-1.1 2.6-1.8 2.1-2.3 1.6-3 0.7-3 0-1.7-0.3-1.3-0.4-1.1-0.7-0.6-0.9-0.5-1.3-0.2-1.8-0.1-1 0.2-2.3 1.6-1.2 2.7-1.2 1.5-1.3 1-2.4 1-0.5 0.5-1.5 2.3 0 2.1 0.3 1.6 0.5 1 0.7 0.7 1.2 0.5zM71.6 453.8l1-0.2 0.7-0.3 2.3-2 0.4-0.6 0.6-2.7-0.1-0.6-1-2.4-0.2-1.3 0.2-2 1.1-2.7-0.6-3-0.7-1-1.7-1.4-1-0.5-1-0.2-1 0.2-1.4 0.8-1.3 1.3-1 1.4-0.9 1.7-0.6 1.7-0.4 3.4 0.4 3.3 0.6 1.7 0.9 1.7 1 1.4 1.3 1.3 1.4 0.8zM144.4 453.8l1-0.1 1.4-0.7 1.3-1.1 1-1.3 0.9-1.5 0.7-1.7 0.5-2 0.2-1.7-0.1-2-0.4-1.7-0.5-1.7-0.9-1.7-1.1-1.4-1.3-1.3-1.3-0.8-1-0.2-1 0.2-0.7 0.3-2.4 2-0.3 0.6-0.6 2.7 0.1 0.6 0.9 2.4 0.3 1.3-0.3 2-1 2.7 0.6 3 0.7 1 1.3 1.2 1 0.6zM77.6 425.9l2.4 0 2.3-1.4 0.6-0.6 1-2.4 0.9-1.3 1.2-1 2.7-1.2 0.6-0.5 1.3-2 0.2-1-0.3-3-0.4-1-0.7-0.6-1.4-0.6-1.6-0.2-1.7 0.1-2 0.5-2 0.9-1.7 1-1.4 1.2-1.3 1.6-1.1 1.8-0.8 2-0.4 2.3 0 2 0.3 1.4 0.7 1 1 0.7zM136.7 426l2.1-0.1 1.6-0.4 1-0.6 0.7-1.2 0.3-1.8-0.1-2.4-0.7-2.3-1-2-1.2-1.7-1.4-1.4-1.6-1.2-2-1-2.1-0.6-2-0.2-1.7 0.1-1.5 0.6-0.8 0.7-0.5 1.3-0.3 2.4 0.3 1.3 1.5 2.3 2.7 1.2 1.7 1.3 0.8 1.2 1.2 2.7 2.3 1.6zM102.5 411.5l1.3 0.3 2.7-1.1 1.7-0.2 1.7 0.2 2.6 1.1 3.1-0.6 1.5-1.4 1.2-1.7 0.3-1-0.2-1.3-1.1-1.7-1.4-1.4-1.7-1-2-0.9-2-0.5-2.4-0.1-2 0.2-2 0.5-2 0.9-2 1.5-1.3 1.5-0.7 1.6 0 1 0.2 0.7 1.5 2 1.3 1.1z"/>
<path fill="#ff3400" d="M106.5 486l2.7 0.1 2.7-0.6 2.3-1 2.1-1.5 1.2-1.7 0.4-1.7-0.5-1.7-1.2-1.7-1-0.6-2.7-0.5-2.6 1-1.4 0.2-2-0.2-2.7-1-2.7 0.5-0.9 0.6-1.1 1.4-0.6 1.3 0 1.4 0.5 1.3 1.4 1.7 1.7 1.2 2 0.9zM84.3 476.9l1.7 0.2 1.4-0.2 1.1-0.3 0.9-0.7 0.7-1 0.3-1.1 0.2-1.6-0.3-1-1.5-2.3-2.8-1.3-1.3-1.1-0.7-1-1-2.2-0.7-0.9-2-1.2-0.7-0.2-1.8 0.1-1.5 0.5-0.7 0.5-0.5 0.7-0.4 1-0.2 1.4 0.2 2.7 1 2.6 1.6 2.4 2 1.9 2.4 1.3zM129 476.9l2.7 0.1 3-0.9 2.7-1.6 2.2-2.3 0.8-1.3 0.8-1.7 0.7-3 0-1.4-0.3-1.3-0.5-1-0.7-0.7-1-0.5-1.4-0.3-1.3 0-0.7 0.2-2.3 1.5-1.3 2.8-1.1 1.3-1 0.8-2.1 0.9-0.9 0.7-1.4 2.3 0.1 2.4 0.3 1 0.7 1 0.9 0.7zM71.6 453.1l1-0.1 1-0.4 1.9-1.5 0.4-0.7 0.5-2.7-1-2.7-0.2-1.3 0.2-2 1-2.7-0.5-2.7-0.4-0.7-1.2-1.1-1.4-0.7-1-0.2-1 0.1-1.3 0.7-1.1 0.9-1.1 1.3-0.7 1.4-0.7 1.7-0.6 3.3 0.4 3.4 0.6 1.6 0.8 1.7 1 1.4 1 0.9 1.4 0.9zM144.4 453.1l1-0.1 1.4-0.7 1-0.9 1.1-1.3 0.8-1.4 0.7-1.7 0.4-1.6 0.1-2-0.1-2.1-0.4-1.6-0.7-1.7-0.8-1.4-1.1-1.3-1-0.9-1.4-0.7-1-0.1-1.7 0.5-1.9 1.5-0.3 0.7-0.6 2.7 1 2.7 0.2 1.3-0.2 2-1 2.7 0.6 2.7 0.3 0.7 1.3 1.1 1.3 0.7zM78 425.6l2 0.1 2.3-1.4 0.7-0.9 1-2.2 0.7-1 1.3-1.1 2.2-0.9 0.9-0.7 1.2-2 0.3-1-0.5-2.7-1.1-1.3-1-0.6-1.6-0.3-1.7 0.1-2 0.5-1.7 0.7-1.7 1-1.3 1.2-1.2 1.4-1.1 1.7-0.8 2-0.4 2 0 1.7 0.4 1.6 0.7 1.1 1 0.6zM136.4 425.7l1.6 0 1.7-0.5 1.1-0.6 0.7-1.1 0.4-1.6-0.1-2-0.5-2.1-0.9-2-1.1-1.6-1.3-1.4-1.6-1.3-1.7-0.9-2-0.7-2-0.3-1.7 0.2-1.4 0.4-0.9 0.9-0.5 1-0.4 2.1 0.2 1.3 1.6 2.3 2.7 1.3 1.4 1.2 1.1 1.6 0.9 2.1zM103.1 411.5l1 0 2.4-0.9 1.3-0.2 2.1 0.2 2.6 1 3.1-0.7 1.1-1.1 1-1.7 0.2-1-0.2-1.3-0.8-1.4-1.4-1.3-1.6-1.1-2-0.8-2.4-0.5-2-0.1-2 0.3-2 0.6-2 1.1-1.4 1.1-1.3 1.7-0.4 1.4 0.4 1.6 1.4 2.1 0.6 0.4z"/>
<path fill="#ff1e00" d="M107.5 485.6l1.7 0 3-0.6 2-1 1.7-1.4 1-1.3 0.5-1.7-0.4-1.7-1.2-1.7-0.6-0.3-2.7-0.6-2.3 0.8-2.4 0.3-1.6-0.3-2.4-0.8-2.7 0.6-0.6 0.5-1.1 1.4-0.4 1.1 0.1 1.4 0.7 1.5 1 1.2 2 1.4 2.5 0.9zM85.7 476.6l1.7-0.2 1-0.4 0.6-0.5 0.7-1 0.4-0.9 0.2-1.7-0.2-0.7-1.1-1.7-0.5-0.6-2.5-1.2-1-0.8-1.2-1.4-1.1-2.5-2.4-1.6-0.7-0.1-1.6 0.1-1.4 0.6-0.8 0.8-0.5 0.9-0.4 2.1 0.4 2.4 0.6 1.7 0.7 1.3 1.7 2.1 2 1.6 1.4 0.7 1.6 0.6zM130.7 476.6l2.3-0.4 1.7-0.6 1.3-0.7 2.1-1.7 1.6-2 0.8-1.3 0.6-1.7 0.3-2.4-0.3-2.1-0.5-0.9-0.9-0.8-1.3-0.6-1.7-0.1-0.7 0.1-2.3 1.6-1.2 2.5-1.2 1.4-1 0.8-2.4 1.2-0.6 0.6-1 1.7-0.2 0.7 0.2 1.7 0.3 0.9 0.7 1 0.7 0.5 1 0.4zM71.3 452.5l1.6-0.1 1.4-0.6 0.9-0.7 0.5-0.7 0.6-2.7-0.9-2.3-0.3-1.7 0.3-2.4 0.9-2.3-0.6-2.7-0.4-0.6-1-0.8-2-0.7-1 0-1.1 0.4-1.3 1-1 1.2-1.3 2.6-0.4 1.3-0.3 2 0.3 3.3 1 2.8 1.7 2.3 1.3 1zM143.8 452.5l1.3 0 1-0.4 1.3-1 0.7-0.8 1-1.5 0.7-1.5 0.4-1.3 0.3-2-0.3-3.3-1.1-2.8-1-1.5-1-1.1-1-0.7-1.3-0.4-1 0-1.1 0.4-1.6 1.1-0.4 0.6-0.6 2.7 0.8 2.3 0.4 1.7-0.4 2.4-0.8 2.3 0.6 2.7 0.4 0.6 1 0.8zM78 425.3l2 0.1 2.1-1.2 0.6-0.5 1.1-2.5 0.9-1.1 1.3-1.1 2.5-1.2 0.5-0.6 1.1-1.7 0.2-1-0.2-1.4-0.4-0.9-1.2-1.4-1.1-0.5-1.7-0.2-2 0.3-1.4 0.4-1.4 0.7-1.6 1-2 2-1 1.5-0.7 1.5-0.4 1.3-0.3 2.4 0.3 1.7 0.4 0.8 0.8 0.9zM136 425.3l1 0.1 1.4-0.1 1-0.4 1-0.8 0.7-1.1 0.3-1.8 0-1-0.3-1.7-1-2.3-1-1.7-1.3-1.4-1.7-1.3-1.4-0.7-1.7-0.6-2.2-0.4-1.8 0.2-1 0.4-1 0.9-0.7 1.4-0.2 1.5 0.2 1 1.6 2.3 2.4 1.2 1.1 0.9 1.1 1.3 1.2 2.5zM102.8 411.2l1 0.2 2.4-0.8 1.6-0.3 2.4 0.3 2.3 0.8 2.7-0.6 0.7-0.5 1.1-1.5 0.3-1-0.1-1.5-0.6-1.4-1-1.2-1.4-1-2-1-1.3-0.4-2.7-0.3-2.7 0.3-1.3 0.4-2.1 1-1.6 1.4-1.1 1.3-0.4 1.4 0 1 0.4 1 1.1 1.5 0.6 0.5z"/>
<path fill="#f10800" d="M106.8 484.7l2.4 0 2-0.4 2-0.9 1.5-1.1 1.1-1.4 0.4-1.3-0.1-1.7-0.8-1.3-3.1-1-3 0.9-1 0-1 0-3.1-0.9-3.1 1-0.7 1.3-0.2 1.4 0.3 1.3 0.6 1 1.1 1.1 1.4 0.9 1.7 0.7zM83.3 475.2l1.4 0.3 1.3 0 1.9-0.6 0.8-0.6 0.7-1.1 0.3-1 0-0.7-1.4-2.3-2.6-1.6-1.3-1.1-2.1-3.3-2.3-1.3-1.4 0.1-0.9 0.5-0.7 0.6-0.8 1.4-0.2 2 0.5 2.4 1 2 1.7 2 2.1 1.5zM129.3 475.3l2.4 0.2 2.3-0.6 2.4-1.3 2-2.1 1.3-2.3 0.6-2.7 0-1.3-0.3-1-0.6-1-0.7-0.7-1-0.5-1-0.2-2.3 1.2-0.7 0.6-1 1.9-1.1 1.3-1.3 1-2.3 1.4-1.3 2.3-0.1 0.7 0.4 1 0.6 1.1 0.7 0.5zM71.9 451.4l1.7-0.2 1.3-0.7 1-3.1-0.9-3 0-1 0-1.1 0.8-2.6 0-1-0.9-2.5-1-0.6-1.3-0.3-1 0-1 0.4-1 0.8-1 1.1-1.3 2.4-0.5 3 0.3 3 1.1 2.6 1.7 1.9 1 0.6zM143.8 451.4l1 0 1-0.4 1-0.8 1-1.1 1.2-2.4 0.6-3-0.4-3-1.1-2.7-1-1.2-1-0.9-1-0.5-1-0.1-1.4 0.2-1.3 0.7-0.9 3.1 0.8 3 0.1 1.1-0.1 1-0.8 2.6 0.1 1 0.8 2.5 1 0.6zM79.3 424.9l0.7-0.1 2.3-1.3 1.4-2.3 1-1.3 1-0.8 2.3-1.3 0.4-0.4 1.3-2.6-0.5-1.7-1.2-1.2-1-0.5-1.3-0.2-1.4 0.1-1.6 0.4-2.7 1.4-1.4 1.3-1 1.2-0.8 1.6-0.5 1.3-0.3 1.7 0.1 1.3 0.2 1 0.7 1.1 1 0.8zM136.7 424.9l1.3-0.3 1.1-0.7 0.8-1 0.3-1 0.2-1.4-0.3-1.7-0.5-1.6-0.7-1.4-1.1-1.3-1.1-1.1-1.3-0.9-1.7-0.8-1.7-0.4-1.3-0.1-1.4 0.2-1 0.5-1 1-0.7 1.6 0.1 0.7 1.1 2 0.6 0.6 1.9 1.1 1.4 1 1 1.3 1.3 2.3zM103.1 410.8l1 0.3 3.1-0.9 1.3 0 3.7 0.9 2.7-0.7 0.7-0.5 0.5-1.1 0.2-1.4-0.2-1-0.7-1.3-1-1-1.2-0.8-1.7-0.8-1.6-0.4-1.7-0.1-1.7 0.1-1.7 0.4-1.7 0.8-1.3 0.9-1 1.2-0.6 1.4 0 1.6 0.5 1.4 0.8 0.6z"/>
<path fill="#da0000" d="M106.5 483.7l2 0.1 1.7-0.2 1.7-0.5 1.3-0.8 1.1-1 0.8-1.4 0.2-1.3-0.3-1.4-0.4-0.3-2.7-0.8-3.7 0.6-3.7-0.6-2.7 0.8-0.3 0.3-0.4 0.7-0.1 1 0.2 1 0.6 1.1 0.9 0.9 1.1 0.8zM83.3 474.3l2.1 0.2 1-0.1 1-0.4 1.3-1.2 0.3-0.6-0.1-0.7-1.2-2.3-3-2.1-2.4-3.3-2.3-1.2-0.7-0.1-1.4 1-0.7 1.3-0.2 1.7 0.4 2 1 2 1.2 1.6 1.7 1.3zM129.7 474.3l2 0.2 2.3-0.6 2-1.2 1.7-1.8 1.3-2.4 0.4-2.3-0.2-1-0.3-1-1.2-1.3-1-0.4-2.7 1.3-2.1 3-3.2 2.4-1.3 2.3 0 0.7 0.9 1.4zM72.3 450.5l1.3-0.1 0.8-0.3 0.2-0.4 0.8-2.7-0.6-3.6 0.6-4.1-1-2.7-1.5-0.4-1 0.1-1 0.4-1.7 1.6-1.1 2.4-0.4 2.3 0.3 2.7 0.9 2.2 0.7 0.9 1 0.9zM142.7 450.4l1.1 0.1 1-0.2 1-0.6 0.8-0.6 0.7-1.1 0.7-1.3 0.6-2.7 0-1.7-0.2-1.3-1.1-2.3-1.5-1.7-1-0.6-1-0.2-1.1 0.1-0.7 0.3-0.3 0.4-0.8 2.7 0.7 3.7-0.6 4 0.7 2.3 0.4 0.4zM79 424l0.6 0.2 0.4-0.1 2.3-1.2 2.4-3.3 3-2.1 1.3-2.7-0.3-0.9-0.7-0.8-1-0.6-1-0.3-2.3 0.2-2.6 1.1-2.1 1.8-1.5 2.5-0.4 1.4-0.1 1.3 0.1 1 0.4 1 0.8 1zM136 423.9l0.7 0.3 1-0.4 1-0.9 0.5-1.4 0.1-1.3-0.1-1.4-0.5-1.3-0.7-1.3-2-2.2-1.3-0.9-1.4-0.5-1.3-0.4-1.3 0-1 0.2-1.1 0.5-0.9 0.9-0.4 1 1.1 2.4 0.6 0.6 1.7 1 1.2 1.1 2.1 3zM103.8 410.5l1 0.1 3.4-0.6 3.3 0.6 1-0.1 2.1-0.7 0.4-0.3 0.3-1.4-0.2-1.3-0.5-1-1-1-1.1-0.8-1.3-0.6-2.7-0.5-1.7 0.1-1.3 0.3-1.7 0.7-1.1 0.8-0.9 1-0.7 1.3 0 1.3 0.3 1.1 0.4 0.3z"/>
<path fill="#bf0000" d="M107.2 483l1.6 0 1.4-0.2 1.3-0.5 1.2-0.7 1-1 0.6-1 0.2-1-0.3-0.9-2.3-1-0.7-0.1-3 0.4-3.4-0.4-2.7 1.1-0.2 0.6 0.1 1 0.9 1.6 1.9 1.4zM84.3 473.6l2.1-0.1 1-0.5 0.5-0.5 0.3-0.6-1-2.4-0.5-0.6-2.4-1.9-2-2.5-2.3-1.1-0.7 0-1 1.1-0.4 1.3 0.1 1.7 0.5 1.7 1.1 1.7 1.4 1.3 1.7 0.9zM130.3 473.6l1.7 0 2-0.6 1.7-1.1 1.5-1.7 0.9-1.7 0.4-2-0.3-1.7-0.5-0.8-0.5-0.5-0.5-0.2-0.3 0.1-2.4 1.1-2.1 2.7-2.6 2-1 2.3-0.1 0.7 0.8 0.8zM71.9 449.5l1 0.2 1-0.3 1-2.7-0.3-3.3 0.3-3.4-1-2.6-0.6-0.4-1.7 0.4-1.4 1-1.1 1.9-0.5 2 0 2.4 0.6 2 1.2 1.7zM142.7 449.6l0.7 0.1 1-0.2 1.7-1.2 1.2-1.9 0.6-2.7-0.3-2.4-1.1-2.3-1.4-1.4-1.7-0.6-0.7 0.1-0.3 0.3-1 2.8 0.4 3.2-0.4 3.3 1 2.6zM79.3 423.3l0.7 0 2.3-1.1 2-2.5 2.7-2.2 1.2-2.7-0.5-0.9-0.7-0.4-1-0.4-2 0.1-2 0.7-2.1 1.6-1.4 2-0.6 2.4 0.2 2 0.5 0.8zM136.4 423.3l0.6 0 0.7-0.6 0.5-0.8 0.3-1.4-0.4-2.3-1.4-2.4-1.9-1.6-2.1-1-2-0.1-1 0.2-0.9 0.5-0.5 0.5-0.1 0.5 1.1 2.7 2.6 2 2.1 2.7zM105.2 410.1l3-0.4 3 0.4 0.7-0.1 2.3-1 0.3-0.6-0.1-1-0.4-1-0.8-0.9-2-1.3-2.7-0.5-2.7 0.3-1.3 0.6-1.4 0.9-0.9 1.3-0.3 1 0 0.6 0.3 0.7 2.3 0.9z"/>
<path fill="#a40000" d="M107.8 482.3l2.1-0.2 2-0.9 1.3-1.3 0.4-1-0.1-0.5-2.1-1.2-0.9-0.1-5 0-2.7 1.3-0.1 0.5 0.2 0.7 1.2 1.4 1.7 0.9zM83.3 472.6l2.1 0.3 1-0.3 0.6-0.4 0.1-0.7-0.6-2-0.5-0.6-1.7-1.5-2-2.1-2.7-1-0.6 0.7-0.3 1.2 0.1 1.3 0.4 1.4 0.8 1.2 1 1.1 1 0.8zM130 472.6l1.3 0.3 1.7-0.3 1.7-0.9 1.4-1.2 1-1.6 0.5-1.7 0-1.7-0.6-1-0.6-0.1-2.4 0.9-2 2.1-1.7 1.5-0.4 0.6-0.8 2.4 0.2 0.3zM72.6 448.8l0.7-0.2 1-2 0.1-0.9 0-5-1-2.4-0.5-0.4-0.6 0.1-0.7 0.3-1.1 1-0.9 1.7-0.4 2 0.2 2 0.7 1.7 1.2 1.4zM143.4 448.8l0.7-0.1 0.7-0.3 1-1 0.9-1.7 0.4-2-0.2-2-0.6-1.7-1.2-1.4-1.3-0.7-0.7 0.2-1 2-0.2 0.9 0 5 1.1 2.4zM79.3 422.2l0.7 0.1 2-0.7 0.7-0.4 1.4-1.7 2.2-2 0.8-2.3-0.1-0.7-1.3-0.6-1.7 0-1.7 0.6-1.6 1.3-1.3 1.7-0.6 1.7-0.1 1.7zM136.4 422.3l0.6-0.1 0.4-0.5 0.2-0.8 0.1-1-0.6-2.1-1.1-1.7-1.5-1.3-1.8-0.8-2-0.1-1.4 0.6-0.1 0.7 0.7 2 0.4 0.6 1.7 1.5 2 2.1zM105.2 409.5l5.7 0.1 2.5-1.2 0.2-0.6-0.7-1.5-1.7-1.2-2-0.6-2.4 0-1.3 0.4-1.4 0.8-0.7 0.7-0.6 1-0.1 0.7 0.2 0.3z"/>
<path fill="#890000" d="M106.2 481.3l2 0.3 2-0.3 1.7-1 0.6-1-0.2-0.4-2.1-1.1-2.7-0.2-1.3 0.2-2.1 1.1-0.2 0.4 0.6 1zM83.7 471.9l1.3 0.2 0.7-0.2 0.2-0.4-0.4-2-0.4-0.6-1.8-2-1-0.7-2.3-0.6-0.4 0.2-0.2 0.7 0.1 1 0.8 1.9 1.4 1.5zM130.7 471.9l1 0.2 1.3-0.3 1.2-0.6 1.2-0.9 0.8-1.1 0.6-1.3 0.1-1.1-0.2-1-0.3-0.2-2.4 0.6-2.2 2-0.9 1.3-0.5 2zM71.6 447.4l0.7 0.3 0.3-0.2 1.1-1.8 0.2-1.3-0.1-3.1-1.2-2.1-0.3-0.2-0.7 0.3-0.9 1-0.6 1.4-0.2 1.3 0.3 2.4 0.7 1.3zM143.8 447.5l0.3 0.2 0.3-0.1 1-0.9 0.7-1.3 0.3-1.7-0.1-1.7-0.5-1.3-0.7-1.1-1-0.6-0.3 0.2-1.1 1.7-0.3 1.4 0.2 3.1zM79.6 420.9l0.4 0.2 2.3-0.6 1.4-1.1 1.6-1.9 0.6-2.3-0.2-0.4-1-0.2-1 0.2-1.4 0.6-1 0.8-1 1.1-0.6 1.2-0.3 1.4zM135.4 420.9l1 0.2 0.3-0.2 0.2-0.7-0.2-1.7-1-1.7-1-1-1.4-0.8-1.6-0.4-1.1 0.2-0.2 0.4 0.2 1 0.4 1.3 0.5 0.7 2.2 2.1zM107.5 409.1l1.7 0 1.3-0.3 1.8-1 0.2-0.4-0.1-0.3-0.5-0.7-1-0.7-1-0.4-1.4-0.2-2.3 0.3-1.3 0.7-0.8 0.7-0.2 0.6 0.2 0.4 1.7 1z"/>
</g>
<path fill="none" stroke="#ececec" stroke-opacity=".55" stroke-width=".5" d="M107.5 472.6l-1-0.3-0.4-0.4 0.9-3-5.9-1-2.7-0.8-2.6-1.4-4.7-3.5-0.4 0.3-0.6 1.7-0.7 0.8-1-0.3-1-0.7-0.8-1.2-0.1-0.7 0.9-0.6 1.7-0.7 0.2-0.3-3.5-4.7-1.4-2.7-0.8-2.7-0.9-5.9-3.1 0.9-0.3-0.4-0.5-1.6 0.5-1.7 0.3-0.4 3.1 0.9 0.9-5.9 0.8-2.7 1.4-2.7 3.5-4.7-0.2-0.3-1.7-0.7-0.9-0.6 0.1-0.7 0.8-1.2 1-0.7 1-0.3 0.7 0.8 0.6 1.7 0.4 0.3 4.7-3.5 2.6-1.4 3.1-0.9 5.3-0.8 0.2-0.1 0-0.3-0.5-1-0.4-1.7 0.4-0.4 1.7-0.4 1.7 0.4 0.3 0.4-0.9 3 5.9 1 2.7 0.8 2.7 1.4 4.7 3.5 0.3-0.3 0.7-1.7 0.7-0.8 0.6 0.1 1.3 0.7 0.7 1 0.2 1.1-0.8 0.6-1.7 0.7-0.3 0.3 3.5 4.7 1.5 2.7 0.8 3 0.8 5.4 0.1 0.2 0.3 0 1-0.5 1.7-0.4 0.4 0.4 0.4 1.7-0.4 1.6-0.4 0.4-1.7-0.4-1-0.5-0.3 0-0.1 0.2-0.8 5.4-0.8 3-1.5 2.7-3.5 4.7 0.3 0.3 1.7 0.7 0.8 0.6-0.2 1.1-0.7 1-1.3 0.7-0.6 0.1-0.7-0.8-0.7-1.7-0.3-0.3-4.7 3.5-2.7 1.4-2.7 0.8-5.9 1 0.9 3-0.2 0.3-1 0.3-1.5 0.1M107.2 472.9l-1-0.2-0.5-0.5-0.1-0.7 0.4-2-0.3-0.3-5.2-0.6-2.4-0.7-2-1.1-4.7-3.5-0.3 0.2-1.1 1.7-0.6 0.3-1-0.3-1.6-1.4-0.7-1-0.1-0.7 0.4-0.6 1.6-1 0.1-0.7-3.4-4.4-1.1-2-0.6-2.2-0.7-5.5-0.6-0.2-2.1 0.4-0.4-0.2-0.5-0.7-0.1-2.3 0.3-1.4 0.4-0.4 0.7-0.1 2 0.4 0.3-0.4 0.7-5.2 0.6-2.3 1.1-2 3.5-4.7-0.2-0.4-1.6-1-0.4-0.6 0.3-1.1 1.4-1.5 1-0.7 0.7-0.1 0.6 0.3 1.1 1.7 0.6 0.1 4.4-3.4 2-1.1 2.2-0.6 5.5-0.8 0.2-0.6-0.4-2 0.2-0.4 0.7-0.5 2.3-0.1 1.4 0.2 0.4 0.5 0.1 0.7-0.4 2 0.4 0.3 5.2 0.6 2.3 0.7 2.1 1.1 4.7 3.5 0.3-0.2 1.1-1.7 0.6-0.3 1 0.3 1.5 1.4 0.8 1 0 0.7-0.3 0.6-1.7 1-0.1 0.7 3.4 4.4 1.1 2 0.6 2.2 0.8 5.5 0.6 0.2 2-0.4 0.5 0.2 0.4 0.7 0.1 2.3-0.2 1.4-0.5 0.4-0.6 0.1-2-0.4-0.4 0.4-0.6 5.2-0.7 2.3-1.1 2-3.5 4.7 0.2 0.4 1.7 1 0.3 0.6-0.2 1.1-1.5 1.5-1 0.7-0.7 0.1-0.5-0.3-1.1-1.7-0.7-0.1-4.3 3.4-2.1 1.1-2.1 0.6-5.6 0.8-0.2 0.6 0.4 2-0.2 0.4-1 0.5-2.3 0.1M175.4 513.2l2.6-2.6M38.4 510.6l2.5 2.6M178 376.1l-2.6-2.6M40.9 373.5l-2.5 2.6M107.2 473.2l-1-0.1-0.7-0.6-0.3-0.6 0.2-1.7-0.2-0.5-5.1-0.5-2.3-0.6-2.4-1.4-3.7-3.1-0.6 0.2-1 1.3-1.4 0.3-2.6-2.4-0.4-0.7 0-1 0.3-0.5 1.2-0.8 0.2-0.7-3.1-3.7-1.4-2.3-0.6-2.4-0.5-5-0.5-0.3-1.7 0.2-0.6-0.3-0.6-0.6-0.1-3.4 0.3-1 0.7-0.5 2 0.1 0.5-0.3 0.5-5 0.6-2.4 1.4-2.3 3.1-3.7-0.2-0.7-1.3-1-0.2-1.3 2.3-2.7 0.7-0.4 1 0.1 0.5 0.3 0.9 1.2 0.6 0.2 3.7-3.1 2.4-1.4 2.3-0.6 5.1-0.5 0.2-0.5-0.2-1.7 0.3-0.6 0.7-0.6 3.3-0.1 1 0.3 0.5 0.7-0.1 2 0.3 0.5 5 0.5 2.4 0.6 2.3 1.4 3.7 3.1 0.7-0.2 1-1.3 1.3-0.3 2.7 2.4 0.4 0.7-0.1 1-0.3 0.5-1.1 0.8-0.2 0.7 3.1 3.7 1.3 2.3 0.7 2.4 0.4 5 0.5 0.3 1.7-0.2 0.7 0.3 0.5 0.6 0.1 3.4-0.3 1-0.7 0.5-2-0.1-0.5 0.3-0.4 5-0.7 2.4-1.3 2.3-3.1 3.7 0.2 0.7 1.2 1 0.3 1.3-2.4 2.7-0.7 0.4-1-0.1-0.4-0.3-0.9-1.2-0.7-0.2-3.7 3.1-2.3 1.4-2.4 0.6-5 0.5-0.3 0.5 0.2 1.7-0.3 0.6-0.6 0.6-3 0.1M156.5 513.2l5.8-4.4 5.3-4.8 4.7-4.9 5.7-7.4M38.4 491.7l4.3 5.8 4.8 5.3 5 4.7 7.3 5.7M178 395l-4.4-5.8-4.7-5.3-5-4.7-7.4-5.7M59.8 373.5l-5.7 4.4-5.3 4.8-4.7 4.9-5.7 7.4M106.5 473.6l-1.1-0.7-0.4-1-0.3-1.7-6.3-0.6-2-0.8-4.7-4-0.6 0.2-1 0.9-1.3 0.3-0.9-0.4-2.3-2.3-0.3-1 0.3-1 0.9-1 0.2-0.7-3.7-4.4-1-2-0.4-2.3-0.4-4.4-2.2-0.4-0.7-0.6-0.4-1 0.4-3.7 0.7-0.7 2.3-0.4 0.6-6.3 0.9-2 3.9-4.7-0.2-0.7-0.9-1-0.2-1.2 0.3-0.9 2.3-2.3 1-0.3 1.1 0.3 1 0.9 0.7 0.2 4.3-3.8 2.1-0.9 2.3-0.4 4.3-0.4 0.4-2.2 0.6-0.8 1-0.3 3.7 0.3 0.7 0.8 0.5 2.3 6.2 0.6 2 0.8 4.7 4 0.7-0.2 1-0.9 1.2-0.3 0.9 0.4 2.3 2.3 0.3 1-0.2 1-1 1-0.1 0.7 3.7 4.4 1 2 0.4 2.3 0.3 4.4 2.3 0.4 0.7 0.6 0.3 1-0.3 3.7-0.8 0.7-2.3 0.4-0.6 6.3-0.8 2-4 4.7 0.2 0.7 1 1 0.2 1.2-0.3 0.9-2.4 2.3-1 0.3-1-0.3-1-0.9-0.7-0.2-4.3 3.8-2.1 0.9-2.3 0.4-4.4 0.4-0.3 2.2-0.7 0.8-1 0.3-3 0M136.9 513.2l6.9-3.2 6.3-3.8 6.1-4.5 5.3-4.8 5.1-5.6 4.3-5.9 3.9-6.5 3.2-6.8M38.4 472.1l3.2 6.8 3.7 6.4 4.5 6 4.8 5.4 5.6 5 5.9 4.4 6.5 3.9 6.8 3.2M178 414.6l-3.2-6.8-3.8-6.4-4.4-6-4.9-5.4-5.5-5-6-4.4-6.4-3.9-6.9-3.2M79.4 373.5l-6.8 3.2-6.5 3.9-5.9 4.4-5.6 5-4.8 5.4-4.5 6-3.7 6.4-3.2 6.8M106.5 473.9l-1.4-1-0.6-2-0.4-0.2-4.3-0.2-2.4-0.5-2.3-1.3-3.4-3.2-0.6 0.1-1.7 0.8-1 0-1.1-0.6-1.6-1.6-0.5-1-0.1-1.1 0.9-1.6 0-0.7-2.9-3-1.3-2-0.8-2.7-0.1-4.7-0.3-0.4-2-0.6-0.6-0.7-0.4-1-0.1-2.4 0.3-1 0.7-1 2.1-0.6 0.3-0.4 0.1-4.3 0.5-2.4 1.4-2.3 3.1-3.4 0-0.7-0.9-1.6 0.1-1.1 0.5-1 1.6-1.6 1.1-0.6 1 0 1.7 0.8 0.6 0.1 3.1-2.9 2-1.3 2.6-0.8 4.7-0.2 0.4-0.2 0.6-2 0.7-0.7 1-0.4 2.4 0 1 0.2 1 0.8 0.7 2.1 0.3 0.2 4.4 0.2 2.3 0.5 2.4 1.3 3.3 3.2 0.7-0.1 1.7-0.8 1 0 1 0.6 1.7 1.6 0.5 1 0.1 1.1-0.9 1.6-0.1 0.7 2.9 3 1.3 2 0.8 2.7 0.2 4.7 0.3 0.4 1.9 0.6 0.7 0.7 0.4 1 0 2.4-0.2 1-0.8 1-2 0.6-0.3 0.4-0.1 4.3-0.6 2.4-1.3 2.3-3.2 3.4 0.1 0.7 0.9 1.6-0.1 1.1-0.5 1-1.7 1.6-1 0.6-1 0-1.7-0.8-0.7-0.1-3 2.9-2 1.3-2.7 0.8-4.7 0.2-0.3 0.2-0.6 2-0.8 0.7-1.3 0.4-2.7-0.1M106.5 511.5l6.4-0.2 6.7-0.8 6.4-1.5 6.7-2.3 6.4-2.8 6-3.4 5.4-3.8 5-4.3 4.4-4.6 3.9-5.2 3.5-5.7 3.1-6.4 2.5-6.3 1.8-6.8 1.2-6.3 0.4-6.4-0.2-6.4-0.9-6.7-1.5-6.4-2.3-6.7-2.9-6.4-3.2-5.7-3.8-5.4-4.3-5-4.6-4.3-5.2-4-5.7-3.5-6.3-3.1-6.4-2.4-6.7-1.9-6.4-1.1-6.4-0.5-6.4 0.2-6.7 0.9-6.3 1.5-6.8 2.3-6.3 2.9-5.7 3.2-5.5 3.8-4.9 4.3-4.4 4.6-3.9 5.2-3.5 5.7-3.2 6.4-2.4 6.3-1.9 6.8-1.1 6.3-0.5 6.4 0.2 6.4 0.9 6.7 1.5 6.4 2.3 6.7 2.9 6.4 3.2 5.7 3.8 5.4 4.3 5 4.7 4.3 5.1 4 5.7 3.5 6.1 3 6.3 2.4 6.7 1.9 6.4 1.2 6.4 0.5M106.8 474.3l-1-0.4-0.6-0.6-1.1-2-0.3-0.2-4 0-2.4-0.4-1.3-0.6-1.3-0.9-3.1-3.1-0.6-0.1-1.7 0.7-1-0.1-1.4-0.6-1.3-1.3-0.7-1.1-0.1-0.8 0-1 0.6-1.3-0.1-0.7-2.8-2.7-1.4-2-0.8-2.7 0-4.7-0.4-0.4-1.4-0.6-1-1-0.4-1.3 0-1.7 0.2-1 0.5-1 2.5-1.7 0-4 0.4-2.4 0.6-1.3 0.9-1.4 3.1-3 0.1-0.7-0.6-1.6 0-1.1 0.6-1.3 1.3-1.3 1.2-0.7 0.7-0.2 1 0.1 1.4 0.6 0.6-0.1 2.7-2.8 2-1.4 2.7-0.8 4.7 0 0.5-0.4 0.5-1.4 1-1 1.4-0.4 1.6-0.1 1.1 0.2 1 0.6 1.6 2.5 4.1 0 2.3 0.4 1.4 0.6 1.3 0.9 3 3.1 0.7 0.1 1.7-0.7 1 0.1 1.3 0.6 1.4 1.3 0.6 1.1 0.2 0.8-0.1 1-0.6 1.3 0.1 0.7 2.8 2.7 1.4 2 0.8 2.7 0 4.7 0.5 0.4 1.3 0.6 1 1 0.5 1.3 0 1.7-0.2 1-0.5 1-2.6 1.7 0.1 4-0.4 2.4-0.6 1.3-1 1.4-3.1 3-0.1 0.7 0.7 1.6-0.1 1.1-0.6 1.3-1.2 1.3-1.2 0.7-0.8 0.2-1-0.1-1.3-0.6-0.7 0.1-3 3.1-2 1.3-2.7 0.6-4.4 0-0.4 0.4-0.6 1.4-1 1-1.3 0.4-2.4 0M107.8 506.1l5.7-0.3 6.1-0.9 6-1.5 6.1-2.2 5.7-2.6 5.7-3.3 4.7-3.3 4.5-4 4-4.4 3.4-4.7 3.4-5.7 2.7-5.7 2.2-6 1.6-6.1 1-5.7 0.3-6-0.2-5.7-1-6.1-1.5-6-2.2-6-2.6-5.7-3.2-5.8-3.4-4.7-4-4.5-4.4-3.9-4.6-3.5-5.8-3.3-5.7-2.7-6-2.3-6-1.6-5.7-0.9-6.1-0.4-5.7 0.3-6 0.9-6.1 1.5-6 2.2-5.7 2.6-5.7 3.3-4.7 3.3-4.5 4-4 4.4-3.5 4.7-3.3 5.7-2.7 5.7-2.2 6-1.7 6.1-0.9 5.7-0.4 6 0.3 5.7 0.9 6.1 1.6 6 2.1 6 2.6 5.7 3.3 5.8 3.3 4.7 4 4.5 4.4 3.9 4.7 3.5 5.7 3.3 5.7 2.7 6.1 2.3 6 1.6 5.7 0.9 6 0.4M107.2 474.6l-1.8-0.7-1.3-2-0.6-0.5-3.7 0.3-2.7-0.4-1.3-0.6-1.4-1-2.7-3.1-0.6-0.2-1.6 0.4-1.1 0.1-1.4-0.6-1-0.8-0.8-1-0.5-1.3 0.4-3.1-0.4-0.6-2.9-2.4-1.3-2-0.7-2.7 0.3-4.4-0.5-0.5-1.3-0.8-0.7-0.7-0.6-1.3-0.2-1.3 0.2-1.4 0.6-1.3 0.7-0.7 1.3-0.8 0.5-0.5-0.3-4.4 0.7-2.7 1.3-2 2.9-2.4 0.4-0.6-0.4-3.1 0.5-1.3 0.8-1 1-0.8 1.4-0.6 1.1 0.1 1.6 0.4 0.6-0.2 2.7-3.1 1.4-1 1.3-0.6 2.7-0.4 3.7 0.3 0.6-0.5 0.7-1.3 0.7-0.7 1.3-0.7 1.4-0.1 1.3 0.1 1.4 0.7 0.6 0.7 0.8 1.3 0.6 0.5 3.7-0.3 2.7 0.4 1.3 0.6 1.3 1 2.7 3.1 0.7 0.2 1.6-0.4 1.1-0.1 1.3 0.6 1.1 0.8 0.8 1 0.5 1.3-0.4 3.1 0.4 0.6 2.8 2.4 1.4 2 0.6 2.7-0.2 4.4 0.4 0.5 1.3 0.8 0.8 0.7 0.6 1.3 0.1 1.4-0.1 1.3-0.6 1.3-0.8 0.7-1.3 0.8-0.4 0.5 0.2 3.7-0.4 2.7-0.6 1.4-1 1.3-3.1 2.7-0.2 0.7 0.5 1.6 0 1.1-0.5 1.3-0.9 1-1 0.8-1.3 0.6-1.1-0.1-1.6-0.4-0.7 0.2-2.7 3.1-2.3 1.5-2.7 0.5-4-0.3-0.7 0.6-0.9 1.6-0.8 0.5-1.3 0.5-2 0M103.8 502.1l5.4 0.2 5.4-0.4 5.7-1.1 5.7-1.7 6.3-2.5 5.7-2.8 5.4-3.4 4.4-3.4 3.7-3.7 3.3-4.1 3-4.6 2.9-5.4 2.4-5.7 2-6.1 1.3-5.7 0.6-5.3 0.1-5.4-0.6-5.4-1.1-5.3-1.9-6.1-2.5-6-3-5.7-3-4.7-3.5-4.4-3.7-3.7-4-3.2-4.7-3-5.1-2.6-5.7-2.5-6-2-5.7-1.3-5.4-0.6-5.4 0-5.3 0.5-5.4 1.2-6.1 1.9-6 2.4-5.7 3-4.7 3-4.4 3.5-3.7 3.7-3.2 4.1-3 4.7-2.6 5-2.4 5.7-2 6.1-1.3 5.7-0.7 5.3 0 5.4 0.6 5.4 1.1 5.3 1.8 5.7 2.4 6.1 2.9 5.7 3 4.7 3.4 4.4 3.7 3.7 4.1 3.2 4.3 2.9 5.1 2.7 5.7 2.5 5.7 2 5.3 1.3 5.4 0.8M107.5 474.9l-2-0.7-2-2.3-4.4 0.4-2.7-0.5-2.3-1.6-2.7-3.3-3.4 0.1-1.1-0.5-1.2-0.9-0.8-1.1-0.4-1.3 0.2-3.1-3.3-2.7-1.7-2.3-0.4-2.7 0.4-4.4-2.3-2-0.7-1.3-0.1-1.3 0.1-1.4 0.7-1.3 2.3-2-0.4-4.4 0.4-2.7 1.7-2.3 3.3-2.7-0.2-3.1 0.4-1.3 0.8-1.1 1.2-0.9 1.1-0.5 3.4 0.1 2.7-3.3 2.3-1.6 2.7-0.5 4.4 0.4 2-2.3 1.3-0.6 1.4-0.2 1.3 0.2 1.4 0.6 2 2.3 4.3-0.4 2.7 0.5 2.4 1.6 2.7 3.3 3.3-0.1 1.2 0.5 1.2 0.9 0.7 1.1 0.5 1.3-0.2 3.1 3.3 2.7 1.6 2.3 0.5 2.7-0.4 4.4 2.3 2 0.6 1.3 0.2 1.4-0.2 1.3-0.6 1.3-2.3 2 0.4 4.4-0.5 2.7-1.6 2.3-3.3 2.7 0.1 3.4-0.5 1.2-0.9 1.1-1.1 0.8-1.3 0.5-3-0.2-2.7 3.3-2.4 1.6-2.7 0.5-4.3-0.4-1.7 2-0.7 0.5-1.3 0.5-1.7 0M106.2 499.1l4.7-0.1 5-0.6 5-1.2 5.7-1.9 6.4-2.7 5.4-2.8 4.3-2.8 4.1-3.4 3.1-3.3 3.1-4.1 2.7-4.7 2.6-5.3 2.4-6.1 1.8-5.7 1-5 0.4-5-0.1-4.7-0.8-5.1-1.3-5-2-5.7-2.6-6.1-2.9-5.3-2.9-4.4-3.2-3.7-3.3-3.1-4.1-3-4.7-2.7-5.3-2.5-6.1-2.4-5.3-1.7-5.1-1-5-0.4-4.7 0.1-5.1 0.8-5 1.3-5.7 2-6 2.6-5.4 2.9-4.4 2.9-3.7 3.2-3.1 3.4-2.9 4-2.8 4.7-2.5 5.4-2.4 6-1.6 5.4-1.1 5-0.4 5 0.2 4.7 0.7 5.1 1.3 5 2 5.7 2.7 6.1 2.6 5 2.9 4.4 3.1 3.6 3.4 3.2 4 3 4.3 2.6 5.1 2.5 6 2.5 5.7 1.8 5.1 1.1 4.7 0.5M106.5 474.9l-1.3-0.8-1.4-1.5-0.7-0.3-4.3 0.5-2.7-0.4-2-1.4-3-3.8-3.4-0.1-1.2-0.6-1.1-1-1.1-2 0-3-3.7-3.1-1.5-2-0.4-2.7 0.6-4.3-0.4-0.7-1.3-1.1-0.7-0.9-0.5-1.3 0-1.4 0.6-2.1 1.9-1.9 0.4-0.7-0.6-4.3 0.4-2.7 1.5-2 3.7-3.1 0-3 0.4-1 1-1.4 1.3-0.9 1-0.4 3.1 0 3-3.8 2-1.4 2.7-0.4 4.3 0.5 0.7-0.3 1.1-1.3 0.9-0.7 1.4-0.5 1.3-0.1 2.1 0.6 1.9 2 0.7 0.3 4.4-0.5 2.7 0.4 2 1.4 3 3.8 3 0 1 0.4 1.4 1 1 1.3 0.3 1 0 3 3.8 3.1 1.4 2 0.5 2.7-0.6 4.3 0.4 0.7 1.2 1.1 0.7 0.9 0.5 1.3 0.1 1.4-0.6 2.1-1.9 1.9-0.4 0.7 0.6 4.3-0.5 2.7-1.4 2-3.8 3.1-0.1 3.3-0.6 1.3-1 1.1-2 1-3 0-3 3.8-1 0.8-1.4 0.7-2.7 0.3-4-0.5-0.7 0.3-1.3 1.5-1.3 0.8-1.7 0.3-1.7-0.3M103.8 496.1l4 0.3 4.4-0.3 4.4-0.8 4.7-1.3 7.7-3.1 6.7-3 4.7-2.7 3.7-2.9 2.7-2.7 2.7-3.4 2.3-3.7 2.2-4.3 3.3-7.7 2-5.7 1.2-4.7 0.6-4.7 0-4.1-0.5-4.3-1.1-4.4-1.6-4.7-3.1-7.7-2.6-5.4-2.7-4.3-3-3.7-2.8-2.7-3.3-2.6-3.7-2.2-4.4-2.1-7.3-3.1-5.4-1.9-4.7-1.2-4.7-0.6-4 0-4.4 0.5-4.4 1.1-4.7 1.6-7.7 3.2-5.4 2.5-4.3 2.7-3.7 3-2.7 2.8-2.5 3.3-2.2 3.7-2.2 4.4-3.1 7.4-1.9 5.3-1.2 4.7-0.6 4.7 0 4.1 0.5 4 0.9 4 1.6 4.7 3.1 7.7 2.5 5.4 2.6 4.4 2.8 3.7 2.7 2.6 2.7 2.3 3.4 2.2 3.7 2 6.3 2.8 6.8 2.6 4.6 1.5 4.4 0.8M107.2 475.3l-1.7-0.7-2.4-1.9-5 0.8-2.3-0.5-2.1-1.5-3-4-3.3-0.3-2-1.4-1.2-2-0.2-3-4-3-1.5-2-0.4-2.4 0.7-5-2.2-2.9-0.4-1.1 0-1.4 0.5-2 2.1-2.7-0.7-5 0.4-2.4 1.5-2 4-3 0.3-3.4 1.4-2 2-1.1 3-0.2 3-4 2.1-1.5 2.3-0.5 5 0.8 2.9-2.2 1.2-0.4 1.3-0.1 2 0.6 2.7 2.1 5-0.8 2.4 0.5 2 1.5 3 4 3.4 0.3 2 1.4 1.1 2 0.3 3 3.9 3 1.6 2 0.4 2.4-0.7 5 2.1 2.9 0.4 1.1 0.1 1.4-0.6 2-2 2.7 0.7 5-0.4 2.4-1.6 2-3.9 3-0.4 3.4-1.3 2-2.1 1.1-3 0.2-3.3 4.3-2 1.4-2.4 0.2-4.7-0.7-3 2.3-1.4 0.3-1.6 0M105.2 493.7l3.3 0.2 3.4-0.3 3.3-0.6 3.7-1.2 16.8-7 4-2.3 3.4-2.6 2.2-2.3 1.8-2.4 1.7-2.7 1.6-3.3 6.7-16.5 1.1-4.3 0.5-4-0.1-3.1-0.4-3.3-0.9-3.4-1.1-3.3-6.9-16.1-2.2-3.7-2.7-3.4-2.3-2.2-2.4-1.7-2.7-1.6-3.3-1.7-16.1-6.5-4.4-1.1-4-0.5-3 0.1-3.4 0.4-3.4 0.9-3.2 1.2-16.2 6.8-3.7 2.2-3.4 2.7-2.1 2.4-1.8 2.3-1.6 2.7-1.6 3.3-6.6 16.2-1.1 4.3-0.4 4 0 3.1 0.5 3.3 0.7 3 1.2 3.4 6.8 16.1 2.1 3.7 2.7 3.4 4.3 3.8 2.6 1.7 3.1 1.5 16.1 6.7 3.7 1.1 3.7 0.6M108.2 475.6l-2-0.4-3.1-2-5.3 0.9-2.4-0.4-1.7-1.2-3.3-4.6-3-0.5-2-1.3-1.2-1.9-0.5-3.1-4.6-3.3-1.3-1.7-0.4-2.3 0.9-5.4-1.9-3-0.4-2 0.4-2.1 1.9-3-0.9-5.4 0.4-2.3 1.3-1.7 4.6-3.3 0.5-3.1 1.2-1.9 2-1.3 3-0.5 3.3-4.6 1.7-1.2 2.4-0.4 5.3 0.9 3.1-2 2-0.4 2 0.4 3 2 5.4-0.9 2.3 0.4 1.7 1.2 3.4 4.6 3 0.5 2 1.3 1.2 1.9 0.5 3.1 4.6 3.3 1.3 1.7 0.4 2.3-1 5.4 2 3 0.4 2.1-0.4 2-2 3 1 5.4-0.4 2.3-1.3 1.7-4.6 3.3-0.5 3.1-1.2 1.9-2 1.3-3 0.5-3.4 4.6-1.7 1.2-2.3 0.4-5.4-0.9-3 2-2 0.4M107.8 491.7l5.1-0.5 4.3-1.4 8.6-4.2 7.5-2.5 3.1-1.3 3.3-2 2.6-2.2 3-3.7 2.3-4.4 2.9-8.5 3.4-6.9 1.4-3.4 1-4 0.2-3.3-0.2-3.4-1-4-1.4-3.4-3.4-6.9-2.9-8.5-2.3-4.4-3-3.7-2.6-2.2-3.3-2-3.1-1.3-7.5-2.5-8.6-4.2-4.3-1.4-4.7-0.5-3.4 0.3-4 0.9-3.4 1.4-6.8 3.5-8.6 2.9-4.4 2.2-3.7 3-2.2 2.6-2 3.4-1.3 3-2.5 7.5-4.2 8.6-1.4 4.4-0.5 4.7 0.5 4.6 1.4 4.4 4.2 8.6 2.5 7.5 1.3 3 2 3.4 2.2 2.6 3.7 3 4.4 2.2 8.6 2.9 6.8 3.5 3.4 1.4 4 0.9 3 0.3M107.2 475.6l-1.4-0.4-2.3-1.5-3 0.3-3.4 0.9-1.3-0.1-1.3-0.6-1.1-1-1.5-2.7-1.7-2.3-3.5-1-1.7-1.2-1-1.8-0.5-2.4-0.4-0.7-2.1-1.5-2.7-1.5-1-1-0.6-1.3-0.1-1.4 0.9-3.3 0.4-3.1-1.6-2.4-0.5-2.2 0.5-2.3 1.6-2.8-0.4-2.7-0.9-2.9 0-1.4 0.4-1.1 0.9-1.3 3.1-1.8 2.3-1.7 0.7-2.9 1.2-2 0.8-0.7 1.3-0.6 2.9-0.7 1.7-2.3 1.5-2.7 1.7-1.4 1.1-0.3 1.2 0 3.1 0.9 2.6 0.4 3.1-1.7 2.3-0.4 1.9 0.5 2.8 1.6 2.7-0.4 3-0.9 1.4 0 1 0.3 1.3 1 1.8 3.1 1.8 2.3 2.8 0.7 2 1.2 0.7 0.8 0.6 1.3 0.7 2.9 2.4 1.7 2.6 1.5 1.4 1.7 0.3 1.1 0 1.2-0.8 3-0.5 2.7 1.7 3 0.4 2.4-0.4 1.9-1.7 2.8 0.5 2.7 0.8 2.9 0 1.4-0.3 1.1-1 1.3-3 1.8-2.4 1.7-0.7 2.9-1.2 2-0.8 0.7-1.3 0.6-2.8 0.7-1.8 2.3-1.5 2.7-1 1-1.3 0.6-1.3 0.1-6.1-1.3-3.7 2-2.3 0M104.8 490l2.4 0.3 2.7-0.1 2.6-0.4 2.4-0.7 3.2-1.4 6.9-4 7.3-2 3.4-1.2 2.7-1.5 2.3-1.8 2.7-3 2.1-3.7 1.1-3 1.9-7.4 4-6.8 1.4-3.2 0.8-2.7 0.4-3-0.3-4.4-1.1-4-1.3-2.7-3.9-6.7-1.9-7.4-1.3-3.4-1.7-3-1.9-2.3-3-2.6-3.7-2-2.7-0.9-7.3-2-6.9-4-3.2-1.4-2.7-0.8-3-0.4-4.4 0.3-4 1.2-2.7 1.2-6.7 3.9-7.4 2-3.3 1.2-3.1 1.7-2.3 1.9-2.5 3-2.1 3.7-0.9 2.7-1.9 7.4-4 6.8-1.5 3.2-0.8 2.7-0.4 3 0.3 4.1 1 4 1.4 2.9 4 6.8 1.9 7.4 1.2 3.4 1.5 2.7 1.9 2.3 2.9 2.6 3.4 2 3.3 1.2 7.3 1.9 8.3 4.7 2.5 1 2.7 0.7M95.8 475.6l-1.4-0.5-1-0.9-1.6-3.3-1.7-2.4-3.1-1-2-1.3-1-1.7-0.7-2.6-0.3-0.5-2.3-1.6-2.9-1.3-0.8-0.7-0.8-1-0.3-1 0.1-1.4 1.1-3.3 0.5-2.7-0.2-0.7-1.5-2.7-0.2-2 0.3-1.4 1.4-2.6 0.2-0.7-0.5-2.7-1.1-3-0.1-1.3 0.2-1 0.6-1 0.9-0.9 3.1-1.5 2.3-1.6 0.3-0.5 0.7-2.6 1-1.7 2-1.3 3.1-1 1.7-2.4 1.4-3 0.9-1 1-0.5 1-0.2 1.3 0.1 3.1 1.1 2.6 0.5 0.7-0.2 2.7-1.5 1.3-0.2 2.1 0.2 2.6 1.5 0.7 0.2 2.7-0.5 3-1.1 1.4-0.1 1 0.2 1 0.5 0.9 1 1.4 3 1.7 2.4 3.1 1 1.9 1.3 1.1 1.7 0.6 2.6 0.3 0.5 2.4 1.6 3 1.5 1 0.9 0.5 1 0.2 1-0.1 1.3-1.1 3-0.4 2.7 0.1 0.7 1.5 2.6 0.3 1.4-0.3 2-1.5 2.7-0.1 0.7 0.4 2.7 1.1 3 0.1 1.3-0.2 1-0.5 1-1 0.9-3 1.5-2.4 1.7-1 3-1.3 2-1.7 1-2.5 0.7-0.6 0.3-1.6 2.4-1.3 2.8-0.7 0.9-1 0.7-1 0.3-1.3 0-3.4-1.2-2.7-0.5-0.7 0.2-2.6 1.5-2.1 0.2-1.3-0.2-2.7-1.5-0.7-0.2-2.6 0.5-3.1 1.1-1.6 0.1M106.8 489l3.7-0.1 3.7-0.9 3.4-1.7 4.7-3.6 1.6-0.9 2.1-0.6 5.3-0.8 2.7-0.7 3.4-1.6 2.9-2.2 2.2-2.7 1.7-3 1-3.4 1.3-7.3 0.8-1.7 3.3-4.4 1.6-2.7 1.2-3.3 0.5-3.7-0.3-3.4-1-3.3-1.5-3-3.5-4.7-1-1.7-0.6-2-0.7-5.4-0.9-3-1.6-3.4-2.2-2.7-2.6-2.1-3-1.6-3.3-1.1-7.4-1.2-1.7-0.9-4.4-3.3-2.6-1.6-3.4-1.2-3.7-0.5-3.3 0.3-3.4 1-3 1.5-4.7 3.6-1.7 0.9-2 0.6-5.4 0.8-3 0.8-3.4 1.7-2.6 2.1-2.2 2.6-1.6 3-1.1 3.4-1.2 7.3-0.9 1.7-3.3 4.4-1.5 2.7-1.3 3.3-0.4 3.7 0.2 3.4 1 3.3 1.6 3 3.5 4.7 1 1.7 0.5 2 0.8 5.4 0.7 2.7 1.6 3.3 2.2 3 2.5 2.1 2.9 1.6 3.7 1.2 7.4 1.2 1.6 0.9 4.2 3.1 2.6 1.6 3 1.2 3.3 0.6M94.4 476.2l-1.4-1.3-1.6-4-1.7-2.4-2.7-0.8-1.4-0.9-1.4-1.6-1.2-3.4-2.4-1.7-4-1.5-1.3-1.5-0.3-1 0.1-1.3 1.7-3.7 0.5-2.7-0.1-0.7-1.4-2.7-0.2-2.3 0.5-1.7 1.2-2.3-0.5-3.1-1.7-3.7-0.1-1.3 0.3-1 1.3-1.5 4-1.5 2.4-1.7 0.9-2.7 0.8-1.4 1.7-1.4 3.3-1.2 1.7-2.4 1.6-4 1.4-1.3 1-0.3 1.4 0.1 3.7 1.7 3 0.5 2.3-1.2 1.7-0.5 2.4 0.2 2.6 1.4 0.7 0.1 2.7-0.5 3.7-1.7 1.3-0.1 1 0.3 1.5 1.3 1.6 4 1.6 2.4 3.4 1.2 1.7 1.4 0.8 1.4 0.9 2.7 2.3 1.7 4 1.5 1.4 1.5 0.2 1-0.1 1.3-1.7 3.7-0.5 3.1 1.3 2.3 0.4 1.7-0.2 2.3-1.4 2.7-0.1 0.7 0.5 2.7 1.7 3.7 0.1 1.3-0.2 1-1.4 1.5-4 1.5-2.3 1.7-1.2 3.4-1.4 1.6-1.5 0.9-2.7 0.8-1.6 2.4-1.6 4-1.5 1.3-1 0.3-1.3-0.1-3.7-1.7-3-0.5-2.4 1.2-1.7 0.5-2.3-0.2-2.7-1.4-0.7-0.1-2.6 0.5-3.7 1.7-1.4 0.1-1-0.3M105.2 487.7l2.3 0.3 2.7-0.2 2.7-0.6 2.3-1 2.5-1.6 2.1-2 1.8-2.3 0.4-1.4-6.1-3.8-3-0.6-2.7 1.2-1.7 0.4-2-0.3-3-1.3-2.7 0.5-6.2 3.6-0.3 0.7 0.6 1.3 1.3 1.7 1.7 1.7 3.6 2.4 3.7 1.3M86 479.3l4.4-0.1 1.7-0.4 0.7-0.5-1.8-7.4-1.6-2.3-2.7-1-1.7-1.1-0.9-1.3-1.1-2.9-0.5-0.5-2.2-1.5-7-1.6-0.6 0.8-0.4 1.6-0.1 4.1 0.7 3.7 1.6 3.3 2.1 2.7 2.7 2.1 3 1.5 3.7 0.8M126.6 479.3l4.1-0.1 3.7-0.9 3.3-1.7 3-2.8 2.2-3.6 1.1-3.7 0.2-2.3-0.1-2.4-0.3-1.9-0.6-1.1-0.8-0.1-6.6 1.8-2.3 1.6-1 2.7-1.2 1.7-1.3 1-2.9 1-0.4 0.4-1.5 2.3-1.7 6.7 0.1 0.4 0.7 0.5 2.3 0.5M72.3 457.2l0.6-0.3 3.4-5.5 0.7-3.4-1.2-2.6-0.3-1.7 0.2-2 1.3-3-0.4-2.7-3.7-6.2-0.6-0.3-1.4 0.6-2 1.6-1.7 1.7-1.3 1.9-1.1 2-0.7 2-0.6 4.1 0.6 4 0.7 2 1.1 2 1.3 1.9 1.7 1.7 2 1.6 1.4 0.6M143.8 457.2l1-0.2 2-1.4 1.6-1.6 1.7-2.1 1.9-3.9 0.6-2 0.2-2.3-0.1-2.4-0.5-2-0.7-2-1-2-1.4-1.9-1.7-1.7-2-1.6-1.3-0.6-0.7 0.3-3.3 5.5-0.8 3.4 1.2 2.6 0.4 1.7-0.3 2-1.3 3 0.5 2.7 4 6.5M73.3 428l7.4-1.8 2.2-1.6 1-2.7 1.2-1.7 1.3-1 2.8-1 0.4-0.4 1.7-2.6 1.5-6.1 0-0.7-0.3-0.3-1.8-0.5-2.3-0.3-2.4 0.1-2.3 0.4-2 0.7-2.1 1-1.6 1.1-1.7 1.5-1.4 1.7-1.1 2-1.4 4.1-0.2 2.3 0 2.7 0.4 2 0.7 1.1M142.4 428l0.7 0 0.3-0.3 0.5-1.5 0.3-2.7-0.2-3-0.5-2.3-0.9-2.4-1.2-2-1.3-1.7-1.7-1.5-1.7-1.1-2-1-2-0.7-2.4-0.4-2.3-0.1-2.4 0.3-1.7 0.5-0.3 0.3 0 0.7 1.4 6.1 1.7 2.6 0.4 0.4 2.9 1 1.3 1 1.2 1.7 1 2.7 2.2 1.6 6.7 1.8M103.1 412.2l0.7-0.1 2.4-1.1 1.6-0.4 2.1 0.3 3 1.3 2.7-0.5 6.1-3.6 0.3-0.7-0.8-1.6-2-2.4-2.3-1.9-2.3-1.3-2.4-0.9-2.7-0.5-2.7 0-2.3 0.4-3 1.1-3.1 2-2.7 2.8-1.4 2.3 0.3 0.7 5.5 3.4 3 0.7M107.5 487l2.4-0.1 2.3-0.5 2.4-1 2.1-1.4 1.7-1.7 0.9-1.7 0-1.3-0.8-1.4-2.6-2.4-3-0.7-3 1.1-1.4 0.3-1.7-0.2-3.3-1.2-2.7 0.5-0.9 0.6-2.1 2-0.6 1-0.2 1.4 0.8 1.6 1.6 1.9 2.4 1.6 2.7 1.1 3 0.5M84.3 477.9l2.1 0.3 1.6-0.2 1.4-0.3 1-0.7 0.4-0.8 0.3-1.3-0.3-3.7-1.6-2.3-2.8-1.3-1.5-1.1-1-1.3-1.2-2.9-2.3-1.5-0.8-0.3-2.3-0.1-2.4 0.5-0.7 0.6-0.5 1-0.3 2.7 0.4 3 1.2 3 1.7 2.4 2.3 2 2.7 1.5 2.6 0.8M128 478l3 0.1 3.4-0.8 3-1.7 2.6-2.4 1.8-3 1.1-3.7-0.1-3.3-0.4-1.2-0.7-0.9-0.6-0.4-1.4-0.2-3.7 0.2-2.3 1.6-1.3 2.9-1.1 1.4-1.3 1-2.9 1.3-1.7 2.6-0.1 3.7 0.7 1.8 0.8 0.6 1.2 0.4M70.9 454.4l1 0.1 1-0.3 2.4-2.2 0.9-1.3 0.5-2.7-1.1-3-0.2-1.3 0.2-2 1.1-2.7-0.5-3-0.6-0.9-2-2.1-1.7-0.8-1 0.1-1.3 0.6-1.4 1.2-1.3 1.5-1.7 3.4-0.7 3.7 0.4 3.7 1.2 3.3 2.1 2.9 1.4 1.2 1.3 0.6M144.1 454.5l1 0 1.3-0.5 1.7-1.4 1.3-1.5 1-1.7 0.8-2 0.6-3.7-0.4-3.7-1.5-3.7-2.5-2.9-1.3-0.9-1.3-0.4-1.7 0.6-2.6 2.6-0.4 0.7-0.5 2.7 1.2 3 0.2 1.3-0.2 2-1.2 2.7 0.5 3 2.3 2.7 1.7 1.1M76.6 426.2l3.4-0.1 2.3-1.4 0.7-0.8 1.1-2.7 0.9-1.1 1.4-1 2.8-1.3 1.6-2.3 0.2-0.7 0-3.7-0.3-1-0.6-0.6-1.4-0.7-1.7-0.2-2 0-2 0.5-2 0.8-1.7 0.9-2.9 2.7-1.4 2-0.9 2-0.6 2.4-0.1 2 0.2 2 0.6 1.3 1.1 0.8 1.3 0.2M138 426.2l2.1 0 1.3-0.4 0.9-0.9 0.5-1.4 0.2-2.3-0.4-2.4-0.8-2.3-1.3-2.3-1.4-1.7-1.7-1.4-1.7-1.1-2-0.8-2.4-0.6-2 0-1.7 0.2-1.3 0.6-0.6 0.7-0.3 1-0.1 3.4 0.2 1 1.4 2 0.7 0.7 2.7 1.1 1.1 0.9 1 1.3 0.9 2.4 0.6 0.7 2.1 1.4 2 0.2M103.1 411.9l0.7 0 2.4-1 1.6-0.4 2.1 0.3 2.6 1.1 3.1-0.5 1.6-1.3 1.8-2 0.4-1-0.3-1.3-1-1.7-1.5-1.5-2-1.3-2.1-0.9-2.3-0.6-2.4-0.1-2.3 0.3-2 0.5-2.5 1.2-2.1 1.7-1.4 1.7-0.5 1.7 0.6 1.6 2.3 2.4 0.9 0.6 2.3 0.5M106.2 486l2.6 0.1 2.7-0.4 2.7-1.1 2.2-1.6 1.2-1.7 0.4-1.7-0.5-1.7-1.3-1.7-1-0.6-2.7-0.5-2.6 1-1.4 0.2-2-0.2-2.7-1-2.7 0.5-1 0.6-1 1.4-0.7 1.3 0 1.4 0.5 1.3 1.2 1.5 1.7 1.3 2 1 2.4 0.6M84 476.9l3 0.2 1.4-0.4 1-0.6 0.6-0.9 0.4-1.2 0.2-1.8-0.2-1-1.6-2.3-2.8-1.3-1.2-1.1-0.8-1-1-2.2-0.7-0.9-2.7-1.5-2 0.2-1.3 0.4-1.3 1.3-0.6 2 0.2 2.7 1.1 3 1.5 2.4 1.8 1.7 2.3 1.4 2.7 0.9M128.6 477l2.7 0.1 3.1-0.8 2.6-1.5 2.4-2.3 1.8-3 0.7-3 0-1.7-0.2-1.3-0.5-1-0.7-0.7-2.1-0.8-1.7-0.1-0.7 0.2-2.3 1.6-1.3 2.8-1.1 1.3-1 0.8-2.2 0.9-0.9 0.7-1.4 2.3 0.1 2.4 0.9 2 0.8 0.7 1 0.4M71.3 453.2l1 0 1-0.4 2-1.4 0.6-1 0.6-2.7-1.1-2.7-0.2-1.3 0.2-2 1.1-2.7-0.6-2.7-0.3-0.7-1.3-1.1-1.4-0.8-1-0.2-1.3 0.2-1 0.6-2.2 2.3-1.5 3.1-0.5 3.3 0.3 3.4 1.2 3 2 2.5 1.3 0.9 1.1 0.4M143.8 453.1l1 0.1 1.3-0.4 1.3-0.9 1-1.1 1.8-3.1 0.8-3.7-0.3-3.3-1.3-3.4-1-1.4-1.3-1.4-1.3-0.8-1-0.2-1.7 0.4-2 1.4-0.5 0.7-0.7 2.7 1.2 4.3-0.2 2-1 2.7 0.5 2.7 0.4 0.7 0.9 0.9 2.1 1.1M77.6 425.6l2.4 0.1 2.3-1.4 0.7-0.9 1-2.2 0.8-1 0.9-0.8 3-1.5 0.4-0.4 1.3-2 0.2-1-0.5-2.7-1.1-1.5-1.2-0.5-1.4-0.2-1.7 0-2 0.5-3.4 1.8-2.6 2.6-1 1.7-0.9 2-0.4 2 0 1.7 0.4 1.6 0.6 1.1 1 0.6 1.2 0.4M136.4 425.7l1.6 0 1.9-0.5 1-0.6 0.7-1.1 0.3-1.6 0-2-0.5-2.1-0.9-2-1.1-1.6-1.4-1.5-1.6-1.3-1.7-0.9-1.7-0.6-2-0.3-2 0.1-1.4 0.4-1 0.9-0.5 1.1-0.3 2.1 0.2 1.3 1.5 2.3 2.8 1.3 1.4 1.2 1 1.6 1 2.1 2.7 1.7M103.1 411.5l1 0.1 2.4-1 1.3-0.2 2.1 0.2 2.6 1 3.1-0.6 1.2-1.2 1-1.7 0.2-1-0.2-1.3-0.8-1.4-1.4-1.4-1.7-1.1-2-0.8-2-0.4-2.1-0.2-2 0.3-2 0.5-2 1-1.8 1.4-1.3 1.7-0.4 1.4 0.4 1.6 1.4 2.1 0.7 0.5 2.3 0.5M106.5 485l2.3 0.1 2.4-0.4 2-0.8 1.8-1.3 1.1-1.3 0.6-1.7-0.3-1.7-0.7-1.3-0.5-0.4-2.7-0.7-4.3 1-4.4-1-3 1-0.7 1.1-0.4 1.3 0.1 1.4 0.7 1.3 1 1.1 1.6 1.2 3.4 1.1M85 475.9l2-0.1 1.7-1 1.1-1.9 0.2-1-0.3-0.7-1.5-2.3-2.2-1.1-1.5-1.3-2.2-3.5-2.7-1.5-2 0.6-1.4 1.4-0.6 1.7 0.1 2.3 1 2.7 1.6 2.3 2 1.7 2.4 1.2 2.3 0.5M130.3 475.9l2.4-0.2 2.7-1 2.3-1.8 1.6-2 1.1-2.4 0.4-2.7-0.5-2-1.2-1.5-1.1-0.5-1.3-0.3-2.3 1.3-0.7 0.5-1.1 2.2-0.9 1.2-1.4 1.1-2.2 1.1-0.5 0.6-1.2 2 0 0.7 0.4 1.4 0.5 0.9 0.8 0.7 2.2 0.7M71.6 451.8l1.7-0.1 1.6-0.9 0.4-0.4 0.7-2.7-1-4 0.1-1.4 0.9-3-0.6-2.7-0.3-0.6-0.8-0.6-2-0.6-2.1 0.6-1.9 1.9-1.4 2.7-0.5 3 0.4 3 1 2.7 1.8 2.1 2 1M143.4 451.8l1.4 0 1-0.3 2-1.7 1.5-2.8 0.6-3-0.2-3-1.2-3-1.7-2.1-1-0.7-1.4-0.3-1.7 0.2-1.4 0.9-1 3 1 4.4-0.3 2-0.6 1.6 0 1.1 0.7 2.4 1 0.8 1.3 0.5M78.6 425l1.4 0.1 2.3-1.4 1.4-2.5 1-1.2 1.3-1.1 2.6-1.4 1.4-2.7-0.6-2-1-1.2-1-0.6-1.4-0.2-1.7 0.1-1.6 0.4-2.9 1.5-2.3 2.4-1.5 3-0.4 1.7 0 1.6 0.4 1.4 0.6 0.9 1 0.8 1 0.4M136 424.9l1 0.2 1.8-0.5 0.9-0.8 0.8-1.3 0.2-1.3 0-1.7-0.5-1.7-0.7-1.6-2.2-2.7-2.9-2-1.7-0.5-1.7-0.2-1.3 0.1-1.4 0.5-0.9 0.7-0.6 1-0.4 1.4 0.2 1 1.5 2.3 2.2 1.1 1.6 1.3 1.9 3.3 2.2 1.4M103.5 411.1l1 0 1.7-0.6 1.6-0.3 1.4 0.1 3 0.9 3-0.7 0.7-0.7 0.6-1.4 0.2-1.3-0.3-1-0.8-1.3-1-1.1-1.7-1-1.7-0.7-1.7-0.3-2-0.1-3.4 0.8-1.6 0.8-1.5 1.2-0.9 1.4-0.4 1.3 0.2 1.7 0.9 1.4 2.7 0.9M106.5 483.3l1.7 0.2 1.7-0.2 1.6-0.5 1.4-0.7 1-0.9 0.8-1.3 0.3-1.3-0.2-1-0.6-0.5-2.7-0.8-3.3 0.5-3.7-0.5-2.7 1-0.3 0.6-0.1 1 0.3 1 0.6 1 1.8 1.6 2.4 0.8M83.7 474l1.7 0.1 1.6-0.3 1.4-1.1 0.2-0.5 0-0.7-1.2-2.3-2.7-2-2.4-3.1-2.3-1.2-0.7 0-1.2 0.9-0.6 1.4-0.1 1.6 0.5 2.1 0.9 1.6 1.5 1.7 1.7 1.1 1.7 0.7M129.7 473.9l2 0.2 2-0.5 2-1.1 1.7-1.7 1.2-2.3 0.4-2-0.4-2-1.1-1.3-0.8-0.4-2.7 1.3-2.3 3.1-2.8 2-1.1 2.3-0.1 0.7 0.8 1 1.2 0.7M72.3 450.1l1.3 0 0.6-0.4 1-2.7-0.5-3.6 0.5-3.7-0.9-2.7-1-0.4-1.7 0.2-1.7 1.3-1.2 1.9-0.6 2.7 0.1 2.3 0.8 2.4 1.6 1.9 1.7 0.8M142.7 450.1l1.1 0 1-0.2 1.6-1.3 1.2-1.9 0.7-2.7-0.2-2.7-1-2.3-1.5-1.7-1.8-0.7-1.1 0-0.6 0.4-1 2.7 0.5 3.7-0.5 3.6 1 2.7 0.6 0.4M79 423.7l1 0.1 2.3-1.2 2.4-3.1 2.7-2 1.3-2.7-0.7-1.2-1.6-0.9-2.4 0-2.3 0.8-2.1 1.7-1.6 2.3-0.6 2.4 0.4 2.3 1.2 1.5M136 423.6l0.7 0.3 1-0.5 0.7-0.9 0.5-1.3-0.1-2.4-1.2-2.6-1.9-2-2.4-1.3-2.6-0.3-2.1 0.7-0.7 0.9-0.2 0.6 1.2 2.7 2.8 2 2.3 3.1 2 1M103.8 410.2l1 0.2 3.4-0.5 3.3 0.5 0.7-0.1 2.4-0.9 0.4-1-0.2-1.3-1.3-1.9-2-1.3-2.7-0.7-3 0.3-1.3 0.5-1.4 0.9-1 1-0.6 1.2-0.1 1 0.2 1 0.3 0.4 1.9 0.7"/>
<g fill="none" stroke="#e8e8f0" stroke-opacity=".3" stroke-width=".5"><circle cx="136.4" cy="443.4" r="3.8"/><circle cx="128.1" cy="423.4" r="3.8"/><circle cx="108.2" cy="415.2" r="3.8"/><circle cx="88.2" cy="423.4" r="3.8"/><circle cx="80.0" cy="443.4" r="3.8"/><circle cx="88.2" cy="463.3" r="3.8"/><circle cx="108.2" cy="471.5" r="3.8"/><circle cx="128.1" cy="463.3" r="3.8"/></g>
</g>
<circle cx="108.17" cy="443.35" r="67.30" fill="none" stroke="#333" stroke-width=".5"/>
<rect x="32.75" y="369.10" width="150.85" height="148.50" fill="none" stroke="#7c7c7c" stroke-width=".95"/>
<path d="M32.75 510.48h1.8M183.60 510.48h-1.8M32.75 497.05h1.8M183.60 497.05h-1.8M32.75 483.62h1.8M183.60 483.62h-1.8M32.75 470.20h1.8M183.60 470.20h-1.8M32.75 456.78h1.8M183.60 456.78h-1.8M32.75 443.35h1.8M183.60 443.35h-1.8M32.75 429.93h1.8M183.60 429.93h-1.8M32.75 416.50h1.8M183.60 416.50h-1.8M32.75 403.08h1.8M183.60 403.08h-1.8M32.75 389.65h1.8M183.60 389.65h-1.8M32.75 376.23h1.8M183.60 376.23h-1.8M54.47 369.10v1.8M54.47 517.60v-1.8M108.17 369.10v1.8M108.17 517.60v-1.8M161.88 369.10v1.8M161.88 517.60v-1.8" stroke="#777" stroke-width=".7" fill="none"/>
<g class="t">
<text x="4.1" y="373.6">mm</text>
<text x="31.1" y="514.2" text-anchor="end">-25</text>
<text x="31.1" y="500.8" text-anchor="end">-20</text>
<text x="31.1" y="487.3" text-anchor="end">-15</text>
<text x="31.1" y="473.9" text-anchor="end">-10</text>
<text x="31.1" y="460.5" text-anchor="end">-5</text>
<text x="31.1" y="447.1" text-anchor="end">0</text>
<text x="31.1" y="433.6" text-anchor="end">5</text>
<text x="31.1" y="420.2" text-anchor="end">10</text>
<text x="31.1" y="406.8" text-anchor="end">15</text>
<text x="31.1" y="393.4" text-anchor="end">20</text>
<text x="54.8" y="528.3" text-anchor="middle">-20</text>
<text x="108.2" y="528.3" text-anchor="middle">0</text>
<text x="156.9" y="528.3" textLength="27" lengthAdjust="spacingAndGlyphs">20 mm</text>
<rect x="191.30" y="388.40" width="5.90" height="124.80" fill="url(#jet)"/>
<text x="199.8" y="398.9">0.07</text>
<text x="199.8" y="415.8">0.06</text>
<text x="199.8" y="432.6">0.05</text>
<text x="199.8" y="449.5">0.04</text>
<text x="199.8" y="466.4">0.03</text>
<text x="199.8" y="483.2">0.02</text>
<text x="199.8" y="500.1">0.01</text>
</g>
<text class="cap" x="59.7" y="543.2" textLength="111.5" lengthAdjust="spacingAndGlyphs">(<tspan font-weight="bold">k</tspan>) CICC (8 strands)</text>
</g>
</svg>
</body></html>
